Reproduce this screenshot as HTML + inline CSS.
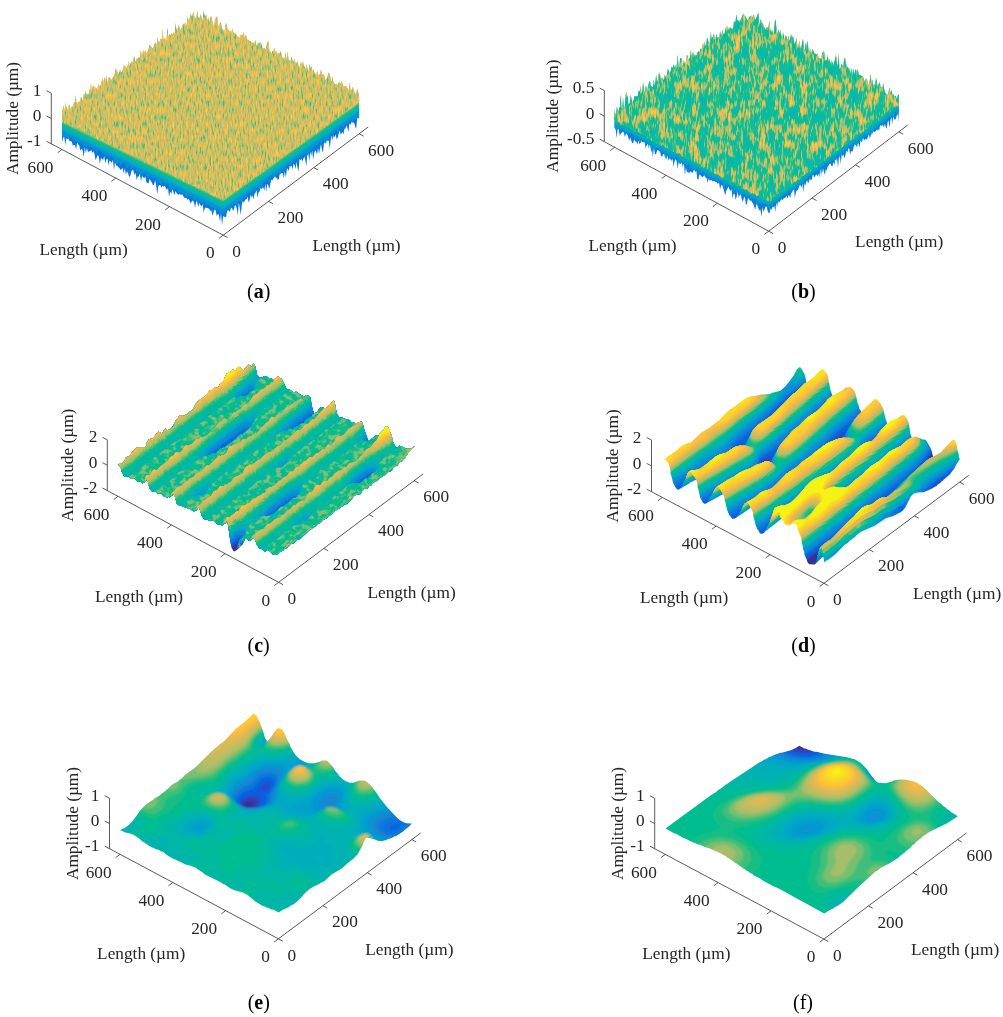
<!DOCTYPE html>
<html><head><meta charset="utf-8"><title>Surface topographies</title>
<style>html,body{margin:0;padding:0;background:#fff;overflow:hidden}svg{display:block}text{font-family:"Liberation Serif",serif}</style>
</head><body>
<svg width="1003" height="1017" viewBox="0 0 1003 1017">
<rect width="1003" height="1017" fill="#fff"/>
<g id="pa">
<path d="M368.2 127.0L223.2 235.2L51.3 143.8L51.3 93.2M223.2 235.2L218.9 238.4M223.2 235.2L227.6 237.5M169.5 206.6L165.2 209.9M268.5 201.4L272.9 203.7M115.8 178.1L111.4 181.3M313.8 167.6L318.2 169.9M62.0 149.5L57.7 152.7M359.1 133.8L363.6 136.1M51.3 93.2L46.5 90.7M51.3 118.5L46.5 116.0M51.3 143.8L46.5 141.3" fill="none" stroke="#262626" stroke-width=".75"/>
<g font-size="17.3" fill="#262626"><text x="214.7" y="258.4" text-anchor="end">0</text><text x="232.2" y="256.9">0</text><text x="161.0" y="229.8" text-anchor="end">200</text><text x="277.5" y="223.1">200</text><text x="107.3" y="201.3" text-anchor="end">400</text><text x="322.8" y="189.3">400</text><text x="53.5" y="172.7" text-anchor="end">600</text><text x="368.1" y="155.5">600</text><text x="41.3" y="95.8" text-anchor="end">1</text><text x="41.3" y="121.1" text-anchor="end">0</text><text x="41.3" y="146.4" text-anchor="end">-1</text><text x="83.6" y="254.9" text-anchor="middle">Length (µm)</text><text x="356.5" y="251.2" text-anchor="middle">Length (µm)</text><text transform="translate(18.4 118.5) rotate(-90)" text-anchor="middle">Amplitude (µm)</text></g>
<text x="258.7" y="297.7" text-anchor="middle" font-size="20" fill="#000">(<tspan font-weight="bold">a</tspan>)</text>
<filter id="fa" x="0" y="0" width="1" height="1" color-interpolation-filters="sRGB"><feTurbulence type="fractalNoise" baseFrequency=".6 .14" numOctaves="2" seed="7"/><feColorMatrix values="1.8 0 0 0 -0.4 1.8 0 0 0 -0.4 1.8 0 0 0 -0.4 0 0 0 0 1"/><feComponentTransfer><feFuncR type="table" tableValues=".23 .38 .54 .66 .74 .81 .88 .95 .98 1 .99"/><feFuncG type="table" tableValues=".76 .76 .76 .76 .75 .75 .74 .74 .75 .78 .81"/><feFuncB type="table" tableValues=".51 .49 .47 .44 .42 .39 .36 .32 .29 .26 .23"/></feComponentTransfer></filter><polygon fill="#0f77db" points="62,129.8 63.1,130.3 64.2,130.8 65.3,131.4 66.4,131.9 67.5,132.4 68.5,132.9 69.6,133.5 70.7,134 71.8,134.5 72.9,135.1 73.9,135.6 75,136.1 76.1,136.6 77.2,137.2 78.3,137.7 79.3,138.2 80.4,138.7 81.5,139.3 82.6,139.8 83.7,140.3 84.8,140.9 85.8,141.4 86.9,141.9 88,142.4 89.1,143 90.2,143.5 91.2,144 92.3,144.5 93.4,145.1 94.5,145.6 95.6,146.1 96.7,146.7 97.7,147.2 98.8,147.7 99.9,148.2 101,148.8 102.1,149.3 103.1,149.8 104.2,150.4 105.3,150.9 106.4,151.4 107.5,151.9 108.6,152.5 109.6,153 110.7,153.5 111.8,154 112.9,154.6 114,155.1 115,155.6 116.1,156.2 117.2,156.7 118.3,157.2 119.4,157.7 120.4,158.3 121.5,158.8 122.6,159.3 123.7,159.8 124.8,160.4 125.9,160.9 126.9,161.4 128,162 129.1,162.5 130.2,163 131.3,163.5 132.3,164.1 133.4,164.6 134.5,165.1 135.6,165.7 136.7,166.2 137.8,166.7 138.8,167.2 139.9,167.8 141,168.3 142.1,168.8 143.2,169.3 144.2,169.9 145.3,170.4 146.4,170.9 147.5,171.5 148.6,172 149.7,172.5 150.7,173 151.8,173.6 152.9,174.1 154,174.6 155.1,175.1 156.1,175.7 157.2,176.2 158.3,176.7 159.4,177.3 160.5,177.8 161.5,178.3 162.6,178.8 163.7,179.4 164.8,179.9 165.9,180.4 167,180.9 168,181.5 169.1,182 170.2,182.5 171.3,183.1 172.4,183.6 173.4,184.1 174.5,184.6 175.6,185.2 176.7,185.7 177.8,186.2 178.9,186.8 179.9,187.3 181,187.8 182.1,188.3 183.2,188.9 184.3,189.4 185.3,189.9 186.4,190.4 187.5,191 188.6,191.5 189.7,192 190.8,192.6 191.8,193.1 192.9,193.6 194,194.1 195.1,194.7 196.2,195.2 197.2,195.7 198.3,196.2 199.4,196.8 200.5,197.3 201.6,197.8 202.6,198.4 203.7,198.9 204.8,199.4 205.9,199.9 207,200.5 208.1,201 209.1,201.5 210.2,202.1 211.3,202.6 212.4,203.1 213.5,203.6 214.5,204.2 215.6,204.7 216.7,205.2 217.8,205.7 218.9,206.3 220,206.8 221,207.3 222.1,207.9 223.2,208.4 224.2,207.7 225.2,207 226.1,206.3 227.1,205.6 228.1,204.9 229.1,204.2 230,203.5 231,202.8 232,202.1 233,201.4 234,200.7 234.9,200 235.9,199.2 236.9,198.5 237.9,197.8 238.8,197.1 239.8,196.4 240.8,195.7 241.8,195 242.8,194.3 243.7,193.6 244.7,192.9 245.7,192.2 246.7,191.5 247.6,190.8 248.6,190.1 249.6,189.4 250.6,188.7 251.6,188 252.5,187.3 253.5,186.6 254.5,185.9 255.5,185.2 256.5,184.5 257.4,183.8 258.4,183.1 259.4,182.4 260.4,181.7 261.3,181 262.3,180.3 263.3,179.6 264.3,178.9 265.3,178.2 266.2,177.5 267.2,176.8 268.2,176.1 269.2,175.4 270.1,174.7 271.1,174 272.1,173.3 273.1,172.6 274.1,171.9 275,171.2 276,170.4 277,169.7 278,169 278.9,168.3 279.9,167.6 280.9,166.9 281.9,166.2 282.9,165.5 283.8,164.8 284.8,164.1 285.8,163.4 286.8,162.7 287.7,162 288.7,161.3 289.7,160.6 290.7,159.9 291.7,159.2 292.6,158.5 293.6,157.8 294.6,157.1 295.6,156.4 296.5,155.7 297.5,155 298.5,154.3 299.5,153.6 300.5,152.9 301.4,152.2 302.4,151.5 303.4,150.8 304.4,150.1 305.3,149.4 306.3,148.7 307.3,148 308.3,147.3 309.3,146.6 310.2,145.9 311.2,145.2 312.2,144.5 313.2,143.8 314.2,143.1 315.1,142.4 316.1,141.6 317.1,140.9 318.1,140.2 319,139.5 320,138.8 321,138.1 322,137.4 323,136.7 323.9,136 324.9,135.3 325.9,134.6 326.9,133.9 327.8,133.2 328.8,132.5 329.8,131.8 330.8,131.1 331.8,130.4 332.7,129.7 333.7,129 334.7,128.3 335.7,127.6 336.6,126.9 337.6,126.2 338.6,125.5 339.6,124.8 340.6,124.1 341.5,123.4 342.5,122.7 343.5,122 344.5,121.3 345.4,120.6 346.4,119.9 347.4,119.2 348.4,118.5 349.4,117.8 350.3,117.1 351.3,116.4 352.3,115.7 353.3,115 354.2,114.3 355.2,113.5 356.2,112.8 357.2,112.1 358.2,111.4 359.1,110.7 359.1,117.1 358.2,116.6 357.2,118.2 356.2,128.5 355.2,127 354.2,123.1 353.3,122.8 352.3,120.9 351.3,122.7 350.3,125 349.4,123.2 348.4,132 347.4,128.3 346.4,125.3 345.4,128.8 344.5,128.7 343.5,134.4 342.5,131.7 341.5,133.3 340.6,134.4 339.6,130.4 338.6,134 337.6,137.7 336.6,139.4 335.7,134.3 334.7,137.4 333.7,135.1 332.7,140.8 331.8,135.7 330.8,139 329.8,149.2 328.8,140.6 327.8,141.2 326.9,139.7 325.9,143.8 324.9,141.6 323.9,143.7 323,152.5 322,150.3 321,144 320,148.8 319,154 318.1,148 317.1,154.6 316.1,151.7 315.1,150.3 314.2,153 313.2,160 312.2,150.4 311.2,156.1 310.2,151.5 309.3,161.4 308.3,153.7 307.3,154.2 306.3,166.5 305.3,160.3 304.4,156.4 303.4,158.8 302.4,161.5 301.4,158.6 300.5,160.5 299.5,158.7 298.5,171.6 297.5,167.9 296.5,161.5 295.6,168.9 294.6,165.1 293.6,163.6 292.6,169.8 291.7,165.4 290.7,166.8 289.7,165.8 288.7,171.3 287.7,168.2 286.8,169.4 285.8,177.6 284.8,171.3 283.8,178.6 282.9,173.3 281.9,173.1 280.9,173.8 279.9,173.2 278.9,178.6 278,180.3 277,178.3 276,177.7 275,176.3 274.1,177.6 273.1,179.1 272.1,180.7 271.1,179.5 270.1,185.2 269.2,189.5 268.2,184.7 267.2,183.9 266.2,191.8 265.3,183.8 264.3,191 263.3,187.3 262.3,187.9 261.3,189 260.4,188 259.4,192.1 258.4,192.5 257.4,198.1 256.5,190.1 255.5,192.6 254.5,194.1 253.5,199.5 252.5,195.2 251.6,197.8 250.6,194.4 249.6,200.1 248.6,202.6 247.6,196.5 246.7,199 245.7,199.2 244.7,200.9 243.7,202.6 242.8,201.1 241.8,205 240.8,215 239.8,208.3 238.8,202.5 237.9,215.1 236.9,209.5 235.9,205.5 234.9,205.3 234,209.3 233,211 232,207.8 231,208 230,211.8 229.1,211.2 228.1,209.9 227.1,210.9 226.1,216.9 225.2,216.9 224.2,216.7 223.2,215.7 222.1,225.3 221,213.1 220,222.1 218.9,214.7 217.8,214.1 216.7,215.9 215.6,210.3 214.5,209.6 213.5,212.8 212.4,215.8 211.3,210 210.2,211 209.1,208.7 208.1,208.2 207,208.1 205.9,207.4 204.8,208.2 203.7,212.6 202.6,204.2 201.6,206.2 200.5,205.3 199.4,203.1 198.3,207.1 197.2,202.1 196.2,201.3 195.1,207.7 194,202.6 192.9,200.6 191.8,201.2 190.8,203.7 189.7,200.9 188.6,198.8 187.5,199.9 186.4,197.7 185.3,198.1 184.3,197.8 183.2,195.8 182.1,194.3 181,195.2 179.9,193.8 178.9,194.8 177.8,194.6 176.7,193.2 175.6,190.9 174.5,195.3 173.4,191.7 172.4,189 171.3,194 170.2,191.6 169.1,196.9 168,187.9 167,189.9 165.9,188.6 164.8,185.5 163.7,187 162.6,185.6 161.5,187.7 160.5,185.2 159.4,185 158.3,186.2 157.2,194.5 156.1,184.8 155.1,180.3 154,185 152.9,185 151.8,182.4 150.7,180.9 149.7,178.7 148.6,183.3 147.5,182.9 146.4,182.3 145.3,176.6 144.2,177.9 143.2,177.5 142.1,176.1 141,181.4 139.9,173.5 138.8,176.4 137.8,176.4 136.7,180.1 135.6,172.7 134.5,175 133.4,170.4 132.3,169.8 131.3,171.7 130.2,176.2 129.1,177.1 128,173.1 126.9,171.3 125.9,174.7 124.8,168.2 123.7,173.4 122.6,168.2 121.5,168.9 120.4,170.1 119.4,167.9 118.3,167.3 117.2,165.6 116.1,165.8 115,161.9 114,170.4 112.9,159.8 111.8,163.1 110.7,161.3 109.6,160.8 108.6,165.5 107.5,158.6 106.4,159.4 105.3,163.3 104.2,156 103.1,160 102.1,159 101,158 99.9,164.3 98.8,156.4 97.7,155.1 96.7,157.4 95.6,160.2 94.5,154.1 93.4,151.2 92.3,153.1 91.2,149.8 90.2,151.4 89.1,151.3 88,152.2 86.9,148 85.8,153.2 84.8,146.9 83.7,157.8 82.6,149.9 81.5,148.8 80.4,150.8 79.3,145.8 78.3,144.6 77.2,142.5 76.1,149.5 75,145.2 73.9,144.7 72.9,146.1 71.8,141.8 70.7,140.9 69.6,141.4 68.5,138.4 67.5,139.1 66.4,138.2 65.3,144.9 64.2,136.3 63.1,137.4 62,143"/>
<polygon fill="#0693d2" points="62,129.8 63.1,130.3 64.2,130.8 65.3,131.4 66.4,131.9 67.5,132.4 68.5,132.9 69.6,133.5 70.7,134 71.8,134.5 72.9,135.1 73.9,135.6 75,136.1 76.1,136.6 77.2,137.2 78.3,137.7 79.3,138.2 80.4,138.7 81.5,139.3 82.6,139.8 83.7,140.3 84.8,140.9 85.8,141.4 86.9,141.9 88,142.4 89.1,143 90.2,143.5 91.2,144 92.3,144.5 93.4,145.1 94.5,145.6 95.6,146.1 96.7,146.7 97.7,147.2 98.8,147.7 99.9,148.2 101,148.8 102.1,149.3 103.1,149.8 104.2,150.4 105.3,150.9 106.4,151.4 107.5,151.9 108.6,152.5 109.6,153 110.7,153.5 111.8,154 112.9,154.6 114,155.1 115,155.6 116.1,156.2 117.2,156.7 118.3,157.2 119.4,157.7 120.4,158.3 121.5,158.8 122.6,159.3 123.7,159.8 124.8,160.4 125.9,160.9 126.9,161.4 128,162 129.1,162.5 130.2,163 131.3,163.5 132.3,164.1 133.4,164.6 134.5,165.1 135.6,165.7 136.7,166.2 137.8,166.7 138.8,167.2 139.9,167.8 141,168.3 142.1,168.8 143.2,169.3 144.2,169.9 145.3,170.4 146.4,170.9 147.5,171.5 148.6,172 149.7,172.5 150.7,173 151.8,173.6 152.9,174.1 154,174.6 155.1,175.1 156.1,175.7 157.2,176.2 158.3,176.7 159.4,177.3 160.5,177.8 161.5,178.3 162.6,178.8 163.7,179.4 164.8,179.9 165.9,180.4 167,180.9 168,181.5 169.1,182 170.2,182.5 171.3,183.1 172.4,183.6 173.4,184.1 174.5,184.6 175.6,185.2 176.7,185.7 177.8,186.2 178.9,186.8 179.9,187.3 181,187.8 182.1,188.3 183.2,188.9 184.3,189.4 185.3,189.9 186.4,190.4 187.5,191 188.6,191.5 189.7,192 190.8,192.6 191.8,193.1 192.9,193.6 194,194.1 195.1,194.7 196.2,195.2 197.2,195.7 198.3,196.2 199.4,196.8 200.5,197.3 201.6,197.8 202.6,198.4 203.7,198.9 204.8,199.4 205.9,199.9 207,200.5 208.1,201 209.1,201.5 210.2,202.1 211.3,202.6 212.4,203.1 213.5,203.6 214.5,204.2 215.6,204.7 216.7,205.2 217.8,205.7 218.9,206.3 220,206.8 221,207.3 222.1,207.9 223.2,208.4 224.2,207.7 225.2,207 226.1,206.3 227.1,205.6 228.1,204.9 229.1,204.2 230,203.5 231,202.8 232,202.1 233,201.4 234,200.7 234.9,200 235.9,199.2 236.9,198.5 237.9,197.8 238.8,197.1 239.8,196.4 240.8,195.7 241.8,195 242.8,194.3 243.7,193.6 244.7,192.9 245.7,192.2 246.7,191.5 247.6,190.8 248.6,190.1 249.6,189.4 250.6,188.7 251.6,188 252.5,187.3 253.5,186.6 254.5,185.9 255.5,185.2 256.5,184.5 257.4,183.8 258.4,183.1 259.4,182.4 260.4,181.7 261.3,181 262.3,180.3 263.3,179.6 264.3,178.9 265.3,178.2 266.2,177.5 267.2,176.8 268.2,176.1 269.2,175.4 270.1,174.7 271.1,174 272.1,173.3 273.1,172.6 274.1,171.9 275,171.2 276,170.4 277,169.7 278,169 278.9,168.3 279.9,167.6 280.9,166.9 281.9,166.2 282.9,165.5 283.8,164.8 284.8,164.1 285.8,163.4 286.8,162.7 287.7,162 288.7,161.3 289.7,160.6 290.7,159.9 291.7,159.2 292.6,158.5 293.6,157.8 294.6,157.1 295.6,156.4 296.5,155.7 297.5,155 298.5,154.3 299.5,153.6 300.5,152.9 301.4,152.2 302.4,151.5 303.4,150.8 304.4,150.1 305.3,149.4 306.3,148.7 307.3,148 308.3,147.3 309.3,146.6 310.2,145.9 311.2,145.2 312.2,144.5 313.2,143.8 314.2,143.1 315.1,142.4 316.1,141.6 317.1,140.9 318.1,140.2 319,139.5 320,138.8 321,138.1 322,137.4 323,136.7 323.9,136 324.9,135.3 325.9,134.6 326.9,133.9 327.8,133.2 328.8,132.5 329.8,131.8 330.8,131.1 331.8,130.4 332.7,129.7 333.7,129 334.7,128.3 335.7,127.6 336.6,126.9 337.6,126.2 338.6,125.5 339.6,124.8 340.6,124.1 341.5,123.4 342.5,122.7 343.5,122 344.5,121.3 345.4,120.6 346.4,119.9 347.4,119.2 348.4,118.5 349.4,117.8 350.3,117.1 351.3,116.4 352.3,115.7 353.3,115 354.2,114.3 355.2,113.5 356.2,112.8 357.2,112.1 358.2,111.4 359.1,110.7 359.1,118.5 358.2,118.2 357.2,117.9 356.2,116.9 355.2,120 354.2,119.9 353.3,120 352.3,123.7 351.3,119.7 350.3,120 349.4,120.3 348.4,122.3 347.4,124.9 346.4,122.9 345.4,123.8 344.5,125.1 343.5,127.2 342.5,128.4 341.5,126.3 340.6,127.2 339.6,128.2 338.6,131.5 337.6,132.4 336.6,129.7 335.7,130.3 334.7,132.2 333.7,132.6 332.7,133.5 331.8,133.5 330.8,137.2 329.8,134.9 328.8,139.8 327.8,140.2 326.9,141.1 325.9,137.8 324.9,144.1 323.9,141.3 323,139.3 322,141.2 321,144.5 320,142.2 319,142.1 318.1,144.4 317.1,145.8 316.1,145.1 315.1,146.3 314.2,147.5 313.2,147.6 312.2,151.1 311.2,148.4 310.2,151.4 309.3,152.3 308.3,153.3 307.3,155.8 306.3,153.4 305.3,157.6 304.4,152.7 303.4,154.3 302.4,155.4 301.4,157.6 300.5,156.1 299.5,157.9 298.5,158.1 297.5,160.7 296.5,158.3 295.6,159.3 294.6,159.7 293.6,161.9 292.6,161.1 291.7,165.2 290.7,165.8 289.7,164.3 288.7,165.6 287.7,165.1 286.8,165.6 285.8,167.5 284.8,169.7 283.8,171.4 282.9,170.4 281.9,169.4 280.9,173.1 279.9,175.1 278.9,172.4 278,174.1 277,172.5 276,174.9 275,176.7 274.1,176.9 273.1,177.3 272.1,176.3 271.1,176.9 270.1,178.3 269.2,180.3 268.2,180.8 267.2,181.3 266.2,180.1 265.3,181.5 264.3,183.1 263.3,182.2 262.3,188.4 261.3,185.7 260.4,187.7 259.4,189.7 258.4,189.5 257.4,188.1 256.5,187.9 255.5,192.7 254.5,190.8 253.5,190.3 252.5,195.4 251.6,190.7 250.6,194.9 249.6,192.1 248.6,193.2 247.6,194.5 246.7,194.6 245.7,197.8 244.7,195.7 243.7,198.6 242.8,197.8 241.8,202.6 240.8,202.3 239.8,200.5 238.8,201.6 237.9,201.5 236.9,206.7 235.9,203.5 234.9,203.9 234,203.7 233,204.8 232,205.4 231,206 230,209.3 229.1,209.8 228.1,209.3 227.1,208.1 226.1,210.6 225.2,210 224.2,213.7 223.2,214.3 222.1,211.7 221,212.5 220,213.2 218.9,209.4 217.8,208.5 216.7,209.7 215.6,210.5 214.5,208.5 213.5,208 212.4,206.6 211.3,208.4 210.2,206 209.1,206 208.1,204.1 207,204.9 205.9,204.8 204.8,204.3 203.7,201.7 202.6,204.3 201.6,202.4 200.5,201.7 199.4,201.4 198.3,199.4 197.2,202.4 196.2,199.5 195.1,199.3 194,200.8 192.9,197.6 191.8,198.1 190.8,196.9 189.7,194.9 188.6,194.7 187.5,198.5 186.4,195.4 185.3,198.5 184.3,193.5 183.2,193.8 182.1,192.3 181,192.8 179.9,193 178.9,191.1 177.8,190.9 176.7,189 175.6,188.3 174.5,190.3 173.4,188.3 172.4,188.1 171.3,189.5 170.2,189.5 169.1,186.1 168,184.4 167,183.6 165.9,185.3 164.8,183.4 163.7,182.7 162.6,181.6 161.5,184.3 160.5,183.3 159.4,183.1 158.3,182.3 157.2,179.2 156.1,180.1 155.1,179 154,177.8 152.9,178.7 151.8,176.7 150.7,176.9 149.7,175.4 148.6,177.4 147.5,178.3 146.4,176 145.3,173.8 144.2,172.7 143.2,172.7 142.1,176.1 141,178 139.9,172.1 138.8,172.9 137.8,170.6 136.7,171.2 135.6,168.5 134.5,168.2 133.4,167.7 132.3,168.1 131.3,169.9 130.2,166.8 129.1,166.2 128,168 126.9,168.5 125.9,166.4 124.8,163.3 123.7,163.8 122.6,162.9 121.5,163.7 120.4,165.2 119.4,161.9 118.3,162.8 117.2,164.6 116.1,161.5 115,162.7 114,158.8 112.9,157.9 111.8,157.2 110.7,156.5 109.6,158.3 108.6,157.1 107.5,155.3 106.4,155.6 105.3,155.4 104.2,153 103.1,153.7 102.1,152.5 101,151.6 99.9,151.3 98.8,150.3 97.7,150.3 96.7,154.8 95.6,149.6 94.5,148.7 93.4,149.7 92.3,147.3 91.2,146.9 90.2,146.8 89.1,146.8 88,145.6 86.9,146.2 85.8,148.4 84.8,145.4 83.7,146.8 82.6,143.4 81.5,142.1 80.4,144.4 79.3,142.4 78.3,142.2 77.2,141.5 76.1,141.8 75,140.7 73.9,141.7 72.9,139.6 71.8,138.5 70.7,138.2 69.6,136.6 68.5,137.9 67.5,137.1 66.4,137.2 65.3,135.9 64.2,137.4 63.1,137.3 62,135.4"/>
<polygon fill="#98be6c" points="62,118.1 223.2,196.7 359.1,99.1 359.1,103.7 223.2,201.3 62,122.7"/>
<polygon fill="#30bf7c" points="62,122.2 223.2,200.8 359.1,103.1 359.1,104.9 223.2,202.6 62,124"/>
<polygon fill="#03bd8c" points="62,123.5 223.2,202.1 359.1,104.4 359.1,106.2 223.2,203.8 62,125.2"/>
<polygon fill="#00b99d" points="62,124.7 223.2,203.3 359.1,105.7 359.1,107.5 223.2,205.1 62,126.5"/>
<polygon fill="#00b4ad" points="62,126 223.2,204.6 359.1,106.9 359.1,108.7 223.2,206.4 62,127.8"/>
<polygon fill="#00adbb" points="62,127.2 223.2,205.9 359.1,108.2 359.1,110 223.2,207.6 62,129"/>
<polygon fill="#00a5c9" points="62,128.5 223.2,207.1 359.1,109.5 359.1,111.5 223.2,209.1 62,130.5"/>
<clipPath id="ca"><polygon points="62,112.1 62.8,108.9 63.7,105.3 64.5,112.6 65.3,102.2 66.1,107.5 66.9,105.9 67.7,111.8 68.5,106.7 69.3,104.5 70.1,107.6 70.9,109.4 71.7,106.6 72.5,106.8 73.3,105.5 74.1,102 74.9,102.8 75.7,95 76.5,103.8 77.3,103.5 78.1,101.7 78.9,101.9 79.7,102 80.5,98.6 81.3,96.8 82.2,101.1 83,98.9 83.8,94 84.6,94.9 85.4,91.2 86.2,93.3 87,94.2 87.8,93.7 88.6,94.7 89.4,89.2 90.2,89.9 91,82.9 91.8,93 92.6,87 93.4,85.1 94.2,89.7 95,86 95.8,90.3 96.6,87.8 97.4,90.4 98.2,84 99,85.4 99.8,85.8 100.7,85.8 101.5,82.1 102.3,78.5 103.1,80 103.9,83.3 104.7,76.2 105.5,81.3 106.3,75.2 107.1,80.4 107.9,82 108.7,77.4 109.5,77.2 110.3,78.1 111.1,79.8 111.9,79.4 112.7,78.2 113.5,76 114.3,76.6 115.1,71.1 115.9,68.6 116.7,70.6 117.5,71.9 118.3,74.8 119.2,72.7 120,69.3 120.8,72.1 121.6,71.9 122.4,71.1 123.2,68.5 124,64.9 124.8,66.5 125.6,66.4 126.4,68.6 127.2,65 128,67.2 128.8,60.6 129.6,67 130.4,63.6 131.2,62.6 132,61.2 132.8,63.6 133.6,57.5 134.4,56.6 135.2,60.4 136,62.7 136.8,57.8 137.7,59.3 138.5,57.2 139.3,58.1 140.1,56.5 140.9,49.6 141.7,56 142.5,54.2 143.3,49.7 144.1,52.5 144.9,50.9 145.7,50.6 146.5,55 147.3,50.9 148.1,51.9 148.9,47.7 149.7,44.8 150.5,45.9 151.3,46.9 152.1,48 152.9,47.9 153.7,46.9 154.5,44.5 155.3,42.1 156.2,46.6 157,42.8 157.8,37.2 158.6,43.7 159.4,41.9 160.2,40.1 161,38.3 161.8,40.1 162.6,28.6 163.4,39.5 164.2,40.3 165,37 165.8,41.1 166.6,39.4 167.4,27.3 168.2,36.7 169,35.3 169.8,33.7 170.6,35.8 171.4,32.9 172.2,34.4 173,34 173.9,32 174.7,34.6 175.5,22.6 176.3,29.7 177.1,27.7 177.9,31 178.7,25 179.5,27.3 180.3,30.4 181.1,28.3 181.9,28.1 182.7,24.6 183.5,23.9 184.3,22.7 185.1,27.3 185.9,22.9 186.7,26 187.5,16.2 188.3,22.6 189.1,17.4 189.9,19 190.7,13.3 191.5,16.2 192.4,16 193.2,11.6 194,14.5 194.8,19.9 195.6,17.2 196.4,18.7 197.2,10.2 198,17.6 198.9,17.3 199.9,18.2 200.8,13.8 201.8,19.1 202.7,20.3 203.7,10.6 204.7,15.9 205.6,15.8 206.6,14.7 207.5,21 208.5,17.6 209.4,22.1 210.4,16.9 211.3,15.9 212.3,21.2 213.2,24.2 214.2,25.7 215.1,20.1 216.1,16.9 217.1,16.4 218,24.9 219,27.5 219.9,23.1 220.9,21.8 221.8,28 222.8,29.4 223.7,30.6 224.7,31.1 225.6,24.7 226.6,23 227.5,29.6 228.5,29.9 229.4,31.4 230.4,30.8 231.4,32.5 232.3,28.4 233.3,32.6 234.2,33.2 235.2,33.3 236.1,34.3 237.1,35.6 238,37.5 239,36.4 239.9,38.6 240.9,34.5 241.8,35.5 242.8,34.4 243.8,32.3 244.7,39.1 245.7,34.7 246.6,36.9 247.6,41.1 248.5,39.6 249.5,40.7 250.4,41.3 251.4,41.9 252.3,43.1 253.3,42.4 254.2,44.7 255.2,39.6 256.2,45.2 257.1,44.9 258.1,42.5 259,43.9 260,41.9 260.9,43.1 261.9,46.1 262.8,48.5 263.8,48.2 264.7,48.3 265.7,50 266.6,44.9 267.6,42.2 268.5,40.6 269.5,52.2 270.5,51.4 271.4,53.9 272.4,51 273.3,51.5 274.3,47.5 275.2,52.2 276.2,50.6 277.1,55.4 278.1,52.3 279,53.5 280,53.7 280.9,51 281.9,58 282.9,57.2 283.8,58.9 284.8,57.5 285.7,52 286.7,61 287.6,50.4 288.6,60.6 289.5,60 290.5,62.7 291.4,56.1 292.4,60.2 293.3,62.2 294.3,58.7 295.2,61.8 296.2,64.6 297.2,60.7 298.1,64.6 299.1,67.2 300,66 301,62.3 301.9,64.7 302.9,60.9 303.8,66.3 304.8,66.6 305.7,69.9 306.7,64.3 307.6,69 308.6,72.1 309.6,63.8 310.5,68.6 311.5,66.2 312.4,71.5 313.4,69.2 314.3,72.4 315.3,74.1 316.2,75.1 317.2,70.4 318.1,76.1 319.1,74.3 320,74.1 321,69.3 321.9,75.1 322.9,74.4 323.9,73.9 324.8,78.2 325.8,80.5 326.7,78.5 327.7,75.6 328.6,72.6 329.6,74.2 330.5,77.6 331.5,82.6 332.4,76.4 333.4,82 334.3,83.6 335.3,84.2 336.3,83.6 337.2,85.1 338.2,84.7 339.1,81.6 340.1,85.3 341,81.9 342,81.6 342.9,85.5 343.9,86.2 344.8,86 345.8,85.8 346.7,87 347.7,88.8 348.6,91.1 349.6,82.1 350.6,90.6 351.5,90.3 352.5,86.7 353.4,89 354.4,92.1 355.3,94 356.3,93.5 357.2,88.6 358.2,91.9 359.1,95.4 359.1,102 358.2,103.1 357.2,103.7 356.2,104.7 355.2,105.7 354.2,106.5 353.3,106.4 352.3,108.1 351.3,108.4 350.3,109.4 349.4,109.4 348.4,110.3 347.4,111.2 346.4,111.9 345.4,111 344.5,112.9 343.5,114.1 342.5,113.8 341.5,113.7 340.6,114.4 339.6,116.6 338.6,117.6 337.6,117.7 336.6,117.4 335.7,119.5 334.7,119.6 333.7,119.8 332.7,121.2 331.8,121.4 330.8,122.7 329.8,123.6 328.8,124.3 327.8,125.9 326.9,124.5 325.9,126.1 324.9,127.8 323.9,126.9 323,128.2 322,128.6 321,130.1 320,129.4 319,130.9 318.1,131.2 317.1,133.5 316.1,134.3 315.1,133.2 314.2,134 313.2,134.7 312.2,134.8 311.2,135.5 310.2,137.1 309.3,138.9 308.3,138.5 307.3,138.8 306.3,138.9 305.3,141 304.4,142.5 303.4,142.1 302.4,143.5 301.4,144.6 300.5,143.4 299.5,143.9 298.5,146.9 297.5,147.4 296.5,146 295.6,149 294.6,148.9 293.6,148.9 292.6,150.5 291.7,150.1 290.7,151.8 289.7,151.3 288.7,152.9 287.7,152.5 286.8,154.7 285.8,153.6 284.8,156.4 283.8,155.7 282.9,157.4 281.9,158.1 280.9,157.1 279.9,159 278.9,158.8 278,161 277,161.4 276,161.8 275,162.7 274.1,164.1 273.1,164.5 272.1,165.8 271.1,166.3 270.1,166.3 269.2,166.5 268.2,166.2 267.2,169 266.2,168.1 265.3,168.4 264.3,171.3 263.3,172.2 262.3,171.4 261.3,171.6 260.4,174.4 259.4,174.8 258.4,175.3 257.4,175.9 256.5,176.2 255.5,176.8 254.5,176 253.5,178.5 252.5,179.8 251.6,179.3 250.6,180.9 249.6,179.8 248.6,180.8 247.6,183.4 246.7,183 245.7,182.6 244.7,184.8 243.7,185 242.8,185.3 241.8,186.8 240.8,187.9 239.8,187.4 238.8,189.3 237.9,190.3 236.9,191.2 235.9,189.4 234.9,191.5 234,192.4 233,192.1 232,193.5 231,194.7 230,195.8 229.1,194.5 228.1,196.1 227.1,197 226.1,198.4 225.2,199.2 224.2,199.3 223.2,199.4 222.1,199.2 221,199 220,199.1 218.9,197.5 217.8,196.2 216.7,197.9 215.6,195.1 214.5,196.7 213.5,195.7 212.4,195.6 211.3,194.7 210.2,194.1 209.1,192 208.1,193 207,190.7 205.9,191.2 204.8,190.9 203.7,191.1 202.6,188.6 201.6,189.7 200.5,187.6 199.4,187.4 198.3,188.8 197.2,187.8 196.2,186.9 195.1,185.8 194,186.1 192.9,186.1 191.8,185.5 190.8,183.6 189.7,183.3 188.6,184 187.5,182.9 186.4,183 185.3,180.3 184.3,181.6 183.2,181.5 182.1,179.5 181,178.6 179.9,177.7 178.9,177.2 177.8,178.8 176.7,176.8 175.6,177.8 174.5,175.6 173.4,176.1 172.4,175 171.3,173.4 170.2,173.4 169.1,172.9 168,173.3 167,172 165.9,172.2 164.8,170.1 163.7,171.6 162.6,169.2 161.5,170.6 160.5,169.5 159.4,169.2 158.3,167.3 157.2,166.4 156.1,167.5 155.1,166.1 154,165.5 152.9,165.7 151.8,164 150.7,164.9 149.7,164 148.6,164.2 147.5,162.1 146.4,161.8 145.3,162.5 144.2,162.4 143.2,159.8 142.1,159.5 141,158.7 139.9,158.1 138.8,158.3 137.8,157.1 136.7,156.4 135.6,157.9 134.5,155.9 133.4,154.9 132.3,156.2 131.3,154.9 130.2,154.6 129.1,153 128,153.2 126.9,153.7 125.9,152 124.8,152 123.7,150.7 122.6,151.4 121.5,149.3 120.4,150.6 119.4,149.6 118.3,148.5 117.2,147.3 116.1,146.6 115,147.5 114,147.5 112.9,145 111.8,145.5 110.7,144.2 109.6,144.3 108.6,144.9 107.5,142.6 106.4,143.9 105.3,142.2 104.2,140.6 103.1,141.4 102.1,140.8 101,139.3 99.9,140.4 98.8,138 97.7,139.8 96.7,139 95.6,137.8 94.5,136.1 93.4,135.6 92.3,135.2 91.2,135.3 90.2,133.7 89.1,134.4 88,132.6 86.9,133.2 85.8,131.9 84.8,132.4 83.7,130.8 82.6,130.6 81.5,130.7 80.4,129.6 79.3,130.1 78.3,129.7 77.2,128.3 76.1,127.4 75,127.4 73.9,125.9 72.9,127.3 71.8,127 70.7,124.6 69.6,125.4 68.5,123.8 67.5,123.3 66.4,122.6 65.3,123.2 64.2,123.2 63.1,122.3 62,120.7"/></clipPath>
<polygon fill="#cdb653" points="62,112.1 62.8,108.9 63.7,105.3 64.5,112.6 65.3,102.2 66.1,107.5 66.9,105.9 67.7,111.8 68.5,106.7 69.3,104.5 70.1,107.6 70.9,109.4 71.7,106.6 72.5,106.8 73.3,105.5 74.1,102 74.9,102.8 75.7,95 76.5,103.8 77.3,103.5 78.1,101.7 78.9,101.9 79.7,102 80.5,98.6 81.3,96.8 82.2,101.1 83,98.9 83.8,94 84.6,94.9 85.4,91.2 86.2,93.3 87,94.2 87.8,93.7 88.6,94.7 89.4,89.2 90.2,89.9 91,82.9 91.8,93 92.6,87 93.4,85.1 94.2,89.7 95,86 95.8,90.3 96.6,87.8 97.4,90.4 98.2,84 99,85.4 99.8,85.8 100.7,85.8 101.5,82.1 102.3,78.5 103.1,80 103.9,83.3 104.7,76.2 105.5,81.3 106.3,75.2 107.1,80.4 107.9,82 108.7,77.4 109.5,77.2 110.3,78.1 111.1,79.8 111.9,79.4 112.7,78.2 113.5,76 114.3,76.6 115.1,71.1 115.9,68.6 116.7,70.6 117.5,71.9 118.3,74.8 119.2,72.7 120,69.3 120.8,72.1 121.6,71.9 122.4,71.1 123.2,68.5 124,64.9 124.8,66.5 125.6,66.4 126.4,68.6 127.2,65 128,67.2 128.8,60.6 129.6,67 130.4,63.6 131.2,62.6 132,61.2 132.8,63.6 133.6,57.5 134.4,56.6 135.2,60.4 136,62.7 136.8,57.8 137.7,59.3 138.5,57.2 139.3,58.1 140.1,56.5 140.9,49.6 141.7,56 142.5,54.2 143.3,49.7 144.1,52.5 144.9,50.9 145.7,50.6 146.5,55 147.3,50.9 148.1,51.9 148.9,47.7 149.7,44.8 150.5,45.9 151.3,46.9 152.1,48 152.9,47.9 153.7,46.9 154.5,44.5 155.3,42.1 156.2,46.6 157,42.8 157.8,37.2 158.6,43.7 159.4,41.9 160.2,40.1 161,38.3 161.8,40.1 162.6,28.6 163.4,39.5 164.2,40.3 165,37 165.8,41.1 166.6,39.4 167.4,27.3 168.2,36.7 169,35.3 169.8,33.7 170.6,35.8 171.4,32.9 172.2,34.4 173,34 173.9,32 174.7,34.6 175.5,22.6 176.3,29.7 177.1,27.7 177.9,31 178.7,25 179.5,27.3 180.3,30.4 181.1,28.3 181.9,28.1 182.7,24.6 183.5,23.9 184.3,22.7 185.1,27.3 185.9,22.9 186.7,26 187.5,16.2 188.3,22.6 189.1,17.4 189.9,19 190.7,13.3 191.5,16.2 192.4,16 193.2,11.6 194,14.5 194.8,19.9 195.6,17.2 196.4,18.7 197.2,10.2 198,17.6 198.9,17.3 199.9,18.2 200.8,13.8 201.8,19.1 202.7,20.3 203.7,10.6 204.7,15.9 205.6,15.8 206.6,14.7 207.5,21 208.5,17.6 209.4,22.1 210.4,16.9 211.3,15.9 212.3,21.2 213.2,24.2 214.2,25.7 215.1,20.1 216.1,16.9 217.1,16.4 218,24.9 219,27.5 219.9,23.1 220.9,21.8 221.8,28 222.8,29.4 223.7,30.6 224.7,31.1 225.6,24.7 226.6,23 227.5,29.6 228.5,29.9 229.4,31.4 230.4,30.8 231.4,32.5 232.3,28.4 233.3,32.6 234.2,33.2 235.2,33.3 236.1,34.3 237.1,35.6 238,37.5 239,36.4 239.9,38.6 240.9,34.5 241.8,35.5 242.8,34.4 243.8,32.3 244.7,39.1 245.7,34.7 246.6,36.9 247.6,41.1 248.5,39.6 249.5,40.7 250.4,41.3 251.4,41.9 252.3,43.1 253.3,42.4 254.2,44.7 255.2,39.6 256.2,45.2 257.1,44.9 258.1,42.5 259,43.9 260,41.9 260.9,43.1 261.9,46.1 262.8,48.5 263.8,48.2 264.7,48.3 265.7,50 266.6,44.9 267.6,42.2 268.5,40.6 269.5,52.2 270.5,51.4 271.4,53.9 272.4,51 273.3,51.5 274.3,47.5 275.2,52.2 276.2,50.6 277.1,55.4 278.1,52.3 279,53.5 280,53.7 280.9,51 281.9,58 282.9,57.2 283.8,58.9 284.8,57.5 285.7,52 286.7,61 287.6,50.4 288.6,60.6 289.5,60 290.5,62.7 291.4,56.1 292.4,60.2 293.3,62.2 294.3,58.7 295.2,61.8 296.2,64.6 297.2,60.7 298.1,64.6 299.1,67.2 300,66 301,62.3 301.9,64.7 302.9,60.9 303.8,66.3 304.8,66.6 305.7,69.9 306.7,64.3 307.6,69 308.6,72.1 309.6,63.8 310.5,68.6 311.5,66.2 312.4,71.5 313.4,69.2 314.3,72.4 315.3,74.1 316.2,75.1 317.2,70.4 318.1,76.1 319.1,74.3 320,74.1 321,69.3 321.9,75.1 322.9,74.4 323.9,73.9 324.8,78.2 325.8,80.5 326.7,78.5 327.7,75.6 328.6,72.6 329.6,74.2 330.5,77.6 331.5,82.6 332.4,76.4 333.4,82 334.3,83.6 335.3,84.2 336.3,83.6 337.2,85.1 338.2,84.7 339.1,81.6 340.1,85.3 341,81.9 342,81.6 342.9,85.5 343.9,86.2 344.8,86 345.8,85.8 346.7,87 347.7,88.8 348.6,91.1 349.6,82.1 350.6,90.6 351.5,90.3 352.5,86.7 353.4,89 354.4,92.1 355.3,94 356.3,93.5 357.2,88.6 358.2,91.9 359.1,95.4 359.1,102 358.2,103.1 357.2,103.7 356.2,104.7 355.2,105.7 354.2,106.5 353.3,106.4 352.3,108.1 351.3,108.4 350.3,109.4 349.4,109.4 348.4,110.3 347.4,111.2 346.4,111.9 345.4,111 344.5,112.9 343.5,114.1 342.5,113.8 341.5,113.7 340.6,114.4 339.6,116.6 338.6,117.6 337.6,117.7 336.6,117.4 335.7,119.5 334.7,119.6 333.7,119.8 332.7,121.2 331.8,121.4 330.8,122.7 329.8,123.6 328.8,124.3 327.8,125.9 326.9,124.5 325.9,126.1 324.9,127.8 323.9,126.9 323,128.2 322,128.6 321,130.1 320,129.4 319,130.9 318.1,131.2 317.1,133.5 316.1,134.3 315.1,133.2 314.2,134 313.2,134.7 312.2,134.8 311.2,135.5 310.2,137.1 309.3,138.9 308.3,138.5 307.3,138.8 306.3,138.9 305.3,141 304.4,142.5 303.4,142.1 302.4,143.5 301.4,144.6 300.5,143.4 299.5,143.9 298.5,146.9 297.5,147.4 296.5,146 295.6,149 294.6,148.9 293.6,148.9 292.6,150.5 291.7,150.1 290.7,151.8 289.7,151.3 288.7,152.9 287.7,152.5 286.8,154.7 285.8,153.6 284.8,156.4 283.8,155.7 282.9,157.4 281.9,158.1 280.9,157.1 279.9,159 278.9,158.8 278,161 277,161.4 276,161.8 275,162.7 274.1,164.1 273.1,164.5 272.1,165.8 271.1,166.3 270.1,166.3 269.2,166.5 268.2,166.2 267.2,169 266.2,168.1 265.3,168.4 264.3,171.3 263.3,172.2 262.3,171.4 261.3,171.6 260.4,174.4 259.4,174.8 258.4,175.3 257.4,175.9 256.5,176.2 255.5,176.8 254.5,176 253.5,178.5 252.5,179.8 251.6,179.3 250.6,180.9 249.6,179.8 248.6,180.8 247.6,183.4 246.7,183 245.7,182.6 244.7,184.8 243.7,185 242.8,185.3 241.8,186.8 240.8,187.9 239.8,187.4 238.8,189.3 237.9,190.3 236.9,191.2 235.9,189.4 234.9,191.5 234,192.4 233,192.1 232,193.5 231,194.7 230,195.8 229.1,194.5 228.1,196.1 227.1,197 226.1,198.4 225.2,199.2 224.2,199.3 223.2,199.4 222.1,199.2 221,199 220,199.1 218.9,197.5 217.8,196.2 216.7,197.9 215.6,195.1 214.5,196.7 213.5,195.7 212.4,195.6 211.3,194.7 210.2,194.1 209.1,192 208.1,193 207,190.7 205.9,191.2 204.8,190.9 203.7,191.1 202.6,188.6 201.6,189.7 200.5,187.6 199.4,187.4 198.3,188.8 197.2,187.8 196.2,186.9 195.1,185.8 194,186.1 192.9,186.1 191.8,185.5 190.8,183.6 189.7,183.3 188.6,184 187.5,182.9 186.4,183 185.3,180.3 184.3,181.6 183.2,181.5 182.1,179.5 181,178.6 179.9,177.7 178.9,177.2 177.8,178.8 176.7,176.8 175.6,177.8 174.5,175.6 173.4,176.1 172.4,175 171.3,173.4 170.2,173.4 169.1,172.9 168,173.3 167,172 165.9,172.2 164.8,170.1 163.7,171.6 162.6,169.2 161.5,170.6 160.5,169.5 159.4,169.2 158.3,167.3 157.2,166.4 156.1,167.5 155.1,166.1 154,165.5 152.9,165.7 151.8,164 150.7,164.9 149.7,164 148.6,164.2 147.5,162.1 146.4,161.8 145.3,162.5 144.2,162.4 143.2,159.8 142.1,159.5 141,158.7 139.9,158.1 138.8,158.3 137.8,157.1 136.7,156.4 135.6,157.9 134.5,155.9 133.4,154.9 132.3,156.2 131.3,154.9 130.2,154.6 129.1,153 128,153.2 126.9,153.7 125.9,152 124.8,152 123.7,150.7 122.6,151.4 121.5,149.3 120.4,150.6 119.4,149.6 118.3,148.5 117.2,147.3 116.1,146.6 115,147.5 114,147.5 112.9,145 111.8,145.5 110.7,144.2 109.6,144.3 108.6,144.9 107.5,142.6 106.4,143.9 105.3,142.2 104.2,140.6 103.1,141.4 102.1,140.8 101,139.3 99.9,140.4 98.8,138 97.7,139.8 96.7,139 95.6,137.8 94.5,136.1 93.4,135.6 92.3,135.2 91.2,135.3 90.2,133.7 89.1,134.4 88,132.6 86.9,133.2 85.8,131.9 84.8,132.4 83.7,130.8 82.6,130.6 81.5,130.7 80.4,129.6 79.3,130.1 78.3,129.7 77.2,128.3 76.1,127.4 75,127.4 73.9,125.9 72.9,127.3 71.8,127 70.7,124.6 69.6,125.4 68.5,123.8 67.5,123.3 66.4,122.6 65.3,123.2 64.2,123.2 63.1,122.3 62,120.7"/>
<g clip-path="url(#ca)"><rect x="60" y="8" width="302" height="194" filter="url(#fa)"/></g>
</g>
<g id="pb">
<path d="M907.5 125.2L768.7 231.2L604.3 141.7L604.3 90.6M768.7 231.2L764.4 234.5M768.7 231.2L773.1 233.6M717.3 203.2L713.0 206.5M812.1 198.1L816.5 200.5M666.0 175.3L661.7 178.5M855.5 164.9L859.8 167.3M614.6 147.3L610.3 150.6M898.8 131.8L903.2 134.2M604.3 90.6L599.6 88.0M604.3 116.1L599.6 113.6M604.3 141.7L599.6 139.1" fill="none" stroke="#262626" stroke-width=".75"/>
<g font-size="17.3" fill="#262626"><text x="760.2" y="254.4" text-anchor="end">0</text><text x="777.7" y="252.9">0</text><text x="708.8" y="226.4" text-anchor="end">200</text><text x="821.1" y="219.8">200</text><text x="657.5" y="198.5" text-anchor="end">400</text><text x="864.5" y="186.6">400</text><text x="606.1" y="170.5" text-anchor="end">600</text><text x="907.8" y="153.5">600</text><text x="594.3" y="93.2" text-anchor="end">0.5</text><text x="594.3" y="118.7" text-anchor="end">0</text><text x="594.3" y="144.3" text-anchor="end">-0.5</text><text x="632.5" y="250.9" text-anchor="middle">Length (µm)</text><text x="899.2" y="247.2" text-anchor="middle">Length (µm)</text><text transform="translate(558.1 116.1) rotate(-90)" text-anchor="middle">Amplitude (µm)</text></g>
<text x="803.5" y="297.7" text-anchor="middle" font-size="20" fill="#000">(<tspan font-weight="bold">b</tspan>)</text>
<filter id="fb" x="0" y="0" width="1" height="1" color-interpolation-filters="sRGB"><feTurbulence type="fractalNoise" baseFrequency=".55 .12" numOctaves="2" seed="11"/><feColorMatrix values="1 0 0 0 0 1 0 0 0 0 1 0 0 0 0 0 0 0 0 1" result="a"/><feTurbulence type="fractalNoise" baseFrequency=".12 .065" numOctaves="2" seed="4"/><feColorMatrix values="1 0 0 0 0 1 0 0 0 0 1 0 0 0 0 0 0 0 0 1" result="b"/><feComposite in="a" in2="b" operator="arithmetic" k2=".5" k3=".5"/><feColorMatrix values="2.7 0 0 0 -0.85 2.7 0 0 0 -0.85 2.7 0 0 0 -0.85 0 0 0 0 1"/><feComponentTransfer><feFuncR type="table" tableValues=".04 .04 .04 .04 .04 .17 .49 .71 .81 .92 1"/><feFuncG type="table" tableValues=".7 .72 .73 .74 .75 .76 .76 .75 .74 .74 .78"/><feFuncB type="table" tableValues=".72 .69 .66 .62 .57 .52 .47 .42 .38 .33 .24"/></feComponentTransfer></filter><polygon fill="#127cd8" points="614.6,122.3 615.6,122.8 616.6,123.3 617.7,123.9 618.7,124.4 619.7,125 620.8,125.5 621.8,126.1 622.9,126.6 623.9,127.2 624.9,127.7 626,128.3 627,128.8 628,129.4 629.1,129.9 630.1,130.4 631.1,131 632.2,131.5 633.2,132.1 634.2,132.6 635.3,133.2 636.3,133.7 637.3,134.3 638.4,134.8 639.4,135.4 640.4,135.9 641.5,136.5 642.5,137 643.5,137.5 644.6,138.1 645.6,138.6 646.6,139.2 647.7,139.7 648.7,140.3 649.7,140.8 650.8,141.4 651.8,141.9 652.8,142.5 653.9,143 654.9,143.5 656,144.1 657,144.6 658,145.2 659.1,145.7 660.1,146.3 661.1,146.8 662.2,147.4 663.2,147.9 664.2,148.5 665.3,149 666.3,149.6 667.3,150.1 668.4,150.6 669.4,151.2 670.4,151.7 671.5,152.3 672.5,152.8 673.5,153.4 674.6,153.9 675.6,154.5 676.6,155 677.7,155.6 678.7,156.1 679.7,156.7 680.8,157.2 681.8,157.7 682.8,158.3 683.9,158.8 684.9,159.4 685.9,159.9 687,160.5 688,161 689.1,161.6 690.1,162.1 691.1,162.7 692.2,163.2 693.2,163.7 694.2,164.3 695.3,164.8 696.3,165.4 697.3,165.9 698.4,166.5 699.4,167 700.4,167.6 701.5,168.1 702.5,168.7 703.5,169.2 704.6,169.8 705.6,170.3 706.6,170.8 707.7,171.4 708.7,171.9 709.7,172.5 710.8,173 711.8,173.6 712.8,174.1 713.9,174.7 714.9,175.2 715.9,175.8 717,176.3 718,176.9 719,177.4 720.1,177.9 721.1,178.5 722.2,179 723.2,179.6 724.2,180.1 725.3,180.7 726.3,181.2 727.3,181.8 728.4,182.3 729.4,182.9 730.4,183.4 731.5,184 732.5,184.5 733.5,185 734.6,185.6 735.6,186.1 736.6,186.7 737.7,187.2 738.7,187.8 739.7,188.3 740.8,188.9 741.8,189.4 742.8,190 743.9,190.5 744.9,191 745.9,191.6 747,192.1 748,192.7 749,193.2 750.1,193.8 751.1,194.3 752.1,194.9 753.2,195.4 754.2,196 755.3,196.5 756.3,197.1 757.3,197.6 758.4,198.1 759.4,198.7 760.4,199.2 761.5,199.8 762.5,200.3 763.5,200.9 764.6,201.4 765.6,202 766.6,202.5 767.7,203.1 768.7,203.6 769.6,202.9 770.6,202.2 771.5,201.5 772.4,200.8 773.4,200.1 774.3,199.4 775.3,198.7 776.2,198 777.1,197.3 778.1,196.6 779,195.9 779.9,195.2 780.9,194.6 781.8,193.9 782.7,193.2 783.7,192.5 784.6,191.8 785.6,191.1 786.5,190.4 787.4,189.7 788.4,189 789.3,188.3 790.2,187.6 791.2,186.9 792.1,186.2 793,185.5 794,184.8 794.9,184.1 795.8,183.4 796.8,182.7 797.7,182 798.7,181.3 799.6,180.6 800.5,179.9 801.5,179.2 802.4,178.5 803.3,177.8 804.3,177.1 805.2,176.4 806.1,175.7 807.1,175 808,174.4 809,173.7 809.9,173 810.8,172.3 811.8,171.6 812.7,170.9 813.6,170.2 814.6,169.5 815.5,168.8 816.4,168.1 817.4,167.4 818.3,166.7 819.3,166 820.2,165.3 821.1,164.6 822.1,163.9 823,163.2 823.9,162.5 824.9,161.8 825.8,161.1 826.7,160.4 827.7,159.7 828.6,159 829.5,158.3 830.5,157.6 831.4,156.9 832.4,156.2 833.3,155.5 834.2,154.8 835.2,154.2 836.1,153.5 837,152.8 838,152.1 838.9,151.4 839.8,150.7 840.8,150 841.7,149.3 842.7,148.6 843.6,147.9 844.5,147.2 845.5,146.5 846.4,145.8 847.3,145.1 848.3,144.4 849.2,143.7 850.1,143 851.1,142.3 852,141.6 853,140.9 853.9,140.2 854.8,139.5 855.8,138.8 856.7,138.1 857.6,137.4 858.6,136.7 859.5,136 860.4,135.3 861.4,134.6 862.3,134 863.3,133.3 864.2,132.6 865.1,131.9 866.1,131.2 867,130.5 867.9,129.8 868.9,129.1 869.8,128.4 870.7,127.7 871.7,127 872.6,126.3 873.5,125.6 874.5,124.9 875.4,124.2 876.4,123.5 877.3,122.8 878.2,122.1 879.2,121.4 880.1,120.7 881,120 882,119.3 882.9,118.6 883.8,117.9 884.8,117.2 885.7,116.5 886.7,115.8 887.6,115.1 888.5,114.4 889.5,113.8 890.4,113.1 891.3,112.4 892.3,111.7 893.2,111 894.1,110.3 895.1,109.6 896,108.9 897,108.2 897.9,107.5 898.8,106.8 898.8,122.8 897.9,111.8 897,115.3 896,118.1 895.1,120.1 894.1,119 893.2,115.2 892.3,124.4 891.3,116.7 890.4,120.5 889.5,128.1 888.5,120.4 887.6,121.9 886.7,128.9 885.7,126.8 884.8,123.8 883.8,127.6 882.9,124.7 882,126.1 881,125.4 880.1,125.1 879.2,130.6 878.2,129.3 877.3,129.2 876.4,129.9 875.4,131.7 874.5,132.1 873.5,130.9 872.6,134.1 871.7,131.2 870.7,135.8 869.8,138.7 868.9,133.9 867.9,136.8 867,139.7 866.1,139.1 865.1,138.9 864.2,140.8 863.3,138 862.3,139.8 861.4,141.7 860.4,140.5 859.5,147.9 858.6,143.4 857.6,142.9 856.7,145.5 855.8,143.1 854.8,143.8 853.9,145.9 853,150.5 852,152.1 851.1,150.7 850.1,154.9 849.2,148.3 848.3,148.6 847.3,152.8 846.4,150.5 845.5,154.6 844.5,158.7 843.6,154.3 842.7,156.2 841.7,154.2 840.8,164.4 839.8,155 838.9,157.4 838,168 837,157.8 836.1,161 835.2,158.8 834.2,163.6 833.3,162.3 832.4,166.7 831.4,165.8 830.5,163.6 829.5,163.9 828.6,165.4 827.7,166.4 826.7,170.2 825.8,169.6 824.9,175 823.9,171.8 823,168.2 822.1,173.4 821.1,168.8 820.2,170.2 819.3,177.4 818.3,173.4 817.4,176.4 816.4,174.3 815.5,175.5 814.6,177.5 813.6,175.3 812.7,175.1 811.8,179.5 810.8,180.6 809.9,178.3 809,181.3 808,183.4 807.1,180.2 806.1,182.3 805.2,186 804.3,183 803.3,192.7 802.4,183.4 801.5,187.8 800.5,185 799.6,185.3 798.7,188.1 797.7,190.2 796.8,190.3 795.8,192.7 794.9,198.4 794,189.1 793,190 792.1,192.3 791.2,192.9 790.2,197.9 789.3,195.4 788.4,195.2 787.4,198.6 786.5,195.8 785.6,197.4 784.6,198 783.7,198.3 782.7,199.7 781.8,199.4 780.9,199.5 779.9,201.7 779,202.8 778.1,200.9 777.1,206.9 776.2,202.3 775.3,212.4 774.3,205.8 773.4,207.5 772.4,206.6 771.5,210.2 770.6,208.3 769.6,213 768.7,213.3 767.7,211 766.6,206.8 765.6,206.5 764.6,209.3 763.5,211.8 762.5,207.1 761.5,217 760.4,209.6 759.4,210.2 758.4,208.5 757.3,204.9 756.3,204.2 755.3,209.5 754.2,207.1 753.2,203.5 752.1,202.4 751.1,200.2 750.1,201.1 749,199.1 748,198.1 747,203.5 745.9,205.3 744.9,196.7 743.9,197.8 742.8,201.7 741.8,199.6 740.8,194.6 739.7,195 738.7,198.1 737.7,191.4 736.6,197.1 735.6,199.8 734.6,193.7 733.5,194.1 732.5,198.6 731.5,189.2 730.4,191 729.4,189 728.4,186.6 727.3,189 726.3,190.6 725.3,195.6 724.2,191.4 723.2,188 722.2,185.3 721.1,185.3 720.1,189.6 719,182.2 718,184.3 717,182.5 715.9,182 714.9,181.4 713.9,180.7 712.8,181.6 711.8,180.2 710.8,180.1 709.7,180.8 708.7,178.2 707.7,183 706.6,178 705.6,177.7 704.6,174.8 703.5,176.3 702.5,177.3 701.5,176.6 700.4,175 699.4,174.3 698.4,179.5 697.3,179 696.3,170.5 695.3,171.5 694.2,169.3 693.2,171.6 692.2,173.3 691.1,171.7 690.1,171.4 689.1,173.5 688,171.7 687,172.6 685.9,167.4 684.9,175.7 683.9,163.2 682.8,167.5 681.8,161.9 680.8,163.7 679.7,164.3 678.7,161.2 677.7,168.9 676.6,161 675.6,159.1 674.6,160.8 673.5,167.2 672.5,157.4 671.5,161.3 670.4,158.3 669.4,158.2 668.4,160.4 667.3,155.1 666.3,159.7 665.3,153.5 664.2,154 663.2,154.1 662.2,156.3 661.1,156.5 660.1,151.5 659.1,151.3 658,149.7 657,150.8 656,154.3 654.9,154.3 653.9,147.5 652.8,158 651.8,146.8 650.8,146.5 649.7,145.1 648.7,144.8 647.7,143.8 646.6,146 645.6,146.1 644.6,142.6 643.5,141.6 642.5,142.6 641.5,140.8 640.4,143.1 639.4,143.7 638.4,140.7 637.3,144.7 636.3,141.5 635.3,141.5 634.2,139.5 633.2,142.7 632.2,143.6 631.1,140 630.1,137.5 629.1,141.1 628,136 627,134.4 626,133.2 624.9,136.9 623.9,132.7 622.9,131.5 621.8,132.7 620.8,133.5 619.7,135.9 618.7,129 617.7,129.1 616.6,137.9 615.6,128.3 614.6,128.2"/>
<polygon fill="#019cd0" points="614.6,122.3 615.6,122.8 616.6,123.3 617.7,123.9 618.7,124.4 619.7,125 620.8,125.5 621.8,126.1 622.9,126.6 623.9,127.2 624.9,127.7 626,128.3 627,128.8 628,129.4 629.1,129.9 630.1,130.4 631.1,131 632.2,131.5 633.2,132.1 634.2,132.6 635.3,133.2 636.3,133.7 637.3,134.3 638.4,134.8 639.4,135.4 640.4,135.9 641.5,136.5 642.5,137 643.5,137.5 644.6,138.1 645.6,138.6 646.6,139.2 647.7,139.7 648.7,140.3 649.7,140.8 650.8,141.4 651.8,141.9 652.8,142.5 653.9,143 654.9,143.5 656,144.1 657,144.6 658,145.2 659.1,145.7 660.1,146.3 661.1,146.8 662.2,147.4 663.2,147.9 664.2,148.5 665.3,149 666.3,149.6 667.3,150.1 668.4,150.6 669.4,151.2 670.4,151.7 671.5,152.3 672.5,152.8 673.5,153.4 674.6,153.9 675.6,154.5 676.6,155 677.7,155.6 678.7,156.1 679.7,156.7 680.8,157.2 681.8,157.7 682.8,158.3 683.9,158.8 684.9,159.4 685.9,159.9 687,160.5 688,161 689.1,161.6 690.1,162.1 691.1,162.7 692.2,163.2 693.2,163.7 694.2,164.3 695.3,164.8 696.3,165.4 697.3,165.9 698.4,166.5 699.4,167 700.4,167.6 701.5,168.1 702.5,168.7 703.5,169.2 704.6,169.8 705.6,170.3 706.6,170.8 707.7,171.4 708.7,171.9 709.7,172.5 710.8,173 711.8,173.6 712.8,174.1 713.9,174.7 714.9,175.2 715.9,175.8 717,176.3 718,176.9 719,177.4 720.1,177.9 721.1,178.5 722.2,179 723.2,179.6 724.2,180.1 725.3,180.7 726.3,181.2 727.3,181.8 728.4,182.3 729.4,182.9 730.4,183.4 731.5,184 732.5,184.5 733.5,185 734.6,185.6 735.6,186.1 736.6,186.7 737.7,187.2 738.7,187.8 739.7,188.3 740.8,188.9 741.8,189.4 742.8,190 743.9,190.5 744.9,191 745.9,191.6 747,192.1 748,192.7 749,193.2 750.1,193.8 751.1,194.3 752.1,194.9 753.2,195.4 754.2,196 755.3,196.5 756.3,197.1 757.3,197.6 758.4,198.1 759.4,198.7 760.4,199.2 761.5,199.8 762.5,200.3 763.5,200.9 764.6,201.4 765.6,202 766.6,202.5 767.7,203.1 768.7,203.6 769.6,202.9 770.6,202.2 771.5,201.5 772.4,200.8 773.4,200.1 774.3,199.4 775.3,198.7 776.2,198 777.1,197.3 778.1,196.6 779,195.9 779.9,195.2 780.9,194.6 781.8,193.9 782.7,193.2 783.7,192.5 784.6,191.8 785.6,191.1 786.5,190.4 787.4,189.7 788.4,189 789.3,188.3 790.2,187.6 791.2,186.9 792.1,186.2 793,185.5 794,184.8 794.9,184.1 795.8,183.4 796.8,182.7 797.7,182 798.7,181.3 799.6,180.6 800.5,179.9 801.5,179.2 802.4,178.5 803.3,177.8 804.3,177.1 805.2,176.4 806.1,175.7 807.1,175 808,174.4 809,173.7 809.9,173 810.8,172.3 811.8,171.6 812.7,170.9 813.6,170.2 814.6,169.5 815.5,168.8 816.4,168.1 817.4,167.4 818.3,166.7 819.3,166 820.2,165.3 821.1,164.6 822.1,163.9 823,163.2 823.9,162.5 824.9,161.8 825.8,161.1 826.7,160.4 827.7,159.7 828.6,159 829.5,158.3 830.5,157.6 831.4,156.9 832.4,156.2 833.3,155.5 834.2,154.8 835.2,154.2 836.1,153.5 837,152.8 838,152.1 838.9,151.4 839.8,150.7 840.8,150 841.7,149.3 842.7,148.6 843.6,147.9 844.5,147.2 845.5,146.5 846.4,145.8 847.3,145.1 848.3,144.4 849.2,143.7 850.1,143 851.1,142.3 852,141.6 853,140.9 853.9,140.2 854.8,139.5 855.8,138.8 856.7,138.1 857.6,137.4 858.6,136.7 859.5,136 860.4,135.3 861.4,134.6 862.3,134 863.3,133.3 864.2,132.6 865.1,131.9 866.1,131.2 867,130.5 867.9,129.8 868.9,129.1 869.8,128.4 870.7,127.7 871.7,127 872.6,126.3 873.5,125.6 874.5,124.9 875.4,124.2 876.4,123.5 877.3,122.8 878.2,122.1 879.2,121.4 880.1,120.7 881,120 882,119.3 882.9,118.6 883.8,117.9 884.8,117.2 885.7,116.5 886.7,115.8 887.6,115.1 888.5,114.4 889.5,113.8 890.4,113.1 891.3,112.4 892.3,111.7 893.2,111 894.1,110.3 895.1,109.6 896,108.9 897,108.2 897.9,107.5 898.8,106.8 898.8,109.7 897.9,113.9 897,115.9 896,111.1 895.1,112.1 894.1,115.8 893.2,118.1 892.3,114.2 891.3,118.5 890.4,116.4 889.5,116.5 888.5,118.2 887.6,117.3 886.7,120.5 885.7,119.3 884.8,123.1 883.8,122 882.9,123.9 882,122.9 881,124.2 880.1,124.6 879.2,124 878.2,127.6 877.3,131.3 876.4,125.6 875.4,129 874.5,128 873.5,130.7 872.6,130.9 871.7,135.4 870.7,130.2 869.8,137.1 868.9,133.3 867.9,133.6 867,135.3 866.1,136.3 865.1,137 864.2,134.9 863.3,136.4 862.3,140.5 861.4,142.4 860.4,139.8 859.5,139.2 858.6,139.9 857.6,145 856.7,147.3 855.8,144.9 854.8,145.5 853.9,142.3 853,144.9 852,144.8 851.1,145.9 850.1,145.4 849.2,146.6 848.3,146.6 847.3,149.3 846.4,150 845.5,150.7 844.5,150.1 843.6,152.9 842.7,152.2 841.7,155.7 840.8,152.8 839.8,158.4 838.9,153.8 838,157.9 837,155.1 836.1,159.6 835.2,159.8 834.2,165.6 833.3,158.1 832.4,161.6 831.4,159.8 830.5,163.1 829.5,161.3 828.6,164.7 827.7,164.2 826.7,163.2 825.8,163.7 824.9,164 823.9,165.9 823,165.4 822.1,166.8 821.1,176.6 820.2,167.8 819.3,172.7 818.3,170.9 817.4,170 816.4,172.6 815.5,172.3 814.6,171.8 813.6,173.3 812.7,173.8 811.8,176.3 810.8,175.7 809.9,176.6 809,176.2 808,178.1 807.1,180.3 806.1,178.9 805.2,180.6 804.3,180.2 803.3,185 802.4,183.1 801.5,183.4 800.5,184.3 799.6,183.4 798.7,186.5 797.7,186 796.8,187.9 795.8,188 794.9,189.3 794,188.4 793,190.8 792.1,188.7 791.2,192.7 790.2,192.5 789.3,190.3 788.4,191.7 787.4,193.3 786.5,192.8 785.6,194.8 784.6,194.7 783.7,196.5 782.7,195.3 781.8,198.2 780.9,197.1 779.9,201.4 779,199.1 778.1,200.7 777.1,202.1 776.2,202 775.3,202.8 774.3,201.8 773.4,202.6 772.4,207.9 771.5,205.6 770.6,204.5 769.6,208 768.7,208.1 767.7,207.8 766.6,206.2 765.6,204 764.6,204 763.5,204.6 762.5,202.8 761.5,204.8 760.4,203 759.4,203.5 758.4,202.9 757.3,205.2 756.3,203.6 755.3,199.6 754.2,198.8 753.2,198.8 752.1,197.7 751.1,197.8 750.1,199.4 749,196.4 748,197.5 747,195.6 745.9,197.3 744.9,194.9 743.9,194.3 742.8,194 741.8,195.8 740.8,193.5 739.7,193.9 738.7,190.3 737.7,191.6 736.6,193.7 735.6,189.4 734.6,190 733.5,194 732.5,191.6 731.5,188.8 730.4,186.1 729.4,185 728.4,185.2 727.3,184.6 726.3,188 725.3,182.8 724.2,188.6 723.2,184.3 722.2,183.3 721.1,180.6 720.1,181 719,180.5 718,179.4 717,181.5 715.9,182.2 714.9,178.3 713.9,178.4 712.8,179.8 711.8,176.9 710.8,176.2 709.7,177.6 708.7,177 707.7,176 706.6,173.4 705.6,175.9 704.6,176.6 703.5,171.3 702.5,173.6 701.5,172.9 700.4,169.8 699.4,175.8 698.4,170.2 697.3,169.7 696.3,167.9 695.3,172.8 694.2,168.7 693.2,169 692.2,170.1 691.1,166.9 690.1,168.7 689.1,164.5 688,164 687,166.2 685.9,164.8 684.9,164.8 683.9,163.7 682.8,161.5 681.8,161.8 680.8,163.6 679.7,162.3 678.7,163.2 677.7,158.4 676.6,157.4 675.6,157.2 674.6,162.6 673.5,155.5 672.5,160.7 671.5,155.8 670.4,159.9 669.4,156.7 668.4,154.8 667.3,154.3 666.3,153.8 665.3,159.8 664.2,154.2 663.2,152.4 662.2,151.2 661.1,151.7 660.1,149.4 659.1,150.1 658,147.5 657,148.3 656,147.6 654.9,150.1 653.9,149.1 652.8,146.2 651.8,152.4 650.8,149.6 649.7,144.3 648.7,148.7 647.7,142.5 646.6,142.1 645.6,148.9 644.6,140.6 643.5,142.8 642.5,140.4 641.5,139.3 640.4,140.4 639.4,144.4 638.4,137.9 637.3,136.6 636.3,138.3 635.3,138.9 634.2,135.7 633.2,134.8 632.2,135.1 631.1,133.2 630.1,132.9 629.1,133.8 628,132.3 627,133.8 626,131.8 624.9,135.9 623.9,130.9 622.9,130.3 621.8,128.7 620.8,128.4 619.7,130.3 618.7,129.7 617.7,128 616.6,129.2 615.6,129.8 614.6,127.3"/>
<polygon fill="#00b8a1" points="614.6,114.1 768.7,195.4 898.8,98.6 898.8,106.8 768.7,203.6 614.6,122.3"/>
<polygon fill="#00adbb" points="614.6,121.2 768.7,202.6 898.8,105.8 898.8,108.3 768.7,205.1 614.6,123.8"/>
<clipPath id="cb"><polygon points="614.6,109.4 615.3,113.6 616.1,115.2 616.9,106.2 617.7,110.8 618.4,111.3 619.2,108.6 620,106.6 620.7,94.1 621.5,108.6 622.3,108.5 623,97 623.8,109.6 624.6,107.7 625.4,98.4 626.1,90.7 626.9,98.2 627.7,94.5 628.4,104.7 629.2,103.7 630,102.5 630.7,94.3 631.5,98.9 632.3,102.5 633.1,101 633.8,99.7 634.6,96.2 635.4,95.9 636.1,96.7 636.9,96 637.7,96.6 638.4,91.6 639.2,91 640,90.8 640.8,86 641.5,94.2 642.3,90.9 643.1,81.6 643.8,90.3 644.6,93.3 645.4,85.3 646.1,91.3 646.9,85.5 647.7,91.9 648.5,84.5 649.2,82.2 650,80.7 650.8,87.1 651.5,86 652.3,87.5 653.1,86.5 653.8,79.1 654.6,86.7 655.4,81.7 656.2,74.8 656.9,82.8 657.7,80.6 658.5,74.3 659.2,72.6 660,73.7 660.8,81 661.5,78.2 662.3,77.7 663.1,79.9 663.9,78.9 664.6,74.1 665.4,77.4 666.2,74.6 666.9,77 667.7,68.5 668.5,70.1 669.2,75.9 670,70.1 670.8,72.7 671.6,65.8 672.3,68.4 673.1,65.8 673.9,64.4 674.6,67.9 675.4,65 676.2,70.6 676.9,63.8 677.7,54.6 678.5,65 679.3,67.2 680,58.9 680.8,58 681.6,58.6 682.3,65.1 683.1,65.5 683.9,59.7 684.6,64 685.4,63.4 686.2,60.2 687,54.4 687.7,56.8 688.5,60.6 689.3,57.2 690,59.5 690.8,49.5 691.6,56.5 692.3,55 693.1,51 693.9,56.6 694.7,54.4 695.4,54.7 696.2,55.5 697,54.5 697.7,51.9 698.5,51.3 699.3,52.6 700,50.9 700.8,48.3 701.6,49.4 702.4,45.3 703.1,43 703.9,49.1 704.7,41.6 705.4,45.8 706.2,45.7 707,37.2 707.7,39.2 708.5,41.9 709.3,41.9 710.1,44.6 710.8,31.4 711.6,39.6 712.4,37 713.1,36.7 713.9,33.5 714.7,38.1 715.4,40.2 716.2,33.6 717,38.5 717.8,36.7 718.5,37.2 719.3,38.1 720.1,30.4 720.8,35.6 721.6,34 722.4,29.5 723.1,34.1 723.9,33.6 724.7,33.5 725.5,28.2 726.2,26.3 727,31.9 727.8,24.9 728.5,30 729.3,27.3 730.1,28.4 730.8,26.7 731.6,29.2 732.4,28.6 733.2,28.4 733.9,20.4 734.7,22.3 735.5,22.1 736.2,14.6 737,19.2 737.8,21.1 738.5,20.2 739.3,23.2 740.1,18.2 740.9,22.4 741.6,18.1 742.4,14.8 743.2,15.6 743.9,12.9 744.7,18.2 745.6,16.1 746.5,18.7 747.4,20.1 748.3,20 749.3,16.4 750.2,17 751.1,15.2 752,18.7 752.9,16.2 753.8,14.4 754.7,18.8 755.6,19.5 756.6,17 757.5,15.1 758.4,12.7 759.3,26.5 760.2,19.6 761.1,19.9 762,25.5 762.9,22.4 763.9,29.8 764.8,26.8 765.7,30.6 766.6,27.2 767.5,27 768.4,27.4 769.3,20.6 770.2,29 771.1,33.1 772.1,29.4 773,34.5 773.9,31.9 774.8,21.4 775.7,19.3 776.6,31.3 777.5,33.7 778.4,29.3 779.4,33.2 780.3,29.4 781.2,34.8 782.1,39.4 783,31.9 783.9,36.3 784.8,40.7 785.7,35.1 786.7,37.1 787.6,39.5 788.5,35.3 789.4,40.9 790.3,37.8 791.2,34.2 792.1,38.7 793,35.4 793.9,42.8 794.9,43.7 795.8,41 796.7,38.2 797.6,47.2 798.5,45.5 799.4,40.5 800.3,46.9 801.2,48.5 802.2,42.1 803.1,38.8 804,50.6 804.9,49.1 805.8,42.8 806.7,46.7 807.6,40.4 808.5,50 809.5,51.2 810.4,49.3 811.3,54.5 812.2,49 813.1,49.9 814,52.3 814.9,54.1 815.8,53.8 816.7,54.8 817.7,53.3 818.6,58.2 819.5,58 820.4,58.4 821.3,59.2 822.2,51.9 823.1,52.9 824,50.3 825,61.4 825.9,59.5 826.8,60.4 827.7,54.5 828.6,62.4 829.5,58.1 830.4,64.1 831.3,60.4 832.3,61.5 833.2,65.9 834.1,61.8 835,60.6 835.9,54.6 836.8,62.5 837.7,66.8 838.6,51.9 839.5,69.5 840.5,68 841.4,64.6 842.3,64.5 843.2,67.9 844.1,59.3 845,57.8 845.9,61.4 846.8,69.5 847.8,66.2 848.7,69.7 849.6,67.5 850.5,73.3 851.4,68.1 852.3,75.8 853.2,68.4 854.1,74.4 855,71.2 856,69 856.9,74.1 857.8,68.9 858.7,74.8 859.6,74.8 860.5,75.5 861.4,76.1 862.3,75.6 863.3,77.4 864.2,81.3 865.1,79.9 866,79.2 866.9,78.6 867.8,83.4 868.7,84.3 869.6,81.9 870.6,73.3 871.5,82.7 872.4,79.5 873.3,85.8 874.2,83.9 875.1,85.4 876,77.4 876.9,81.6 877.8,88.3 878.8,83.7 879.7,82.1 880.6,87.1 881.5,87.1 882.4,88.1 883.3,82.7 884.2,89.8 885.1,92.2 886.1,93.9 887,94.5 887.9,94.8 888.8,90.3 889.7,87.3 890.6,94 891.5,89.4 892.4,95 893.4,93.8 894.3,97.1 895.2,95.4 896.1,96.7 897,99.9 897.9,94.2 898.8,95.3 898.8,104.5 897.9,106.5 897,106.4 896,105.8 895.1,107.6 894.1,107.2 893.2,107.8 892.3,109.8 891.3,110.6 890.4,111.8 889.5,112.9 888.5,112.8 887.6,111.6 886.7,113.2 885.7,113.5 884.8,115.3 883.8,115.4 882.9,115.8 882,116.2 881,119.1 880.1,119.9 879.2,120.6 878.2,120.8 877.3,119.4 876.4,122.2 875.4,122.9 874.5,121.8 873.5,124.2 872.6,124.5 871.7,124.2 870.7,124.2 869.8,126.1 868.9,125.7 867.9,127.7 867,129.5 866.1,129.2 865.1,128.8 864.2,130.6 863.3,132.5 862.3,131.9 861.4,134.1 860.4,133.1 859.5,134.5 858.6,135.3 857.6,134.4 856.7,136.4 855.8,135.5 854.8,138.1 853.9,139.5 853,138.6 852,140 851.1,140.7 850.1,141.2 849.2,140.8 848.3,141.3 847.3,143.8 846.4,143.3 845.5,144.6 844.5,144.4 843.6,146.1 842.7,147 841.7,147 840.8,149 839.8,147.7 838.9,149.6 838,150.4 837,150.4 836.1,151.5 835.2,152.5 834.2,154.1 833.3,152.8 832.4,155.2 831.4,154.6 830.5,156.4 829.5,155.7 828.6,157.6 827.7,156.1 826.7,159.3 825.8,160.5 824.9,160.8 823.9,160.5 823,161 822.1,161.3 821.1,161.9 820.2,163.4 819.3,164.3 818.3,163.5 817.4,166.8 816.4,167.3 815.5,167.7 814.6,166.7 813.6,167.1 812.7,168.7 811.8,169.5 810.8,170.7 809.9,172.3 809,170.7 808,172.8 807.1,172.9 806.1,173.6 805.2,174 804.3,175.1 803.3,175.8 802.4,175.7 801.5,176.3 800.5,178.5 799.6,180 798.7,179.6 797.7,179.2 796.8,180.1 795.8,182.2 794.9,181.5 794,181.5 793,183 792.1,185.6 791.2,185.9 790.2,186.3 789.3,184.8 788.4,186 787.4,187.1 786.5,188.9 785.6,188.5 784.6,190.6 783.7,191.4 782.7,190.5 781.8,192.7 780.9,191.1 779.9,194.6 779,192.7 778.1,194.3 777.1,195.4 776.2,194.6 775.3,196.5 774.3,196.4 773.4,197 772.4,197.6 771.5,200.8 770.6,201.2 769.6,199.5 768.7,201.6 767.7,200.9 766.6,200.3 765.6,198.9 764.6,198.1 763.5,200 762.5,198.1 761.5,198 760.4,196.8 759.4,198.1 758.4,194.6 757.3,196 756.3,195.8 755.3,193.6 754.2,193.4 753.2,193.7 752.1,192.8 751.1,193.7 750.1,193 749,191.5 748,191.1 747,188.8 745.9,189.9 744.9,189.7 743.9,188.8 742.8,188.8 741.8,188.5 740.8,185.4 739.7,186 738.7,186.2 737.7,185.6 736.6,185.5 735.6,182.6 734.6,184.1 733.5,181.8 732.5,183.1 731.5,181 730.4,182.9 729.4,180.9 728.4,179 727.3,179.2 726.3,179.5 725.3,179.6 724.2,178.3 723.2,179 722.2,176.7 721.1,178 720.1,175.7 719,175.5 718,173.5 717,175.1 715.9,173.8 714.9,174.1 713.9,173.3 712.8,172.3 711.8,170.7 710.8,172.3 709.7,171.5 708.7,169.8 707.7,168.6 706.6,169.5 705.6,168.5 704.6,167.1 703.5,168.2 702.5,166 701.5,167.2 700.4,164 699.4,164.2 698.4,164 697.3,162.5 696.3,164.2 695.3,162.5 694.2,161.6 693.2,161 692.2,161.9 691.1,160.4 690.1,158.8 689.1,160.5 688,158.9 687,158 685.9,159 684.9,157.1 683.9,155.8 682.8,157.2 681.8,155.9 680.8,154.4 679.7,153.6 678.7,152.6 677.7,153.8 676.6,154 675.6,152 674.6,150.5 673.5,151.8 672.5,151.9 671.5,151.5 670.4,150.3 669.4,148.8 668.4,149.8 667.3,147.8 666.3,148 665.3,147.9 664.2,145.5 663.2,145.5 662.2,144.3 661.1,146.1 660.1,143.6 659.1,145.1 658,141.8 657,143.3 656,143.4 654.9,141.6 653.9,140 652.8,141.8 651.8,140.7 650.8,140.3 649.7,138.8 648.7,137.8 647.7,138.8 646.6,137.2 645.6,135.3 644.6,134.8 643.5,135.1 642.5,134.9 641.5,133.1 640.4,133.3 639.4,132.7 638.4,131.8 637.3,131.3 636.3,131.7 635.3,130.7 634.2,132.1 633.2,129.7 632.2,129.3 631.1,129.5 630.1,128.5 629.1,126.6 628,125.9 627,127.8 626,124.9 624.9,124.4 623.9,125.8 622.9,124.2 621.8,125 620.8,124.9 619.7,122.3 618.7,122.6 617.7,120.5 616.6,122.7 615.6,120.9 614.6,121.5"/></clipPath>
<polygon fill="#6bb57a" points="614.6,109.4 615.3,113.6 616.1,115.2 616.9,106.2 617.7,110.8 618.4,111.3 619.2,108.6 620,106.6 620.7,94.1 621.5,108.6 622.3,108.5 623,97 623.8,109.6 624.6,107.7 625.4,98.4 626.1,90.7 626.9,98.2 627.7,94.5 628.4,104.7 629.2,103.7 630,102.5 630.7,94.3 631.5,98.9 632.3,102.5 633.1,101 633.8,99.7 634.6,96.2 635.4,95.9 636.1,96.7 636.9,96 637.7,96.6 638.4,91.6 639.2,91 640,90.8 640.8,86 641.5,94.2 642.3,90.9 643.1,81.6 643.8,90.3 644.6,93.3 645.4,85.3 646.1,91.3 646.9,85.5 647.7,91.9 648.5,84.5 649.2,82.2 650,80.7 650.8,87.1 651.5,86 652.3,87.5 653.1,86.5 653.8,79.1 654.6,86.7 655.4,81.7 656.2,74.8 656.9,82.8 657.7,80.6 658.5,74.3 659.2,72.6 660,73.7 660.8,81 661.5,78.2 662.3,77.7 663.1,79.9 663.9,78.9 664.6,74.1 665.4,77.4 666.2,74.6 666.9,77 667.7,68.5 668.5,70.1 669.2,75.9 670,70.1 670.8,72.7 671.6,65.8 672.3,68.4 673.1,65.8 673.9,64.4 674.6,67.9 675.4,65 676.2,70.6 676.9,63.8 677.7,54.6 678.5,65 679.3,67.2 680,58.9 680.8,58 681.6,58.6 682.3,65.1 683.1,65.5 683.9,59.7 684.6,64 685.4,63.4 686.2,60.2 687,54.4 687.7,56.8 688.5,60.6 689.3,57.2 690,59.5 690.8,49.5 691.6,56.5 692.3,55 693.1,51 693.9,56.6 694.7,54.4 695.4,54.7 696.2,55.5 697,54.5 697.7,51.9 698.5,51.3 699.3,52.6 700,50.9 700.8,48.3 701.6,49.4 702.4,45.3 703.1,43 703.9,49.1 704.7,41.6 705.4,45.8 706.2,45.7 707,37.2 707.7,39.2 708.5,41.9 709.3,41.9 710.1,44.6 710.8,31.4 711.6,39.6 712.4,37 713.1,36.7 713.9,33.5 714.7,38.1 715.4,40.2 716.2,33.6 717,38.5 717.8,36.7 718.5,37.2 719.3,38.1 720.1,30.4 720.8,35.6 721.6,34 722.4,29.5 723.1,34.1 723.9,33.6 724.7,33.5 725.5,28.2 726.2,26.3 727,31.9 727.8,24.9 728.5,30 729.3,27.3 730.1,28.4 730.8,26.7 731.6,29.2 732.4,28.6 733.2,28.4 733.9,20.4 734.7,22.3 735.5,22.1 736.2,14.6 737,19.2 737.8,21.1 738.5,20.2 739.3,23.2 740.1,18.2 740.9,22.4 741.6,18.1 742.4,14.8 743.2,15.6 743.9,12.9 744.7,18.2 745.6,16.1 746.5,18.7 747.4,20.1 748.3,20 749.3,16.4 750.2,17 751.1,15.2 752,18.7 752.9,16.2 753.8,14.4 754.7,18.8 755.6,19.5 756.6,17 757.5,15.1 758.4,12.7 759.3,26.5 760.2,19.6 761.1,19.9 762,25.5 762.9,22.4 763.9,29.8 764.8,26.8 765.7,30.6 766.6,27.2 767.5,27 768.4,27.4 769.3,20.6 770.2,29 771.1,33.1 772.1,29.4 773,34.5 773.9,31.9 774.8,21.4 775.7,19.3 776.6,31.3 777.5,33.7 778.4,29.3 779.4,33.2 780.3,29.4 781.2,34.8 782.1,39.4 783,31.9 783.9,36.3 784.8,40.7 785.7,35.1 786.7,37.1 787.6,39.5 788.5,35.3 789.4,40.9 790.3,37.8 791.2,34.2 792.1,38.7 793,35.4 793.9,42.8 794.9,43.7 795.8,41 796.7,38.2 797.6,47.2 798.5,45.5 799.4,40.5 800.3,46.9 801.2,48.5 802.2,42.1 803.1,38.8 804,50.6 804.9,49.1 805.8,42.8 806.7,46.7 807.6,40.4 808.5,50 809.5,51.2 810.4,49.3 811.3,54.5 812.2,49 813.1,49.9 814,52.3 814.9,54.1 815.8,53.8 816.7,54.8 817.7,53.3 818.6,58.2 819.5,58 820.4,58.4 821.3,59.2 822.2,51.9 823.1,52.9 824,50.3 825,61.4 825.9,59.5 826.8,60.4 827.7,54.5 828.6,62.4 829.5,58.1 830.4,64.1 831.3,60.4 832.3,61.5 833.2,65.9 834.1,61.8 835,60.6 835.9,54.6 836.8,62.5 837.7,66.8 838.6,51.9 839.5,69.5 840.5,68 841.4,64.6 842.3,64.5 843.2,67.9 844.1,59.3 845,57.8 845.9,61.4 846.8,69.5 847.8,66.2 848.7,69.7 849.6,67.5 850.5,73.3 851.4,68.1 852.3,75.8 853.2,68.4 854.1,74.4 855,71.2 856,69 856.9,74.1 857.8,68.9 858.7,74.8 859.6,74.8 860.5,75.5 861.4,76.1 862.3,75.6 863.3,77.4 864.2,81.3 865.1,79.9 866,79.2 866.9,78.6 867.8,83.4 868.7,84.3 869.6,81.9 870.6,73.3 871.5,82.7 872.4,79.5 873.3,85.8 874.2,83.9 875.1,85.4 876,77.4 876.9,81.6 877.8,88.3 878.8,83.7 879.7,82.1 880.6,87.1 881.5,87.1 882.4,88.1 883.3,82.7 884.2,89.8 885.1,92.2 886.1,93.9 887,94.5 887.9,94.8 888.8,90.3 889.7,87.3 890.6,94 891.5,89.4 892.4,95 893.4,93.8 894.3,97.1 895.2,95.4 896.1,96.7 897,99.9 897.9,94.2 898.8,95.3 898.8,104.5 897.9,106.5 897,106.4 896,105.8 895.1,107.6 894.1,107.2 893.2,107.8 892.3,109.8 891.3,110.6 890.4,111.8 889.5,112.9 888.5,112.8 887.6,111.6 886.7,113.2 885.7,113.5 884.8,115.3 883.8,115.4 882.9,115.8 882,116.2 881,119.1 880.1,119.9 879.2,120.6 878.2,120.8 877.3,119.4 876.4,122.2 875.4,122.9 874.5,121.8 873.5,124.2 872.6,124.5 871.7,124.2 870.7,124.2 869.8,126.1 868.9,125.7 867.9,127.7 867,129.5 866.1,129.2 865.1,128.8 864.2,130.6 863.3,132.5 862.3,131.9 861.4,134.1 860.4,133.1 859.5,134.5 858.6,135.3 857.6,134.4 856.7,136.4 855.8,135.5 854.8,138.1 853.9,139.5 853,138.6 852,140 851.1,140.7 850.1,141.2 849.2,140.8 848.3,141.3 847.3,143.8 846.4,143.3 845.5,144.6 844.5,144.4 843.6,146.1 842.7,147 841.7,147 840.8,149 839.8,147.7 838.9,149.6 838,150.4 837,150.4 836.1,151.5 835.2,152.5 834.2,154.1 833.3,152.8 832.4,155.2 831.4,154.6 830.5,156.4 829.5,155.7 828.6,157.6 827.7,156.1 826.7,159.3 825.8,160.5 824.9,160.8 823.9,160.5 823,161 822.1,161.3 821.1,161.9 820.2,163.4 819.3,164.3 818.3,163.5 817.4,166.8 816.4,167.3 815.5,167.7 814.6,166.7 813.6,167.1 812.7,168.7 811.8,169.5 810.8,170.7 809.9,172.3 809,170.7 808,172.8 807.1,172.9 806.1,173.6 805.2,174 804.3,175.1 803.3,175.8 802.4,175.7 801.5,176.3 800.5,178.5 799.6,180 798.7,179.6 797.7,179.2 796.8,180.1 795.8,182.2 794.9,181.5 794,181.5 793,183 792.1,185.6 791.2,185.9 790.2,186.3 789.3,184.8 788.4,186 787.4,187.1 786.5,188.9 785.6,188.5 784.6,190.6 783.7,191.4 782.7,190.5 781.8,192.7 780.9,191.1 779.9,194.6 779,192.7 778.1,194.3 777.1,195.4 776.2,194.6 775.3,196.5 774.3,196.4 773.4,197 772.4,197.6 771.5,200.8 770.6,201.2 769.6,199.5 768.7,201.6 767.7,200.9 766.6,200.3 765.6,198.9 764.6,198.1 763.5,200 762.5,198.1 761.5,198 760.4,196.8 759.4,198.1 758.4,194.6 757.3,196 756.3,195.8 755.3,193.6 754.2,193.4 753.2,193.7 752.1,192.8 751.1,193.7 750.1,193 749,191.5 748,191.1 747,188.8 745.9,189.9 744.9,189.7 743.9,188.8 742.8,188.8 741.8,188.5 740.8,185.4 739.7,186 738.7,186.2 737.7,185.6 736.6,185.5 735.6,182.6 734.6,184.1 733.5,181.8 732.5,183.1 731.5,181 730.4,182.9 729.4,180.9 728.4,179 727.3,179.2 726.3,179.5 725.3,179.6 724.2,178.3 723.2,179 722.2,176.7 721.1,178 720.1,175.7 719,175.5 718,173.5 717,175.1 715.9,173.8 714.9,174.1 713.9,173.3 712.8,172.3 711.8,170.7 710.8,172.3 709.7,171.5 708.7,169.8 707.7,168.6 706.6,169.5 705.6,168.5 704.6,167.1 703.5,168.2 702.5,166 701.5,167.2 700.4,164 699.4,164.2 698.4,164 697.3,162.5 696.3,164.2 695.3,162.5 694.2,161.6 693.2,161 692.2,161.9 691.1,160.4 690.1,158.8 689.1,160.5 688,158.9 687,158 685.9,159 684.9,157.1 683.9,155.8 682.8,157.2 681.8,155.9 680.8,154.4 679.7,153.6 678.7,152.6 677.7,153.8 676.6,154 675.6,152 674.6,150.5 673.5,151.8 672.5,151.9 671.5,151.5 670.4,150.3 669.4,148.8 668.4,149.8 667.3,147.8 666.3,148 665.3,147.9 664.2,145.5 663.2,145.5 662.2,144.3 661.1,146.1 660.1,143.6 659.1,145.1 658,141.8 657,143.3 656,143.4 654.9,141.6 653.9,140 652.8,141.8 651.8,140.7 650.8,140.3 649.7,138.8 648.7,137.8 647.7,138.8 646.6,137.2 645.6,135.3 644.6,134.8 643.5,135.1 642.5,134.9 641.5,133.1 640.4,133.3 639.4,132.7 638.4,131.8 637.3,131.3 636.3,131.7 635.3,130.7 634.2,132.1 633.2,129.7 632.2,129.3 631.1,129.5 630.1,128.5 629.1,126.6 628,125.9 627,127.8 626,124.9 624.9,124.4 623.9,125.8 622.9,124.2 621.8,125 620.8,124.9 619.7,122.3 618.7,122.6 617.7,120.5 616.6,122.7 615.6,120.9 614.6,121.5"/>
<g clip-path="url(#cb)"><rect x="612" y="10" width="289" height="194" filter="url(#fb)"/></g>
</g>
<g id="pc">
<path d="M423.2 473.9L278.6 582.3L107.3 490.6L107.3 439.8M278.6 582.3L274.3 585.5M278.6 582.3L283.0 584.7M225.1 553.6L220.7 556.9M323.8 548.4L328.2 550.8M171.5 525.0L167.2 528.2M369.0 514.5L373.4 516.9M118.0 496.3L113.7 499.6M414.2 480.7L418.6 483.0M107.3 439.8L102.5 437.3M107.3 465.2L102.5 462.7M107.3 490.6L102.5 488.1" fill="none" stroke="#262626" stroke-width=".75"/>
<g font-size="17.3" fill="#262626"><text x="270.1" y="605.5" text-anchor="end">0</text><text x="287.6" y="604.0">0</text><text x="216.6" y="576.8" text-anchor="end">200</text><text x="332.8" y="570.1">200</text><text x="163.0" y="548.2" text-anchor="end">400</text><text x="378.0" y="536.2">400</text><text x="109.5" y="519.5" text-anchor="end">600</text><text x="423.2" y="502.4">600</text><text x="97.3" y="442.4" text-anchor="end">2</text><text x="97.3" y="467.8" text-anchor="end">0</text><text x="97.3" y="493.2" text-anchor="end">-2</text><text x="139.0" y="602.0" text-anchor="middle">Length (µm)</text><text x="411.6" y="598.3" text-anchor="middle">Length (µm)</text><text transform="translate(73.1 465.2) rotate(-90)" text-anchor="middle">Amplitude (µm)</text></g>
<text x="258.6" y="651.5" text-anchor="middle" font-size="20" fill="#000">(<tspan font-weight="bold">c</tspan>)</text>
<g fill-rule="evenodd"><path fill="#363399" d="M253.8 363.2l-.6 .3-1 2.7-1 .6-1-1.3-1.7-.7-3.7 3.4-.3 1.3-1 1-5-4-1.3 1-2 3.7-2-1.4-1 0-2 2.7-2 .3-1.4 1-2 3.4 0 1-2 4-1.3 .3-1.3 1.3-1.4 3-1 1-3.6 0-2.7 2.4-1.7 .6-6 6.7-2 .7-3.6 3-2.7 3-2.3 5-1.7 1.6-3.3 2-1 1.4-2 .6-.7 1-2 0-1-.6-1.7 .3-3 4.3-1.6 1.4-2 5-2 1.3-1.4 2-2.3 .7-2-1.4-1.3 1-1.7 3-1 .7-3.3-1.7-4 5-2 1.7-3 .7-1 1-1.7 3.3-.7 3-.6 .7-8.4 .6-3.3 3-5 6-1 0-1.7 1-1.3 3-2.7 2.4-1.6 .3-2 1.7 2.6 2.6 1.4 5 1.6 3 1.4 1 3.6 0 2 2 3.7-.6 2.7 3 3.3 .3 2 1.7 1.7-.4 1.3-1 1.3-2 .7 .7 2 7.7 2.3 3 3.7 .3 2.3 2.3 2-.6 1.4 .3 2.6 2.7 2.4 1 1.6 0 1-.7 .7 1 4-3.3 1.7 3.3 1.6 6 2.7 2.3 2.3 0 .7 1 1.7 0 1.3 1 3.3 .7 5 2.7 2-.4 2.7-3 .7 0 2.6 8 2.4 3.4 3 .3 1.6 1.3 2.4-.6 2.3 .3 4.3 4 2.7-.3 1.3 1.3 5.7-3.7 3.3 22 1 4.4 2 3.3 1.4-.3 3-2.4 4.3-4.6 3.3-7 2.7 3.3 1.7 0 2.6-2.7 1 .4 1.4 1.3 1.3 4.3 3 5 3.3 .4 1.4 2 1.3 0 2.3-1.4 1.7 1 3.7 4 3.6 0 3.7-3 2.3-1 2-2.3 1.4-.3 5-4.4 2.3-.3 3.7-3.7 2.6-.6 10-9.4 2.7-1.3 5.7-4.7 2-1 2.6-3 3.4-1 2-2.6 3.3-1.7 2.3-3 5-2.7 1.4-1.6 1.6-.4 3.4-2.6 1 0 2.6-1.7 5.4-6.7 2.6-1.6 3.4 0 1.6-3 2.4-2.4 3.3 0 1.3-2.6 2.4-1 2-2.7 2.6-1 7.4-6 2.3-.7 3-3.6 2.3 0 3.4-4.7 3-1 2-3 2.3-1 3-3 5.3-8.3 2-.7 2.7-3.7-3 3-6.3 0-1.7-1.6-2.7-.7-1.3-1-2 2-2.3-1-2.4-4.7-1-5.6-1.6-3.4-.4-3-2.6-3.3-1.7 .3-1.7 3-3.6 3.4-1.4 2.6-2-.6-1.3 .3-6 5.3-1 .4-4.7-12.4-1.3-6.3-.7-.7-3.6 .4-2.7 2-1.3-1.7-2.4 .3-1-.6-.6-1.4-2-1.6-4.7-.4-.7-1-2 0-1.6-.6-2.4-3.4-2-10.6-1-2.4-2 2-1.6 .7-3 4-3 1-1.4-1.3-1.6 0-1.4 1-3 4-2.6 1.3-1.7-4-2-11-1-2-.3 .3-1-1.3-1.4 .7-1.3-.7-2 1.7-1.7-2-1.3-.4-4.3-3-2.7 .4-2-2-4.7-1-5.3-10.7-1 0-2-1.7-1.3 0-1 .7-2.4 3-2.3-2.3-2.7 0-2-1.7-2.6-.3-2.7 1.6-2.3 0-2-2.3-2-9.3z"/>
<path fill="#3046bd" d="M253.8 363.2l-.6 .3-1 2.7-1 .6-1-1.3-1.7-.7-3.7 3.4-.3 1.3-1 1-5-4-1.3 1-2 3.7-2-1.4-1 0-2 2.7-2 .3-1.4 1-2 3.4 0 1-2 4-1.3 .3-1.3 1.3-1.4 3-1 1-3.6 0-2.7 2.4-1.7 .6-6 6.7-2 .7-3.6 3-2.7 3-2.3 5-1.7 1.6-3.3 2-1 1.4-2 .6-.7 1-2 0-1-.6-1.7 .3-3 4.3-1.6 1.4-2 5-2 1.3-1.4 2-2.3 .7-2-1.4-1.3 1-1.7 3-1 .7-3.3-1.7-4 5-2 1.7-3 .7-1 1-1.7 3.3-.7 3-.6 .7-8.4 .6-3.3 3-5 6-1 0-1.7 1-1.3 3-2.7 2.4-1.6 .3-2 1.7 2.6 2.6 1.4 5 1.6 3 1.4 1 3.6 0 2 2 3.7-.6 2.7 3 3.3 .3 2 1.7 1.7-.4 1.3-1 1.3-2 .7 .7 2 7.7 2.3 3 3.7 .3 2.3 2.3 2-.6 1.4 .3 2.6 2.7 2.4 1 1.6 0 1-.7 .7 1 4-3.3 1.7 3.3 1.6 6 2.7 2.3 2.3 0 .7 1 1.7 0 1.3 1 3.3 .7 5 2.7 2-.4 2.7-3 .7 0 2.6 8 2.4 3.4 3 .3 1.6 1.3 2.4-.6 2.3 .3 4.3 4 2.7-.3 1.3 1.3 5.7-3.7 1 4.4 1.3 12.3 2 9 5.4-4.3 .6 1.6-1.3 4-.7 .4 3.7-2 3-3 3.3-7 2.7 3.3 1.7 0 3-2.7 2 1.7 1.3 4.3 3 5 3.3 .4 1.4 2 1.3 0 2.3-1.4 1.7 1 3.7 4 3.6 0 3.7-3 2.3-1 2-2.3 1.4-.3 5-4.4 2.3-.3 3.7-3.7 2.6-.6 10-9.4 2.7-1.3 5.7-4.7 2-1 2.6-3 3.4-1 2-2.6 3.3-1.7 2.3-3 5-2.7 1.4-1.6 1.6-.4 3.4-2.6 1 0 2.6-1.7 5.4-6.7 2.6-1.6 3.4 0 1.6-3 2.4-2.4 3.3 0 1.3-2.6 2.4-1 2-2.7 2.6-1 7.4-6 2.3-.7 3-3.6 2.3 0 3.4-4.7 3-1 2-3 2.3-1 3-3 5.3-8.3 2-.7 2.7-3.7-3 3-6.3 0-1.7-1.6-2.7-.7-1.3-1-2 2-2.3-1-2.4-4.7-1-5.6-1.6-3.4-.4-3-2.6-3.3-1.7 .3-1.7 3-3.6 3.4-1.4 2.6-2-.6-1.3 .3-6 5.3-1 .4-4.7-12.4-1.3-6.3-.7-.7-3.6 .4-2.7 2-1.3-1.7-2.4 .3-1-.6-.6-1.4-2-1.6-4.7-.4-.7-1-2 0-1.6-.6-2.4-3.4-2-10.6-1-2.4-2 2-1.6 .7-3 4-3 1-1.4-1.3-1.6 0-1.4 1-3 4-2.6 1.3-1.7-4-2-11-1-2-.3 .3-1-1.3-1.4 .7-1.3-.7-2 1.7-1.7-2-1.3-.4-4.3-3-2.7 .4-2-2-4.7-1-5.3-10.7-1 0-2-1.7-1.3 0-1 .7-2.4 3-2.3-2.3-2.7 0-2-1.7-2.6-.3-2.7 1.6-2.3 0-2-2.3-2-9.3z"/>
<path fill="#0d5dde" d="M253.8 363.2l-.6 .3-1 2.7-1 .6-1-1.3-1.7-.7-3.7 3.4-.3 1.3-1 1-5-4-1.3 1-2 3.7-2-1.4-1 0-2 2.7-2 .3-1.4 1-2 3.4 0 1-2 4-1.3 .3-1.3 1.3-1.4 3-1 1-3.6 0-2.7 2.4-1.7 .6-6 6.7-2 .7-3.6 3-2.7 3-2.3 5-1.7 1.6-3.3 2-1 1.4-2 .6-.7 1-2 0-1-.6-1.7 .3-3 4.3-1.6 1.4-2 5-2 1.3-1.4 2-2.3 .7-2-1.4-1.3 1-1.7 3-1 .7-3.3-1.7-4 5-2 1.7-3 .7-1 1-1.7 3.3-.7 3-.6 .7-8.4 .6-3.3 3-5 6-1 0-1.7 1-1.3 3-2.7 2.4-1.6 .3-2 1.7 2.6 2.6 1.4 5 1.6 3 1.4 1 3.6 0 2 2 3.7-.6 2.7 3 3.3 .3 2 1.7 1.7-.4 1.3-1 1.3-2 .7 .7 2 7.7 2.3 3 3.7 .3 2.3 2.3 2-.6 1.4 .3 2.6 2.7 2.4 1 1.6 0 1-.7 .7 1 4-3.3 1.7 3.3 1.6 6 2.7 2.3 2.3 0 .7 1 1.7 0 1.3 1 3.3 .7 5 2.7 2-.4 2.7-3 .7 0 2.6 8 2.4 3.4 3 .3 1.6 1.3 2.4-.6 2.3 .3 4.3 4 2.7-.3 1.3 1.3 5.7-3.7 3.7 23.4 .3 .3 2.3-1.7 3-3 .7 1.4 1.3-1.7 .4 .3-2.7 8 1.3-1.6 .4 .6 3.3-3.3 1-.3 3.3-7 2.7 3.3 1.7 0 3-2.7 2 1.7 1.3 4.3 3 5 3.3 .4 1.4 2 1.3 0 2.3-1.4 1.7 1 3.7 4 3.6 0 3.7-3 2.3-1 2-2.3 1.4-.3 5-4.4 2.3-.3 3.7-3.7 2.6-.6 10-9.4 2.7-1.3 5.7-4.7 2-1 2.6-3 3.4-1 2-2.6 3.3-1.7 2.3-3 5-2.7 1.4-1.6 1.6-.4 3.4-2.6 1 0 2.6-1.7 5.4-6.7 2.6-1.6 3.4 0 1.6-3 2.4-2.4 3.3 0 1.3-2.6 2.4-1 2-2.7 2.6-1 7.4-6 2.3-.7 3-3.6 2.3 0 3.4-4.7 3-1 2-3 2.3-1 3-3 5.3-8.3 2-.7 2.7-3.7-3 3-6.3 0-1.7-1.6-2.7-.7-1.3-1-2 2-2.3-1-2.4-4.7-1-5.6-1.6-3.4-.4-3-2.6-3.3-1.7 .3-1.7 3-3.6 3.4-1.4 2.6-2-.6-1.3 .3-6 5.3-1 .4-4.7-12.4-1.3-6.3-.7-.7-3.6 .4-2.7 2-1.3-1.7-2.4 .3-1-.6-.6-1.4-2-1.6-4.7-.4-.7-1-2 0-1.6-.6-2.4-3.4-2-10.6-1-2.4-2 2-1.6 .7-3 4-3 1-1.4-1.3-1.6 0-1.4 1-3 4-2.6 1.3-1.7-4-2-11-1-2-.3 .3-1-1.3-1.4 .7-1.3-.7-2 1.7-1.7-2-1.3-.4-4.3-3-2.7 .4-2-2-4.7-1-5.3-10.7-1 0-2-1.7-1.3 0-1 .7-2.4 3-2.3-2.3-2.7 0-2-1.7-2.6-.3-2.7 1.6-2.3 0-2-2.3-2-9.3z"/>
<path fill="#046de0" d="M285.2 504.8l-1.7 1.7-1-.3 2-1.7zM365.2 478.2l-4.4 4.6-2.3 0 6.3-5zM367.8 476.5l.7 1.3-1.7 .7-.3-.3zM232.8 438.8l.4 2-4.7 3-1.7 2-3.3 2-3 .7-2.3 2-.4-.3 1.4-1.7 11.3-8 1.3-1.7zM304.5 421.2l.3 .6-1.6 2-.7 0-.7-.6zM253.8 363.2l-.6 .3-1 2.7-1 .6-1-1.3-1.7-.7-3.7 3.4-.3 1.3-1 1-5-4-1.3 1-2 3.7-2-1.4-1 0-2 2.7-2 .3-1.4 1-2 3.4 0 1-2 4-1.3 .3-1.3 1.3-1.4 3-1 1-3.6 0-2.7 2.4-1.7 .6-6 6.7-2 .7-3.6 3-2.7 3-2.3 5-1.7 1.6-3.3 2-1 1.4-2 .6-.7 1-2 0-1-.6-1.7 .3-3 4.3-1.6 1.4-2 5-2 1.3-1.4 2-2.3 .7-2-1.4-1.3 1-1.7 3-1 .7-3.3-1.7-4 5-2 1.7-3 .7-1 1-1.7 3.3-.7 3-.6 .7-8.4 .6-3.3 3-5 6-1 0-1.7 1-1.3 3-2.7 2.4-1.6 .3-2 1.7 2.6 2.6 1.4 5 1.6 3 1.4 1 3.6 0 2 2 3.7-.6 2.7 3 3.3 .3 2 1.7 1.7-.4 1.3-1 1.3-2 .7 .7 2 7.7 2.3 3 3.7 .3 2.3 2.3 2-.6 1.4 .3 2.6 2.7 2.4 1 1.6 0 1-.7 .7 1 4-3.3 1.7 3.3 1.6 6 2.7 2.3 2.3 0 .7 1 1.7 0 1.3 1 3.3 .7 5 2.7 2-.4 2.7-3 .7 0 2.6 8 2.4 3.4 3 .3 1.6 1.3 2.4-.6 2.3 .3 4.3 4 2.7-.3 1.3 1.3 5.7-3.7 3.3 21.4 3.4-2 2-2 .6 1.6 2-3 .4 1 .3-.3 1 1-2 2.7-1.7 5.3 3.4-3 1 0 .6-1.3 1.7-.7 1.3-4 1-1.3 2.7 3.3 1.7 0 3-2.7 2 1.7 1.3 4.3 3 5 3.3 .4 1.4 2 1.3 0 2.3-1.4 1.7 1 3.7 4 3.6 0 3.7-3 2.3-1 2-2.3 1.4-.3 5-4.4 2.3-.3 3.7-3.7 2.6-.6 10-9.4 2.7-1.3 5.7-4.7 2-1 2.6-3 3.4-1 2-2.6 3.3-1.7 2.3-3 5-2.7 1.4-1.6 1.6-.4 3.4-2.6 1 0 2.6-1.7 5.4-6.7 2.6-1.6 3.4 0 1.6-3 2.4-2.4 3.3 0 1.3-2.6 2.4-1 2-2.7 2.6-1 7.4-6 2.3-.7 3-3.6 2.3 0 3.4-4.7 3-1 2-3 2.3-1 3-3 5.3-8.3 2-.7 2.7-3.7-3 3-6.3 0-1.7-1.6-2.7-.7-1.3-1-2 2-2.3-1-2.4-4.7-1-5.6-1.6-3.4-.4-3-2.6-3.3-1.7 .3-1.7 3-3.6 3.4-1.4 2.6-2-.6-1.3 .3-6 5.3-1 .4-4.7-12.4-1.3-6.3-.7-.7-3.6 .4-2.7 2-1.3-1.7-2.4 .3-1-.6-.6-1.4-2-1.6-4.7-.4-.7-1-2 0-1.6-.6-2.4-3.4-2-10.6-1-2.4-2 2-1.6 .7-3 4-3 1-1.4-1.3-1.6 0-1.4 1-3 4-2.6 1.3-1.7-4-2-11-1-2-.3 .3-1-1.3-1.4 .7-1.3-.7-2 1.7-1.7-2-1.3-.4-4.3-3-2.7 .4-2-2-4.7-1-5.3-10.7-1 0-2-1.7-1.3 0-1 .7-2.4 3-2.3-2.3-2.7 0-2-1.7-2.6-.3-2.7 1.6-2.3 0-2-2.3-2-9.3z"/>
<path fill="#1078da" d="M290.8 500.2l-3.3 3.6-2 .7-2 2-3 1-7.3 6.7-2.4 .6-1.3 1-.3-.3 0-1.3 8-5.4 8-6.3 1.6-1.7 .4 1 .6 0 .7-1.3 1.7-1.7zM371.2 475.2l-3 3-1.7 .6-1.3-.3-4.4 4.3-2.3 0 2-1.6-.3-2 2.6-1.7 .7-1 .7 2 3.6-4.3 .7 1 .7-1.4 .3 1 1-1.3zM247.2 430.5l-3.4 2.3-1 1.4-3 .6-2.3 2.7-6.3 5-2.7 1.3-1.7 2-3.3 2-3 .7-5 5-4.3 0 10.6-6.7-.6-1.6 9.3-7.4 .7 1.7 5.3-4 3.7-4 .6 1 2-2.3 .4 1 1.3-1.4 .3 .7 1-1 .4 .7 .6-.7zM294.2 427.5l-1.7 2-1-.7 2-1.6zM313.8 413.2l-2.3 3.6-1.3 1-1.4 0-2 1-3.6 5-1.7-.3-4.3 3-2.4 .7-.6-.4 12-9 4-3.6 .6 1.3 2.4-3zM248.5 392.5l.3 1-1 1.3-2.3 1-.3-.3zM253.8 363.2l-.6 .3-1 2.7-1 .6-1-1.3-1.7-.7-3.7 3.4-.3 1.3-1 1-5-4-1.3 1-2 3.7-2-1.4-1 0-2 2.7-2 .3-1.4 1-2 3.4 0 1-2 4-1.3 .3-1.3 1.3-1.4 3-1 1-3.6 0-2.7 2.4-1.7 .6-6 6.7-2 .7-3.6 3-2.7 3-2.3 5-1.7 1.6-3.3 2-1 1.4-2 .6-.7 1-2 0-1-.6-1.7 .3-3 4.3-1.6 1.4-2 5-2 1.3-1.4 2-2.3 .7-2-1.4-1.3 1-1.7 3-1 .7-3.3-1.7-4 5-2 1.7-3 .7-1 1-1.7 3.3-.7 3-.6 .7-8.4 .6-3.3 3-5 6-1 0-1.7 1-1.3 3-2.7 2.4-1.6 .3-2 1.7 2.6 2.6 1.4 5 1.6 3 1.4 1 3.6 0 2 2 3.7-.6 2.7 3 3.3 .3 2 1.7 1.7-.4 1.3-1 1.3-2 .7 .7 2 7.7 2.3 3 3.7 .3 2.3 2.3 2-.6 1.4 .3 2.6 2.7 2.4 1 1.6 0 1-.7 .7 1 4-3.3 1.7 3.3 1.6 6 2.7 2.3 2.3 0 .7 1 1.7 0 1.3 1 3.3 .7 5 2.7 2-.4 2.7-3 .7 0 2.6 8 2.4 3.4 3 .3 1.6 1.3 2.4-.6 2.3 .3 4.3 4 2.7-.3 1.3 1.3 5.7-3.7 3.3 21.4 3.4-2 4-5 .6 1.3 .7-1.7 .3 .7 .7-.7 .7 1.7 .6-1 .7 .7-3.3 3.6-1.7 5 3.7-2.6 1 0 0-.7 1.3-1.3 .3 .3-.3-.3 .7-.4 .6-2.3 1-1.3 2.7 3.3 1.7 0 3-2.7 2 1.7 1.3 4.3 3 5 3.3 .4 1.4 2 1.3 0 2.3-1.4 1.7 1 3.7 4 3.6 0 3.7-3 2.3-1 2-2.3 1.4-.3 5-4.4 2.3-.3 3.7-3.7 2.6-.6 10-9.4 2.7-1.3 5.7-4.7 2-1 2.6-3 3.4-1 2-2.6 3.3-1.7 2.3-3 5-2.7 1.4-1.6 1.6-.4 3.4-2.6 1 0 2.6-1.7 5.4-6.7 2.6-1.6 3.4 0 1.6-3 2.4-2.4 3.3 0 1.3-2.6 2.4-1 2-2.7 2.6-1 7.4-6 2.3-.7 3-3.6 2.3 0 3.4-4.7 3-1 2-3 2.3-1 3-3 5.3-8.3 2-.7 2.7-3.7-3 3-6.3 0-1.7-1.6-2.7-.7-1.3-1-2 2-2.3-1-2.4-4.7-1-5.6-1.6-3.4-.4-3-2.6-3.3-1.7 .3-1.7 3-3.6 3.4-1.4 2.6-2-.6-1.3 .3-6 5.3-1 .4-4.7-12.4-1.3-6.3-.7-.7-3.6 .4-2.7 2-1.3-1.7-2.4 .3-1-.6-.6-1.4-2-1.6-4.7-.4-.7-1-2 0-1.6-.6-2.4-3.4-2-10.6-1-2.4-2 2-1.6 .7-3 4-3 1-1.4-1.3-1.6 0-1.4 1-3 4-2.6 1.3-1.7-4-2-11-1-2-.3 .3-1-1.3-1.4 .7-1.3-.7-2 1.7-1.7-2-1.3-.4-4.3-3-2.7 .4-2-2-4.7-1-5.3-10.7-1 0-2-1.7-1.3 0-1 .7-2.4 3-2.3-2.3-2.7 0-2-1.7-2.6-.3-2.7 1.6-2.3 0-2-2.3-2-9.3z"/>
<path fill="#1484d4" d="M296.5 496.5l-1 1.7-2 0-2 2-.7 0-3.3 3.6-2 .7-2 2-3 1-7.3 6.7-2.4 .6-1.3 1-3 .7-1-.3 .3-1 2-.4 0-2 2-.6 4.4-3.7 .6 0 6.7-5 5-5 .7 1.7 3-3.4 .6 1.4 1.4-2.4 .6 1 .7-1 2.3 0zM373.8 472.8l-1.6 1-4 4.4-1.7 .6-1.3-.3-4.4 4.3-4 .7-1.6-.3 3.6-3.4 4-2.3 4.4-5 .6 1.3 .7-1.3 .7 1 .6-1.3 .7 1 .3-.7 .7 .3 1.3-1zM249.5 427.5l-1.7 2.3-4 3-1 1.4-3 .6-6.3 6-5 3-1.7 2-2 1.4-4.3 1.3-5 5-2-.3-4 2-1-.7 .7-1 2-.3 0-2 2.6-1 9-6.7 1.7-.7 12.3-10 2.7-3 .7 1.4 2.3-3 .7 1.3 1.6-2.3 .4 1 1-1 .6 .6 .7-1zM252.2 390.8l-.4 .7-1.3 .3-3 3.4-3.3 1.6-1.4-.3-.3-1.7 2.7-1 3.6-3.6 .4 1 1-1.4 .3 .7 .7-.7zM253.8 363.2l-.6 .3-1 2.7-1 .6-1-1.3-1.7-.7-3.7 3.4-.3 1.3-1 1-5-4-1.3 1-2 3.7-2-1.4-1 0-2 2.7-2 .3-1.4 1-2 3.4 0 1-2 4-1.3 .3-1.3 1.3-1.4 3-1 1-3.6 0-2.7 2.4-1.7 .6-6 6.7-2 .7-3.6 3-2.7 3-2.3 5-1.7 1.6-3.3 2-1 1.4-2 .6-.7 1-2 0-1-.6-1.7 .3-3 4.3-1.6 1.4-2 5-2 1.3-1.4 2-2.3 .7-2-1.4-1.3 1-1.7 3-1 .7-3.3-1.7-4 5-2 1.7-3 .7-1 1-1.7 3.3-.7 3-.6 .7-8.4 .6-3.3 3-5 6-1 0-1.7 1-1.3 3-2.7 2.4-1.6 .3-2 1.7 2.6 2.6 1.4 5 1.6 3 1.4 1 3.6 0 2 2 3.7-.6 2.7 3 3.3 .3 2 1.7 1.7-.4 1.3-1 1.3-2 .7 .7 2 7.7 2.3 3 3.7 .3 2.3 2.3 2-.6 1.4 .3 2.6 2.7 2.4 1 1.6 0 1-.7 .7 1 4-3.3 1.7 3.3 1.6 6 2.7 2.3 2.3 0 .7 1 1.7 0 1.3 1 3.3 .7 5 2.7 2-.4 2.7-3 .7 0 2.6 8 2.4 3.4 3 .3 1.6 1.3 2.4-.6 2.3 .3 4.3 4 2.7-.3 1.3 1.3 5.7-3.7 3 18.7 4-2.7 2.7-3 .6 1.7 1.4-2.3 .3 1 .3-.7 .7 .7 1.3-1 1.7 2.3-4.3 4.3-1.7 5 3.7-3.6 1.6-.4 .4-1 .6 0 2-3.6 2.7 3.3 1.7 0 3-2.7 2 1.7 1.3 4.3 3 5 3.3 .4 1.4 2 1.3 0 2.3-1.4 1.7 1 3.7 4 3.6 0 3.7-3 2.3-1 2-2.3 1.4-.3 5-4.4 2.3-.3 3.7-3.7 2.6-.6 10-9.4 2.7-1.3 5.7-4.7 2-1 2.6-3 3.4-1 2-2.6 3.3-1.7 2.3-3 5-2.7 1.4-1.6 1.6-.4 3.4-2.6 1 0 2.6-1.7 5.4-6.7 2.6-1.6 3.4 0 1.6-3 2.4-2.4 3.3 0 1.3-2.6 2.4-1 2-2.7 2.6-1 7.4-6 2.3-.7 3-3.6 2.3 0 3.4-4.7 3-1 2-3 2.3-1 3-3 5.3-8.3 2-.7 2.7-3.7-3 3-6.3 0-1.7-1.6-2.7-.7-1.3-1-2 2-2.3-1-2.4-4.7-1-5.6-1.6-3.4-.4-3-2.6-3.3-1.7 .3-1.7 3-3.6 3.4-1.4 2.6-2-.6-1.3 .3-7 6-1.3-.7 .6-.3-4-11.7-1.3-6.3-.7-.7-3.6 .4-2.7 2-1.3-1.7-2.4 .3-1-.6-.6-1.4-2-1.6-4.7-.4-.7-1-2 0-1.6-.6-2.4-3.4-2-10.6-1-2.4-2 2-1.6 .7-3 4-3 1-1.4-1.3-1.6 0-1 .6-3.4 4.4-4 2.3-2 3-4 1.3-3.6 5-1.7-.3-3.7 2.7-3.3 1-2 2.3-1-.7-2.7 .4 0-1.4 4-2 7.4-6 1.6-.6 8.4-7.4 .6 1.7 2.4-3-1.7-5-1.3-8.3-.7-.7-.3 .3-1-1.3-1.4 .7-1.3-.7-2 1.7-1.7-2-1.3-.4-4.3-3-2.7 .4-2-2-4.7-1-5.3-10.7-1 0-2-1.7-1.3 0-1 .7-2.4 3-2.3-2.3-2.7 0-2-1.7-2.6-.3-2.7 1.6-2.3 0-2-2.3-2-9.3z"/>
<path fill="#0891d2" d="M297.8 494.2l-1.6 3.6-2.7 .4-2 2-.7 0-3.3 3.6-2 .7-2 2-3 1-7.3 6.7-2.4 .6-1.3 1-3 .7-2-.7 .7-.3-.7-1 .3-.7 2.7-.6-.7-1.4 .4-.6 1.6-.7 4-3.3 8-5.4 5-4.6 .4 1.3 .6 0 2.7-3.3 .7-.4 .6 1 1.4-2 .6 1 1.4-1.6 .3 1 1-1.4 .3 .7 .4-.3zM374.5 470.5l-.3 1 1 .3-3 2-4 4.4-1.7 .6-1.3-.3-4.4 4.3-4 .7-4.3-.7 0-1.3 1.7-.3 5.3-4.4 2-1 3.3-2.6 2-2.7 .4 1.3 1.3-2 .7 1.4 .6-1.7 .7 1 .3-.7 .4 1 .6-.6 .4 .6 1.3-1.3zM251.2 425.5l-.7 1.7-7.7 7-3 .6-6.3 6-5 3-1.7 2-2 1.4-4.3 1.3-5 5-2-.3-2 .6-3.3 2-1.4-.6 0-1.4 1.7 0 0-2 2.3-.3-.6-1.3 .3-.7 3.7-2 10-7.3 .6 0 2.7-2.7 2-1 1.3-1.7 6.4-4.6 2-2 .3 1 .7 0 2-2.7 .6 1.3 1.4-2.3 .6-.3 .7 1 1-1.7 .7 1 .6-1 1 0 .4 .7 .6-.7zM253.5 389.2l0 1-1.7 1.3-1.3 .3-3 3.4-3.3 1.6-2-.6-2.4 0 2.7-1.4-.7-1.6 4.4-2 2.3-3.4 .7 1.4 1-1.4 .3 .7 1 0 .3-.7zM253.8 363.2l-.6 .3-1 2.7-1 .6-1-1.3-1.7-.7-3.7 3.4-.3 1.3-1 1-5-4-1.3 1-2 3.7-2-1.4-1 0-2 2.7-2 .3-1.4 1-2 3.4 0 1-2 4-1.3 .3-1.3 1.3-1.4 3-1 1-3.6 0-2.7 2.4-1.7 .6-6 6.7-2 .7-3.6 3-2.7 3-2.3 5-1.7 1.6-3.3 2-1 1.4-2 .6-.7 1-2 0-1-.6-1.7 .3-3 4.3-1.6 1.4-2 5-2 1.3-1.4 2-2.3 .7-2-1.4-1.3 1-1.7 3-1 .7-3.3-1.7-4 5-2 1.7-3 .7-1 1-1.7 3.3-.7 3-.6 .7-8.4 .6-3.3 3-5 6-1 0-1.7 1-1.3 3-2.7 2.4-1.6 .3-2 1.7 2.6 2.6 1.4 5 1.6 3 1.4 1 3.6 0 2 2 3.7-.6 2.7 3 3.3 .3 2 1.7 1.7-.4 1.3-1 1.3-2 .7 .7 2 7.7 2.3 3 3.7 .3 2.3 2.3 2-.6 1.4 .3 2.6 2.7 2.4 1 1.6 0 1-.7 .7 1 4-3.3 1.7 3.3 1.6 6 2.7 2.3 2.3 0 .7 1 1.7 0 1.3 1 3.3 .7 5 2.7 2-.4 2.7-3 .7 0 2.6 8 2.4 3.4 3 .3 1.6 1.3 2.4-.6 2.3 .3 4.3 4 2.7-.3 1.3 1.3 5.7-3.7 3 18.7 3.3-2.3-.3-3 2.3-1.7 .7 2 2-3.3 .7 1.3 .3-.7 .3 1 .7-.6 .3 .6 .4-.6 .6 .3 .4-.7 1 1 .6-1 0 1.7 1.4 0-.4 1-2.3 1.7-3.3 3.6-1.4 3.4 1.7-.7 2.7-2.7 2-1 1.6-2.6 2.7 3.3 1.7 0 3-2.7 2 1.7 1.3 4.3 3 5 3.3 .4 1.4 2 1.3 0 2.3-1.4 1.7 1 3.7 4 3.6 0 3.7-3 2.3-1 2-2.3 1.4-.3 5-4.4 2.3-.3 3.7-3.7 2.6-.6 10-9.4 2.7-1.3 5.7-4.7 2-1 2.6-3 3.4-1 2-2.6 3.3-1.7 2.3-3 5-2.7 1.4-1.6 1.6-.4 3.4-2.6 1 0 2.6-1.7 5.4-6.7 2.6-1.6 3.4 0 1.6-3 2.4-2.4 3.3 0 1.3-2.6 2.4-1 2-2.7 2.6-1 7.4-6 2.3-.7 3-3.6 2.3 0 3.4-4.7 3-1 2-3 2.3-1 3-3 5.3-8.3 2-.7 2.7-3.7-3 3-6.3 0-1.7-1.6-2.7-.7-1.3-1-2 2-2.3-1-2.4-4.7-1-5.6-1.6-3.4-.4-3-2.6-3.3-1.7 .3-1.7 3-3.6 3.4-1.4 2.6-2-.6-1.3 .3-7 6-3 0-.3-.7 2.3-2-3.7-10-1.3-6.3-.7-.7-3.6 .4-2.7 2-1.3-1.7-2.4 .3-1-.6-.6-1.4-2-1.6-4.7-.4-.7-1-2 0-1.6-.6-2.4-3.4-2-10.6-1-2.4-2 2-1.6 .7-3 4-3 1-1.4-1.3-1.6 0-1 .6-3.4 4.4-4 2.3-2 3-4 1.3-3.6 5-1.7-.3-3.7 2.7-3.3 1-2 2.3-1-.7-2.3 0-2.4 2.4-1.3 .6-1-.6 1.3-.7-.3-1.3 .7-.7 2.6-.7 0-2.3 5.7-3.3 7-5.7 .7 0 4.6-3.7 2.4-2.6 .6 1.6 1.4-1 1.3-2.3-1-3-1.3-8.3-.7-.7-.3 .3-1-1.3-1.4 .7-1.3-.7-2 1.7-1.7-2-1.3-.4-4.3-3-2.7 .4-2-2-4.7-1-5.3-10.7-1 0-2-1.7-1.3 0-1 .7-2.4 3-2.3-2.3-2.7 0-2-1.7-2.6-.3-2.7 1.6-2.3 0-2-2.3-2-9.3z"/>
<path fill="#009ece" d="M299.5 491.5l-.3 1.7-3 4.6-2.7 .4-2 2-.7 0-3.3 3.6-2 .7-2 2-3 1-7.3 6.7-2.4 .6-1.3 1-3 .7-4-1.3 .3-1 1.4-.4-.7-1 .3-.6 2-.4 2.4-1.3 0-2.7 .6 0 8.4-6.3 2.6-1 4-4.3 .7 2 5-5.4 .7 1.7 2-2.7 .6 1 1-1.6 .7 1 1.3-1.7 .4 .7 2.3-.4zM376.2 469.5l-1 3-1 0-2 1.3-4 4.4-1.7 .6-1.3-.3-4.4 4.3-4 .7-4-.3-1 .6-1.3-.3-.3-1 .3-.3 1 .6-.3-1 1-.3 0-2 .6 0 5.7-4.7 2-.6 5.3-5 .7 1.6 1-2 .7 1.7 .6-2 .7-.7 .3 1 1-1.3 .4 1 .6-.7 .4 .7 .3-.7 .7 .7 .3-.7 1 1.4zM252.5 422.5l0 1-2 3.7-3.7 3.6-3 2-1 1.4-3 .6-2.3 2.7-6.3 5-2.7 1.3-1.7 2-3.3 2-3 .7-5 5-2-.3-6.3 3-3-.4 .3-.6 .7 0 0-1.4 1.3 0-.7-1 .4-.6 2.3-.4 0-2 2.7-.6-.7-1.4 .3-1 3.4-2 1.3-1.6 5-2.7 6-5 2-.7 4-4 3.3-2 2.7-2.6 .7 1.6 2.3-3.3 .7 1.7 2-3 .6 1.6 1.7-2.3 .7 1 1-1.7 .6 .7 .7-1 .7 .7 1.3-.4zM254.2 387.2l-.4 1.3 .7 0 .3 .7-3 2.3-1.3 .3-3 3.4-3.3 1.6-3.4-.6-3 1.6-1.3-1 0-1 .7-.6 5-2.4-.4-2 4-1.6 2.7-3.4 .7 1 .6-1 .7 1 .7-1.6zM253.8 363.2l-.6 .3-1 2.7-1 .6-1-1.3-1.7-.7-3.7 3.4-.3 1.3-1 1-5-4-1.3 1-2 3.7-2-1.4-1 0-2 2.7-2 .3-1.4 1-2 3.4 0 1-2 4-1.3 .3-1.3 1.3-1.4 3-1 1-3.6 0-2.7 2.4-1.7 .6-6 6.7-2 .7-3.6 3-2.7 3-2.3 5-1.7 1.6-3.3 2-1 1.4-2 .6-.7 1-2 0-1-.6-1.7 .3-3 4.3-1.6 1.4-2 5-2 1.3-1.4 2-2.3 .7-2-1.4-1.3 1-1.7 3-1 .7-3.3-1.7-4 5-2 1.7-3 .7-1 1-1.7 3.3-.7 3-.6 .7-8.4 .6-3.3 3-5 6-1 0-1.7 1-1.3 3-2.7 2.4-1.6 .3-2 1.7 2.6 2.6 1.4 5 1.6 3 1.4 1 3.6 0 2 2 3.7-.6 2.7 3 3.3 .3 2 1.7 1.7-.4 1.3-1 1.3-2 .7 .7 2 7.7 2.3 3 3.7 .3 2.3 2.3 2-.6 1.4 .3 2.6 2.7 2.4 1 1.6 0 1-.7 .7 1 4-3.3 1.7 3.3 1.6 6 2.7 2.3 2.3 0 .7 1 1.7 0 1.3 1 3.3 .7 5 2.7 2-.4 2.7-3 .7 0 2.6 8 2.4 3.4 3 .3 1.6 1.3 2.4-.6 2.3 .3 4.3 4 2.7-.3 1.3 1.3 5.7-3.7 1 4.4 1.3 11.3 5-3 2.7-3.7 .7 2 .6-2 .7 1.4 .7-2 .6 1 .4-.7 .6 .7 .4-1 .6 1.6 1-1 1.4 1-.4 1.4 .7 0 0 2-3.7 2.6-2.6 3-.7 1.7 1.3-.3 3.7-3 .7 0 1.6-2 2.7 3.3 1.7 0 3-2.7 2 1.7 1.3 4.3 3 5 3.3 .4 1.4 2 1.3 0 2.3-1.4 1.7 1 3.7 4 3.6 0 3.7-3 2.3-1 2-2.3 1.4-.3 5-4.4 2.3-.3 3.7-3.7 2.6-.6 10-9.4 2.7-1.3 5.7-4.7 2-1 2.6-3 3.4-1 2-2.6 3.3-1.7 2.3-3 5-2.7 1.4-1.6 1.6-.4 3.4-2.6 1 0 2.6-1.7 5.4-6.7 2.6-1.6 3.4 0 1.6-3 2.4-2.4 3.3 0 1.3-2.6 2.4-1 2-2.7 2.6-1 7.4-6 2.3-.7 3-3.6 2.3 0 3.4-4.7 3-1 2-3 2.3-1 3-3 5.3-8.3 2-.7 2.7-3.7-3 3-6.3 0-1.7-1.6-2.7-.7-1.3-1-2 2-2.3-1-2.4-4.7-1-5.6-1.6-3.4-.4-3-2.6-3.3-1.7 .3-1.7 3-3.6 3.4-1.4 2.6-2-.6-1.3 .3-7 6-3 0-.7-.7-1.6 0-.4-.3 1.4-.7-.7-1.6 3-2.7-2.7-6.7-1.3-6.3-.7-.7-3.6 .4-2.7 2-1.3-1.7-2.4 .3-1-.6-.6-1.4-2-1.6-4.7-.4-.7-1-2 0-1.6-.6-2.4-3.4-2-10.6-1-2.4-2 2-1.6 .7-3 4-3 1-1.4-1.3-1.6 0-1 .6-3.4 4.4-4 2.3-2 3-4 1.3-3.6 5-1.7-.3-3.7 2.7-3.3 1-2 2.3-1-.7-2.3 0-1 1.4-2.7 1.6-1.3-.6-1-1.7 2.6-.7 0-2.3 2.7-.7 3-1.6 1-1-.3-2.4 .6-.6 2.4-1 6.6-5.4 .7 0 5.7-5 .6 1.7 3.4-3.7-.7-1.3-1.3-8.3-.7-.7-.3 .3-1-1.3-1.4 .7-1.3-.7-2 1.7-1.7-2-1.3-.4-4.3-3-2.7 .4-2-2-4.7-1-5.3-10.7-1 0-2-1.7-1.3 0-1 .7-2.4 3-2.3-2.3-2.7 0-2-1.7-2.6-.3-2.7 1.6-2.3 0-2-2.3-2-9.3z"/>
<path fill="#00a8c5" d="M301.8 521.2l-2.3 2.3-1.3-.3 3-2.4zM308.8 516.8l-.3 .4 .7 .6-.7 1-3 2.4-1 .3-.7-.7-2.3 0 5.3-4.3 .4 .7 1-.7zM206.8 490.5l-2 3-3.6 2.3-4.7-.3 1.3-.7-.3-1 4-3.3 .7 1 2.3-2.3 1 0zM300.8 489.2l-1.6 4-1.4 1.6 0 1-1.6 2-2.7 .4-2 2-.7 0-3.3 3.6-2 .7-2 2-3 1-6.3 6-4.7 2.3-3.7 .7-1.6-1-1.7 0-2 2-1-.7 1-1.3-.3-1 1.6-.3-.3-1.4 2.7-.6-.7-1.4 .3-.6 5-2.4 9.7-7-.7-2 2.4-1 2-2.3 .6 2 4.4-5 1-.7 .6 1.7 2.7-3.7 .7 1.7 1.6-2.3 .7 1 1-1.7 .7 1 .6-1.3 .7 .6 .7-1 .6 .7 .4-.7zM376.8 467.5l0 1.7-1.6 3.3-1 0-2 1.3-4 4.4-1.7 .6-1.3-.3-4.4 4.3-4 .7-4-.3-2 1-1.6-.4 .6-.3 0-2.3 1.4 0-.7-1.7 2.3 0 5.7-4.7 .7 0-.7-2.3 3-2.3 1 2 2.7-2 2-3 .6 1 1-2 .7 1.3 .7-1.7 .6 1.4 .7-1.7 .3 .7 .7-.7 .7 1 .3-.7 .3 .7 .7-.7zM287.5 462.5l-3 3-3.3 2.3-3.4-.6 1-1.7 4.7-3.3 .7 .6 1.6-1.6zM253.5 419.5l-.3 .7 1 1-3.7 6-3.7 3.6-3 2-1 1.4-3 .6-2.3 2.7-6.3 5-2.7 1.3-1.7 2-3.3 2-3 .7-5 5-2-.3-6.3 3-2.4-.4-2.3 1.4-.7-.7 .7-.3-.3-1 1.3 0-.3-1 1.3-.4-.7-1.3 2-.3-.3-1.7 1.3-.7 1.7 0-.7-1.3 .4-.7 2-.3 4-2.7 1.3-1.6 4-2-.7-2.4 1.7-1.3 1 2 1.7-1.7 2.6-1.6-.6-2 3.3-2 2-2.4 .7 2.4 2.6-2.4-.3-1.6 2.7-1.7 1.3-1.7 .7 1.7 3-3.7 .6 1.7 .7-1.7 1.3-1.3 .7 1.3 2-2.6 .7 1 1-1.4 .6 1 1-1.6 .7 .6 .7-1 .6 .7zM255.2 384.5l-.7 1.3 1.3 1-1.3 3-4 2-3 3.4-3.3 1.6-3.4-.6-3 1.6-2.6 0-.7-2 2.7-.6-.4-2 2.7-1.7 3-1-.3-2 4-2 2-2.7 .6 1.4 1-1.7 .7 1 .7-1 .6 .7 0-1 .7-.7 .3 .7 1.7 .6-.3 .7zM253.8 363.2l-.6 .3-1 2.7-1 .6-1-1.3-1.7-.7-3.7 3.4-.3 1.3-1 1-5-4-1.3 1-2 3.7-2-1.4-1 0-2 2.7-2 .3-1.4 1-2 3.4 0 1-2 4-1.3 .3-1.3 1.3-1.4 3-1 1-3.6 0-2.7 2.4-1.7 .6-6 6.7-2 .7-3.6 3-2.7 3-2.3 5-1.7 1.6-3.3 2-1 1.4-2 .6-.7 1-2 0-1-.6-1.7 .3-3 4.3-1.6 1.4-2 5-2 1.3-1.4 2-2.3 .7-2-1.4-1.3 1-1.7 3-1 .7-3.3-1.7-4 5-2 1.7-3 .7-1 1-1.7 3.3-.7 3-.6 .7-8.4 .6-3.3 3-5 6-1 0-1.7 1-1.3 3-2.7 2.4-1.6 .3-2 1.7 2.6 2.6 1.4 5 1.6 3 1.4 1 3.6 0 2 2 3.7-.6 2.7 3 3.3 .3 2 1.7 1.7-.4 1.3-1 1.3-2 .7 .7 2 7.7 2.3 3 3.7 .3 2.3 2.3 2-.6 1.4 .3 2.6 2.7 2.4 1 1.6 0 1-.7 .7 1 4-3.3 1.7 3.3 1.6 6 2.7 2.3 2.3 0 .7 1 1.7 0 1.3 1 3.3 .7 5 2.7 2-.4 2.7-3 .7 0 2.6 8 2.4 3.4 3 .3 1.6 1.3 2.4-.6 2.3 .3 4.3 4 2.7-.3 1.3 1.3 5.7-3.7 1 4.4 1.3 11.3 3.7-2.3-.7-2.4 .4-1.3 2-.3 1-1.4 .6 2 1.7-3 .3 1.4 1-1.7 .4 1 .6-.7 .4 1 .3-.6 .7 .6 1.3-1 2.3 2-.3 .7 1 1-.7 1 0 1.3-3.3 2.4-3.3 4 4-1.7 2.6-2.3 2.7 3.3 1.7 0 3-2.7 2 1.7 1.3 4.3 3 5 3.3 .4 1.4 2 1.3 0 2.3-1.4 1.7 1 3.7 4 3.6 0 3.7-3 2.3-1 2-2.3 1.4-.3 5-4.4 2.3-.3 3.7-3.7 2.6-.6 10-9.4 2.7-1.3 5.7-4.7 2-1 2.6-3 3.4-1 2-2.6 3.3-1.7 2.3-3 5-2.7 1.4-1.6 1.6-.4 3.4-2.6 1 0 2.6-1.7 5.4-6.7 2.6-1.6 3.4 0 1.6-3 2.4-2.4 3.3 0 1.3-2.6 2.4-1 2-2.7 2.6-1 7.4-6 2.3-.7 3-3.6 2.3 0 3.4-4.7 3-1 2-3 2.3-1 3-3 5.3-8.3 2-.7 2.7-3.7-3 3-6.3 0-1.7-1.6-2.7-.7-1.3-1-2 2-2.3-1-2.4-4.7-1-5.6-1.6-3.4-.4-3-2.6-3.3-1.7 .3-1.7 3-3.6 3.4-1.4 2.6-2-.6-1.3 .3-7 6-3 0-.7-.7-2.6-.3-1.7 .3-.3-1 .6-.6 2-.4-.6-1.6 3.6-2.7-.6-3-1.4-2.7-1.3-6.3-.7-.7-3.6 .4-2.7 2-1.3-1.7-2.4 .3-1-.6-.6-1.4-2-1.6-4.7-.4-.7-1-2 0-1.6-.6-2.4-3.4-2-10.6-1-2.4-2 2-1.6 .7-3 4-3 1-1.4-1.3-1.6 0-1 .6-3.4 4.4-4 2.3-2 3-4 1.3-3.6 5-1.7-.3-3.7 2.7-3.3 1-2 2.3-1-.7-2.3 0-1 1.4-2.7 1.6-1.7-.6-3 1.6-.6-1 .6 0-.3-1 1-.3-.3-1 1.6-.3 0-1.7 3.4-1 0-2.7 2.3-.3 2.7-2.3 4-2 0-2.7 2-1.7 .6 2.4 5-3.7-.6-1.7 .3-1 .7-.3 1 2 3-2.3 3.3-4 1-2-1.3-7-.7-.7-.3 .3-1-1.3-1.4 .7-1.3-.7-2 1.7-1.7-2-1.3-.4-4.3-3-2.7 .4-2-2-4.7-1-5.3-10.7-1 0-2-1.7-1.3 0-1 .7-2.4 3-2.3-2.3-2.7 0-2-1.7-2.6-.3-2.7 1.6-2.3 0-2-2.3-2-9.3z"/>
<path fill="#00afb8" d="M310.8 513.8l-1 3.7-4.3 3.7-3.7 0-2.3 2.3-3.3 1-1.4-1 .7-.7 0-1.3 1 .3 .7-1 5-3 4-3.6 .3-1 .7-.4 .3 .7 1.7-1zM208.2 487.2l-.7 1.3 1 0-.3 1-1.7 1.3-2.7 4-2 .4-.6 .6-2.4-.3-3.6 1-1.7 0-.7-.7 0-.6 1.4-1.4 .6 1 0-1.3 4.7-2.7 4-4 .7 1 1-2 1 0zM301.5 485.8l0 2.4-2.3 5.3-3 4.3-2.7 .4-2 2-.7 0-3.3 3.6-2 .7-2 2-3 1-7.3 6.7-2.4 .6-1.3 1-3 .7-1.7-.3-.6-.7-1.7 0-2.7 2.3-1.6 .7-1.4-.3-.3-1.4 1.3-1.6 .7 1 0-1.7 1.3-.3-.3-1.4 2-.3-.7-1.7 3.4-.6 0-2.7 2-1 4-3.3 2.3-.7 2.3-2.7 1.7-1 2.3-.3 .7-.7-.3-2 1.6-1.3 .7 1.7 .7-1.4 4.6-4 .7 1.7 3.7-4.3 .6 1.6 2-3 .7 1.4 1-1.7 .7 1 1-1.7 .6 .7 0-.7 1.4-1.3 .3 .7 .7-.4zM376.2 463.8l-.4 .7 1 .3 0 2 .7 .4-1.3 4.3-1 1-1 0-2 1.3-4 4.4-1.7 .6-1.3-.3-4.4 4.3-4 .7-4-.3-3.3 1.3-2-.7 1-1.3-.3-.3 .6-.4-.3-.3 1 0-.7-1.3 .4-.4 1 1-.4-1.6 1 0 0-2.4 1 0 4-3.3 3.4-1.3 4.6-3.7 2.7-3.3 .7 1.6 .3-1.3 1-1 .3 1 1-1.3 .7 1 .7-1.4 .6 1 .7-1.3 .3 .7 1.4-1 .6 .6zM288.8 458.2l-.3 1 .7 .3-1.4 1.3 .7-.6 0 1.3-6.7 6.3-5.3-.6-1.7 2-1 0-.6-.7 0-1 .6-.3 .7-1.7 .7 1.3 1-.6 0-1.4 7-5.3 .6 1 1-1-.6-1 .6-1 .4 1 1-1 .3 .7 1.3-.7zM255.2 416.2l.3 1.3-1 .7 .7 .6-.4 1.4-4.3 7-7.7 7-3 .6-6.3 6-5 3-1.7 2-2 1.4-4.3 1.3-5 5-2-.3-6.3 3-2.4-.4-4 2-1.6-.3 0-2 2-.7 0-1 1.6 0-.6-1.3 1.6-.3-.3-1.4 .7-.6 1.6 0-.3-2 1.3-.7 2 .3-.6-1.6 .6-1.4 1 0 7.4-5.6 2.3-.7 4-4 5-2.3 2.7-3.4 2.6-1-.6-1.6 1.3-1.4 1 2 1-.6-.7-2 1-.7 .4 1.3 .6 0 .7-1.6 2-2 .7 1.3 2-2.7 .6 1.4 2-2.7 .7 1.3 1.7-2 .3 1 1.7-2 .6 .7 1-1.7 .7 .4 .7-.7 1.3 0zM253.8 363.2l-.6 .3-1 2.7-1 .6-1-1.3-1.7-.7-3.7 3.4-.3 1.3-1 1-5-4-1.3 1-2 3.7-2-1.4-1 0-2 2.7-2 .3-1.4 1-2 3.4 0 1-2 4-1.3 .3-1.3 1.3-1.4 3-1 1-3.6 0-2.7 2.4-1.7 .6-6 6.7-2 .7-3.6 3-2.7 3-2.3 5-1.7 1.6-3.3 2-1 1.4-2 .6-.7 1-2 0-1-.6-1.7 .3-3 4.3-1.6 1.4-2 5-2 1.3-1.4 2-2.3 .7-2-1.4-1.3 1-1.7 3-1 .7-3.3-1.7-4 5-2 1.7-3 .7-1 1-1.7 3.3-.7 3-.6 .7-8.4 .6-3.3 3-5 6-1 0-1.7 1-1.3 3-2.7 2.4-1.6 .3-2 1.7 2.6 2.6 1.4 5 1.6 3 1.4 1 3.6 0 2 2 3.7-.6 2.7 3 3.3 .3 2 1.7 1.7-.4 1.3-1 1.3-2 .7 .7 2 7.7 2.3 3 3.7 .3 2.3 2.3 2-.6 1.4 .3 2.6 2.7 2.4 1 1.6 0 1-.7 .7 1 4-3.3 1.7 3.3 1.6 6 2.7 2.3 2.3 0 .7 1 1.7 0 1.3 1 3.3 .7 5 2.7 2-.4 2.7-3 .7 0 2.6 8 2.4 3.4 3 .3 1.6 1.3 2.4-.6 2.3 .3 4.3 4 2.7-.3 1.3 1.3 5.7-3.7 2 12 3.7-2.3 2-.3 2.3-3.7 .7 2 1-3 .6 1.7 .4-.7 .6 1 .7-2 .7 1 .3-.7 1 .4 .3-.7 2 1.3-.3 .7 1 0-.3 1.7 1-.7 .3 .3-1 3.7 .3 .7-4.3 3-3 3.3 1.3-1 2.4 0 2.6-2.3 2.7 3.3 1.7 0 3-2.7 2 1.7 1.3 4.3 3 5 3.3 .4 1.4 2 1.3 0 2.3-1.4 1.7 1 3.7 4 3.6 0 3.7-3 2.3-1 2-2.3 1.4-.3 5-4.4 2.3-.3 3.7-3.7 2.6-.6 10-9.4 2.7-1.3 5.7-4.7 2-1 2.6-3 3.4-1 2-2.6 3.3-1.7 2.3-3 5-2.7 1.4-1.6 1.6-.4 3.4-2.6 1 0 2.6-1.7 5.4-6.7 2.6-1.6 3.4 0 1.6-3 2.4-2.4 3.3 0 1.3-2.6 2.4-1 2-2.7 2.6-1 7.4-6 2.3-.7 3-3.6 2.3 0 3.4-4.7 3-1 2-3 2.3-1 3-3 5.3-8.3 2-.7 2.7-3.7-3 3-6.3 0-1.7-1.6-2.7-.7-1.3-1-2 2-2.3-1-2.4-4.7-1-5.6-1.6-3.4-.4-3-2.6-3.3-1.7 .3-1.7 3-3.6 3.4-1.4 2.6-2-.6-1.3 .3-7 6-3 0-.7-.7-3.6-.3-1.7 1.3-1.3 .4 0-2 1 0-.4-.7 1-.3-.6-1 2.6-1-.6-1.4 4.3-3-1.7-4-1.3-6.3-.7-.7-3.6 .4-2.7 2-1.3-1.7-2.4 .3-1-.6-.6-1.4-2-1.6-4.7-.4-.7-1-2 0-1.6-.6-2.4-3.4-2-10.6-1-2.4-2 2-1.6 .7-3 4-3 1-1.4-1.3-1.6 0-1 .6-3.4 4.4-4 2.3-1.6 3-2.4 .3-2 1-3.6 5-1.7-.3-3.7 2.7-3.3 1-2 2.3-1-.7-2.3 0-1 1.4-2.7 1.6-1.7-.6-4 2.3-2.3 0 0-1.7 .3-.3 .7 .7 .7-.7-.4-.7 1-.3-.3-1 1.7-.3-.4-1.4 2-.3-.6-1.7 3-1.6 1.6-.4 0-2.3 2-1 2.7-2.7 5-2 3-3.3 2.3-1 4-3 4-4.7 .7 2 1-1-1.3-7.6-.7-.7-.3 .3-1-1.3-1.4 .7-1.3-.7-2 1.7-1.7-2-1.3-.4-4.3-3-2.7 .4-2-2-4.7-1-5.3-10.7-1 0-2-1.7-1.3 0-1 .7-2.4 3-2.3-2.3-2.7 0-2-1.7-2.6-.3-8.4 5 .4 .3-.7 .7 0 1 .7 .3-.7 1.7 .7-.7 .6 .3-2.3 5-4 2-3 3.4-3.3 1.6-3.4-.6-3 1.6-4 0-.6-1 .6 0-.3-1.3 1 0-.3-1.7 4-1.3 .6-.7-.6-1.6 1-1 4-1 0-2.7 2-.7 2-2.3 .6 1.7 1.7-2.4 .7 1 1.6-2.6 .7 .6 2-1.6 .7 0-.4-1 1-.4-.3-.6 .7-.7 .6 0-.3-1 .7-.7-2-8.6z"/>
<path fill="#00b5a9" d="M312.5 511.2l-.7 2.6-1 1.4 0 1.6-5.3 4.7-1 0-.7-.7-2 .4-2.3 2.3-3.3 1-2 0-1-.7-.4-1.6 1.4-.4-.4-1 1.4-.6 .6-1.7 .7 1.3 2-1-.3-1.3 2.3-2 .7 1.3 4.3-3.6 1.3-2.4 .7-.3 .7 .7 1-1.4 .3 .7 1.7-.3zM209.5 484.2l-.7 3.3 1.4 1-3.4 2-1.3 2.7-1.7 1.6-2 .4-.6 .6-2.4-.3-3.6 1-3.4-.3 0-3 1.4 0 .3-.7 1.3-.3-.3-1.4 5.3-4 .7 1.4 3-3-.3-.7 .6-.7 .4 1 1.3-1.6 1.3 1 .7-.7 .3 .7 .7-.7zM303.8 481.8l0 2.7-1.3 1.3 0 1-1 .7-1.3 5-3 4.7-1.7 1-2 0-1 1.6-1.7 .4-3.3 3.6-2 .7-1.7 2-1.3 0-2 1-7 6.7-2.7 1 .7 .6-.3 .4 1 .3-.7 1-1 .3-5.7-1.6-.6-.7-1.7 0-2 2-2.3 1-4 0-.4-1.3 1-.4 .4-1.3 .6 0-.3-1 1.3-1.7 1 1.4-.3-1 1.3-.4 0-1.6 3-.7-.6-1.7 .6-1 3.4-.6 5-4 1-.4-.7-2 1-.3 2-2.3 .7 2.3 2.3-1.7-.3-2.3 4-1.3 2.6-4 .7 2.3 .7-.7-.4-2 2.4-1.6 .6 1.3 3.7-4 .7 1.3 2-2.6 .6 1.3 1.7-2 .7 1 1.3-2.7 .7 1 1.6-2 .4 .7 1-.7 .3 .7 1-1zM377.8 461.8l.4 1.4-.7 1.6 1 0-.7 1.4 .7 .3-1.3 3 1 .7-.4 .6-5.6 3-4 4.4-1.7 .6-1.3-.3-4.4 4.3-4 .7-4-.3-3.3 1.3-2.3 0-.7-.7-.3-1.3 .6-.3 0-1.7 .4-.3 1 1.3 0-1.7 .6 0-.3-1.3 1-.3 .7 .6-.7-2.3 .7-.3 .6 .6 1 0 4-3.3 .7 0 0-3 1.7-.7 5.6-5.3 2-1 .7 1.7 1.3-2.7 .7 1.7 .7-1.7 .6 1.3 .7-1.3 .7 1 .6-1.3 .7 1 0-1.4 .7-.6 .6 .6 .7-1 2 0zM291.2 455.8l-1 3-1 .7 .6 .3-.3 1.4-7.7 6.6-5.3-.6-1.7 2-2.3 .3-1-.7 0-2.3 1.3-.3 2-2.4 .7 0 6-4.3 3-3.7 .7-.3 .3 .7 1.3-1.4 .7 .7 .7-1 1 0zM258.2 412.5l-.7 2.7-1.3 1.3-.4 3-2.3 2.3-2.7 5.4-2 1.3-.6 1.7-3 1.6-1.7 2.4-2 0-1.7 .6-2.3 2.7-2.7 2-.6 1.3-1.7 .4-1.3 1.3-1.7 .7-4.7 4-4.3 1.3-4.3 4.3 0 .7-.7 .3-2-.6-5.3 2.6-3.4 0-1.3 1-6 2-1.3-.6 .6-2.4 1-.3-.3-.7 1-.6-.3-1 .6-.4 .4 .7 1-1 1.3 0-.3-1.3 1-.7 1.3 0-.7-1 .4-1 3.6-1-.6-1.3 .3-1 3.3-.4 5.7-4.3 0-3 .7 2.7 1-1-.4-2.7 2.7-1 .7-1.3 3-2.4 4-1.6 3-4 3.6-.4 .7-1 2-1 3.7-4.3 .6 1.7 .7-1.7 1.3-1.3 .7 1 2-2.4 .3 1 .7 0 1.3-2.3 .7 1.3 .7-.3 1-1.7 .6 .7 2-2.7 .7 1 1-1.3 .7 .7 .6-1 .7 .3 .7-.7zM253.8 363.2l-.6 .3-1 2.7-1 .6-1-1.3-1.7-.7-3.7 3.4-.3 1.3-1 1-5-4-1.3 1-2 3.7-2-1.4-1 0-2 2.7-2 .3-1.4 1-2 3.4 0 1-2 4-1.3 .3-1.3 1.3-1.4 3-1 1-3.6 0-2.7 2.4-1.7 .6-6 6.7-2 .7-3.6 3-2.7 3-2.3 5-1.7 1.6-3.3 2-1 1.4-2 .6-.7 1-2 0-1-.6-1.7 .3-3 4.3-1.6 1.4-2 5-2 1.3-1.4 2-2.3 .7-2-1.4-1.3 1-1.7 3-1 .7-3.3-1.7-4 5-2 1.7-3 .7-1 1-1.7 3.3-.7 3-.6 .7-8.4 .6-3.3 3-5 6-1 0-1.7 1-1.3 3-2.7 2.4-1.6 .3-2 1.7 2.6 2.6 1.4 5 1.6 3 1.4 1 3.6 0 2 2 3.7-.6 2.7 3 3.3 .3 2 1.7 1.7-.4 1.3-1 1.3-2 .7 .7 2 7.7 2.3 3 3.7 .3 2.3 2.3 2-.6 1.4 .3 2.6 2.7 2.4 1 1.6 0 1-.7 .7 1 4-3.3 1.7 3.3 1.6 6 2.7 2.3 2.3 0 .7 1 1.7 0 1.3 1 3.3 .7 5 2.7 2-.4 2.7-3 .7 0 2.6 8 2.4 3.4 3 .3 1.6 1.3 2.4-.6 2.3 .3 4.3 4 2.7-.3 1.3 1.3 5.7-3.7 2 12 3.7-2.3-.4-2.7 1.7-.3 2-2.7 .7 2.4 0-1 1.3-2 .3 1.6 1.4-2.3 .3 1.3 .7-.3 .3 .7 1-2 .3 .6 .4-.6 1 0 1 1 .6-.7 .7 .7-.3 .6 .6 .4-.3 1.6 1-.6 .3 .3-.3 3.7 1 0-1 1 .3 .3-.6 1.3-4.7 3.4-2 2.3 2.7 0 2.6-2.3 2.7 3.3 1.7 0 3-2.7 2 1.7 1.3 4.3 3 5 3.3 .4 1.4 2 1.3 0 2.3-1.4 1.7 1 3.7 4 3.6 0 3.7-3 2.3-1 2-2.3 1.4-.3 5-4.4 2.3-.3 3.7-3.7 2.6-.6 10-9.4 2.7-1.3 5.7-4.7 2-1 2.6-3 3.4-1 2-2.6 3.3-1.7 2.3-3 5-2.7 1.4-1.6 1.6-.4 3.4-2.6 1 0 2.6-1.7 5.4-6.7 2.6-1.6 3.4 0 1.6-3 2.4-2.4 3.3 0 1.3-2.6 2.4-1 2-2.7 2.6-1 7.4-6 2.3-.7 3-3.6 2.3 0 3.4-4.7 3-1 2-3 2.3-1 3-3 5.3-8.3 2-.7 2.7-3.7-3 3-6.3 0-1.7-1.6-2.7-.7-1.3-1-2 2-2.3-1-2.4-4.7-1-5.6-1.6-3.4-.4-3-2.6-3.3-1.7 .3-1.7 3-3.6 3.4-1.4 2.6-2-.6-1.3 .3-6.3 6-3.7 0-.7-.7-3.6-.3-2.4 1.7-2-.4-.3-3.3 .3-.3 .7 1.3 .7-1 .3 .3-.7-1.3 .4-.3 1.3 .6-.3-1.6 2.6-.7-.6-1.7 3.6-2.3-2.3-9-.7-.7-3.6 .4-2.7 2-1.3-1.7-2.4 .3-1-.6-.6-1.4-2-1.6-4.7-.4-.7-1-2 0-1.6-.6-2.4-3.4-2-10.6-1-2.4-2 2-1.6 .7-3 4-3 1-1.4-1.3-1.6 0-1.7 1.6 .3 1-4 3-2.3 1-2 3.7-2.7 .3-2 1-3 4.7-2.3 0-3.7 2.7-3.3 1-2 2.3-1-.7-2.3 0-1 1.4-2.7 1.6-1.7-.6-5.6 3-3 .3-.7-1.3 .7-.4 0-1 1 0-.4-1 1-.3-.3-1 .3-.3 .7 .6 .3-.6 1.7 0-.7-1.4 2-.3-.6-1.7 3-.6-.7-1.7 .3-.7 5-1.6-.6-1.7 .6-1 1 2 2.7-2.7 2-.6 .3-.7-.6-2.3 2.3-.4 2.7-3.3 3.3-1.7 1.3-1.6 1.7-.7 2.7-3 .6 2.3 1-.6 2.4-3-1-5-.7-.7-.3 .3-1-1.3-1.4 .7-1.3-.7-2 1.7-1.7-2-1.3-.4-4.3-3-2.7 .4-2-2-4.7-1-5.3-10.7-1 0-2-1.7-1.3 0-1 .7-2.4 3-2.3-2.3-2.7 0-2-1.7-2.6-.3-3.7 2.6-1.3 .4-2.7 2.6-.3 1 1 0 0 1.7-2 5-4.7 2.3-3 3.4-3.3 1.6-3.4-.6-3 1.6-5.3 0-.7-.6 .7-.7-.3-1.7 .3-.3 1 .7-.7-1.7 1.7 0-.3-2 6.3-2.7-.7-1.6 .4-1 5.3-1.7-.7-2.3 .7-.7 .3 1.7 .7 .3 .7-1.7 2-2.3 .6 1.3 1-1.6 3.7-2.4-.3-1 1.3-.3-.3-1 1.6-1-1.6-7.3z"/>
<path fill="#00ba98" d="M285.5 544.5l1 .7-1 1.6-1-1.3zM276.5 540.2l0-1 .7-.7 .6 1.3 .7-1 1 .7-1 1.3-1 .4zM302.2 533.8l-3 4.4-1.4 1-2.3-.4-.3-1.6 1.6-1.4 .7 .7 1-2 1-.7 .7 .7 .6-1 .4 .7 .6-.7zM293.5 531.2l.7-.7 1.3 0 .3 2-1.6 0zM265.5 525.2l0 1.6-1.7 1.7-.6 0-1-1.3 1.3-.7 1-1.3zM303.5 525.8l1.3-1 .4 .7 1.6-1 .7 .7-.3 1 .6 0 0 .6 .7 0 1.3 1.4-1.6 1.6-2.4-2-2.3-.3zM263.2 521.8l-.7 1-1.7 .4-2-1-4 1-2.3 2-1.3-.4 2.3-2 .7 0-.4-1.6 2-1.7 .7 1.3 1.3-1.3 1.7 .7 .3-1 1 0 .7-.7 0 2 .7 0 0 1zM204.2 499.5l.6-1.3 1 0 .7 .6-1.7 1zM252.5 493.2l-.3 .6-2.7 .7-1.3-.7 .6-1.3 1-.7 .7 .4 .3-.7zM265.5 490.8l.7 .7-1 1.3-1 .4-.7-1.4 1 0zM258.2 490.8l.6-1.3 1.7 1-1 .7zM343.5 488.8l1 1.7-.7 .7-.6 0-.7-1zM181.8 485.5l-1 1-1.3 0-1 .7-1-.7 2.3-2 1 0zM218.2 484.5l1-.7 1.6 1.4-1.6 .3zM169.5 484.5l1-1.3 1 .6-1 1zM315.5 483.2l1.3-1 1.4 1.3-1.7 .7zM278.5 480.5l.3 .3-1.6 1.7-.7-1zM309.5 479.5l1-.7 .7 1 1.6-1 .7 .7-.3 .3 1 .7-.4 .3 1 .4-.3 1.3-1.3 .3-3-1.3zM260.2 481.2l.6-1 2-.7-.3-1.7 1.7-1.3 .6 1 1-.3 2.4 1.6 1.6 0 1.4 1-.7 1-4.3 2.4-2 0zM320.2 475.2l0 1 .6 .3-1.6 2.3-1.4 0-1.6-1.3 1.6-2 .7 .7 .7-1zM277.5 473.2l1-1 1.7 0 1.3 1 .7 1.6-.7 1-3 0-1-1zM235.5 467.8l0 .7-2.7 2.7-1.6 .3-1-1 0-1 3-2 .6 1.3 1-1.3zM238.2 467.5l1.3-1 2 0 2.3 1.3 0 .7 .7 .3-4 2.4-.3-1.4zM200.5 465.8l1 .4-.3 1.3 .6 .3-1 .7-1.3-.7zM385.2 465.2l1.6 1.6-1 1-.6 0-1-1.6zM342.5 464.5l.7-1.3 1.6 1-1.3 1zM241.5 461.5l1.3-1.3 .7 1.3 .7-1.3 1.3 0 .7 .6-1.4 2.7-2-.3zM300.8 459.8l1.4 1.4-1 1-1.4-1.4zM158.2 455.8l2-1.3 2.6 1.7 0 1.3-.6 .7-1.4 0zM304.8 453.8l2.7 0 .7-1 2.6 2-1 1.4-1.6 .3zM394.2 452.5l1.3-1 1 .3-.7 1.4-1 0zM261.5 452.2l1.7-1.7 1.3 1.3 2.7 1-1.7 1.4-1.7 0-1.3-.7zM225.2 449.5l1 .7-.7 .6 .3 .4-1.3 1-1-.4-.7-1.3 1.4-1 .3 .7zM173.8 447.5l.4-.3 .6 .6 .7-1 1.3 0 2.7 1.4-.7 1.3-3.6 .3-1-.6zM355.5 446.2l1-.7 1 .7 0 .6-1 .4zM414.5 445.8l-3 3-6.3 0-1.7-1.6-4.3-1.7-1.7 2-4.3 2.3-13.4 11.4 .4 1-1 .6-.4 1 .7-.3 0 1.7 1 0-1.7 2.3 .7 .3 0 1.4 1 .3-.3 1 .6 .3-1 .7 .7 .3-6.3 .7-2 1.3-1.4 2 .4 .7 1-.3 1.3 1.3 .7-1 1 1-1 1-3.7 0-.7-.7-1.3 0-2 1-1.3-.3-4.4 4.3-4 .7-4-.3-6.3 2.3-23 17.7-3.3 2-5.4 4.6 0 .7-2.6 3-.4 1.7 1.4 .3 .6-.7 2.7 0 .3 .7-1.3 1.7-2-1-2.3 .3-2.7 2-1 2.3-1.7 .7-1.3 0-.7-.7-2 .4-2.6 2.6-.7-.3-6.3 2.7-16.7 13-1.7 .6-7.6 6.4-4.7 3 1.3 0 .7 1 1.3-1 1.4 1-1 1 2.6-1.4 1.7 1 3.7 4 4.3-.3 3-2.7 2.3-1 2-2.3 1.4-.3 5-4.4 2.3-.3 3.7-3.7 2.6-.6 10-9.4 2.7-1.3 5.7-4.7 2-1 2.6-3 3.4-1 2-2.6 3.3-1.7 2.3-3 5-2.7 1.4-1.6 1.6-.4 3.4-2.6 1 0 2.6-1.7 5.4-6.7 2.6-1.6 3.4 0 1.6-3 2.4-2.4 3.3 0 1.3-2.6 2.4-1 2-2.7 2.6-1 7.4-6 2.3-.7 3-3.6 2.3 0 3.4-4.7 3-1 2-3 2.3-1 3-3 5.3-8.3 2-.7zM268.8 444.2l1-1.4 1.4 0 .6 .7-.3 1.3-1.7 0zM309.8 442.2l.7 .3 0 .7 .7-.7 .3 .3 0 2.4-.7 1-2 .3-1.6-.7-.4-1.3zM175.5 441.5l1.3-1 .4 1 .6-.3 .7 .6-.3 .4 1.6 .6-.3 1.4-3 0-1.3-1 .6-.4zM271.2 440.5l2-2 .3 .7 .7-.7 1 .7 .6-.4 .4 1.4 1 .6 1.3-.6 .7 .6 .6-1 1 0 1 1.7-1 .7-5.3 .3-1.3-1.3-1.7 0zM316.2 437.5l1.6 2.7-1.6 1.6-1.7 0-1-1 1.7-.6-.4-1.7zM278.5 435.5l1.3 1 0 .7-1 1.6-1.3 .4-1-1 1-1-.3-.7zM389.8 429.8l-2.6-3.3-1.4 0-2 3.3-3.6 3.4-1.4 2.6-2-.6-1.3 .3-2.7 2.7-.3 1.3 2.3 1 0 1.3-.6 .7-3.7 0-2.3-1.3-2.7 .3-.7-.7-4.3 0-3 2.4-2 .6-7.3 6-1.7 .7-24.7 19-1.3 .3-1.3 1.7-.7 0-7.7 6-1.6 2-2 1.3-1.7 2.7-2.3 1.3-1 2.7 1 .7-1 1.3 .3 1.7-2.7 2.3 .4 1.3-2 2.4 .6 .3-.6 2.3 1 .4-1 1.3-2 .3-1.7-1.3-2-.7-1.7 .4-1.6 2 0 1 .6 0 1 1.6-.3 .4-1-.7 0-.7-1.7-.3-2.6 1.3 .6 .4-.6 1.6-2.7-.3-2 1-3.3 3.7-1.4 .6 .7 .7-.3 .7 1.3 .6-.7 .7-2.3 .3-.7 .7 .4 1.3-1.7 1.7-7.7-2.3-.6-.7-1.7 0-2 2-5.7 2.3-2.6 2.4-1.7 .3-1.3 2.3-1 .7 .6 .3 0 3.4 3.4 .3 .3-.7 2 1.7-.7 1-1.3 .3-3-.6-1 2-5.3 3.6 .6 .4 0 1.3-.6 1 2.6-2.3 2.7 3.3 1.7 0 2.6-2.7 1 .4 1.4 1.3 1.3 4.3 1.7 3.4 .6 .3 7-5.7 .7 0 1-1 .3-1.3 1-.7 .7 .7 6-5 1.7-.7 12.6-9.6 .4-1.4 1.3-.6-.3-.7 1.6-.7-.3-1 2-1 1-2 .7 1.4 0-1.7 2-.7 5.6-5 .7 1.4 3.3-4.4 .7 1 1.3-1.6 .7 .6 1.3-1.3 .4 .7 3-2.4 .6 0 14-10.6 1-2 2.7-1.7 .3 .7 .7-.4 0-1 1.7-1.6 .6 .6 6.4-4.6-.4-.7 1-1 1.4-.3-.4-1 1-.4-.3-.6 1.3-1.4 .7 .4-.3-1.4 .3-.3 1.3 .7-.3-2.4 .3-.3 1.7 1-.7-1.7 .4-1 1.6-.6 2.7-2.4 3.7-1 5.6-5.3 1.4-.3 1.6-3 .7 2 1.3-2.4 .4 1 1.3-1.6 .7 1 .6-1-.3-.7 .7-.7 .6 1 1-1.6 .7 1 1-1 .3 .6 1.7-1.6 .7 .6 2.3-2.3 1.7 0 2.6-2.3 .7 .3 2.3-2 1.4 0 3.3-2.3 .7-1.4 1.6-1.3 0-.7-2-4-1-5.6-1.6-3.4zM259.8 425.5l.7-.7 .7 .4 1-.7 1.6 1.3-1.3 .7-1.7 0zM216.5 423.5l0 1-1.3 1-.7-1zM207.2 424.2l1.3-1 1.7 1.6-.7 1-1.7-.3zM350.2 422.8l1.3 1-1 1.4-1.7-.7zM362.5 422.5l-.7-.7-3.6 .4-2.7 2-1.3-1.7-2.4 .3-1-.6-.6-1.4-2-1.6-4.7 0-.7-1.4-2 .4-44.6 33.3-3 3 0 1-2 2.3 .6 .7-.6 .7 .6 .3 0 1-2.6 1-1 1.3-1.7 .7-2.7 2.7 0 1.3-.6 1-2.4-1-4.3-.3-1.7 2-1.6 .3-1.7 1.3-2 .7-63.7 48 1.4 0 1.6 1.3 2.4-.6 2.3 .3 4.3 4 2.7-.3 1.3 1.3 5.7-3.7 1.3 8.4 3-2 2.7 .3 3-5 .7 2 1-2.3 .6 2 1-2.4 .7 .4 .7-1 .6 1 .7-1 .7 .3 5.3-4.3 3.3-1.7-.3-1 1.7-.7-.4-1 1.4-.6 1-1.7 2.3-.3-.7-1.4 .4-.6 4.6-1.4 0-3 2.4-.3 3.6-3.7 2.4-.3-.7-1.3 1.3-1.4 .7 1.7 .7-1.3 2-1.7 2.6-.7-.6-2 .3-1 1.7 0 2-2.3 .6 2 1.4-1.7 2-.6-.7-1.4 .3-1 .7-.3 .7 1.7 4.3-4.7 .7 1.3 1.6-2.3 .7 1.7 .7-1.7 1.3-1.3 .3 1 .7-.4 0-1 1.3-1.6 .7 1.3 2-2.3 .7 1 2.3-2.7 .7 1 3.3-3 .7 0 6-5 1.6-.7 15.4-12 1.6-.6 20-15.7 1.7-.7 0-1 1.3-.6 0-1 .7 0 0-2 .7-.7 .6 1.7-.3-1 1.7-.4-.7-1.6 2.3-.4 0-2 3.7-2-.7-1zM215.5 416.8l0-1 1.3-1 .4 .7 1.3-.7 1 .7-2.3 2zM279.2 410.5l1-1 1.3 1-1.3 .7zM272.2 410.5l.6-2.7 1.4-1 1 0 1.3 1.7-.3 .3 .6 0 1 1.4-4.3 1.6zM227.2 406.5l-.7 1.3-2.3 1-1 1.4-1 0-1.4-1 4.4-3.7zM334.2 401.2l-.4-.4-2 2-1.6 .7-1.7 1.7-.7 1.6-2 1.4-1.6 .3-1.4-1.3-1 0-.6 1.6 1 .4 0 1-1 .6-2.7 0-1.7 1.7 1.7 .7 0 1-.7 .6-1.6-.3-1-1-1 .7-1.7 3.3-3.7 .3-2 1-1 2.4 1 0 1.4 1 .6-.7 1 .7-1.6 1.6-.7-.3-2.7 1.3-3.3-1.3-3.7 2.7-3.3 1-2 2.3-1-.7-2.3 0-1 1.4-2.7 1.6-1-.6-1.7 .3-4 2.7-3 1-5.6 4.3-1.7 .7-18 14-.7 0-9 7.3-1.6 .7-7.7 6.3-.7 0-4 3.3-1.6 .7-2.7 2.7-2 1-8.7 7-.3 1 1.7 1.3 1-.7 .6 .7 0 1-1.3 1.7-4.3 .6-2 1.7-1 2 .6 .3-.3 .4 1.7 .6 0 1.7-1 1-2.7 0-.7-.7-3 0-1.6 .7-.7-.3 0 1 .7 .3-.7 2-1.3 1-.7-.7-1 .7-3-.3-.3-.4 1.6-1.6 1.4 1 .6-.4-.6-2.3-1.7 .3-5 3.7-1.7 .3-1.6 2.4-4 2.6 .6 0 .7 1 1.7 0 1.3 1 5 1.4 3.3 2 2-.4 2.7-3 .7 0 3.3 9.4 3-1.7 26-20 1.7-.7 16.6-13 9.7-6.6 8.7-7 1.6-.7-.3-1 1-.3-.3-1 2-.7-.4-1.3 .7-.7 .7 1.3 .3-1 6.7-4 3-2.6 2.6-3.4 .7 .7 1-1.3 .7 .6 1.3-1.3 .3 .7 29.4-22.4 .6 0 15-11.6 2-1 1-1.7-1.6-4zM293.5 399.5l1-.7 1.3 1 0 .7-1 .3zM295.8 396.5l.7-.7 .3 .7 .7-.7 1 0 3.7 2.4-1.4 .6-2.6-.3-1.7-.7zM286.2 394.2l.6 1.3-2 1.3-.6-1.3zM310.2 397.2l-.7-.7-.3 .3-1-1.3-1.4 .7-1.3-.7-2 1.7-1.7-2-1.3-.4-3.7-2.6-3.3 0-2-2-2-.4-25 18.7-6 6.3-.7 0-1.6 1.7 .6-.3 0 1.6 1 0-3.3 2.7-2 3.7 2 1.3-.3 .3 .6 1-3.3 .4-.7 .6 1.7 1 1.3 0 .7 .7-1 1-2.7 0-1.6 2.7-1 .6-.7-.3-1 1-2.3 .3-2.7-.6-1.7 .6-2 2-2 3.7-2.3 .3-1 1-2 .7-3 3-1.7 .7-1.3 1.3-3.3 .7-2.4 1.6-1 1.7 .7-.3 .3 1.3-2 1.7-3.3-1-2 .6-4 2.7-2.7-.7-4 2.7-1-.3-5.6 3-14.4 11-2 .3-2 2.7-22 16.3 2.4 .3 1.6 2 2-.6 1.4 .3 2.6 2.7 2.4 1 1.6 0 1-.7 .7 1 4-3.3 1.7 3.3 1 4.7 .6 1.3 .7-.3 .7 .6 11.3-8.6 0-1 1-.4-.3-.6 1-.4-.4-1 1-.3 .7-1.3 6.3-4 1.4-2 1 1.3 1.6-2-.3-.7 1.3-1 .4 1 1.3-1.6 .7 1 1-1.4 1.6 0 21.4-16.6 2-1 26-20 1.6-.7 7.4-6 4.3-2.7-.3-1 3-1.6 0-1.4 2-.3-.7-1 .3-1 .7 0 .3 1 .4-1 1.6 0 0-2 2.4 0-.7-2 3-.7 0-2.3 .7-.7 3.3-1 4.3-4.6 3.7-.4 2.7-3.3 3.3-1.7 1.3-1.6 1.7-.7 5.3-6 .7 2.3 .7-1zM281.5 378.5l-1 0-2-1.7-1.3 0-2.4 2-1 1.7-2.3-2.3-2.7 0-2-1.7-2.6-.3-1 1.6-2.4 .7-3.3 2.7 .7 .6-.7 3.4 .7 .3-.7 .7 .3 .3-1.3 1 .7 .7-1.4 1.3-2 .7-1 1.3-2.3 .3-2.7 3.4-1.6 .3-2 1.3-3.4-.6-3 1.6-6.3 0-1.3-1 .3-.6 .3 .3-.3-.7 1-.6-.3-1 1 0-.7-1.4 .3-.3 1.4 .7-.4-1.7 2.4-.3-.4-2.4 3.4-2 3.3-1-.3-2.3 4-1.7 3.3-3.6 .3 1.3 .7 0 .7-.7-.4-.6 1.4-1.4 2.3-1-.7-1.3 1.7-.3-.3-1 2-2-1-5-1.4-3-.6 .3-1 2.7-1 .6-1-1.3-1.7-.7-3.7 3.4-.3 1.3-1 1-4.7-4-1.6 1-2 3.7-2-1.4-1 0-2 2.7-2 .3-1.7 1.4-3.7 8-1.3 .3-1.3 1.3-1.4 3-1 1-3.6 0-2.7 2.4-1.7 .6-6 6.7-2 .7-3.6 3-2.7 3-1.3 3.3-2.7 3.3-3.3 2-1 1.4-2 .6-.7 1-2 0-1-.6-1.7 .3-3 4.3-1.6 1.4-2 5-2 1.3-1.4 2-2.3 .7-2-1.4-1.3 1-1.7 3-1 .7-3.3-1.7-4 5-2 1.7-3 .7-1 1-1.7 3.3-.7 3-.6 .7-8.4 .6-3.3 3-5 6-2.3 .7-1.7 3.3-2.7 2.4-1.6 .3-2 1.7 2.6 2.6 2.4 6.7 1-.7 .3 .7 3.3-2.7 1.7-.6 6-5 6-4.4 0-1 2-1.6 1.7 0 19.6-15 3.4-2 4-3.4 0-1 1.6-1.3 .7 .7 0-1.4 2.3-1.3 .7 .7 6-5 1.7-.7 2.3-2 0-1 3-2.3 .3 .6 3.4-2.6 .6 0 .7-.7-.3-.7 1-1 1.6 0 6-4.6-.3-.7 3.3-2.7 1.7 0 9-7.3 .7 .7 2-2 3-.7 .3 .7-.7 1.3-8.3 7-2 1-7.3 6-1.7 .7-7.7 6.3-2 1-8.6 7-.7 0-8.7 7-2 1-7.3 6-1.7 .7-7.6 6.3-1.7 .7-9 7.3-.7 0-8.6 7-1.7 .7-8.7 6.6 2 0 2 2 3.7-.6 2.7 3 3.3 .3 2 1.7 1.7-.4 1.3-1 1.3-2 .7 .7 2 7.7 1 1 34.7-26.4 7.6-5.3 .7 0-.3-1 1.6-1.3 1.4-.4-.4-1 .7-.6 1.7-.4 0-1.6 .6 1 .7-1 1.3-.4-.6-1 .3-.6 2.7-.7-.4-1.7 .7-.6 4-1-.7-2.4 1.4-1.3 6.6-3.3 2.4-2 2.3-.7 1.3-2 2.4-1.7 2-.6-.4-2.4 3-3 .7 2.7 1.7-2.3 2-.4-.7-1.6 .3-.7 1.4 .3 6.3-6 .7 1.4 2-2.7 .6 1.3 2-2.6 .7 1.3 2-2.7 .7 1.4 1.6-2 .4 .6 3.3-3.6 .7 1.3 2.6-3 .7 .7 16-12.4 .7 .7 1-.7 .3-1.3 1-1 3.3-2 6-5z"/>
<path fill="#0abe87" d="M284.8 538.2l-2 0-1.6 1.3 .6 .7-.3 .6-2 0-.7 2.4 1 .3-.3 .7 1.3 .3-.3 .7 1.7 0 1.6-1.7-.6-2 1-.3 0-1 1-.7zM306.2 528.8l-.7-1-3-.6-5 2 .7 .3-.4 1.3 .7 .7 .7-.7 1.6 .4 1-.7 1 0 .7 .7 1.3-1.4 .4 .7 .6-.3zM212.8 515.8l.7 .4 .3 1.3-.6 1.3 .3 .4-2.7 1.3 2.7 0 3 3 1-.3 0-1.7-2.7-1.3 4-3.4 0-1.3-3.6-.3zM330.5 513.8l-.7 1-4.3 2-2.7-.6-.6-2 2-2 2 0 1.3-.7 2 1 0 1zM232.5 506.5l1-.7 1.3 1.4-1 .6zM199.8 504.5l-2.6 1.3-2.4 0-.6 1-1.7 0-1-1.3 .3-1.7 .4 .7 .6-.7 .4 .7 .6-.7 .4 .4 2.3-1 2 .3zM247.2 503.8l-2.7 2-1-.3 1.7-1.3 .6-1.4zM236.5 502.5l1-2 1 0 1.7 1.3-2 1.7zM347.5 499.5l0 1.3-2 2.4-3.7 1.3-2.6 2.7-2.7 0-1.3-1 1-2 .6-.4 .7 .7 1-1.3 .7 .3 .6-1 1.4 1 1.3-1.7 .7 1 .6-.6 0-2-.6-.7 0-1.3 .6-.7 1.7 0zM348.2 492.2l1.3-1.7 .3 .7 1-1.4 .4 .7 2 0 .6-.7 2.7 2 .3 1.4-2 1.6-1.6 .4-4.4-1.7zM248.8 488.2l2.7 1.6 .7-.6 2 .6 1-2-.7 0-1.3-1.6-1.7 0zM163.2 485.2l-2.7 1-2.3 2.6 2 .4 .6-.7 .4 .7 2-1.7zM368.5 485.5l-2.3 2.3-2.7-.3 .3-.7 .7 0-.3-.6 .6-.7 .4 .7 1.6-1.7zM312.5 482.5l-3-1-2.3 1-2.4 2 1.7-.7 .3 .7 .7-.7 .7 .7 1.6-.7 .4 .7 .6-.7 .4 .7 1.3-1zM257.8 480.5l-1 1.7 .7 0 0 .6 3 1.7 0 1.3 1.7 .4 .6 .6-.3 .7 1 .3-.3 .4 2 .3 .3-.7-1.7-1 0-.6 1.4-.7 0-1-2-1.7 .3-.3zM137.5 479.5l2-1 2 1.7-2.7 1.3-1-.7zM366.2 478.8l-1-.3-2 1.7 .3 .6 1 .4 1-.7 .7 .7zM278.2 476.2l.6 .6 0 2 1.4 .4 .3-.7 1 0 .3 .7-1.3 1.3-2 .7-2 2.6-2-.6-1-1 1-.7-.3-1 .6-.3 0-1.4 1.7-2.3 .7 .7zM222.5 476.5l-1.7-.3-1.3 1.6 .3 .4-1.3 1 0 1 1.3 .3 .7-.7 .3 .7 1-1 .4 .7 1-1 0-.7-.7-.3zM139.2 474.2l2-.7 1 .7 0 .6-1.4 .7zM378.2 473.2l-1-1-3 .3-1.7 1.7 1 .3 .7-.7 .6 1 1.4-.3 .6 .7 1-.7-.3-1zM234.8 469.5l.4 1-1 .7 1 1 1.3-.7 1.7 .3 .6-.6-.6-1.7-1-.7-1.4 0zM324.8 467.8l1.7 .7 1.7-.3 .6 .6 1-1-.6-1-2.7-.3zM294.8 466.8l1.7-2 .3 .7 .7-.7 1.3 1 0 .7-1 .7-1.6 .3zM186.2 467.8l.3 .7 1.3 .3 .4 1 1 .7 1-.3 2.3 1.6 1.7 0 1-.6 0-1.4 1.6-1.3 2 1 .7-.3 2 .6-5.3-3.3 0-.7 1.6-1.3 0-.7-.6-.3-4.7 .3-.3 .7 1 .3 0 .7 .6 .3-1.6 1.4-1 2.6-1.7 0-1.3-1 0-1-.7-.3zM330.5 464.2l0 .6 1-.3 5 2.7 1-.4-2.3-4-2.7 0zM238.8 463.2l.4 .6 1.3-.6 1 0 .7 .6 .3-.3-1.3-1.3-1.7 .3zM158.2 456.8l-1-.6-2 0-2.7 2.3 3 .3 .7-1 .6 .7 1.4-1zM390.5 457.5l1-1.3 1.7 .3 .6-1 .7 .7 1.3-.4 2 1.4-1 1-2 .6zM349.2 455.8l-1.7-1-4.3 0-.4 .7 .7 .3 0 .7-1 1-3.3 .3-2 1-1 2 .6 0 .4 .7 2 0 .6-.7 .7 .7 1-1.3 1 0 .7-.7 1 1 1-.3 .6 1 .7-1.4-1.3-1 0-.6zM256.8 451.2l-.3 .6 1 .4 0 1.6 1.3 0 .7 .7 .7-.3 .6 .6 1-.6-.3-1-2.7-2zM167.8 449.8l1 .4-.3 .6 3 .7 2-1.7 0-.6-1-.7-3-.3zM414.5 445.8l-3 3-6.3 0-1.7-1.6-4.3-1.7-2 3 1 .3-.4 .7 3 1.3 0 1-.6 .7-2 .7-1.7 1.3-5.7 0-1.3 .7-1.3 1.6-3.4 .4-1.3 1-.7 1.3 1.4 .7 .3-.7 1.3 0 .7 .7 .3-.7 3 2.3 1-1 1 0 .4 .7 1.3-1 .7 .3 0 1.7-.7 .7 1 1.3-1.3 1.3-5.4 .4 0 1.3 1 .7 .7-.7 .3 1-2.3 3-1.7-1-2.6 0-1.7 1.3 1.3 1.7-.3 1.3-1 1-4.7 2.4-6.6 .6 0 1.7-3 3-1 0-2.7-2-.7 .7-3.3 1-2.3 1.6-2-.6-1.7 0-1 .6-3.3 0-.7 1 2 1 1.3 0 .7-.6 1.3 0 .7 .6 3.3-1.6 2.7 1.6-.3 .4 1 .6-.4 1-1 0-2 1.7-2-1.7-3.3 0-2-.6-3.3 .6-1 1.7-2 .3-.7 .7 0 1 4.7 1.7 0 1 1 .3-.7 1.7-6 .3-2.3-1.3-2.7 .3-1.7 1.3-.3 1 1 1 .7-.3-.4-.7 1.4-1.6 1 0 .6 1-1 .6-.3 1.4-2.3 2.6-1.7 0-2.3-1.3 0 1-2 1.7 .6 .6-.6 .7 .3 .3-1.7 .7-1.6-.7 .3-2.6-1-.7-2.7 2 0 .7-1.6 1.6 .3 .4-1.7 1.3 .7 1.3 1.7 .7-.4 1.7-3-.4-.3-1-1.7-1.3-2.6 1.3 2 1.7 .6-1 2.4 1.7-1 1.6 0 1.4-.7 .6 .3 .4-.6 .6-3-.6-1.7-1-1.3 0-2.4 1.3 .4 .3-1 .7 .6 .3 0 1-1 1-1.6 0-2 1-1.4-1-1.6 .7-.4 1 2 .3 .7-.6 2.7 0 1.3 1 0 1 2 0 .7 .6 .6-.6 0-1-1.6-.7-1-1 0-1 3-1 1.6 1.3 4.4-.6 1.3 1-1 2-3 1-2.7 2-.3 1.6-2.3 0-5.7 5.7-2 .3-3.3 4.4-4.4 2-1.6-4.4 1.3-.3-.3-1 1.6-1.3-3.6-1.7-.4-2.3 .7-.7 .3 .7 1-1 .4 .6 1-.6 .3 .6 2-2-5-.3-5.3 5-2.4 0-1 1.7 .7 1 .7-.7 .3 .7 1.3-.4 .7 .7-.3 1 .6 .3-.3 2 2.7 1 0 1 1 .4-.4 1.3-2.3 0-1.3 1 1 1.3-2.7 3-1 0-2 1.7-1 0-1.7-2.7-3-1.6-1-1.7 0-1-2.3 0-6.3 4.3 0 .7 1.6 .7 0 1 .7 0 .3 .6-3 1.4 1.7 0 2.3 2.3 2.4-1.3 .3-1-1.7-.4-1-1 1.4-3 1.6 .4 1 1.3 3 0 .7 1 .7-.7 1 .7 .3-.3 .7 1-1.7 1.6-3.3 .7-1 1.7 1 .3-1 1.3 1.6 0 3.7-3 2.3-1 2-2.3 1.4-.3 5-4.4 2.3-.3 4-4 2.7-.7 9.6-9 2.7-1.3 5.7-4.7 2-1 2.6-3 3.4-1 2-2.6 3.3-1.7 2.3-3 4-2 2.4-2.3 1.6-.4 3.7-3 3.3-1.3 5.4-6.7 2.6-1.6 3.4 0 1.6-3 2.4-2.4 3.3 0 1.3-2.6 2.4-1 2-2.7 2.6-1 7.4-6 2.3-.7 3-3.6 2.3 0 3.4-4.7 3-1 2-3 2.3-1 3-3 5.3-8.3 2-.7zM183.8 443.8l1-.6 .4 .6 1-1 1 0 2.6 2-2.3 1-1.7-.3-1 .7-1-1.4zM174.5 443.5l-1-.7-2 1.7 1.7-.3 .3 .6zM363.2 441.8l-2-1.3-2 1.3-.7 1.4 1-.4 .7 .7 .6-1 .4 .7 .6-.7 .7 .3zM331.2 439.2l.6 1.3-1 2 1 .3 0 1-2 1.4-1.3-.7-1.7 1.7-1 0-.6-.7 0-.7 1-.6-.4-.7-1.6 .7-2-.7 .3-1.7 1-1.3 .7 .7 1.6-1.7 .7 .7 1-1.4 1 0 .7 .7 1.3-.7zM344.5 433.5l0 .7-1.3 1-3.7 1.3-2.3 0-1.4 1.3-.3 1.7-1 1.3-1.7-1 .4-1.6 1-.4-.4-1 2.4-1.6 .3 .6 .3-1.6 2-1.4 3 0 .4 .7 .6-.7 1 0zM336.8 433.8l-3.3 1-2.7 3-2-.3-2.6-2 2.6-1.3 1.4 0 .3-1.7 1.3-1.3 .7 1 .7-.7 1 0zM389.8 429.8l-2.6-3.3-1.4 0-2 3.3-3.6 3.4-1.4 2.6-2.3-.3-1 1 1.3 .7 .7-.4 .7 1.4-3 3.6-1 .7-.7-.3-2 .6-.7 1-4.6-.3 0 1.7 1.6 .6 .7-.3 .7 .7 .6-.4 .7 .7-1 1.7-2.7 1-3.3 3.6-1-.6 .3-2-1.3-1-1.3 0-.7-.7-1.7-.3-2.3-1.7-1.7 0-1 .7 .4 .3-1.7 1.7 0 1.3 1.3 .3 1.4 2 1.6 .7 0 1 .7 .7-1 .6 .7 .4-1 .6 .6 .4-.3 .3-4.3 0-.7 1 1 1-.3 1 1.3-.7 .3 .7 3.4-3 2 0 .6 .7-.3 .6-4.3 3.4-2.4 .6-2-.6-.6 .6-1.7 .4-2 1.6 2 1.4-1.3 1.3-2-.3-2 2-1-.7-5 .7-1.4 1 .4 .3-1 .7-.4 1 1 .3 1.4-.7 .3 .7-2 1.3-2.7 3.4-2.3 1-1-1.4 .3-1 2-1.6-.3-1-2.3-.7-2.4-1.7-5.3-1-1.7 2.7 .7-.3 .3 .6 .7-.6 1.7 1 .3 1-1 2.6-2.7 2.4 2 1.3 .7-.7 .3 .7 1-1 2 0 .7 .7 .7-.7 1.3 1.3-.3 .4-3.7-.4-.7 1-1.3-.3-1 1.3 0 1 .7 .4-.7 1-3.7-.4-4.6 3 .6 1.4-1 1.6 .4 .4-1.4 1-2.6-1.4 .3 1-1.7 1.4 .7 2-1 1.3-8.7 5.3 .7 .7-1.7 1.3-.3-1.3-2-2-2-.7-1.3 .4 0 1 1 0 3.3 2-.7 1 .4 .3-2 1-1.7-.3-1 1 .3 1-2.3 1.6 0 1-1.3 1-1.4-.6 .4-2-1-1 .3-.4-3-.3-2 1-1 2.3-1 .7 1.3 .7 1.4-.7 .3 .7 .7-.7 .3 .7 1-.4 2.3 1.4-.3 1-1.7 1.3-1.6 .3-5.4 0 .7 .7 .7-.3 1 .6 0 1-4 2.4-2 2-2-2.4-3.4 0-1.6-1 0-1.3-2-1-1.4 0 1.7 1.3-1 1.7 0 1.3 1 .4-.3 .6 1 .7 0 .7 2.6 0 1-.7 2 1.3-.3 .7-1.3 .7-1.7 0-3.7 4.3-6 0-.3 .3 1 1 .3-.3 1 .7-2 1.6-3.3 1 1 .4-.3 1-3.4 2.3-2 3.7-1.3-.7 .3-2 1.4-.7-1-2 .6-.3-.3-1.3-2 .3-1.7 1.7 .4 1.3-2 2 1.6-1.3 2.7 3.3 1.7 0 3-2.7 2 1.7 2 5.7 1.3 0 3.7-3.4 3.6-2-.3-1.3 1.3-1.3 .7 0 5.3-4.4 .7 1 2.3-1.6-.3-1.4 5.3-4 .7-.3 .3 .7 .7 0 2.7-2.4 .6 0 .7-.6-.3-1.4 1-1 3.3-1.3-.3-1.3 4-2.4 .6-1.6 4-1.7 2.7-2 2.7-3 .3 .7 3-3.4 1-.3 .7 1 2.6-3 3.4-2 3-3 1.6-.7 3-2.6 8-5 12-9.7 1.7-.7 0-1.3 1 0 .7-1 1 0-.7-1 .7-1 2 .3 0-2.3 1.6 .3 3.7-3 1-.3-.7-2.3 1.7-.7 4.3-4.3 3.7-1.7 1.7-2.3 .6 2 1.4-2.4 .6 1.7 2-2.7 .7 .4 .7-1 .6 1 1.7-2.4 .3 1 2.7-2.3 .3 .7 .7 0 3.7-3.7 .6 1 3.4-3.3 .3 .6 .7 0 2.6-2.6 3.4-1.7 .3-2.3-1.3-4-.4-3-1.6-3.4zM194.8 426.8l.4 1 1-.3 .3 .7 .7-.7 1 0-.4-.3 .7-.7-1-1.3-1.3 0zM362.5 422.5l-.7-.7-4.3 .7-2.7 3-2 .7-1.3 1.3-1.7 .7-2.3 2.3-1.3-1 0-1.7 1.6-1.6 1 0 .4 .6 1-1.6-3.4-1.7-6.3 0 0 1.7-1.3 1 0 .6 1.3 .7-.3 1.3 1.3 0 0 1 .7 .4-2 2-3-.7-1.4-2.3-2-.7-3.3 1.7-1.7 0-1-.7-2.3 0-1 .7-1 2-3.3 2.3 .3 1.7-.7 1.6 2.4 .4 .6 1.3-1.3 1.3-2-.3-2.3 1-1.4 2.3-1.3-.3-1.3 .7-.7 1.3 .3 .3-1.6 2 0 .7 2.3 1.3 1.7 0 1-.6-.4-1.4 1-1.3 3.4-.7 1 .7-.4 1.7 1.4 1.3-1.7 2-3 .3-2 1.4-2.3 .3-1 1.7-2.7 1.3-2 0-2.7-2.3-3.6 0-1.4-.7-3.6-.3 .6 1.3-.3 .3 .7 .4-.4 .3 1.4 1.3-1 1.7-1.7 .3-1.7 1.7 1 0 .7 .7 .3-.7 1 1 .7-.7 .3 .7 .7-.7-1.3-2 1-1 1 0 .6-.6 .7 1 .7-.7 .3 .7 .7 0 .3-.7 2.7 2.7-2 1.3 .3 .7-1.3 1.3-2 1-3.7 .3-5.7-2.3-2 0-2.3 1-1.7 1.7 .7 .6 0 1.7 1 .7 .7-.7 1.6 1 0 .7 2.4 2.3-1.7 1-2.7 3.3-1.6 0-2 2-3-2-3 0-2.4-.6-1-1.4-1 .4-1.6 2 1.3 .3 1 2-.7 1-3.6 2.3 1.6 1-.3 .7 1 .3-.7 .7 .4 .3-4 1.4-.4 1.3 1.4 .7-3 4.6-1.4 0-1.6 1-2.4-.6-1.3 .3-.7 .7 .7 1.6-2.7 2.7-1.6 0-1.4 1 0-1.7 1-1 .7 .4 0-1-1 0-2 1.6-3 .4-1 2-2.7 .6-1.6 0-2.4-2.3-5 .3-2.3 2.7 .7 .3-2.4 1.4-2 2-2.6 .6-2 2.4-2 .3-1.7 1.3 .7 .4-.4 .6 1.7 .7 .7 1.3 2.6 0 .7-.6 .7 .3 3.3-3 .7 .7 2.6-2.4 1.7 .4 1.7-1.7 .3 .7 1-1 1.3 1-1 2.6-.6 .7-1.4 0 .4 .3-2.7 1.7-2 0-1 1.3 1 .4-2.3 1.3-1 1.3-1.4-2-3 .4 .4 .3-3 2.7 1 .3-.4 .7 .7-.7 1 0 .7 1-3.4 2.3 .4 .4-.7 1.3-4 1 2-.3 1.3 1.3 5.7-3.7 1.3 8.4 3-2 1.4 .3-.4-3 1.4-.3 2-2.7 .6 2.7 1.4-3.7 .6 2.3 .4-1.3 1.3-1.7 .7 .4 1-1.4 1 1.4 .6-1 1.7-.7 5.7-5.3 1.6-.4 0-1.6 2.4-1 1-1.7 2.6-.3 0-2.7 2.7-1.7 2.7 0 0-3 .6-.6 1.7-.4 2.3-2.3 1.7 .3-.3-1.3 1-1.3 .6 1.3 1-1.7 2.7-2.3 1.3-.7 2.4 0 3.3-4.3 2.7-.7 1.3-2 2-1 1.7-1.6 .3 1 1.7-2.7 .6 1.7 2.4-3 .6 1.3 0-1.3 1.4-1.4 .6 1.4 3-3.7 .7 1.3 10.3-7.6 1-1-.3-.7 1.3-.7 2.4-2.6 .6 1.3 4.4-3.3 0-1.7 .6-.3 .4 1 8.3-6 0-1.4 .7-.6 1.6-.7 7.7-6.3 .7 1 2-1.7 0-1.3 2-1.4 .6 1 1.4-1.6 4.3-3.4 3.3-1.6-.3-1.4 1.3 0-.6-1.3 1.3-1.7 1 1.7-.7-1.3 2.4-.4-.7-1.6 2.7-.7-.7-1.3 3.3-2zM338.2 421.5l-1.4 .3-1 1 1 1 1.7-1.3zM200.8 422.5l2.7 1.7-.3 .3 .6 .3-.3 .4 .7 .3 0 .7 1.3-.4 .7 1 1-1 0-.6-2-2.4 1-.6 0-1-1.4-.4-2.6 .7zM346.5 418.8l-.3 1.4 1.3 1 1.3-1 .7 .3-1.3-1.3zM212.8 415.2l-1-1-1.3 0-3.7 3.6 1.4 1 1.3-1 0-1zM239.2 409.5l-2.7 1.7-.7-.4 .7-2 .7 .4 1-.7zM215.5 411.5l1.3 .7 .7-.7 2.7 1.3 .6-.3-.6-1-.4-3-1-.3-1 .3zM270.2 407.5l-1-.3-1.4 .6-2.3 0-1.7 1.4 0 1 1.7 .6 .7-1 .6 .7 .7-1 .7 .7 2-1.7zM230.2 407.2l-5 1 0 1.3 2.3 .7 2.7-2zM227.8 403.5l0 1.7 1 0 0 1 2.4 .3 .3-1-3-2.3zM283.5 402.2l2 2-.7 2-2-1.7-.6-1.3zM334.2 401.2l-.4-.4-2 2-1.6 .7-3 4-3.4 1.3-1.3 1.7-2 .3-.3 .7 .6 .7-2 1.6-.6 1.4-1-.4-.7 .7 .3 .7-2.3 2.6-3.7-.3 0 1 .7-.7 1 .7-4.3 4.3-2.7 .4-1 .6-1.7 3-1.6 1.7-2-1-.7 .3 1.3 0 .7 .7-2.7 .7-1.6 1-2.4-.7-2.3-1.7-2.3 0-1.4 1.7 1 .3 0 .7 1 .3 .7-.6 1.3 0 1.4 1-.4 2-1.6 1.6-3.4 .4-2.3-2-2.7-.7-1 1-.3 2.3 1.3 .4 2.4 2-4.7 3.3-4.7-.3-3.3 2.6-7.7 0-2.3 1.4-1 1.3 1.7 .3 .6-.6 .4 .6 3.3 1.7 0 .7 1 .3-.3 .7 .6-.7 1.4 0-2.4-.7-1-1 .4-1.3 1.6-1.3 .4 .6 .6-.6 1.4 1 1-.4 .3 .7 .7-.7 2.3 .4 .3-.7 .7 1-1.7 1.3-2 .7-.6 2-5.4 1.7-3 3-4 1.6-.6 1 .6 .4-3.6 2.6-1.4-2.3 2-2.7-.3-1-1.7-.6-2.6 0-1 .6-.7 1.4 .7 .6-.4 .4 .7 0 .7 1.3 1.3 .3 1 2-1.3 1-3-.3-1.7-1.3-1 0-1 1.3 .7 .3-1.7 1.4-1 0-.3 1 1 0 0 1 .6 0 .4 1-1.4 1.3-2 4-3-.3-1.3 2-3 .6-1-1.3 0-1-2.7-.3-1.3 .6 .3 1.4-.6 1-2 0-1-1 0-2.4-2 .7-2 2.7 3 0 .6 .6 1.7 0 .7 .7-.4 .7 1.4 0 1.6 1 .7-.4 0-1.3 1-.3 1.3 .6-2.6 3.7-2.4 0-1.6 1.7-3.4 .6 .4 1-2 2.7-1.4-.7-1.3 0-.7 .7-1.3-1-1.7 0-1.6 1.3 1 1-.4 .4 .7 0 .3 1 .7-.4 .3 .7-.6 1-1.4-1.3-3.6 .3-1.4 1.3 0 2 1.4 1.4-1.7 2.3-1.3 .3-3.4 2.7-3 1.3-1.6-.3-1.7 1.3-1.3 0-1.4-1-2.3-.6-5 0-2.7 .6-2 3 .4 1.7 1 0 0 1.3 2 .7-.7 .7 3 1 3.3 2 2-.4 2.7-3 .7 0 2.6 7.4 2.7-1.7 2.7-2.7 .6 0 4-3.3 .7 0 4-3.3 .7 0 27-20.7 5-3 3-3 6.3-4 1.3-1.7 6.4-4.3 1.3-1.7 1.7-.6 0-1.4 3-1 0-2 .3 1 4.3-3.3 3.7-2 1.3-1.3-.3-1.4 1-.6 .7 .6 3.3-4 .7 1 1.3-1.6 .7 1 12.3-9.7 .7 0 5.6-4.7 1.7-.6 10.7-8.7 1.6-.7 2-1.6-.3-1 3-2.7 .7 1.3 8-6.3 .6 0 1.4-1.3-1-2.7zM238.5 398.2l-1-.7-2 1.7-2.7 0-.3 .6 1.7 0 .6 .7 1.4 0 1-.7 1.3 .4zM310.2 397.2l-.7-.7-.3 .3-1-1.3-1.4 .7-1.3-.7-3.7 3-2 .3-2 1.4-2.3 .6-3.3 0 0 1 1.6 .7-.3 .7-1.7 1-2 .3-2-1.3-.3-.7 .7-.3 0-1-.7-.4 2.7-1.6 1.3 .3 .3-2-1-1-2.6-1-1.4 0-2.6 1.7-1 0-.7-1.7-2 2 1 .7 2-1 0 1 1 1-.7 .6-6.3 0-4.3 3.4 3 0 3 1.6 0 1 .6 0 0 .7 1.4 1 .6 0 .4-.7 1.6 1-.3 .7 1 1-1 1-2.3 .3-.7 .7 1 .7-.7 1-2.3 .6-.7-.3 0-2.3-1.6 0-2.4 1-1.6 2.3 .3 .7 2.3 1 .4 1-1 .3-2.4-.7-2.3 2.7-1-.3 .3-1.4-1.6-1.6-2.7 0-1.7 .6-.3-1.3 1.3-1.7 1.4-.6 1.6 .3 0-1-2.6-.7-1 .4-2.4 2.3-2 0-1 1.3 2 1 .4-.3 1 1-1.4 1-3.6 .7-1.7 1.3-.3 1.3 2 0 .6 .7 1.7-1.7 1.3 .7 .7-1 .7 .7 1.3-1.4 .3 .7 1.4-.3 .6 .6-.3 .7 1 .3-.3 1 .6 .4-2.3 3-3.3 .6 1 .7-1.4 2-2.6-.7-2.7 2-2 0-.7 .7 .7 .7 0 2-1 1-3.3 .3-.4 .3 1.4 .7-2.7 2.3-3.7-1.3-1.3 .7 0 1-1 1-2.7-.7-1 2 1.4 .7 .6-.7 .7 .7-3.7 2.3-2.3 .3-1-2-1.7 .4-2 1.3-.3 1.7 1 .3-2.7 5.7-1.3 1-1.7 0-.6 1.6-1 0-1.7 1.4-1.3-.7-2 2.7-1-.4 .3-1.6-5-1-.7 .6 0 1 1 .4-.3 .6 1-.3 1.3 1 .7-.3 .7 .6 0 1-2.4 2.4-1 .3-2.6 3-1-.3 1.3-1-.7-3.4 .7-.3 0-.7-3.3-3.6-1.4-.4-4 3-2 .7-.6 1 .6 .3-.3 .4 1-.4 1.7 1.4 1-.4 2 1.4-.7 2.3 .7 .3-.4 1 .7 0 .3 1-2 2-.6-.3 0 1.3-4.4 2-2.6 2.4-4 0-.7-2-1.7-1-4.6 1.6-1-.6-.4-2.7-2 .7-.6 1-2.4 .3-2 3-3 2.3-.3 .7 1 .7 .7 0 .3-.7 .7 1 1-1 .6 .7 .4-1.7-1.4-1 1-.7 1.4 .4 .6-.7 4.7 4 4 0 .7-.7 .6 .7-1.6 1.7-1.7 .3-1.3 1-3.4 4-1.3 0-3.3 1.3-1-.3-.7-1 .7-.3-.4-1.4-2.3 0-1.3 .7 1.6 1 0 1.7-.6 .6-2.4 .4-4-1-.3 1.6 1 .4-1 1-1 .3-2-.7-1 2-1.7 .4 1.4 .3 .3 .7 2.3-1 3 1.6-.3 .7 1 .3-.3 1.4 1.6-.7 .7 1 4-3.3 1.7 3.3 1 3.7 1.6-1.4 .7 1.4 6-5.4 3.3-2 .4-1.6 2.3-.7 0-2 1 .3 .7-1.3 1-.3 2-2 2.3-1 2.3-2.7 .7 1.7 2-2-.3-.7 1-1.3 .6 1.3 1-1.7 3.4-2 5.6-5 .7 .7 7.3-5 0-1.7 1.7-.6 2-2 .3 .6 .7 0 16.7-13 7.6-5.3-.3-1 1.7-1.3 .6 1 9-7.4 4.7-2.6-.3-1.4 1.3-1.3 .7 1.3 4-3 0-1.6 .6-.7 2.7-.7-.3-1.6 .6-.7 .7 1.3 .3-1 1.7-.3-.7-1 .4-.7 3.3-.6-.7-1.7 .4-.7 1.6 0 3-1.6-.3-2.4 2.3-1.3 1.4-1.7 .6 2 2-1.6 1.7-.4-.3-3 2.3-.6 1.3-2 3.4-1.7 .6-1.3 1.7-1.4 2.3-.3 2.7-3.7 .7 2.4 2.3-3zM245.8 396.5l1 .3 0 1 1-.6 1 1 1.7-1.7 0-.7-2.7-.6zM297.2 392.5l-1-.7-3 .4-.7 .6 1.3 1 1.4 0 1-1 .6 .4zM263.8 380.2l-1-1.4-1.3 0-1.3 .7-1.4 1.7 .4-.4 0 1 2 .4 .6-.7 2 0zM269.8 378.5l.7 1.3 .7-.6 1.3 .3-1-1.3zM281.5 378.5l-1 0-2-1.7-1.3 0-2.4 2-2 3.4-3-1-5 .6-.3 .7 .7 0 .6 1.3 1.4-.3 .6 1-7.6 1.3-1 .7 0 1.3 2 .4 1-.7 1.6 1-2.6 1.3-3.7 3.7-.7-.3-.3-1.7-5.3 .3 0 1 .6-.6 2 1.3-.3 .7 1.3 .6-2.6 2.4-.7 1.6-1.3 1.4-2-.7-2 .7-.4 .6 .7 .4 0 .6-1 1.4 .7 .6-.7 .7-.7 0-2.3 2-3.7 .3-3.6 1.7-1.4-.3-.6 .3 .3 1.3-.7 .7-.6-.3-1.7 .6-3 0-1.3 1 .3 .4-1 1-.3 1.3 .6 .3-1.6 1-3.7-.6-1.7 1-2 2.3-1.6 1 1 .3-.4 .7 1.7 .3 0 1 1 1-2.7 3.4-3.6-1.7-1.7 1.3-.3 1-2.4 1.7-3.6-.7-1.4 1.4 3 1 1-.4 0 1 2.4 .7-.7 1-1.3-1-3 .3-1-.6-.4-1-1.6 .3-.7 1.3 5.3 2.7-1.6 2-1.4 .7-2.3 0-.3-1.7-1.7 0 0 .7 2 1-2 2-1 0-1.3-1.4-3.4 0-2.3-1.6-2 .3-1.3-1 1.3-1.7 1 0 .3 .7 2-1 1.4 .3 1-1 .3 .7 1-.7 0-1-.7 .4-1.3-.7-3.3 0-3.4 .7-3.6 3.3-.7 2.7-2.7 .3-.6 1 0 .7 1.6 .3 .7 .7-.3 .6 1 .4-.7 2 1 .3-.7 1.3 .4 .4-.7 .6 0 1.4 .7 .6-1.4 1-4.3 0-.7 1 2 .4 .7-.7 1.3 0 .7 .7-.7 1.3-4 0-1.6 1.7-1 2-.4-1.4-2.6-.6-1.7-1.4-4.7 0-.6 1.4 1.6 1-.3 .6 1 1-1.3 1-1 0-1 1.4 2.6 1.3 .7 1.3-2.7 3-1 0-2 1.4-4 .6-1.3-1 0-1 2.3-1.6 .4-1.4-1.7-.6-2 .3-2 1.3-3 0-2 1.7 0 .7 1 .3-.3 .7 2 0 .6 1 .7-.7 1.3 1-.3 .3 1 .4-.3 1 1.3 .6-1.7 1.7-2.3 4-3.7 0-.6 4.3-1 1.7-2-1.7 0-.6 1.6-1-.3-.7 1-.7 0-2 .7-.6 .6 .3 1-.7 0-1-2.3-1 0-1 1.7-1.3 .6 .7 1-1.4 .7 0-.3-1-1.4-.6-5.6 1.3-2 1.7-.7 1.6 .7 1-2.7 2.4 .7 .3 0 1 1-.3 1 .6 0 1-.7 .7-2-1.3-1 0-3.3 1.6 1.6-1 3.4 3.4 3.3 .3 2 1.7 1.7-.4 1.3-1 1.3-2 .7 .7 2 6.7 11.7-9 6.3-4 7.3-6.4 3.7-2 7.3-6.3 3.7-2 2.7-2.3 2.3-1 .3-2 2.7-.7 1-1.7 2.3-.6-.6-1.7 .3-.7 2 0 1.7-.6-.7-1.7 .3-1 2.4-.3 2-1.7 4.3-2 .7-.7 0-3.3 2-.7 1-1 2-.3 2.3-2.7 5.7-3 4-4.6 .6-.4 1 .7-.3-1.7 1-.3 1-1.7 1 2.4 5.3-4.7 .7-1.7 1.3-1.3 .7 1.3 2-2.3 .7 1 1.3-2 .7 1.7 2-2.7 .6 .7 5.4-5.4 .6 1.4 4.4-4.4 1.6-.6 3-2.7 5-3 2.7-2.7 8-5.6 1.3-1.7 3-2zM253.8 363.2l-.6 .3-1 2.7-1 .6-1-1.3-1.7-.7-3.7 3.4-.3 1.3-1 1-4.7-4-1.6 1-2 3.7-2-1.4-1 0-2 2.7-2 .3-1.7 1.4-3.7 8-1.3 .3-1.3 1.3-1.4 3-1 1-3.6 0-2.7 2.4-1.7 .6-6 6.7-2 .7-3.6 3-2.7 3-1.3 3.3-2.7 3.3-3.3 2-1 1.4-2 .6-.7 1-2 0-1-.6-1.7 .3-3 4.3-1.6 1.4-2 5-2 1.3-1.4 2-2.3 .7-2-1.4-1.3 1-1.7 3-1 .7-3.3-1.7-4 5-2 1.7-3 .7-1 1-1.7 3.3-.7 3-.6 .7-4 0-1 .6-2.4-.3-2.6 1.7-6.7 7.6-1 0-1.7 1-1.3 3-2.7 2.4-1.6 .3-2 1.7 2.6 2.6 1.7 5.7 4.3-3.3-.3-1 6.3-4.7 .7 1 3-2.3 0-1.7 9.3-6.3 3.7-3.4 .7 1.4 1.6-1.4 0-1.6 2-1 2.4-2.4 .6 1.4 2.7-2 0-1.7 2.3-1.7 .4 .7 .6 0 5.7-4.7 .7 0 0-1.6 7.3-5.7 3.3-1.7 4.4-4 5-3 4.3-4 .7 1 2-1.3-.4-1.3 3-2.4 .4 1 .6 0 2.7-2.3-.3-1 .6-.7 2-.6 3.7-3.4 .7 1 0-1.3 3.3-2.3 1-1.4 .7 1 5-4.3 .6 .7 2.7-2.7 .7 .7 2-2 .6 .6 3.4-2.3-.4-.7 1-.3-.3-1.7 .7-1 1 2-.4-1.3 .4-.3 1 .6-.7-1.6 1.7 0-.4-2 3-.7 2.4-1.7 0-2.6 5.6-1.7-.6-2 .3-1.3 2-.7 1.3-1.7 1 2 1.7-1.6-.3-1 .6-.7 3-1.3-.3-1 1.3-.4-.6-1.3 2.3-2 .7 1.7-1-5z"/>
<path fill="#47bf78" d="M293.5 532.2l-1.3-.4-1 1.4 1 .3zM241.8 501.2l-2.6 2.3 2 .3 1-.6zM188.2 500.5l-1.7 1 1.3 1.7-.3 1 .7 0 0 1 .6 .3 .7-.7 1 0-1.3-1.6-.4-1.7 .7-.3zM342.2 499.2l-1.7 0-1 1 1.3 .6 1.4-1zM182.8 474.2l.7 .3-.3 .7 1 .3-.4 1 .7 .7 1.7 0 .6-1 .7 .6 1.3-1-5-2zM286.2 463.8l.6 0 .4 1 2-.3 .3 .7 1-1 .7 .3 1.3-1.3-1.7-.7-2 0zM203.5 457.2l3 1.3 .7-.3-.4-1.4-1.3-1-1.3 .4zM401.8 454.5l1.4-1 1.3 1 .7-.7 .3 .4-.7 1.3-2.3-.3zM353.8 447.5l1.7 .3 2.3 1.7 .7-.7-.3-.6-1.4-.4-1.6-1.3zM414.5 445.8l-3 3-6.3 0-1.7-1.6-4.3-1.7-.4 .3 1.7 .7 .7 .7-.4 .3 1 .7-.3 .3 1 .3-.3 1.7 .6 .7-.6 1-3 .6-1 1 1.3 1-.3 1.4 .6 .6-1.3 1-2.3 .4-.7 1 0 .6 .7 .4-.4 1 2 0 1 1-2 2.6-1.3-.6-1.7 .6-1.3 2-3.3 2-1.7 2.7-1.7 .3-1.6 1.4 1-.7 .3 1-2.7 2.3-1.6 0-4 4-2 .4-2.4 2-2 .3-2 3.3-2.6 2-2 0-1.4 1-1.3 2-2.7 1.4 0 1.3-3 .3-3.3 2.7-2.3-.3-1 .6-1.7 4-2 2.4-3.7 1.3-2.6 2.7-5.7 3.6-4 4.4-2.7 .6-2 2-3.3 1.4-3 4-1.7 .3-2.3 2 1 0-1 1.3-1.7 1-2.6 0-1.7 1.7-1 2-3 2-2 .3-1.7 1.7-.3 1.3-2.7 2.4-2.6 .6-4 3.7-3 .3-1 .7-2.4 3.7-5.3 3.3-2.3 3 4.3-3.3 1.3-.4 2-2.3 2-1 7.4-6 4.3-2.3 3.3-3.7 3.4-1.7 4.6-4 2.7-1.3 5.7-4.7 2-1 2.6-3 3.4-1 2-2.6 3.3-1.7 2.3-3 5-2.7 2-2.3 1 0 1.4-2 3-1.3 3.3-4 2.7-1 2-2.4 2.6-1.6 3.4 0 1.6-3 2.4-2.4 2.3 0 2.3-3 2.4-.6 2-2.7 4.3-2.3 5.7-4.7 2.3-.7 4.3-5 2-1 2.4-2.3 3-1 2-3 2.3-1 4-4.3 .3-1.4 2.4-2.6 1.6-3 2-.7zM278.5 442.8l-1.3-.6-1.4 .3-1.3 1.3 1.3 1 .7-1 .7 .7 1-.7zM387.5 426.8l-2 0-1.7 3-3.6 3.4-3 6.6-3 2.7-3.4 4.7-4.3 2.3-3.3 3.7-1 2-1.7 1-2.7 3.3-3.6 2.7-4.7 1-3.3 4.3-2-.3-3 3.3-2.4 .3-4.3 3-2.7 3.4-2 .6-2.6 3.4-3.7-.4-3 4.4-3.7-.4-1 .7-.3 1-1 .7 0 1-1.3 2.3-1.4 1.3-2.3 .4-4.3 6.3-2.7 .3-1 1.4 .3 .3-1.3 1.3-2 .7-3.3 3-1.7-.3-1.7 2-1.3 .6 .3 .4-1 1.3-2 .7-2.6 3.3-1.4 1-1.3 0-3 3-3.3 1.7-1 0-5 4.6-2.7 .4-4.7 5.6-1.6-.3-4 2.3-2.7 3-2.7 1.7-1.6 3.3 1-.3 2-2 2 2 1.6 3.7 7.4-6 3.3-1.7 9-7.7 2-1 5.7-4.6 3.6-2-.3-1 2-.7 5-5.3 .7 2-.4-1.7 4.7-2.3-.7-1.4 1.4-1.3 .6 1.3 2.4-3 1 0 3.3-2.6 2-.4 2-2.6 .3 1 5-4.4 3.4-2 1.3-1.6 5-3 .3-1.7 7.4-5-.4-.7 1-.3 1-1.3 .7 1 1.7-2.4 .6 1.4 3-2.4 0-1.6 1.7-1 1 0-.3-1 .6-.7 .7 1.3 .7-1 1.3-.3-.7-2 2.4 0-.7-1.3 .3-.7 1.7-.7 2.7-2.3 3.3-1 3-3.3 2.3-1.7 2.7-1 2.3-4 .7 2.3 .3-1 4.4-4 .6 1 1.4-2 .6 1.4 2.4-2.7 2.3-1.7 .7 1 2.6-3.3 .7 1.3 4.3-4 .4 1 .6 0 1.7-1.3 0-1.7 2.7-1.6-1.4-6-1.6-3.4-.4-3zM342.2 425.2l.6 1.6 .7 .4 1-.7-.3-1.3zM362.5 422.5l-.7-.7-4.3 .7-2.7 3-2 .7-4.3 3-4.7 5.6-4.3 1.7-2.3 0-1.4 1.3-1 3-3 3.4-2 1-.6-.7-1.4 .3-3.3 4.4-2.3 .3-4.4 4-1.3-.3-4 4-3.3 .3-3 3.3-2 .4-2 2.3-1.7 1-1.3 2.3-3.4 .7-3 4.3-1.6-.3-1.7 1-2.7 3.7-3.3 1.3-3 3-2 .7-2.7 3.3-4.6 2.7-2 0-4 5.6-2.4 .4-2.6 2.6-2 .4-2.4 2.3-1.6 0-2 1.3-3 3.4-2 .6-2 1.7-3 .3-1.4 1.4-1 2.6-1.3 1.7-2.3 .3-2 2-3 1.7-1.7 2-2.7 0-.6 2-2.4 1.7-1.3 3.6 5-3 1 4.7 .7 0 .3 2.7 .3 .3 1.7-1-.7-2.7 .4-1.3 3 .7 1.3-1.7 1-2.7 .7 0 .3 2 1.7-3.3 .6 2.3 .7-1 .7 .4 1.3-1.7 2.3-1.3-.6-1.4 .3-1 2.3-1 2-1.6 .7 .6 2-1.6 1.3-.4-.6-1.6 1.6-.4 1.4-2.3 .6 2 .7 0-.3-2.7 2.3-.3 3-1.7 1 0-.3-3 3.6-.6 0-2.4 .7-.6 .7 1.6 1.6-1.3-.6-1.3 .6-.4 .7 .7 0-2 1.3-1 .7 1.3 .3-1.3 1-1 1 1.3 1.7-1.3 2.3-.7-.6-2.3 .3-1.3 2 0 2-2.4 .7 2 .6-.3 .4-3 1 0 2.3-2.7 2-.3 1-1.3 .7 1.6 1-2.3 .6 1.3 3-3.6 .7 1.6 .3-.3-.6-1.3 1-1 .6 2 .7-1.7 2.3-2.7 .7 2 2-2 4.7-3.3-.4-1 .7-.7 1.7-.6 2.3-2.4 2.3-1 3-3.3 4.7-3.3 .7 0 2.3-2.4 .7 1.4 1-.7-.4-1.7 3.4-2.6 2.3-.4 11.7-9.6 2.6-2 1.4-.4 0-1 1.6-1.3 .4 .7 1.3-1.7 .7 1.3 2.3-2 .7 0-.7-1.3 1-.7 .7 .4-.4-1.4 1.4-1.6 .6 1.6 .7 0-.7-1.6 2-.4-.3-2 2.3 0 .4-.3-.7-1.7 3-1.6zM221.8 419.5l.7 .7-2 1.3-.3-.3zM334.2 401.2l-.4-.4-2 2-1.6 .7-3 4-3.4 1.3-9.6 10.7-2.4 .3-3.6 4-2.7 .4-1 .6-1.7 3-2 2-3.6 .7-2.7 2.7-4.3 3-3.4 3.6-3 1-4.6 5.7-2 0-1 1.3-2 1-2 2.7-2 .3-4.4 2-4.6 4.4-1 1.6-1.7 0-6.3 5-1.4 0-.6-.6 .3-.4-1-.6-1.3 0-1.7 1.3 .7 0 0 .7 .6 0 .4 .6-3.4 2.7-1.6 4-1 1-5.4 3-2.3 .7-2 3-2.3 2.3-1.4 .3-1.6 2-2 0-2 1.7-2.7-.7-3.7 5-1.6 0-1.4 .7-3.3 5-1.3 .3-3.4 2.7-2 .7-4 4.6-2.3 .7-1 1.7-.3 2.6-1 1.4 3.3-3.4 .7 0 1 2 .6 3.4 .7 .3 2-1 3.7-3-.4-1 3.4-2.7 .6 1.4 3-3 2.7-1.4 0-1.6 2.3-1.4 1.4-1.6 .6 1.3 4.7-4 2-1-.3-1.3 4-2.7 1-1.3 .6 1.3 1.4-1-.4-1.3 4-3 .4 1 .6 0 2.4-2.4 4.3-2.6-.7-1.4 8-5.6 1.4-1.7 .6 1.3 1-.3 0-2.3 1.7-.4 1.3-1.6 2-1 2.7-2.7 .7 0 2.3-2 5.3-2.7-.3-.6 .7 0 5-4.7 4.3-2-.7-1.3 1-.7 .7 .7 1.7-1.4 2.3-3.3 .7 1.3 1-1.6 .6 1.3 2.4-1.7-.4-1.3 2.4-1.3 3.3-3 .3 1 .7 0 4.3-3.4 0-2 1.4-.6 .6 1.3 2.7-2.3 .7 0-.7-1.7 3.7-2.3 3.6-3.4 .7 1.7 1.3-1.7 3-2-.3-1 4-2.6 .7-1.4 2-1.6 5-3 2-2 1 1.3 3.6-2.7-.6-1.3zM309.8 396.8l-.6 0-1-1.3-1.4 .7-1.3-.7-3 2.7-2.7 .6-3 1.7-4 3.3-3.6 2-1 1.4-1.4 0-1 .6-3.6 4.7-3.4 1-4 4-3-.7-2 2-1.3 2.7-2.7 1.7-3 3.6-2.3 1.4-2.3 3.6-2.4 .4-1.6 1.6-2 1-1.7 2-1.3-.3-3 2.7-3.7 .3-2.3 3.3-1.4-.3-3 2-2.3 .3-2 1.7-1.7-.3-3 6-3.3 3-1.3-.4-1.7 1.4-1.3-.7-1.7 2.3-1.7 1-3 3.4-1 .3-2.6 3-2.4 0-1.3 1-3.3 4.3-4.4 2-3 2.4-1 1.6-1.6 1-2 .4-3 3-1.7 .3-4.7 5-3.3 .7-2.7 2.6-1.6 0-.4 1 1 .7-2.3 1.7-1.3 3.6 3.3-2.6 .7 .6 1.3 4.4 2-1 4-3.4 .7 1.4 2.6-2 0-1.7 5.7-3-.7-1.7 .4-.6 .6 .3 2.4-1.3 1-1.4 2.3-1 2.7-3.3 .6 1.7 2-1.7-.3-1 1.3-1.3 .7 1.3 1.7-2 5.6-3.3-.3-1.4 1.3-.6 1-1.4 .7 .7 1.3-1.7 .4 1 .6 0 4.4-3.3 .6 0-.6-1 .3-1 3.3-1 4.4-4.7 2-.6 2.3-2.7 .7 1.3 1.3-.6 0-2 1.7-.7 3.6-3.3 .7 1.3 3.3-2.7 0-1.6 4.7-2.4 4.3-4.3 3.7-2.3 1-1.4 .7 1.4 2.6-2-.3-1.4 3.3-2.6 2-1 7.4-5.7 2-.3-.7-1 .3-1 .7 0 .3 .6 .4-.6 1.6-.4 0-2 1.7-1 1.3 0-.3-1 2.7-1.6 1-1.4 2.3-.3 .7-.7 0-2.6 .6 2.3 1.7-2.3 2.7-2.4 3.3-.6 .7-1.4 2-1.3-.4-1.7 2-2.3 .7 2.3 2-2 1.3 0-.6-2.3 .6 0 0-.7 2.4-1.3 .6 1.3zM285.8 396.8l1-.3 .7 1 2-1.3 .3 .6 0-.6-3-.7zM281.5 378.5l-1 0-2-1.7-1.3 0-2.4 2-1.6 3-1.7 .7-2.3 3-3.4-.7-.3 .4 1 1-1.7 2.3-3.6 1.3-4 4-3.7 2-3 4.4-1 0-.7 1 .4 .3-2.4 2.3-3.3 1.7-3.3 3.7-2 .6-2.7 2.4-1.3 0-3 3.3-2 .3-.7 .7 1-.7 .3 1.4-1.3 1.3-2 1-1.3-1-1.7 .3-.3-1 1-2-2.4-.6-2 .3-2.3 3.3 .7 0 0 1 .6 0 0 .7 1.7 1-2.7 2-3.6 4.7-3 1.6-4 4.7-.7 0-3.7 2.7-2.3 0-2 2-3.7 0-.6-.7-1.7 .3-2-.6-1.3 0-1.7 1.3 2 1.3 1-.3 .7 .7 .6-1 .7 .6 .7-1 1.6 1-1.6 2-3.7 2.4-2 .6-2.3 0-1.7 2-.7 2-2.3 2.4-2.7 .6-2-.3-1.6 1.7-1 2-2.4 .6-3.6 4.7-7 5-2.7 3.3-1.7 .4-1.3-.7-1.3 .7-3.7 5.3-3.3-.3-1.4 5.6-2 2 1.4 0 2.6-3 .7 .7 1.3 5 6.7-4.3 2.7-2.4 .6 0 1-1.3 3.4-1.7 0-2.3 .6 0 3.4-3 .6 1.7 3-3.4 6.4-3.6-.4-1.7 2-1.7 .7 1.4 2-2 3.3-2 1.4-1.7 2.3-1 .7-.7-.4-1.3 1.7-1.3 .7 1.3 1.3-1.3-.3-1 5.3-3 1-2 2.7-.4-.7-1.6 4.3-2-.6-1.4 .3-.6 1.3-.4 2.7-2.6 8-4.4-.3-1.3 2-1.7 1-1.6 .6 2.6 1-1-.3-2.3 2.3-2 2-.3 4-4 .7 1.3 1.3-.7 .4 .4-.7-2 .3-.4 1.7 .7 1-2.3 1.7-2 3.6-1.7 2.4-2.3 .6 1 1.7-2.7 .7 2.3 .6-2 1.4-1.3 .3 1.3 2.3-2 .4 .7 6.6-6 .7 .7 2.3-2.4 3.4-1.6-.4-1 2-2 .7 1.3 2-1.7 0-1.6 2.3-1 2.4-2.4 .6 1 9-6.6 1.4-1.7 2-1-.4-1.7-1.3-1.6zM253.8 363.2l-.6 .3-1 2.7-1 .6-1-1.3-1.7-.7-3.7 3.4-.3 1.3-1 1-5-4-1.3 1-2 3.7-2-1.4-1 0-2 2.7-2 .3-1.4 1-2 3.4 0 1-2 4-1.3 .3-1.3 1.3-1.4 3-1 1-3.6 0-2.7 2.4-1.7 .6-6 6.7-2 .7-3.6 3-2.7 3-2.3 5-1.7 1.6-3.3 2-1 1.4-2 .6-.7 1-2 0-1-.6-1.7 .3-3 4.3-1.6 1.4-2 5-2 1.3-1.4 2-2.3 .7-2-1.4-1.3 1-1.7 3-1 .7-3.3-1.7-4 5-2 1.7-3 .7-1 1-1.7 3.3-.7 3-.6 .7-4 0-1 .6-2.4-.3-2.6 1.7-6.7 7.6-1 0-1.7 1-1.3 3-2.7 2.4-1.6 .3-2 1.7 2.6 2.6 1 3 1-1.3 6-4.3 2-.7 2.7-2.7 2.3-1-.3-1 1-1 .7 1 1.3-.6 0-2 1.3-.7 .7 1 2-2 1.7-.7-.4-1.3 1-.3 1.4-1.7 .6 1 1-.7 1.4-2 1.3-1 2-.3 4.3-4.3 3.4-1.7 2.3-2.7 .7 1.4 2.3-2 .7 0 .6-.7-.6-1 .3-.7 3-1.3 7-5.3 0-1 .7-.4-.4-.3 1.4-.7 1.3-1.6 .3 .6 .7-.3 1.3-2 .7 1.3 2-1.6-.3-.7 7-5.7 .6-.3 .7 1 1.3-2 4.7-3.7 .7 0 2.3-2 1.7-.3-.4-1 1-.3 2-2.4 .7 1 1.3-1.6 3.4-2 3.3-3.4 1 1.4 1-1-.3-1.4 .6-.6 .7 1.3 3.7-4 .6 1.3 2.4-2.6 .6 1 2.4-2.4 2-.6-.7-1.4 1.3-1.6 1 2-.6-1.4 1.6 0 0-2.3 2 .3 0-2.6 2-.7 1-1 2.7-.7-.7-1.6 .7-1 6-2.7 1.3-1.7 2.4-1.3-.4-1 1.4-1.3 2-.4-.7-1 .3-.6 2 0 2-2z"/>
<path fill="#97be6d" d="M298.8 538.8l-3.6 1-4.4 4-2.6 0-1 .7-3.4 5 2.4-2.3 4.6-3 3-3 2.7-1.4 .3-.6zM325.5 518.5l-1.3-.7-4 4.7-7.7 5.7-2.3-.4-1.7 1.7-1 2-3 2-2 .3-3 4 2.3-2.6 3-1.4 4.7-4 3.3-1.6 5.4-4.4 2-1 4-4 1 .4zM358.8 494.2l-2-.7-1 .3-2.3 2.4-3.3 0-1 .6-2 4.7-1.4 1.7-4 1.3-2 2 0 1-1.3 1.3-2.3 0-9.4 8.7 6.4-5 1.6-2 1.4-.3 .6-1 2-.4 3.4-4 4-1.6 1.6-2.7 3.4-2 1-1.3 1.6-.7 0-.7 .7 0 2-1.6zM377.5 479.8l-1.3 0-2 1-2 2 0 .7 3-3zM397.5 465.2l-1.7 0-5.6 2.6-2.7 3.7 8-6zM414.5 445.8l-3 3-4.3-.3-.7 .7 0 1.3 .7 1-.4 .7 1 .3-1.6 2-2.7 1.3 0 1 .7 .4-1 1.6-1.7 0-1.7 1.7-2 4 2.4-3.3 2.3-.7 2-2 5.3-8.3 2-.7zM214.5 431.8l-2.3 0-.7 .7-1-.7-3.3 3.4-4.4 2-2.3 0-2 2-2 0-5 5-4 1.6-2.3 0-1.7 2-.7 2-2.3 2.4-2.7 .6-2-.3-1.6 1.7-1 2-2.4 .6-3.6 4.7-7 5-2.7 3.3-1.7 .4-1.3-.7-1.3 .7-3.7 5.3-3.3-.3-1.7 7.3 2.3-2.7 .7 .7 .3 2.3 .7 1 8.3-5.6 .4-2.4 1-.6 .6 1.6 3-2.6 2-.7-.6-2 3-2.7 .6 2 1.7-2.3 2.3-2 6.7-3.3 2.7-3 1.6-1-.3-1 .7-.7 1.6-.7 1-1.3 .7 1 2.3-1.7-.3-1.3 3.3-2.7 4-1.6 2-2.4 .7-1.6 1 2-.3-2 2.3-.4-.3-1.6 3.6-2.4 1 .4-.6-1.4 3.6-2.3-.3-.7 1-.3 .3-1.3 .4 .6 1.6-.6 1.4-2 2-.7zM387.5 426.8l-2 0-1.7 3-3.6 3.4-3 6.6-3 2.7-3.4 4.7-4.3 2.3-3.3 3.7-1 2-1.7 1-2.7 3.3-3.6 2.7-4.7 1-3.3 4.3-2-.3-3 3.3-2.4 .3-4.3 3-2.7 3.4-2 .6-2.6 3.4-3.7-.4-3 4.4-3.7-.4-1 .7-2.6 5-1.4 1.3-2.3 .4-1 1-4.3 7-2 .3-1.7 1.3-2 .7-3.3 3-1.7-.3-1.3 1.3-.7 1.7-1 1-2.7 1-4 4.6-2.3 1-2 2-4.3 1.4-5 4.6-2.7 .4-4.7 5.6-1.6-.3-4 2.3-2.7 3-2.7 1.7-1.3 2.3 2.7-1.3 2 2 .6 2 4.4-2.7 2.6-2.6 3.7-1.7 2.7-3 5-3.3 2.6-3 2.4-.7 4-3.7 3.3-1.6 0-2 1.3-.4 1.4-1.6 .6 1 .4-1 2.6-2 1-1.7 1 1.7 1.4-.4-.7-2.3 1.7-1 2.3 0-.7-1.3 .4-1 .6-.4 .7 1 1.3-2.3 .7 2 1.3-1 0-1.7 2.7-2 2-.3 .7-.7-.7-1.3 1-1 .7 1.3 1-1.6 .6 1 2-2.4 5-2.6 3-3 3.4-2-.4-1 1-.4-.3-.6 2-1.7 .3 .7 3.4-3.4 2 0 .3-.3-.7-1 2-.7 1.4-2.3 .6 1 1.4-1.7 1 1.4 1-1-.4-1.7 2.4-.7-.4-1 1-.3 2-2.7 .7 1.7 1.3-1.3 .7 0-.7-1.4 1.7-.3-.3-1.3 5.3-4.7 2-.3 5.7-5.4 2.3-.3 2.3-3.3 .7 2 1-2 2.3-1.7 .4 .3 1.3-2.3 .7 2 1.6-2.7 .7 1.7 .3-1 4.7-4 .7 1.3 2.3-3.3 .7 2 4.3-5 .7 1.3 2-1-.4-1.6 3-1.4-1-4.6-1.6-3.4-.4-3zM362.5 422.5l-.7-.7-4.3 .7-2.7 3-2 .7-4.3 3-4.7 5.6-4.3 1.7-2.3 0-1.4 1.3-1 3-3 3.4-2 1-.6-.7-1.4 .3-3.3 4.4-2.3 .3-4.4 4-1.3-.3-4 4-3.3 .3-3 3.3-2 .4-2 2.3-1.7 1-1.3 2.3-3.4 .7-3 4.3-1.6-.3-1.7 1-2.7 3.7-3.3 1.3-3 3-2 .7-2.7 3.3-4.6 2.7-2 0-4 5.6-2.4 .4-2.6 2.6-2 .4-2.4 2.3-1.6 0-2 1.3-3 3.4-2 .6-2 1.7-3 .3-1.4 1.4-1 2.6-1.3 1.7-2.3 .3-2 2-3 1.7-1.7 2-2.7 0-.6 2-2.4 1.7-1 2.6 3.7-1.6 .7-1 .6 .6 .7 4.7 2-2 2.7 .7-.7-3.4 3-3 .7 1.4 0 1.6 1.6-3.6 .7 2.6 1.3-2.6 .7 .3 6.3-3.7-.6-1.6 .6-1 2-1.4 .7 1.4 2.3-2.4 1.4 0-.7-1.6 2-1.7 .3 1.3 1.7-1.3 1.7 0 0-3 3.3-1.7 2.7-.3-.7-2.3 .7-1.4 2 .7 1.6-1.7 1 0-.6-1.3 1.6 0 2.7-3.7 .7 1.4 3.6-3.7 2.7-.3-.7-2.4 1-.3 .7-1 .7 1.7 1-1.4 2-.3 2.3-2.7 1.7-.3 0-3.3 .6 2.6 2-3.3 .7 1.3 2-2.6 .7 1.6 1-1.3 .6 0 2.7-3.7 .7 1.7 5.3-4.7 2-.6-.7-1 .4-.7 2-.3 2.6-3 2.7-1.4 6.3-5.6 2.4-.7 5.3-5.3 .7 1.6 1.3-.6 0-2.4 1.7 0 4.3-3.3-.3-1 1-.3 1.3-2 .7 1.3 6.6-5.7 1.4-.3-.4-1 1 0 0-1.7 1.4-.6 .6 .3 .7-.7 .7 .4 1.6-2 .7 1.6 .7-.6-.7-1.4 2.3-.3-.6-1.3 1.3-1.7 .7 1.3 .6 0 0-2 2.4 0 0-2.3 2.6-.3-.6-2 1.6-1.4zM334.2 401.2l-.4-.4-2 2-1.6 .7-3 4-3.4 1.3-9.6 10.7-2.4 .3-3.6 4-2.7 .4-1 .6-1.7 3-2 2-3.6 .7-10.4 9.3-3 1-4.6 5.7-2 0-1 1.3-2 1-2 2.7-2 .3-4.4 2-4.6 4.4-1 1.6-1.7 0-6.3 5-2.4 0-1 1-2 .7-2 2-1.6 4-1 1-5.4 3-2.3 .7-2 3-2.3 2.3-1.4 .3-1.6 2-2 0-2 1.7-2.7-.7-3.7 5-1.6 0-1.4 .7-3.3 5-1.3 .3-3.4 2.7-2 .7-4 4.6-2.3 .7-.7 .7-.6 3.3 1.6-1.7 1.4 0 1.6 4.4 2-1.4-.3-1.3 .7-.7 2-.6 5.6-5 .7 1.3 2.3-2.7 2.7-.6-.7-1.7 1.4 0-.4-.7 1.7-1.6 .3 .6 2.4-2.6 1 1.3 2.6-3 2-.3-.6-1 .3-.7 2.3-.7 2.4-2.6 7.3-5.7 .3 1 1.7-1-.3-1.3 1.6-1.4 .7 1.4 1.7-1 .3-2.4 5.3-4 2-.6 2-2.4 .7 1.7 1.3-1.3 0-2 2-.7 1.4-1.3 1.6-.4 3-3.3 6-4 1 0-.6-1.3 1.3-1.4 .7 1.4 1-.7 3-4 .6 2 1.4-.3-.7-2.4 1-.6 2.3-.4-.3-1.6 .7-.7 .6 .3 1.4-.6 3-3 .3 1 1.7-2 .6 1.3 .7-.7-.3-1 2.6-1.3 3.7-4 .7 2 2.6-3 3-1.7 0-2 2-1.3 .7 1.3 2-1.6 .7 0 .6-.7-.6-1.3 .3-.7 3-1.3 2.3-2.7 .7 1.7 2.3-2.7 2.7-1-.7-1.3 3.4-1.7 .6-1.7 1.4-1.3 .3 1.3 .7 .4 2.3-1.7-.3-2 1-1 2-.7 2.3-2.3 .7 1.3 1-.3 3-2.7zM302.8 399.8l-1.3-1.3-3 1-5.7 4.3-2.3 1-2.3 2.4-1.4 0-1 .6-3.6 4.7-3.4 1-4 4-3-.7-2 2-1.3 2.7-2.7 1.7-3 3.6-2.3 1.4-.7 1.6-3 3.7-.6-.3 .3-1-.7 0-1.6 1.6-2 1-1.7 2-1.3-.3-3 2.7-3.7 .3-2.3 3.3-1.4-.3-3 2-2.3 .3-2 1.7-1.7-.3-3 6-3.3 3-1.3-.4-1.7 1.4-1.3-.7-1.7 2.3-1.7 1-3 3.4-1 .3-2.6 3-2.4 0-1.3 1-3.3 4.3-4.4 2-3 2.4-1 1.6-1.6 1-2 .4-3 3-1.7 .3-4.7 5-1.3 0-3 1.3-2.7 3.7-2.3 1.7-1 2.6 3-2 2 5.4 1-.7-.7-1.3 3-2.7 .7 0 1-1.3 .7 1.6 2.3-2-.3-1 2.3-1.3 1.3-1.7 3-1.6 1 .3-.6-1.7 .3-.6 5-2.7 2.3-3 .7 1.7 2.3-2 1 0-.3-2.4 .7-.6 .6 1.6 1-1.6 3.4-1.7 1.3-1.3 2.3-.7-.6-1.7 .3-.6 2-1.4 .3 1.4 1.7-2.4 .7 1.4 3.6-3 .7 0-.3-1.4 .6-.6 4.4-2 2.6-3 5-3.4 1-1.3 .7 0 7-6 .7 1.3 2-1.3-.7-1.3 1.3-1 1.7-.4-.3-1.3 1.3 0-.3-1 1-1 .6 1 2-2.3 .7 1 1.3-1.7 3.4-2 8.6-7.3 3.7-1.7-.3-1.3 1.6-1.4 .7 1 2.3-2.3 1.7-.7-.3-1.3 1-.3 1-1.4 .6 1 .7-.3-.3-1 1.3-.7 .3-1.6 1.4-.7 1.3-1.7 .7 .7 1-1.7 2.3-2 2 0 4.3-5 1.4-1 2.3-.3 1.7-1.3 0-1 1 0 1.6-2.4 .7 1 2.3-3.6 1.4 1zM281.5 378.5l-1 0-2-1.7-1.3 0-1 .7-3 4.3-1.7 .7-2.3 3-2.4 .3-2 2.7-3.6 1.3-4 4-3.7 2-3.7 5.4-3 2.6-3.3 1.7-3.3 3.7-2 .6-2.7 2.4-1.3 0-5.4 6.3-2.3 1-1.3-1-1 .3-1.7 1.7-4 2.3-4.3 5.4-3.4 2 .7 .6 1.3-1.3 .4 .7 2-2 .6 .6 1-1 .4 .7 1 0 .3-.7 .7 1.4 2.3-1.4 1.3-1.3 .7 0-.7-1.7 4-2.3 .7-1-.7-1 1-.3 0-1.4 1 .7 .7-1 .3 .7 1.4 .3 2-3.7 .6 3 1.4-1.6 3.6-1.7-.6-1.7 .3-1 1 0 1.3-1.3 .4 1 1.3-2.3 .7 1.6 .6-1.6 1-.7 .7 1.7 2.3-2.4 0-1 1.7-1.6 .7 1.3 2.6-2.3 .7 0 2.7-3 .6 1 2.4-2.4 1.6-.6-.3-1 1.3-.4 3.4-3.6 2.6-1 4-4 .7 1 2-1.7 .7 0 7.3-5.7 0-1.3 .7-.7zM253.8 363.2l-.6 .3-1 2.7-1 .6-1-1.3-1.7-.7-3.7 3.4-.3 1.3-1 1-5-4-1.3 1-2 3.7-2-1.4-1 0-2 2.7-2 .3-1.4 1-2 3.4 0 1-2 4-1.3 .3-1.3 1.3-1.4 3-1 1-3.6 0-2.7 2.4-1.7 .6-6 6.7-2 .7-3.6 3-2.7 3-2.3 5-1.7 1.6-3.3 2-1 1.4-2 .6-.7 1-2 0-1-.6-1.7 .3-3 4.3-1.6 1.4-2 5-2.7 2-.3 1.3-2.7 .7-2-1.4-1.3 1-1.7 3-1 .7-3.3-1.7-4 5-2 1.7-3 .7-1 1-1.7 3.3-.7 3-.6 .7-4 0-1 .6-2.4-.3-2.6 1.7-6.7 7.6-1 0-1.7 1-1.3 3-2.7 2.4-1.6 .3-2 1.7 1.6 1.3 1.4 2.7 6.3-5.4 3-1 0-1.3 .7 1 2.6-2.3-.3-.7 1-.3 2.7-3.4 2-.6 2.6-2.7 1 1.3-.3-1.6 .7-.7 2-.7 2-2 .3 1 .7-.3 .3-1 2-1.7 2.3-.3 0-2.3 1-.7 .7 1.3 2.7-2.6 1.3-.4-.3-1 1.6-1.6 .7 1 1.7-2 .3 1 .7 0 2.3-1.7 0-1.7 4.3-2.3 1-1.3 1.4-.7-.4-.7 1.4-.6 1.6-2 .7 .6-.3-.6 1-.4-.4-1 1.4-.3 1.6-2.7 .7 2 .7-2 1-1 .3 1.4 .7 .3 1-1-.4-1.3 2-.7 0-1.7 .7 1.4 4.7-3.7 2.3-3 .7 1 2.6-3.3 3.4-1 1-1.4 2.3-.6-.7-1.4 1.7-.6 1.7-2.4 .6 1.7 2.4-3 4.6-3.7 2-.6 3-2.7 .4 1 .6 0 .7-1.3 3-2.7 .7 1.3 2-2.6 .3 1 .7 0 2-1.4-.7-1.3 1.7-2 1 1.7 0-1.7 2 .3 0-3 2.3 .4 2.3-1.7 0-2.7 1.7 0 4.3-2.3-.6-2 .3-1.3 3.3-1 2.4-1.7 1 .7-.7-2 2-1 1.3 0-.3-2 1.3 0 2.4-2.7z"/>
<path fill="#bbbd62" d="M289.8 543.8l-1.6 0-1 .7-1.4 2.3 1.7-1.6 1.7-.4zM356.5 494.2l-1 0-2 2-3.3 0-1 .6-1.4 3.4 1-1.4 .4 .4 3-2.7 2.3-.7zM402.8 458.8l-1.3 0-2.3 3 1.3-1.6 2-.4zM414.5 445.8l-3 3-2 0 0 1-2.3 3.7-1.7 1.3 0 1-1 1.7 1-.3 .3-1.4 2.4-2.6 1.6-3 2-.7zM286.5 441.2l0 1.3-2 1.3-.7-.6zM204.5 436.2l-1.7 1-2.3 0-2 2-2 0-5 5-4 1.6-2.3 0-1.7 2-.7 2-2.3 2.4-2.7 .6-2-.3-1.6 1.7-1 2-2.4 .6-3.6 4.7-7 5-2.7 3.3-1.7 .4-1.3-.7-1.3 .7-3.7 5.3-3.3-.3-1.4 5.6 2-2 1 3.4 2-.7 0-2.3 .7-.4 1 1.4 .7-1.4 2-1.6 3.3-1.4 0-2.3 1 1.3 3.3-3.3 2-.3 0-2.4 1-.6 .7 1.6 2-3 1.7-1.3 .6 2 1.7-1.3-.7-2 2.7-.7 2.3-2.3 5-3-.3-1.4 1.7-.6 0-1.4 .6 1 1.7-2.3 .3 1.3 .7 0 2.7-2 0-2.3 5.3-2.3 2.7-3.7 .6-.3 .4 1.3 1.6-.7-.3-1.6 2-.4 0-2 2-1.3 1 0 0-2 1.3-.3zM254.2 433.8l-.7 0-2 2.7-2.3 0-3 2.7-3.7 .3-2.3 3.3-1.4-.3-3 2-2.3 .3-2 1.7-1.7-.3-3 6-3.3 3-1.3-.4-1.7 1.4-1.3-.7-1.7 2.3-1.7 1-3 3.4-1 .3-2.6 3-2.4 0-1.3 1-3.3 4.3-4.4 2-3 2.4-1 1.6-1.6 1-2 .4-3 3-1.7 .3-4.7 5-1.3 0-3 1.3-2.7 3.7-2.3 1.7-.3 1 2-1 1.6 4 .7 0-.7-1.4 1.4-1.3 3.3-1.7 1-1.3 .7 1.3 2-1.3-.7-1 .7-1 1-.3 4-3.7 2.6-.3 .4-.4-.7-1.6 5-3 1.7-2.4 .6 1.7 1.7-2 1.3-.7 .7 .4 .3-1 2.4-2.4 1.6-.3 2.7-3 2.3-.3 3.7-4 .7 1 2.3-2.4 1.3-.3-.3-1 1-1 2-1 4-3.3 .7 0 2.6-2.7 2-.7 .7-.6-.3-1 1.3-.7 1-1.3 .7 1 2.3-3 2-1 1.7-1.7 .3 1.3 3-1.3-.7-2 2.4-.3-.7-1.4 .7-.3 .6 .7-.3-1.4 1.7-1.6 .6 1.6 .7-1.3 3.3-3.3 .7 1.3 1.7-1-.4-1.3 1-.7-1-.7zM170.8 429.2l-3.3 1-2-1.4-1.3 1-1.7 3-1 .7-3.3-1.7-4 5-2 1.7-3 .7-1 1-2.4 5.3 .4 .3-1 1.4-8.4 .6-3.3 3-5 6-1 0-1.7 1-1.3 3-2.7 2.4-1.6 .3-2 1.7 2.6 2.3 5.7-5 2.7-.7-.4-1 3.7-3 .7 0 2.3-3 .7 2.4 1-1.4 1.6-.6 0-2.7 2-.7 1.4-2 1 1.7 0-2.3 2.3-.7 2-2 .3 1 1.7-2 3-1-.3-1.7 1.3-1.3 .7 1.7 3-2.4-.4-1.3 .7-.7 .7 0 1.6-1.6 .4 1 1.6-1.7 3-1.7 0-1 2.7-2.3 .3 1 .7 0 2.3-2zM387.5 426.8l-2 0-1.7 3-3.6 3.4-3 6.6-3 2.7-3.4 4.7-4.3 2.3-3.3 3.7-1 2-1.7 1-2.7 3.3-3.6 2.7-4.7 1-3.3 4.3-2-.3-3 3.3-2.4 .3-4.3 3-2.7 3.4-2 .6-2.6 3.4-3.7-.4-3 4.4-3.7-.4-1 .7-2.6 5-1.4 1.3-2.3 .4-1 1-3.3 5.3 .6 .7-1 1.6-1 .7-2-.7-3.3 1.7-3.3 3-1.7-.3-1.3 1.3-.7 1.7-1 1-2.7 1-4 4.6-2.3 1-2 2-4.3 1.4-5 4.6-2.7 .4-4.7 5.6-1.6-.3-4 2.3-2.7 3-2.3 1.4-.7 1.3 1.3-.7 .7 1.4 2.3 2 2.7-2.4 .7 0 0-1.6 2.6-2 .7 .6 1.3-.6 5.7-5 3.3-2 2.7-3 .7 1.3 1.3-.3-.7-1.7 2.7-.7-.7-1.3 1.4-1.3 .6 1.3 2.4-2.3 2.3-1-.7-1.4 1.7 0-.3-1.3 3-2.7 .6 1 1.7-1.3-.3-.7 1.3-1.3 .3 .7 .7-.7 .3 .7 .7 0 1-1 1.3-.4 .4-2.6 2.3 0 .3-1.4 1.4-1.6 .3 1.3 1.7-1.3 .3 .6-.3-1.6 1.6-.4 .4-1.6 .6 1 1-1.4 2-.6 0-2 1-.7 .7 .7 .7-1 .6 .6 1-1.6 3.7-1.7 2-1.7 .7 0 2.6-2.6 1.4-.4-.4-1.3 .7-.7 2 0 0-2.3 1.3 0 1.4-1.7 .3 .7 1-1.7 .7 2 1.6-1-.6-1.6 .3-1 1.7 1-.4-1.7 1.4-.3 1.6-2 .7 1 1-2 .7 1.3 2.3-1.3-.3-2 1-.4 .6 .7-.6-1.7 .3-.6 1.3 0 1-1.7 .7 2 1-1.7 1.3-.3-.3-1 1-.3-.7-1.4 1.4-1 .6 1.7 4.7-4 1 0-.7-2 1.7-.3 4-3.7 .7 1.3 2-1.3-.7-1.7 2-.6 1-1.7 .7 1.7 1.3-2.4 3.7-3.3 .6 2.3 2-3.3 .7 1.7 2.3-3.7 1 2 2.4-1.7 2-3.3 .6 1.7 4-4.7 .7 2.3 1-1.3 3-2-.3-2 2-1-.4-2.3-1.6-3.4-.4-3zM362.5 422.5l-.7-.7-4.3 .7-2.7 3-2 .7-4.3 3-5 6-4 1.3-2.3 0-1.4 1.3-1 3-3 3.4-2 1-.6-.7-1.4 .3-3.3 4.4-2.3 .3-4.4 4-1.3-.3-4 4-3.3 .3-3 3.3-2 .4-2 2.3-1.7 1-1.3 2.3-3.4 .7-3 4.3-1.6-.3-1.7 1-2.7 3.7-3.3 1.3-3 3-2 .7-2.7 3.3-4.6 2.7-2 0-4 5.6-2.4 .4-2.6 2.6-2 .4-2.4 2.3-1.6 0-2 1.3-3 3.4-2 .6-2 1.7-3 .3-1.4 1.4-1 2.6-1.3 1.7-2.3 .3-2 2-3 1.7-1.7 2-2.7 0-.6 2-2.4 1.7-.3 1.3 3.7-1.7 .6 1 .7 4.7 2-2 1.3 0-.6-3 2 0 3.3-4.3 .7 2.6 .6-2.3 1.4-1.3 .6 2-.3-2 .7-.7 8-4 2.6-3.7 2.4-.3-.7-1.3 1.3-1.4 .7 1 1-1.6 1.3-.7 1.7 0-.3-1.7 2.3-2.3 3.7-1.7 .6 .4 0-2.4 .7 .4 2-1.7 1 .7-.3-2.4 1-.3 2.3-2.3 .7 2 3.3-4.7 .7 2.7 1-.7 0-3.3 2.6 .3 2.4-3.3 2-1 2.3-2.4 1.3-.3 2-2.7 .7 2.4 2-3.4 .7 1.4 3.6-4 .7 1.6 5.7-5.3 3-1-.4-1.7 .7-.6 2-.7 3.7-3.7 2.3-.6 4.3-4.4 2-.3 0-1.7 .7-.3 .7 1.3 5.3-5.3 .7 1.3 1-.6-.4-1.7 4.4-2.7-2 0-1.4-1.3 1.4-1.3 1 0 0 1 1.3 .3 1.3-.7-.3-1.3 1-.3 .7-1 .6 1 .7-1 .7 .6 1.6-1.6 2.7-1 1-1.4 1.7-.6-.4-1 1-.4 0-1.3 3.7-2.3 1.3 .3 1.7-1.7 1.7 0-.4-1.3 3.4-3.3 2 .3-.4-1.7 3.4-1.3 .6-.7zM226.2 419.2l-1-.7-1 .3-1.7 1.7-4 2.3-2.3 3 .3 .4 .7-.7 .3 .7 .3-.7 1.4 .7 0-.7 2.3-2 .7 .7 2.6-3 1-.4 .7 .7zM280.2 413.5l-1.4 0-1.3 1-2.3 3-3.4-.7-2 2-1.3 2.7-2.7 1.7-3 3.6-2.3 1.4-.7 1.6-3 3.7 1-.3 .7 .6 4.3-4.3 3.7-1-.7-1.7 5-3.6 .7 1 1.3-.7-.6-1.7 2-.6 .6-1 1 0 0-1.7 3.7-2-.3-1.3 .6-.4-.3-.3 .7-.3zM248.5 405.2l-2.3-1-1.4 .3-4.6 4.7-2 .6-2.7 2.4-1.3 0-3.4 4 .7 0 .7 1.3 1-2.7 1.3-1.3 1 3.7 .7-.7-.7-2.7 .3-1 2 0-.3-.6 1.7-1 1.3-2 .7 1.3 .6-1.3 .7 .6 1-1.3 .3 1.3 .7 0 1.7-1.6-.4-.7 1.7-.7-.3-1.3 .3-.3 .7 .6zM296.8 401.5l-1.6 .3-3.4 2.7-1.3 .3-2.3 2.4-1.4 0-1 .6-2.3 3.4 .7 .6 .6-.6 1 .6 3.4-3.3 .6 1.7 1-1.4 2-1-.6-1.6zM333.8 400.8l-2 2-1.6 .7-3 4-3.4 1.3-9.6 10.7-2.4 .3-3.6 4-2.7 .4-1 .6-1.7 3-2 2-3.6 .7-10.4 9.3-3 1-4 5.7-2.6 0-3 2.7 0 .6-1.7 1.7-2.3 .3-4.4 2-4.6 4.4-1 1.6-1.7 0-6.3 5-2.4 0-1 1-2 .7-2 2-1.6 4-1 1-5.4 3-2.3 .7-2 3-2.3 2.3-1.4 .3-1.6 2-2 0-2 1.7-2.7-.7-3.7 5-1.6 0-1.4 .7-3.3 5-1.3 .3-3.4 2.7-2 .7-4 4.6-2.3 .7-.7 .7-.6 3.3 2.3-2 1 .7 .7 2 2.3-1-.7-1.4 2-.6-.3-.7 1-1 .7 .7 4-4.4 .6 2.4 4.4-5 1.6 0 0-1.7 1-.3 2-2.7 .7 1 1.3-2.3 1 1.3 1.7-2.3 2-.7-1-1.7 2-1.6 .3 .6 2-2 1.4-.6 .6 .6 5-4.6 2.7-.7-.3-1.3 1.3-1.4 .7 1.4 2.3-3 1.7-.7 5.6-4.7 2-.6 1.4-2 .6 1.3 2.7-1.3-.7-1.7 2.4-1 0-1.3 1.3-1.4 4-2.6 .3 .6 2.7-2.6 3.3-1.4-.3-1 1.7-1.6 1 1.3 3.3-3.7 .3 1 1.7-1.3 1.3-.3-.3-1.4 1.7-.3-.7-1.7 4.3-3 1.4-.3 .3-1.7 1-1.3 .7 .7 .6-1 .7 .6 1.3-1.6 .7 1.6 3.7-4.6 .6 2 5.4-5.4 1.6 0-.6-1.3 1.6-.7 1-1.6 .7 1.3 1-1.3 2.3-.7 0-2.3 1.7-.7 2.3-2.3 .7 1.3 3.3-3.7 2.7 0-.7-1.6 .4-.4 1.6 0 2.4-3 .6 1 1.4-1.6 2.3-1-.7-1.4 3.4-2 1.3-2 .7 1.7 4.6-4zM302.8 400.8l-1.3-2.3-3.3 3 .6-.3 .7 .6 .7-1.6 .6 1.3 1-1.3zM281.5 378.5l-1 0-2-1.7-1.3 0-1 .7-3 4.3-1.7 .7-2.3 3-2.4 .3-2 2.7-3.6 1.3-4 4-3.7 2-4.3 6.4 .6 1-.3 .3 1 .3 1-1 .7 1.4 4-4.4 .6 1.4 2-2.4 1.4 0-.7-1.3 1.3 0-.3-1 1.7-1.7 .3 1 2.3-2.3 4-3 2-.7 1.4-2 .6 1 1.7-1-.3-1.3 .6-.7 .7 1.4 1-1.4 5-3.3zM251.8 367.2l-1.6-1.7-1.7-.7-3.7 3.4-.3 1.3-1 1-4.7-4-1.6 1-2 3.7-2-1.4-1 0-2 2.7-2 .3-1.7 1.4-3.7 8-1.3 .3-1.3 1.3-1.4 3-1 1-3.6 0-2.7 2.4-1.7 .6-6 6.7-2 .7-3.6 3-2.7 3-2.3 5-1.7 1.6-3.3 2-1 1.4-2 .6-.7 1-2 0-1-.6-1.7 .3-3 4.3-1.6 1.4-1.7 4.3 .7 0 .3 .7 3.3-4 .7 2.3 1.7-3 .6 1.7 1-1.4 .7 0 0-1.3 1.7 0 2-1.7-.7-1.3 2-1 2-2.7 .7 1.7 2-2.7 .6 1 1.4-2 .6 1.7 1-1.3 1.4-.7 0-1.7 1 .4 3.3-3 .7 .3 0-2.3 .6 0 1.7-1.7 .7 1.3 1-2 1.3-1 .3 1.4 .7 .3 5-4-.7-1.7 2-.6 2.4-3 .6 2 1.7-2.4 3-2.3 .7 1.3 2.6-3.3 .7 1.3 .7-.6-.4-1.4 1.4-.6 .6-1.7 .7 2 .7 0-.7-1.7 .3-.6 3.4 0-.7-2.4 3.3-2 1.7 0-.3-2 5.3-3.6 2.3-.7 0-2.3 2.4-1.7 1 0 .3 .7-.3-1.7 2.3-1.7 1.3 0zM253.8 363.2l-.6 .3-1 2.3 .6-.3 .7 .7 1-1z"/>
<path fill="#d3bb58" d="M279.8 518.8l-1.6-.6-3 1-5 4.6-2.7 .4-3.3 4 1 .6-.4 .7-3.6 0-3.4 2.3-.6 0-2.7 3-2.3 1.4 .6 .6 .7-.3 1 .7 .3-.7 .7 .3 .7-1 .6 1.4 1-.4-.3-1.3 1.3-.3 0-1.4 1 0 1.4-1 1-1.6 1 0 .6 1 2.7-3 2-1 3.7-3.7 1 0 2-2 .6 1.3 1-.6-.3-1.4 3-1-.7-1.6zM302.8 501.2l-1-.4-3.3 1.7-3.3 3-1.7-.3-3 4-2.7 1-4 4.6-2.3 1-1 1.7 1.3-.3 .7 1 1-1.4 1.3-.3 0-2 3.7-3.7 .7 1.7 1-1-.4-1 1-.3 1.7-2 .3 1 .4-.7 .6 1 1.7-2 1.7-.3-.4-1 1.7-.7 2-2.7 .7 1 0-.6 1.6-1zM351.5 496.2l-1.3 0-1 .6-.4 2zM181.8 486.2l1-1 .4 .6 2 0-1 1-1.4 0zM228.5 484.2l-1 .6-2.3 0-2 1.7-2.7-.7-3.7 5-1.6 0-1.4 .7-3.3 5-1.3 .3-3.4 2.7-2 .7-4 4.6-3 1.4 .4-.4 2.6 2.7 1.4-.7 0-.6-1.7 0-.7-.7 1.4-.3-.4-1.4 2.4-2.3 .6 1.3 1.4-1.6 .6 1 1 .3 2.4-2.7 .6 1.4 1.4-1 2.6-3.4 .7-.3 .7 1.7-.4-2 1.4 0-.4-1.7 2-.7 4.4-3.6 2.6-1.4-.6-1.3 .6-.7 1.4 0 1-1.3 2-1-.4-1zM327.5 481.2l-4-.4-3 4.4-3.7-.4-1 .7-2.6 5-1.4 1.3-2.3 .4-3 4 .3 1.3 3.7-2.7 2.7 0 7.3-6.3 1.7 0-.4-1.3 1.7-1.4 2.7 0-.7-2 1 0-.7-1 1.4-.3zM211.5 466.2l-4.7-.7-4.3 4.7 .3 .3-2 2-1.3-.3-1.7 .6-3 2.4-1 1.6-4.6 2-2 2.4-1.7 .3-1.3 1-3 4-1.7 0-3 1.3-2.7 3.7-2.3 1.7 1.3-.4 1.4 1.7 2.3-2 .7 0-.4-.7 1.7-2 .7 1.4 1.6-2 .7 1.3 1.3-.7 0-2.6 2-.4 3.7-3.6 1.7 0 .3-2 2-.7 2-1.7-.3-.3 .6-.7 1 0 .7-1 .7 .7 2-2.3 1 0 0-.7 1.3-1.3 .7 .6 4-3 1.3-2.3 4-1.3zM353.2 462.8l-1-.3-2.7 .7-1.3 1.3-1.4 2.7-3.3 .3-2.3 3-2.4 .3-4.3 3-2.7 3.4-2 .6-1.6 1.7 0 2.3 .6 .4 .7-1 .7 1 1-1 1 .3-.7-2 .7-.3 .6 .6-.6-1 .3-.6 1.3 .3 2-2.7 .4 1 1-1.3 .6 1 1.4-1.7 1.6 0-.3-1.6 1.7 0-.7-2 1.3-1.4 .7 2 .7-1.3 2-1 0-1.7 1.3-1.3 .7 1 1-1.3 1.6-.7zM273.2 452.2l-2-.7-4.4 1.7-3 3-1.3 .6-2.3 3-1.7 0-3 2.7-2 1-1.3 1.7-2.4-.4-1 1-2 .7-2 2-1.6 4-2.4 2-6.3 2.7-2 3-1 .6 0 1.4-2 1.6 .7-.3 .3 .7 .7-.7 .3 .7 2-2.7 .7 1.7 .6 0 1-1-.3-1.7 1.7 0-.7-1 .3-.7 3.7-2.3 .3 .7 1.7-1.7 2.3-1 5.4-4.3 .6 0 2-2.7 .7 1.3 1.7-1.6-.4-1 1-.7-.3-.7 1.7-1.6 .6 .3 1.7-2 1 1.7 0-2 1.7-.4 1.6-2 .4 .7 1-1.3 .6 1.6 1-.6-.3-1.7 .7-.3-1.4-.7 1.7-1.7 .7 .7 .6-1 .7 1 1-2 .7 1.3 1-1.3 1.3-.7zM144.2 447.2l-7.4 .6-3.3 3-5 6-1 0-1.7 1-1.3 3-3.7 3-.6-.3-2 1.7 1.6 0 5.4-4.4 .3 .7 1-1.3 .7 1 1-.7-.4-1.3 4-3 2.4-2.7 .6 2.3 .4-1 2.3-2 2.3-.3-.6-2.3 1.6-1.4 .7 1.7 2-1.3-.3-1.7zM414.5 445.8l-6.3 5.7-2.4 3.7 1-.4 .4-1.3 3-3.7 1.6-.3 1.4-1.3 .3-1.4zM329.2 444.5l-1.4 .3-2.6 4-3 .7-4.4 4-1.3-.3-4 4-3.3 .3-3 3.3-2 .4-2 2.3-1.7 1-1.3 2.3-3.4 .7-2.6 4.3-2.7 0-1.7 1.4-2 3-3.3 1.3-3 3-2 .7-2.7 3.3-4.6 2.7-2 0-4 5.6-2.4 .4-2 2.3-2.6 .7-2.4 2.3-1.6 0-2 1.3-3 3.4-2 .6-2 1.7-3 .3-1.4 1.4-1 2.6-1.3 1.7-2.3 .3-2 2-3 1.7-1.7 2-2.7 0-.6 2-2.4 1.7 1.7 0 .7-1 1-.4 .6 3 2.4-2 2.3 .7-.3-2.7 2-2 1 2.4 2-3.7 .6 2.3 1.7-2.3 .3 .3 1.7-1.3 2.3-.7 .4-.6-.7-2.4 .7-.6 3-1 3.6-3.4 2 0 0-2.3 .7 1.3 1.7-2.3 .6 1.7 .7-.4-.7-1.6 2-.4-.3-1.3 1-1.3 .7 2 1.3-1.7 3-1.3-.3-2.7 1-.3 .6 .6-.6-1 .3-.6 1.3-.4 1.4-1.3 2 0 5-5.7 .6 1.7 1.4-2 1.3-.3-.3-1.4 2.6-.6 2-3 2.4-2 .6 1.6 2-1-.3-2.3 1-.3 1-1.4 .7 2 2.3-3.3 .7-.3 .3 1 .7 0 .3-1 2.3-2.4 1 1.4-.3-1 1-1-.3-1 .6-.7 .7 .7 .7-1 .6 .6 1.4-1.3 .3 .7 .7 0 2.6-2.7 1.4 0 0-2.3 .6-.7 1.7-.3 3-3 2-.7 3.7-3.7 2-.3-.4-1 2-1.7 3-1.3 .4-1.7 .6 .7 1.4-1.7 .6 .7 1.7-1.7 1.7-.6 .3-.7zM284.2 443.5l-2 0-1.7 3-3.3 0-3 3 .3 .7 .7-1 1 1 0 1 1.6-1 0-1 1.4 0-.7-1.4 2.3-1.3 2.4-2.7 1.3 .4zM244.2 439.2l-1.7 .3-2.3 3.3-1.4-.3-3 2-2.3 .3-2 1.7-1.7-.3-2.6 5 0 1.3-3 2.7-2-.4-1.7 1.4-1.3-.7-1.7 2.3-1.7 1-5.6 5.7 1-.3 .6 .6 1.7-2 1 1.4 1.3-1 .4 .6 .6 0 .4-1.6 3-1.7 4.3-4 5-3 0-1.3 4-3 .7 1 1.6-2.4-.3-1.3 1.3 0 2-3 .7 1 .7 0-.4 .7 .7-.4 .3 .7 2.7-1.3-.7-1.4 1-.6 .7 .3zM201.5 437.2l-1 0-2 2-2 0-1 .6-.3 1-3.7 3.4-4 1.6-2.3 0-1.7 2-.7 2-2.3 2.4-2.7 .6-2-.3-1.6 1.7-1 2-2.4 .6-3.6 4.7-7 5-2.7 3.3-1.7 .4-1.3-.7-1.3 .7-3.7 5.3-3.3-.3-1.4 5.6 2-2 .7 1.7 1.3-.3 3-2.7 2.7-3.7 3.3-.3 3-4 1.4-.7 1.6 0-.3-1.6 1.3-1 .4 1 3-3 .6 1.3 2-1.3 0-2 2.7-1.4 2-2.6 2-1 2.3-.4-.3-1.3 .7-.3-.4-1 1-.4 0-1.3 .7-.3 .3 .6 1.4 .4 .6-2 .7 2 1-1.7 2.7-1-.4-1 .7-.3 0-1 .7-.7 .6 .3 4-2.3 2-2.7 .7 1.7 1-1.7 1.3 0-.6-1.6 1.6-.4-.3-1 1.7-1 0-.6 .6-.4zM250.2 436.8l-1-.3-2.7 2.3 1.7 0zM343.2 435.8l-1 .7-1-.7-1.7 .7-2.3 0-1.4 1.3-1 3.4-1.3 1 .7 0 2-2.4 .3 1 .3-.6 1 1 1-1.4 1.7-.3 0-1.7zM161.8 433.8l-1.6-1.3-2-.7-4 5-2 1.7-3 .7-1 1-1.7 3.3 .7 .3-.4 .4 .7 0 .7 1 1-1.4 2.3-.6-.7-1.7 .7-.7 1 1.7 2-2.7 1-.6 1.7 0-.7-1.7 .3-.7 1.4 0 1.3-2 .7 1.4 2-1.4zM166.5 429.2l-1-.4-1.7 1.7 .7 1 1.3-1.3 .7 0zM387.2 426.5l-1.4 0-2 3.3-3.6 3.4-3 6.6-3 2.7-3 4.3-1.7 1.4-2.7 1-3.6 4-1 2-2.7 2.3 .7-.7 .6 1.4 .7-.7 0-1.7 1 0 1.7-2.3 .6 1.7 .7-1.4 3.3-3 .7 1.4 2.3-3.4 .7 2 2.3-3.3 .7 1.3 2.3-1.6 2.4-3 .6 1.6 2.7-3.6 .7-.4 .3 1.4 .7 .3 2.6-3 3-1.7 1 0-.6-2.3 .6-.3-1.6-3.4-.4-3zM360.8 422.2l-3.3 .3-2.7 3-2 .7-4.3 3-3.7 4.3-.3 1.3 2.7-2.3 1.3-.3 1.7-2 1.3 1 1.3-1-.3-.7 1.3-.3 2.7-3 2-.7-.3-1.3 2-.7zM225.5 418.8l-1.3 0-4.4 3.7 .4 .3 2-2 .6 .7zM274.5 417.5l-2.7-.7-2 2-1.3 2.7-3.3 2.3-.7 2-3.7 2-1.3 2.4 1.7-1.4 1 1.4-.7-1.4 2.7-1.3 0-1 2.3-2.7 .7 1.7 1.6-1-.6-1.7 1 0 .3-1 .7 .4 1.6-2 .7 1.3 1.3-.3-.3-2.4 1.3-.3zM184.8 415.8l-2.3 0-1-.6-1.7 .3-3 4.3-1.6 1.4-.7 2.3 1.7-1.7 .6 2 2-3.6 .7 2.3 .3-1 1.4-1 0-1.7 1.3-1.3 .7 1 1-1.3 .6 0zM236.2 412.5l-2-.3-2 2-.4 1 .7-1 .7 1.3 0-.7 2-2zM289.2 407.2l-2.4 0-1.6 1.3 .3 .7 1-1 .7 1zM246.2 404.2l-2.7 1.3-1.3 2 .3 .3 .3-.6 .7 1 1-1.4 .7 0-.4-1 1.7-.6zM333.8 400.8l-2 2-1.6 .7-3 4-3.4 1.3-5 5-.3 1-3.7 3.7 .7 0 .7-1.3 .6 1 .4-.7 .3 1-.7 1-4.3 0-4.7 4.7-2.3 0-1 .6-1.7 3-3 2.7-2.6 0-3 3 1 1 0 1.3-.7 1-1 .4-.7-1.7-1.3 .3-3 2.4 1 .3-.7 1.3 .4 .4 1-1.4 .6 1 2.7-2.6 .7 1 5.3-5.4 1.3 0-.3-.6 1.3-.7 1.7-1.7 .3 1 1.7-2.3 4-1 3-3 2.3-3.3 1 1.6-.6-1.6 .6-.7 2 0-.3-1 .7-1.7 1.3-1.3 .7 1.7 2-3 .6 1 1-1.4 1.7 0 0-1.6 2.3-2.7 .7 2.3 .7 0 2.3-3.3 3.7-3.3zM280.8 378.5l-2.3-1.7-1.3 0-1 .7-3 4.3-1.7 .7-2.3 3-2.4 .3-2 2.7-3.6 1.3-4 4-3.7 2-1.3 1.4-1.7 4.3 .3 .3 .7-1 .3 1 1.4-2 2.6-2 .7 1.4 1.7-2 1.3-.4-.7-1.3 2.4-2.7 .3 .7 1-1 .3 .7 4.7-4.7 2 0 2.7-3 2-.7 1-1.3 .6 1.3 3.7-3.6 1 0-.3-1.4 .6 0zM250.5 365.8l-2-1-3.7 3.4-.3 1.3-1 1-5-4-1.3 1-2 3.7-2-1.4-1 0-2 2.7-2 .3-1.4 1-2 3.4 0 1-2 4-1.3 .3-1.3 1.3-1.4 3-1 1-3.6 0-2.7 2.4-1.7 .6-6 6.7-2 .7-3.3 2.6-3 3.4-2.3 5-2.7 2-1 1.6 .3 .4 1.7-2.4 .7 1.7 .3-1.3 1.3-1.4 .4 1.4 1.6-1.4 1 0-.6-1 .3-.6 1.7 0 .6-1.4 2-1.6 2 0 3.7-4.7 .7 1.7 4.3-4 2.3-.7-.6-2 2-1 1-1.3 .6 1.3 4-4.3 .7 1.6 .7 0 4-5 1.6-1 .7 1.4 .3-.7 1.7-.3-.7-1.7 .7-1 2.7 0 1.6-.7 .4-.6-.7-2.4 .7-.6 2.6 .3-.3-2.7 2.7-2 .6 2.4 1.7-1-.3-3 3-.4 0-1.6 1-1 2 0-.7-1.7 2-2 1.3 .3z"/>
<path fill="#eab94e" d="M259.8 530.2l-2 1.6-.6 0-2 2.7 2-.7 .3-1.6 1.3-.7zM272.2 523.2l-4.7 1-2 2.3 1 .3 .3-.6 .7 1 3.3-3.7 .7 1.7 0-1.7zM278.2 518.8l-1-.3-2 .7-3 2.6 .6 .4 1.4-1.4 .6 .7 1.4-1.7zM295.5 505.5l-2-.3-1.3 1.3 .6 .3 .4-.6 .6 1zM212.8 496.2l-3 .3-4 3-2 .7 .7 0 .3 .6 1-1.3 .4 .7 1-1 .6 .6 .7-1 .7 .7zM263.8 492.8l-1 .4-2.3 2.6-1.7 0-3 2.7-1.6 0-2 1.3-2.4 3-2.6 1-2.7 2-2.3 0-1.4 1.4-1 2.6-1.3 1.7-2.3 .3-2 2-3 1.7-1.7 2-2.7 0-1.3 3.7 1.7-2 1 3.6 1.3-1.6 1.3-.4-.3-2 1.3 0-.3-.6 1-1 .7 1 3.3-4.4 .7 1.7 1.6-2.3 .7 0 2.3-2 5.4-2-.7-2 .3-1.4 2.7-1.3 2-.3-.3-1 1.6-1.4 .7 1 1-2 .7 1.4 .6-.4 0-1.6 2 0 1.4-2 2-1 2-2 .6 0zM175.5 491.5l-.7-.3-2.3 1.6 1 .7zM182.2 486.5l-2.7 0-2 .7-2.3 2.3 .6 .7 .7-.7 .3 .7 1.4-1.7 .6 1 2-2.7 .7 1.7 1-1zM272.8 486.2l-1.6 1-2 0-1.4 1.3-.6 1.3 .3 .7zM223.2 486.5l-2.7-.7-3.7 5-1.6 0-1.4 .7-2 3.3 1.4-.6 .3 .6 2-2 2-.3-.3-1.3 1.3-1.4 .7 1.4 2.3-2.4 1.7-.6zM325.5 481.2l-2-.4-3 4.7-3.7-.7-1 .7-2.6 5-1.4 1.3-2.3 .4-2 3 1.3-1.7 .7 1.7 .7 0 0-2.4 1.3-.3 .7-1 .6 .7 .4-.7 .6 1 3-2.7 1-1.6 .7 1.6 1-.3 1-1-.3-1.7 1.6 0-.6-1.3 3-3 1.3 .7zM280.2 480.5l-2 1 .3 1.3 2-1.6zM236.8 476.5l-2.3 .7-2 2.6 .7-.3 0 .7 .3-.4 .7 1 1-.3-.4-1.3 1-.4-.3-1 1.3-.3zM199.8 473.8l-1.3-1.3-2.3 1.7 1.3 .6 1.7-1.3zM293.5 472.2l-1-.7-2 .3-3.3 3.7 1-.7 .3 .7 2.3-2.7 .4 1.4 .6 .3 1.7-1.7zM341.2 470.5l-3 .7-3.7 2.6-1 1.4 .7-.7 .6 .7 .7-1.4 .7 1 .6-1.6 .7 1 1.7-2 1 0 .6 .6-.3-1.6zM345.2 467.2l-1.7 .3-1 1.3 .3-.3 .7 .7 .7-1 1 0zM209.8 465.8l-3-.3-1.6 1.3-.7 1.4 .3 .3-1.6 1.7 0 .6 1.6-1 1.4-2 .6-.3 .4 1 1.6-.7-.3-1.3zM162.8 465.5l-2.6 1-3 3.7-2.7-.7-1.3 .7-3.7 5.3-3.3-.3-.7 2.6 1-.6 .3 1 3.7-1.7 2.3-3 .7 1.7 1-1.4 1.7 0-.4-2.3 1 0-.3-1 1.3-1 .7 .7 2.3-2.7 2.4-.3zM253.5 465.2l-3.7-.4-1 1-2 .7-2 2-1.6 3.7 .6 0 2.4-2.7 .6 1.7 1-.7 0-2.3 .7 0 .7-1 1 1.3 3-3 .6 .7zM259.8 459.8l-1.3 0-1.7 1.4 .7-.7 1 0 .7 1.3 1-.6zM265.2 456.5l-1.7-.3-1.7 1.3 .4-.3 .6 .6 1.4-1.3 .3 .7zM221.2 456.5l-2-1-1.7 2.3-2.3 1.7-1 1.7 .6 .3 .4-.7 .6 .7 5.7-4.3zM317.5 453.5l-1-.3-4 4-3.3 .3-3 3.3-2 .4-2 2.3-1.7 1-1 2.3-3.7 .7-1.3 2.3 .7-.6 .6 1.3 .7-.3-.3-1.7 .6-.7 1.7-.6 .7 .3 .3-.7 .7 .7 1.3-1.7 .7 1 2.6-2.6 2.7-.7-.7-1.7 2-.6 1.7-1.4 0-1 1.7-.3 3.6-3.7 .7 1.7 .7-.7-.4-1.3 1-.3zM178.8 452.5l-3 0-1.6 1.7-.4 1.3-3 1.3-2 3-1.6 1.7-2 1-.4 1 1.7-1.7 .7 .4-.4 .6 1 .4 2-2.4 .7 1.7 .7-.7-.4-1.6 2.4-2.4 .6 2.4 1.7-2 2-1 0-2 1.7 0-.4-1 .7 0zM371.8 447.8l-1.3-.3-.7 .7-2 .3-3.3 3.3 0 .7 2.3-1 2-2.3 .7 .6 .7-1.3 .6 1.7 1.4-1.7zM140.8 447.5l-4 .3-7 7.4 1-.4 2-2 .7 1.7 .7-1.7 2-2 2.3-1 1.3 0 1.4-1zM414.5 445.8l-6.7 6.4 2.7-2.7 1.3 0zM188.5 445.5l-2.7 0-1 .7-2 3.3 1 .7-.3 .6 1.3-1.6 .7 2.3 1-.7-.7-2.3 .7-.3 .7 .6 0-1.3 1 .7-.7-2zM329.2 444.5l-1.4 .3-1.3 2 .3-.3 .7 .7 1.7-1.4zM235.5 444.5l-1.3 0-2.7 2-1.7-.3-1.3 2-.7 2.6 1 .4 2.4-3 2-.4 1.6-1-.3-1 .7 0-.4-1zM198.2 439.2l-1.7 0-1 .6-.3 1-1.4 1 0 1 1.4-1.6 .6 1.3 .7-1.3 1-.7 .7 .3zM337.8 436.2l-2 2 .7 .3 .3-.7 .7 1 .3-.6 .7 1 .7-.7 0-1.7zM160.5 432.8l-2.3-1-4 5-2.7 2-2.3 .4-1.7 2 1 1 2.7-3 .6 1.3 3-3.3 2.4-.4-.7-1.3 2-1 .7-1 .6 1.3 1-1zM298.2 430.5l-1 0-1.4 1.3 .4 .4 .6-.7 .7 .7 0-1zM387.2 426.5l-1.4 0-2 3.3-3.6 3.4-3 6.6-3 2.7-2.4 3.3 1 .7 .7-.7 .3 .7 .7-.7 1 .7 2.7-2 1-1.7 .6 1.7 .4-1.3 1.6-1.7 .7 1.7 2.7-3 4.6-3.7 2-.3-1.6-3.4-.4-3zM353.2 426.2l-3.7 2.6 1-1 .7 1 2-1.3zM315.5 419.5l-3.7 .3-3.6 4.4-3.4 1.3-1.6 1.3-1 1.7 1-.7 .6 .7 2.4-2.7 1.6-.3 3.7-2.3 0-1 1-1.4 .7 .7 1.3-1.7 .7 1-.4-1zM273.5 417.2l-1.7-.4-2.3 2.7 .7-.7 .6 .4 .4-.7 .6 1.3 2-1.3zM182.5 415.8l-1-.6-1.7 .3-1.3 1.3-2 4 1.3-1.6 .7 1.6 1-2 1.3 .4-.6-2zM333.8 400.8l-2 2-1.6 .7-3 4-3.4 1.3-6.3 6.7 1 .3 .3-.6 .7 1 1.7-2.4 .6 1.7 1.4-2.3 3.3-.7 1.3-2 3.4-2.3 2.3-3.4 .7 2.4 1-1zM257.2 393.8l-3.7 2-1.7 3 1.7-1.3 .7 1.7 3.3-3zM268.2 387.2l-7 2.6-2 2 .6 .4 1-1.7 .7 1 1.3-1.3 .4 .6 2.3-2.3 1 1.3 1.3-1.3-.3-1zM279.5 377.8l-1-1-1.3 0-2.4 2-1.3 2 .7 1-2.7 .7-2.7 3.3-1-.3-1.3 .7 3.3 0 1.4-2.4 .6 1.7 1.4-.3-.7-2 3-2 .7 1 2.3-2.4 1.3-.3-.6-1.3zM243.8 370.8l-5.3-4.3-1.3 1-2 3.7-2-1.4-1 0-2 2.7-2 .3-1.4 1-2 3.4 0 1-2 4-1.3 .3-1.3 1.3-1.4 3-1 1-3.6 0-2.7 2.4-1.7 .6-6 6.7-2 .7-3.6 3-2.7 3-1 3-1 1 .7 1 1.6-1 0-1.4 1-.3 2.7-3 3.7-1.7 2.3-2.6 .7 1.3 1.3-1 0-1.7 .7-.3 .6 1 3-3 2.4-.7-.7-1.6 1.7-.7 1-1.3 .6 1 3.4-3.4 .6 1.4 3-4 .7 2.3 1.7-1.7 .6 0 1-1.6 1.7-1.4 2.7-.6-.7-2.4 2.7-1.3 2-.3-.4-2.4 2.7-.3 3.7-3.7 1.3 0-.7-2zM249.5 365.2l-1-.4-3.7 3.4-.3 1 .7-.7 .6 .7 2.4-1 1.3-1.7 .7 0z"/>
<path fill="#fdbe3d" d="M230.2 517.8l-1-.6-2.4 .3-1 2.7 1-1 .7 .3 .7-1zM249.5 503.2l-2.3 .6-2.7 2-2.3 0-1.4 1.4-2 4-2.6 .6-2.7 2.7 .7 0 .6-1 .7 1.3 6-6 1 2.4-.7-2.7 1-.7 1.4 0 5-3zM222.2 486.2l-1.7-.4-1.7 2 .7 .7 1.7-2zM319.5 485.2l-2.7-.4-1.3 1-.3 1.4-1.4 1.6 1.4-1 .6 1 1.7-2.3 .7 1.3 1-1.3 .6 0zM146.2 475.2l-.7 2.6 1-.6 .3 1 1-.4-.6-2.6zM155.2 469.8l-.7-.3-1.3 .7-1.4 1.3-.6 1.7 1-1.4 .6 1.4 2-2.4 1 .4zM251.2 465.2l-1.4-.4-1 1-2 .7-2 2 1 1.3 2-1.6 0-2 1-.4 .7 1zM306.2 461.2l-2 0-2 2.6 .6 .4 1-1.7zM177.8 452.8l-2-.3-1.6 1.7-.7 2-2.7 .6-1.6 2 .6 .4 .7-1 .7 1.3 1-.3 2.6-3 2.7-1-.7-1.4zM138.8 447.5l-2 .3-3.3 3 0 .7 1-1.3 .7 1.6 1.6-1-.6-1.6zM231.8 446.5l-2-.3-1.3 2 .3 .3 .7-1 .7 1.7 1.6-1-.6-1.4zM186.5 445.5l-1.3 .3-1 1.4 .3 1.6 1.7-.6-.4-.7 .7-.3zM387.2 426.5l-1.4 0-2 3.3-3.6 3.4-3 6.6-3 2.7-.4 1 .4-.3 .6 .6 1-1.3 1.7 .3 1.3-1.6 .7 1 1.3-2 .7 1.3 4-4.3 1.7-.7 1.3-1.7 2-.3-.3-.3 .6-.4-.6-1-.4-3zM333.8 400.8l-2 2-1.6 .7-1.7 1.7-.3 1.6-.7 .7-3.7 1.3-3.3 3.7 .3 1.7 .7-1.7 1.3-1.3 .7 2 .7-.4-.4-2 1.7-.3 2.3-2.7 2-.3 2.4-3.3 .6 1.6 2-2.6zM278.8 377.5l-.3-.7-1.3 0-2.4 2 1 .4 .7-.7 .3 .7 .7 0 1-.7-.3-.7zM242.2 369.2l-3.7-2.7-1.3 1-2 3.7-2-1.4-1 0-2 2.7-2 .3-1.7 1.4-3.7 8-1.3 .3-1.3 1.3-1.4 3-1 1-3.6 0-2.7 2.4-1.7 .6-6 6.7-3.3 1.7-5 5 1 .3 1.7-2.3 .6 1.6 2.4-1 0-3 1 0 1.3-.6 1-1.4 2.3-.6 2-2.4 .7 1 1-1.3 2.7-1.7-.4-.6 2.7-2.7 .7 1.3 2-2.3 .6 0 1-1.7 .7 1 1.3-2 .7 2 2.7-3 2-1 1.3-2.3 2-1 3-.3 .3-.7-.6-2.3 1.6-1 2.4 .6-.7-2.3 2-.7 .7-1.6 1.3-1.4 .7 2.7 1-.7-.7-2 .3-1 1 .7z"/>
<path fill="#fccd2e" d="M228.5 517.2l-2 .6 .7 .4 .3 1.3 .7-1 .6 0zM244.2 505.8l-2 0-1.7 2.4 .3-.4 .7 1 1.7-1-.7-1.3 .7-.7zM387.2 426.5l-1.4 0-2 3.3-3.6 3.4-3 6.6 1 0 .3-.6 .7 1 .3-1 1-.7 .7 1.3 3.6-4 1 1.4 3.7-2.7-.7-1.3 .4-.7 1 1.3-.4-4zM333.8 400.8l-2 2-1.6 .7 .3 1 1-1.7 .7 1 1.6-2.6 .7 2.3 .3-.3zM216.5 387.5l-2.3 .3-2.7 2.4-1.7 .6-2.3 2.4 0 1.3 2-2.3 3.3-1.7 2.4-2.7 .6 1.4zM241.5 368.8l-3-2.3-1.3 1-2 3.7-2-1.4-1 0-2 2.7-2 .3-1.7 1.4-3.7 8-1.3 .3-1.7 2 2 1 1.7-2 2.3-1 1.4-2 .6 1.7 1.7-1.4 1.7-.3-.4-2.7 4.7-1.6-.7-2 2 0-.3-1.7 2-2 .7 2 2.6-2.7z"/>
<path fill="#f6dc23" d="M387.2 426.5l-1.4 0-2 3.3-3.6 3.4-2 5 1.3-1 .7 1.6 4-4.6 1 1.3 3-3 1.3 .3-.3-1 .6 0-.6-2.6zM240.8 368.2l-2.3-1.7-1.3 1-2 3.7-2-1.4-1 0-2 2.7-2 .3-1.7 1.4-3 6.3 .3 .3 .7-.6 .7 1 1.6-2.4 .7 1.4 .3-1 2-1.7 2 0-.3-2.3 2-1.4 2.3 0-.6-1.3 1-.3-.4-1 1.4-1.7 .6 1.7 1.4-2z"/>
<path fill="#f6ef15" d="M387.2 426.5l-1.7 .3-1.7 3-3.6 3.4-1.4 3 1 0 2-1.7 1.4-2 .6 2 1.4-2.7 1.3-1.3 .7 2.7 1.3-.7-.3-2.3 .3-.4 .7 1.4-.4-2.4zM234.2 370.8l-1-1-1 0-2 2.7-2 .3-1.4 1-2.3 4.7 1 0 .7-1.3 .6 1.3 0-.7 2-2.3 1 2-.3-2 3-.7 1-1-.3-1.6 1.3-.4zM238.8 366.5l-1.6 1 0 1.7 2-2z"/></g>
<clipPath id="cc"><path clip-rule="evenodd" d="M409.5 448.5l-4.3 .3-2.4-2-4-.6-3.6 4.3-11.7 7.7-4.3 4.6-3.7 9.4-3.3 1.6-4 4.4-4 1-3.4 3.6-8 .4-4.3 2-24.3 18.6-5.7 3.4-12 13.3-1.7 1-3-.3-2.3 2.3-7 3-5.3 5-2.4 0-2.3 3.3-19 14 .3 2 1.7 .4 2.3-1.4 5.4 5 3.3 0 4-4.3 3.7-2 3-4.3 3.3-.7 4.7-4 2.6-.7 4.7-5.3 5-2.3 2.7-3.7 3.6-.7 8.4-8.3 7.3-3.7 5.7-5.6 6.6-5 3.7-1.4 3.7-6.3 4.3-.7 2.3-2.3 2.4-.3 6-5.7 2 0 2.6-2 2.7-3.7 5.7-2.3 4-4 1.6-.3 3-3.7 1.7-.3 1.3-2.4 4-2.3 2-2.7 2.4 .4 4.3-5.7 2-.3 1-2.7 5-5.7zM378.2 435.5l-2.7 0-7 6-8-.7-38 29.4-2-.4-2.7 3.7-14.6 11.3-7 13-2.7 .4-6 5.6-7 3.7-7.3 6.7-6.7 2.3-4-1-11.3 7.7-3.7 4-2 8-6.3 5.6-1.7 6.4 1.7 0 3.3-3 3.3-7 2.7 3.3 1.3 0 1.7-4 5.7-5 4-2.3 2 0 4.3-5.4 2.7-.3 5-4.7 4.3-1.3 5.7-4.3 2.6-3.4 2.7-1 3-4 2.7-.3 7.3-6 1.7-.3 3-5 4.6-2.7 3-5.3 4.7-.4 3-4.3 3.7 .3 2.6-3.3 2-.7 5.4-5.3 4-1.3 2.3-3 3-.4 3-4 4.7-1 3.6-2.6 9-10.4 4-2 6-7zM354.5 422.8l-2.7 0-2.6-3-2.7-1-5 0-4.7 3-7.3 6.4-5 2-1.3 2.3-29.4 22-4.6 5.3-.4 1.7-7.6 6.3-5-.3-17.4 13.3-1.3 0-3.7 4-45 33.4-.6 2.3 5.3 0 4.3 4 4.7-.7 1-2.6 2.3-1.7 1-2.3 3-.4 6.4-5.3 2.3-.3 3.7-5.7 3-.3 4-2.4 5-4.6 1.6 0 7-5.4 2.4-.3 4-5.7 2 0 5-3 2.3-3 8.3-5 2.7-3.6 3.7-1 2.6-4 3.4-.7 .6-1.7 4.4-4 2-.3 3.6-3.7 2.7 0 3-3.3 9.7-5.7 2.6-3.3 3-.3 2.4-3 1.3-.4 1-3 1.7-1.6 6.6-1.7 2.4-4 8.6-5.3zM323.2 407.5l-3 .3-3.4 4.4-4 2.3-2 3-4 1.3-3.6 5-2.4 0-3 2.4-3.3 1-2 2.3-3.3-.7-3.7 3-2.7-.3-7.3 4.3-47.7 36-2.6 .7-3 3.7-1.4 0-9.3 8-3 5-5.3 5.6-8.4 1.7-5 3.7-3 .6-2 3.4-2.3 1.3 0 1.3 6.3 1.7 5 2.7 2-.4 .7-4.6 3.3-1.7 4-4.7 6.7-3.6 3-4.7 3.3-1 3.7-5 3 .3 1.7-1.3 2 0 5-4.3 2.3-3.4 7.7-3.6 2.3-4.7 2.3-2.3 3-1.7 2.4 0 6.3-5 1.7 0 5.6-6 6.7-2.3 4.7-5 2 0 5-5.7 2.3-.7 5.7-4.3 5-5.3 3.6-.7 3.4-5 4-1 3.6-4 2.4-.3 9-9.7zM302.2 395.5l-5.4-3.3-3.3 0-2-2-2 .3-22.7 17.3-2.3 .7-8.3 8-1 3.3-4.7 7.4-7.7 7-3 .6-6.3 6-8.7 6.4-4.3 1.3-5 5-3 0-4.3 2.3-4 .4-4.4 2-16.3 12-5.7 2.3-2 3-5 4.3-4 2-2.3 2.7-4 1.7-4.3 4.3 .3 2 1 1 3.7 0 2.6 2.7 4 1 2.7-2 .7-2 5.3-5.7 4.3-1.3 4.7-5 1.7-.4 3-3 3.6-1.3 4-4 4.4-2 4.6-5.3 2.4 0 10-10 2.3 0 3.7-1.7 4.6-7.7 2 0 7-3.6 1.7 0 2-3 3.7-.4 3-2.6 1.3 0 5.7-5.7 3-.7 1.6-2.3 2-1 3-3.7 2.4-1.3 3.6-5 3 .3 4-3.6 3.4-1 3.6-4.7 2.4-.7 10.3-7.6 3.3-1zM273.2 379.5l-1.7-1.3-2.7 0-2-1.7-3 0-4 2.7-3.3 3.6-2.3 6.7-6.7 5.7-3.3 1.6-3.4-.6-3 1.6-4.3 0-13.7 10.7-2 0-2.6 3.7-3 2-2.4 .3-4 4.7-7.6 5.6-2 .4-7.4 6.6-2 .4-10.3 9-3.7 2-7 6-1.3 0-8 7-2.3 .6-4 4-20.7 15.4 .3 2 1 .6 3.7-.6 3.3 3.3 6.4-.3 2-6.4 3.3 .4 3.7-5.4 4.3-.3 2.7-3.3 7-5 3.6-4.7 2.4-.7 2.6-3.6 4.7-.4 4.7-6.3 6.3-1.7 5-5 2 0 2-2 2.3 0 2.7-1.6 5.7-5.7 3-1.7 4.3-5.3 6.3-4.3 2.7 .3 6.7-6.7 6-3 3.3-3.6 3.3-1.7 6.7-8 3.7-2 4-4 3.6-1.3 2-2.7 2.4-.3 2.3-3 1.3-.4z"/></clipPath>
<filter id="fc" x="0" y="0" width="1" height="1" color-interpolation-filters="sRGB"><feTurbulence type="fractalNoise" baseFrequency=".17 .2" numOctaves="2" seed="5"/><feColorMatrix values="0 0 0 0 .5 0 0 0 0 .75 0 0 0 0 .45 5 0 0 0 -2.4"/></filter>
<g clip-path="url(#cc)"><rect x="116" y="360" width="301" height="197" filter="url(#fc)"/></g>
</g>
<g id="pd">
<path d="M968.7 475.4L823.9 583.3L651.5 491.7L651.5 440.1M823.9 583.3L819.6 586.5M823.9 583.3L828.3 585.6M770.0 554.7L765.7 557.9M869.1 549.6L873.6 551.9M716.1 526.0L711.8 529.3M914.4 515.9L918.8 518.2M662.3 497.4L657.9 500.7M959.7 482.1L964.1 484.5M651.5 440.1L646.7 437.6M651.5 465.9L646.7 463.4M651.5 491.7L646.7 489.2" fill="none" stroke="#262626" stroke-width=".75"/>
<g font-size="17.3" fill="#262626"><text x="815.4" y="606.5" text-anchor="end">0</text><text x="832.9" y="605.0">0</text><text x="761.5" y="577.9" text-anchor="end">200</text><text x="878.1" y="571.3">200</text><text x="707.6" y="549.2" text-anchor="end">400</text><text x="923.4" y="537.6">400</text><text x="653.8" y="520.6" text-anchor="end">600</text><text x="968.7" y="503.8">600</text><text x="641.5" y="442.7" text-anchor="end">2</text><text x="641.5" y="468.5" text-anchor="end">0</text><text x="641.5" y="494.3" text-anchor="end">-2</text><text x="684.1" y="603.0" text-anchor="middle">Length (µm)</text><text x="957.2" y="599.3" text-anchor="middle">Length (µm)</text><text transform="translate(618.4 465.9) rotate(-90)" text-anchor="middle">Amplitude (µm)</text></g>
<text x="803.5" y="651.5" text-anchor="middle" font-size="20" fill="#000">(<tspan font-weight="bold">d</tspan>)</text>
<g fill-rule="evenodd"><clipPath id="kd"><path clip-rule="evenodd" d="M799.2 367.2l-2.4 2.3-2.6 5-5 7.3-4 4.7-4.7 4.3-8 2-3.3 1.4-8.4 .3-4.3 1.3-6.7 .7-4.6 2-13 9.7-2.7 1.3-10.7 11-11.6 8.7-.7 0-6 4-8.3 8.3-1.7 1-2 .3-5.7 2.4-3.6 2.6-1 1.4-8.7 6.3-1.7 .7-.6 1-4.7 3.3 1.7-1 1.6 .3 2.4 3 2 6 .3 4 2.7 10.4 2.6 4.6 1.7 2 1 0 1.7-1.3 .6 0 1.7-1.3 6.3-3.4 1-1 6-3 .7 .7 .7 2.7 .3 4 1 2.6 1.7 7.7 2.6 5 1.4 1.3 1.3 0 17.3-9.6 1.4 2.3 .3 3.3 1 2.7 .7 4 .6 1 .4 2.7 1.6 4 3.4 4.6 2 0 2-1 14.6-10 2 4.4 .4 3.3 2.6 10.3 1.7 3.7 1 1 1.3 2.7 1 .6 1.4 0 2-1 .6-1 16.7-13 3 4.7 2.7 2 2.6-.3 2.4-1.4 3.3-.3 1.7 3.3 .3 2.4 3.7 8.6 .6 5.4 .7 1.6 .7 4.7 1 2.3 .3 3 2.3 5 .4 1.7 1 1.7 1.3 1 5.3 .3 8-8 .7 .7 .7 5 2.6-2 .7 0 7.7-5.7 9.6-9.7 2.7-1.6 2.3-2.4 5.4-4 1-1.3 5-3.7 14-6.3 10.6-7.3 7-2 7.4-3.7 2.6-2 2.7-3.3 5.3-10.7 3-3 3.4-1 6.3-.3 6-2.4 .7-.6 1.6-.4 3.4-2.3 1.3-.3 1-1.4 3-2 1-1.3 1.3-.7 1-1.3 5.7-4.7 5-6.6 2-4 3.3-5-1-2.7 0-1.7-1.3-4.6-1-6.4-2.3-4.3-2 .7-11.4 12-7.3 4.3-.7-.7-1-4.6-1.3-3.4-4.7-8-3.3-.3-2-1.3-4-1.4-2 0-2.7 1-1.3-3.6-1.7-11.4-1.6-3.6-2.7-4-3 0-4 3-4 1.3-2.7 1.3-3 2.4-.6 0-2-5.7-2-9.3-3-5-3-3.4-1.4-.6-1.3 0-13.3 12.6-2-3.6-.4-2.4-1.3-3-2-9.3-1-2.3-3-3.7-1 0-.7-.7-1.6 .7-2.4 0-3 2.7-10.3 5.3-2-5.3-3-15.4-3-4.6-1.3-.7-1.4 0-2 1.3-6.3 6.4-7 5.3-1.7-7.7-3.3-6-1.3-1.6z"/></clipPath><filter id="kdb"><feGaussianBlur stdDeviation=".6"/></filter><g clip-path="url(#kd)"><g filter="url(#kdb)"><path fill="#363194" d="M796.5 364.5l-10 14.7-8.7 9-35.3 7.6-15.7 11-10.6 11-18.4 12.7-8.3 8.3-9.3 3.7-20 15 0 5.7 3.6 0 1.7 2.3 5 20.3 4.3 6.7 6.4 0 12.6-7.3 3.7 15 4 6.3 6.7 0 13-7.3 3.3 13.6 5 8.7 7.3 0 12.4-8 4 15 5 8 7.6-.3 14.4-11.7 4.3 3.7 8.7-1 5.3 13.3 3.3 17 3 7.3 2 2 11 0 3.4-3.3 .3 1.3 5.3 0 37-30.3 14-6.3 10.7-7.4 14.3-5.6 5.4-5.4 8.3-13.6 9.7-1.4 13-6 11.3-9.6 11.3-16 0-9-2.6-13-2.4-4.4-7.3 .7-14.3 14-6.7-14.3-14.7-3.4-2.3-13.6-4.3-7.7-8.4 0-9.6 5.3-3.4-12.3-6-8.3-8-.7-9.6 9-4-14.7-4-6-11 0-9 5.4-4-18-3-4.7-8-.7-10.7 9.4-5.7-11.7z"/>
<path fill="#353eaf" d="M933.8 454.2l.4 .3-.4 1.7-4 2.3-.3-.3 .3-1.4 .7-.3 .3-1 1.4-1.3zM796.5 364.5l-2.3 2.3-2.7 5-5 7.4-4 4.6-4.7 4.4-8 2-3.3 1.3-8.3 .3-4.4 1.4-6.6 .6-4.7 2-13 9.7-2.7 1.3-10.6 11-11.7 8.7-.7 0-6 4-8.3 8.3-1.7 1-2 .4-5.6 2.3-3.7 2.7-1 1.3-8.7 6.3-1.6 .7-.7 1-4.3 3 0 5.7 3.6 0 1.7 2.3 2 6 .3 4 2.7 10.3 2.7 4.7 1.6 2 6.4 0 1.6-1.3 .7 0 1.7-1.4 6.3-3.3 1-1 1.3-.3 .7 .6 .3 4 1 2.7 1.7 7.7 2.7 5 1.3 1.3 6.7 0 13-7.3 2.3 10 .7 1 .3 2.6 1.7 4 3.3 4.7 7.3 0 12.4-8 1 1.3 .3 3.4 2.7 10.3 1.6 3.7 1 1 1.4 2.6 1 .7 7.6-.3 14.4-11.7 .6 0 1 1.7 2.7 2 6.7 0 2-1 1.3 2.3 .3 2.3 3.7 8.7 1.7 10.3 1.3 3.7 .3 3 1.4 3.3 4-.6 7.3-5.4 3.3-1.3 .4 .7-.7 1.6-.3 3.4-2.7 5.3 0 2.3 3.3 0 3.4-3.3 .3 1.3 5.3 0 2.7-2 .7 0 7.6-5.6 9.7-9.7 2.7-1.7 2.3-2.3 5.3-4 1-1.3 5-3.7 14-6.3 10.7-7.4 7-2 7.3-3.6 2.7-2 2.7-3.4 5.3-10.6 3-3 3.3-1 6.4-.4 6-2.3 .6-.7 1.7-.3 3.3-2.3 1.4-.4 1-1.3 3-2 6-5.7 1.3-.6 3.3-3.7 3.4-4.7 2-4 2.6-3.6 0-9-2.6-13-2.4-4.4-6 0-1.3 .7-11.3 12-3 2-2-6.3-4.7-8-3.3-.4-4.4-2.3-6.6-.3-.4-.4-2.3-13.6-1.7-3.7-2.6-4-8.4 0-4 3-5.6 2.3-.7-.6-2.7-11.7-3-5-3-3.3-1.3-.7-6.7 0-9.6 9-2-5.3-2-9.4-1-2.3-3-3.7-1 0-.7-.6-6 0-1 .6-2.3 0-3 2.7-5.7 3-1.3-3-3-15.3-3-4.7-1.4-.7-6.6 0-2 1.4-3.4 3.6-5.3 4.4-.7-1.4-.3-2.6-2-4-2.7-3.7z"/>
<path fill="#294cca" d="M769.8 459.2l0 2-.6 .6-1.4-.6-3 .3-1.6 1-1-.3 1.3-1.7 4.3-1.7zM934.5 452.8l.3 .7-1 1.7 0 1-5.6 3.3-.4-1.3 .7-.4 1-2.3 1-.7 .7-1.3zM841.5 436.8l.3 1-2.3 1-1.3-.3 1.3-1.7 .7-.3zM796.5 364.5l-2.3 2.3-2.7 5-5 7.4-4 4.6-4.7 4.4-8 2-3.3 1.3-8.3 .3-4.4 1.4-6.6 .6-4.7 2-13 9.7-2.7 1.3-10.6 11-11.7 8.7-.7 0-6 4-8.3 8.3-1.7 1-2 .4-5.6 2.3-3.7 2.7-1 1.3-8.7 6.3-1.6 .7-.7 1-4.3 3 0 5.7 3.6 0 1.7 2.3 2 6 .3 4 2.7 10.3 2.7 4.7 1.6 2 6.4 0 1.6-1.3 .7 0 1.7-1.4 6.3-3.3 1-1 1.3-.3 .7 .6 .3 4 1 2.7 1.7 7.7 2.7 5 1.3 1.3 6.7 0 13-7.3 2.3 10 .7 1 .3 2.6 1.7 4 3.3 4.7 7.3 0 12.4-8 1 1.3 .3 3.4 2.7 10.3 1.6 3.7 1 1 1.4 2.6 1 .7 7.6-.3 14.4-11.7 .6 0 1 1.7 2.7 2 6.7 0 2-1 1.3 2.3 .3 2.3 3.7 8.7 1.7 10.3 1.3 3.7 .3 3 1.4 3 3.6-1.7 8.7-6.3 2-1 1 0 .3 .7-1.3 3.6-.3 3.4-1.7 4 0 .6 2.7 2.7 3-3 .3 1.3 5.3 0 2.7-2 .7 0 7.6-5.6 9.7-9.7 2.7-1.7 2.3-2.3 5.3-4 1-1.3 5-3.7 14-6.3 10.7-7.4 7-2 7.3-3.6 2.7-2 2.7-3.4 5.3-10.6 3-3 3.3-1 6.4-.4 6-2.3 .6-.7 1.7-.3 3.3-2.3 1.4-.4 1-1.3 3-2 6-5.7 1.3-.6 3.3-3.7 3.4-4.7 2-4 2.6-3.6 0-9-2.6-13-2.4-4.4-6 0-1.3 .7-11.3 12-3 2-2-6.3-4.7-8-3.3-.4-4.4-2.3-6.6-.3-.4-.4-2.3-13.6-1.7-3.7-2.6-4-8.4 0-4 3-5.6 2.3-.7-.6-2.7-11.7-3-5-3-3.3-1.3-.7-6.7 0-9.6 9-2-5.3-2-9.4-1-2.3-3-3.7-1 0-.7-.6-6 0-1 .6-2.3 0-3 2.7-5.7 3-1.3-3-3-15.3-3-4.7-1.4-.7-6.6 0-2 1.4-3.4 3.6-5.3 4.4-.7-1.4-.3-2.6-2-4-2.7-3.7z"/>
<path fill="#0b5edf" d="M772.5 456.2l-2.3 6-2.4-1-3 .3-4 2-.6-.3 .6-.7-.3-.7 2.3-2.6 8.4-3.7zM742.5 443.8l-.3 2-3-.3 1.6-1.7 1-.3zM845.2 431.8l0 1-2.4 5.4-4.6 .6-3 1.4-.4-.4 .4-1.3 4-3.7 5-3.3zM796.5 364.5l-2.3 2.3-2.7 5-5 7.4-4 4.6-4.7 4.4-8 2-3.3 1.3-8.3 .3-4.4 1.4-6.6 .6-4.7 2-13 9.7-2.7 1.3-10.6 11-11.7 8.7-.7 0-6 4-8.3 8.3-1.7 1-2 .4-5.6 2.3-3.7 2.7-1 1.3-8.7 6.3-1.6 .7-.7 1-4.3 3 0 5.7 3.6 0 1.7 2.3 2 6 .3 4 2.7 10.3 2.7 4.7 1.6 2 6.4 0 1.6-1.3 .7 0 1.7-1.4 6.3-3.3 1-1 1.3-.3 .7 .6 .3 4 1 2.7 1.7 7.7 2.7 5 1.3 1.3 6.7 0 13-7.3 2.3 10 .7 1 .3 2.6 1.7 4 3.3 4.7 7.3 0 12.4-8 1 1.3 .3 3.4 2.7 10.3 1.6 3.7 1 1 1.4 2.6 1 .7 7.6-.3 14.4-11.7 .6 0 1 1.7 2.7 2 6.7 0 2-1 1.3 2.3 .3 2.3 3.7 8.7 1.7 10.3 1.3 3.7 .7 3.7 1 .3 3.3-1 10.7-7.7 1.6-.3 .4 1.3-1.7 5-.3 3.4-1.4 3.3 1.7 0 2.3 2 .7 0 .7-1 .3 1.3 5.3 0 11-7.6 9.7-9.7 2.7-1.7 2.3-2.3 5.3-4 1-1.3 5-3.7 14-6.3 9.4-6.7 10.6-3.7 1-1 4-1.6 2.7-2 3.7-5 4.3-9 3-3 3.3-1 6.4-.4 8-3.3-2.7-3.3 0-1 2.7-3 5-3.7 4.3-2.7 1.7-.3 3.3 3.3 5.3-5.3 8-12.3 0-9-2.6-13-2.4-4.4-6 0-1.3 .7-11.3 12-2.7 1.7-2 5.3-4 2-3.7 2.7-.3-.4 .3-1.3 1.7-2 0-.7 2-2 .3-1.3 2-1.7 1.7 0 1.3-.6-.6-3.7-5.7-10.3-3.3-.4-4.4-2.3-6.6-.3-.4-.4-2.3-13.6-1.7-3.7-2.6-4-8.4 0-4 3-5.6 2.3-.7-.6-2.7-11.7-3-5-3-3.3-1.3-.7-6.7 0-9.6 9-2-5.3-2-9.4-1-2.3-3-3.7-1 0-.7-.6-6 0-1 .6-2.3 0-3 2.7-5.7 3-1.3-3-3-15.3-3-4.7-1.4-.7-6.6 0-2 1.4-3.4 3.6-5.3 4.4-.7-1.4-.3-2.6-2-4-2.7-3.7z"/>
<path fill="#036ae1" d="M904.8 480.5l-7.6 7.7-10 8.6-1.4 .7-2.3-.3 5-4.7 8.3-6.3 2.4-2.4 2.3-1.3 2.7-2.3zM777.2 450.2l-2 4.3-3 4.3-1.7 3.4-2.7-1-3 .3-4.6 2.3-1-.3 1-3 3-3 7-3.3 6-4.4zM750.8 434.5l-2.6 5.7-2.7 2.3-1.7 3.3-4.3 0-3.3 1-.4-1 1.4-1.6 7.6-5.7 3.7-3.3 1.7-1zM851.2 424.8l-5.7 10-.7 .4-1 2.6-5.6 1-5.7 2.4-.7-.4 .4-1.3 5.3-5.3 10.3-8 2.7-1.7zM786.2 400.8l-15 15-1.7 1.4-.7-.4 10.7-11.6 1-.4 2.7-3.3 1.6-.3 .7-.7zM789.2 396.8l.3 .7-2.7 2.7-.3-1.4zM796.5 364.5l-2.3 2.3-2.7 5-5 7.4-4 4.6-4.7 4.4-8 2-3.3 1.3-8.3 .3-4.4 1.4-6.6 .6-4.7 2-13 9.7-2.7 1.3-10.6 11-11.7 8.7-.7 0-6 4-8.3 8.3-1.7 1-2 .4-5.6 2.3-3.7 2.7-1 1.3-8.7 6.3-1.6 .7-.7 1-4.3 3 0 5.7 3.6 0 2 3 1.7 5.3 .3 4 1.4 6 1 2 .3 2.3 2.7 4.7 2-1 1.3-1.7 2-1.3 3.7-1.7 .3 .4-1.3 2.3-2 1.7 2 3.3 1.6-1.3 .7 0 1.7-1.4 6.3-3.3 1-1 1.3-.3 .7 .6 .3 4 1 2.7 1.7 7.7 2.7 5 3-3 4.3-2.4 1 0 .3 .4-.6 1.3-2.4 2 2.4 3 13-7.3 2.3 10 .7 1 .3 2.6 3 6 3-1.6 1 0 7-4.4 1-.3 .3 .3-2.6 3.7-3 2 0 3 2.6 0 2-1 10.4-7 1 1.3 .3 3.4 2.7 10.3 3 5.7 3.3-1.4 .3-.6 5.7-4 1 .3-1.7 3-2.3 1.7-.3 3.3 3.6-.3 14.4-11.7 .6 0 1 1.7 2.7 2 6.7 0 2-1 1.3 2.3 .3 2.3 3.7 8.7 1.7 10.3 1.3 3.7 .7 3.7 3.6-1.7 12.4-9 2-.7 .3 .7-1.3 2.3-.4 2.4-1.3 3.6-.3 3.4-1.4 3 .7 0 .7-1 1.6-.7 2.4 2.3 .3 2 5.3 0 11-7.6 9.7-9.7 2.7-1.7 2.3-2.3 5.3-4 1-1.3 5-3.7 14-6.3 9.4-6.7 10.6-3.7 1-1 4-1.6 2.7-2 3.7-5 4.3-9 3-3 3.3-1 4.7 0 5.3-1.7-.3-2-1.3-2.3 .6-1.7 1.7-1.3 3-1.4 2.7-2.3 2.3-1.3 6-5 1-1.4 4.7-2.3 3.3 3.3 3.7-5 2-4 2.6-3.6 0-9-2.6-13-2.4-4.4-6 0-1.3 .7-11.3 12-2.7 1.7-2 5.3-4 2-7.3 6-.4-.7 1.7-2.3 0-.7 1-.6 .7-1.7 .3 .3 .3-1 .7-.3 1.3-2.7 3.4-4 3-1 .3-1.3-1.7-4-4.3-7.3-3.3-.4-4.4-2.3-6.6-.3-.4-.4-2.3-13.6-1.7-3.7-2.6-4-8.4 0-4 3-5.6 2.3-.7-.6-2.7-11.7-3-5-3-3.3-1.3-.7-6.7 0-9.6 9-2-5.3-2-9.4-1-2.3-3-3.7-1 0-.7-.6-6 0-1 .6-2.3 0-3 2.7-5.7 3-1.3-3-3-15.3-3-4.7-1.4-.7-6.6 0-2 1.4-3.4 3.6-5.3 4.4-.7-1.4-.3-2.6-2-4-2.7-3.7z"/>
<path fill="#0b73dd" d="M780.2 445.2l-9.4 17-4.3-1-1.7 .3-5.6 2.7-.7-.7 1-3.7 3.7-3.6 9-5.4 7.6-6zM873.5 439.8l-1.7 1.4-1-.4 2-1.3zM753.2 430.2l-5.4 10.6-1.6 2.7-1 .7 .3 .3-1 1.3-5 0-4 1-2.3 1.4-.7-.4 1.3-2.6 3-3 6.7-5 7.3-6.4 1.7-1zM854.5 419.8l-4.3 6.4-3 6-1.7 2.3-1.3 3.3-6 1-6.4 2.4-3 1.6-.3-1 3-4 6-5.6 7.7-5.7 7-6 1.6-1zM798.8 389.2l-3 3-4.3 3-5.7 6.3-14.6 14.3-9 6.4-.4-.4 1-1.6 12.7-12 1-1.7 2-1.3 2-2.7 2-.7 2.7-3.6 2.3-.7 3.3-4 4.4-3.3 3-1.4zM796.5 364.5l-2.3 2.3-2.7 5-5 7.4-4 4.6-4.7 4.4-8 2-3.3 1.3-8.3 .3-4.4 1.4-6.6 .6-4.7 2-13 9.7-2.7 1.3-10.6 11-11.7 8.7-.7 0-6 4-8.3 8.3-1.7 1-2 .4-5.6 2.3-3.7 2.7-1 1.3-8.7 6.3-1.6 .7-.7 1-4.3 3 0 5.7 3.6 0 2 3 1.7 5.3 .3 4 1.4 6 1 2 .3 2.3 1.7 2.7 9-6 2.6-1 .4 .3-.4 1-3.6 5.7 1.6 3.3 9.7-5.3 1-1 1.3-.3 .7 .6 .3 4 1 2.7 1.7 7.7 1.7 2.6 3-1.3 .6-1 5-3 2.4-.7 .3 .4-.3 1-3 4.3 1.3 3 1 .3 11.7-6.6 2.3 10 .7 1 .3 2.6 2 4.4 4.3-1.7 8.7-5.7 1-.3 1 .3-2.7 4.7-3.6 3.7 1.3 3.3 2.3-1 10.4-7 1 1.3 .3 3.4 2.7 10.3 2 4 3.3-1.3 9.3-7 1 .3-3.3 6-2.3 3 .6 3 1 0 2-1 .7-1 4.3-3 .7-1 5.7-4 2-2 .6 0 1 1.7 2.7 2 6.7 0 2-1 1.3 2.3 .3 2.3 3.7 8.7 1.7 10.3 1.3 3.7 .3 2.3 1.7-.3 2.3-1.3 10.4-8 10.6-7 6.4-5 3.6-2 .4 .3-7 6.7-1.7 .6-6.3 4.7-1.7 1.7-1.3 2.6-2.7 11 1.7-.3 2.6-3 1.7-.7 .3 1.4-1.6 4.3 .3 2.3 5.3 0 11-7.6 9.7-9.7 2.7-1.7 2.3-2.3 5.3-4 1-1.3 5-3.7 14-6.3 9.4-6.7 4-1.7 4.3-1 5-2.6-1.7-2.7 0-2.7-.6-3.6 2-1.7 .6 0 2.7-2 .7 1 .3 3 1 1 2.7 1.3 5.3-10.6 3-3 3.3-1 4.7 0 2.3-.7-.3-1.7-1-1.6 0-1.7 .7-1 1.6-1.3 2.7-1 1.3-1.4 .4-1 5.3-4.6 10-5.7 3-3.3 2 0 2.3 2.3 1 .3 3.4-6 2.6-3.6 0-9-2.6-13-2.4-4.4-6 0-1.3 .7-11.3 12-2.7 1.7-2 5.3-4 2-3.7 2.7-3.3 3.3-1.3 .7-1 1.3-1.7 1-7.3 6.7-14 14-10 8.6-1.4 .7-4 .3-1.6 .7-.4-.3 2.4-2.4 9-7 6.3-5.6 1.3-.7 18.7-16 4.3-4.7 1.7-2.6 1-.7 .3-1 1.7-1.7 0-.6 1.3-1 .4-1.4 1-.3 .3-1.3 1.7-1.7 3-1.3-1-3-4.7-8-3.3-.4-4.4-2.3-6.6-.3-.4-.4-2.3-13.6-1.7-3.7-2.6-4-8.4 0-4 3-5.6 2.3-.7-.6-2.7-11.7-3-5-3-3.3-1.3-.7-6.7 0-9.6 9-2-5.3-2-9.4-1-2.3-3-3.7-1 0-.7-.6-6 0-1 .6-2.3 0-3 2.7-5.7 3-1.3-3-3-15.3-3-4.7-1.4-.7-6.6 0-2 1.4-3.4 3.6-5.3 4.4-.7-1.4-.3-2.6-2-4-2.7-3.7z"/>
<path fill="#127bd9" d="M786.5 437.8l-7.3 8.7-8.4 15.7-4.3-1-1.7 .3-4.6 2.3-2 .7-.7-.3 0-1 .7-.4-.4-.6 .7-.4 .3-1-.3-.6 .3-.4 .4 .4-.4-1 .4-.4 .3 .4 .7-1.7 3-3 6-3.3 16.6-13.7zM876.8 435.8l-4.3 5-5.3 1.7-1-.3 7.6-5.7 2-1zM861.5 411.5l0 .7-3.3 3-4.7 5.6-8 13.7-1 3.3-7.3 1.4-7.7 3-3.7 2-2 1.6-.6-.3 8.6-10 4.7-4.3 12.3-9.7 10-9 2-1.3zM803.2 384.8l-4.7 5-7 5.4-5.7 6.3-14.6 14.3-9.7 7-3 1.7-4.3 4-2 3-4.4 9.3-3 5-7.3 .4-4.7 2-2.3 1.6-.3-.3 .6-2.3 2-3.4 4-4 6-4.3 14.4-12 3.6-3.7 1.7-1 7.7-7 2.6-3 .7 0 2-2.6 .7 0 2-2.7 1.6-.7 3-3.6 2.4-1 2.6-3.7 3-1.3 10-8.4 1-.3zM796.5 364.5l-2.3 2.3-2.7 5-5 7.4-4 4.6-4.7 4.4-8 2-3.3 1.3-8.3 .3-4.4 1.4-6.6 .6-4.7 2-13 9.7-2.7 1.3-10.6 11-11.7 8.7-.7 0-6 4-8.3 8.3-1.7 1-2 .4-5.6 2.3-3.7 2.7-1 1.3-8.7 6.3-1.6 .7-.7 1-4.3 3 0 5.7 3.6 0 2 3 1.7 5.3 1.3 8.7 2 6.3 4.4-1.7 7-4.6 1.3-1.4 2-.6 .3 .6-5 9 1 .4 1.7 3 1.7-1.4 6.3-3.3 1-1 1.3-.3 .7 .6 .3 4 3 11 6.4-2.6 1-1 6.3-3.4 1 .4-3.3 5-1.4 3 2.4-1 2.3 3 8.7-5 2.3 10 .7 1 .3 2.6 1.7 4 2-1 2.6-2.6 5-2.7 4.4-3 2-.7 .3 .7-1.3 3.3-1.4 2.4-3.6 4.3 3 2.7 10-6.7 1 1.3 .3 3.4 1.7 7 2.6 7 6.4-5.4 7-5 1.6-.6 .4 .6-2 4-4 6.4 3 3 .3-.7 4.3-3 .7-1 5.7-4 2-2 .6 0 1 1.7 2.7 2 6.7 0 2-1 1.3 2.3 .3 2.3 3.7 8.7 1.7 10.3 1.3 3.7 3.3-.3 24-17.4 12-9.6 3.4-2 .3 .6-11.7 12-2.6 2.4-1.7 .6-6.3 4.7-1.7 1.7-1.3 2.6-2.7 11 6.3-5 .4 1.4-2 5.3 .3 2.3 5.3 0 11-7.6 9.7-9.7 2.7-1.7 2.3-2.3 5.3-4 1-1.3 5-3.7 14-6.3 10.7-7.4 7-2-.3-2-1.4-2.6-.3-2.7 .3-2 8-4.7 3-3 1 1 .4 2.7 3 2.3 4.3-8.6 3-3 3.3-1 4.7 0 .3-.7-1.6-3.3 0-1 .6-1 3.4-1.4 3.6-4.6 5-2.7 1-1.3 1.7-1 4.7-4.4 3-2 4.6-2 1.4-1.6 1.6 0 2.4 2.3 1 .3 2-4 2.6-3.6 0-9-2.6-13-2.4-4.4-6 0-1.3 .7-11.3 12-2.7 1.7-2 5.3-4 2-3.7 2.7-3.3 3.3-1.3 .7-1 1.3-1.7 1-7.3 6.7-14 14-7.7 6.3-.7 1-3 2-4 .3-2.6 1-5.4 4.4-4 1.6-.3-.3 2.3-2.3 18.4-14.4 29.6-25.3 6-7.3 .4-1 1-.7 .3-1 .7-.3 .3-1.4 3-3 2.3-.6-1-2.7-4.3-7.3-3.3-.4-4.4-2.3-6.6-.3-.4-.4-2.3-13.6-1.7-3.7-2.6-4-8.4 0-4 3-5.6 2.3-.7-.6-2.7-11.7-3-5-3-3.3-1.3-.7-6.7 0-9.6 9-2-5.3-2-9.4-1-2.3-3-3.7-1 0-.7-.6-6 0-1 .6-2.3 0-3 2.7-5.7 3-1.3-3-3-15.3-3-4.7-1.4-.7-6.6 0-2 1.4-3.4 3.6-5.3 4.4-.7-1.4-.3-2.6-2-4-2.7-3.7z"/>
<path fill="#1484d4" d="M781.5 518.8l.3 .4-.6 2 0 2-.7 1-1.7-3.4zM778.8 481.5l-2.6 3-4 3.3-3.7 2-1-.3 2.7-2.7 2-1 4.3-4 1.7-.6zM781.5 478.2l.3 .3-.6 1-2.4 2-.3-.3 .3-1.4 1.4-1.3zM783.8 475.8l.4 .4-2 2-.4-.4 .4-1.3 .6-.7zM709.5 461.5l-.3 .7-8.7 6.3-3.3 1.3-.7-.3 2.7-2.7 4.3-3 3.7-2 2-.6zM879.8 431.5l-3.6 5.3-3.7 4-6.3 1.7-3.7 2-.3-.3 3.3-3.4 13.7-9.6zM802.5 422.2l-11.7 10.6-3 4-2.3 2-5 5.7-7.7 13.7-1.3 4.3-3.7-1.3-1.3 0-9.3 3.6-1-.3 .6-1 0-1 .4-.3 .3 .3 .3-1.7 1.7-3.3 0-1 .3-.3 .4 .3 1.6-2.3 7-4.4 30-25.3 1-1.3 2-1.4zM861.8 409.8l-.3 2.4-3.3 3-3.7 4.3-3.3 5-5.7 10.3-.3 1.7 .3 .3-.7 1-6.6 1-8.7 3.4-3.7 2-11 8.3-2 2-10 7-7 6.3-5.6 3.4-6 5-.4-.4 .4-1.3 1.3-.7 1-2.3 1-.3 2-2 3.7-1.7 4.6-3.3 1.7-.7 26.3-23 8.7-9.3 13-10.4 12.3-11 1.4-.3zM827.5 400.2l-5.3 6-5.7 5.3-7 4.7-.7-.4 5-5.3 7-5.7 3.4-3.3 2.6-1.7zM807.5 380.5l-1.3 2.3-1.7 1-8.7 8.4-4.3 3-5.7 6.3-14.6 14.3-9.7 7-3 1.7-4.3 4-2 3-4.4 9.3-3 5-5.3 0-4 1-2.7 1.4-6.6 4.6-1 .4-.7-.4 4.3-4.3 3.4-6 3.3-3.3 26.3-21.4 4.4-4.3 1-.3 7.6-7.4 1.4-2 1.6-.3 1-2 1.4-1.3 2.3-.7 1.3-2.3 1.7-1.7 1.3-.3 6.4-6 7.3-4.4 3.3-3.3 1.7-.3 1.3-1zM796.5 364.5l-2.3 2.3-2.7 5-5 7.4-4 4.6-4.7 4.4-8 2-3.3 1.3-8.3 .3-4.4 1.4-6.6 .6-4.7 2-13 9.7-2.7 1.3-10.6 11-11.7 8.7-.7 0-6 4-8.3 8.3-1.7 1-2 .4-5.6 2.3-3.7 2.7-1 1.3-8.7 6.3-1.6 .7-.7 1-4.3 3 0 5.7 3.6 0 2 3 1.7 5.3 1.3 8.7 2 6 8-6 7-4.4 1 .4-1 2.6-4 7-.3 1.4 5.7-2.7 5-3.3 2.6-1 .7 1.3-1.7 3.7 .7 .6 .3 4 3 10.7 4-3 3-1.3 6.7-4.4 1.7-.3 .3 .3-5.3 9.7 6-2.7 1.6-1.3 1.4-.3 1.6-1.4 4-2 .4 .4-.4 1.6-1.6 3.4 2.3 10 1.7 4.6 4-1 8-5.3 5.3-3 1 0 .3 .7-2 3.3-.6 2.3-4.4 6 1.4-.6 2 3.3 1.6-1.3-1.6-3.4 3-2.3 .6 0 2.4 3 1.3-1-1.3-3.7 1.3-1.3 1.3-.3 1.4 1.3-1 3 1 1.3 1.6 9 2 6 3-1.3 2.7-2.3 10.3-7 1 .3-.6 2.3-5.7 10 3 2.7 3-2-2.7-3 2.4-2 3 2.7 2.3-1.7-1.7-3.7 2.4-2 3 2.7 1-1 .6 0 1 1.7 2.7 2 6.7 0 2-1 1.3 2.3 .3 2.3 3.7 8.7 1.7 10.3 1.3 3.7 4.7-2.3 21.3-16 5-4.4 6.3-4.3 6-5.3 3-2 3-3 5.4-4 .3 .6-2 2.4-5.7 5-16 16.6-2.6 2.4-1.7 .6-6.3 4.7-1.7 1.7-1.3 2.6-2.4 10 1.7-.6 3.3-3.7 1 0 .4 1.7-2 5.3 .3 2.3 5.3 0 11-7.6 9.7-9.7 2.7-1.7 2.3-2.3 5.3-4 1-1.3 5-3.7 14-6.3 9.4-6.7 3-1.3 2-.4-1-2.6-.7-5.4 .7-1.3 3-1 3.6-2.7 4-2 4-4.3 1 1 .4 2 3.6 1.3 2.7-5.6 3-3 3.3-1 3.4 0-1.7-3.7 0-1 1-1.3 2.3-.7 1.4-2.3 1.6-1.7 3-1.3 6-5.4 4.7-2.3 7.7-7 3.3-1 1.3-1.3 4.4 2.6 3.6-5.6 0-9-2.6-13-2.4-4.4-6 0-1.3 .7-11.3 12-2.7 1.7-2 5.3-4 2-3.7 2.7-3.3 3.3-1.3 .7-1 1.3-1.7 1-7.3 6.7-14 14-7.7 6.3-.7 1-3 2-4 .3-2.6 1-7 5.4-6 1.6-.4-.3 1-1.3 15-11.4 3.7-3.3 2.3-1.3 11.4-10 18-14.7 5-5 .6-1.3 2-2 0-.7 1.4-1.3 .3-1 1-.7 0-.7 1-.6 1.3-3 3-2.7-4.3-7.3-3.3-.4-4.4-2.3-6.6-.3-.4-.4-2.3-13.6-1.7-3.7-2.6-4-8.4 0-4 3-5.6 2.3-.7-.6-2.7-11.7-3-5-3-3.3-1.3-.7-6.7 0-9.6 9-2-5.3-2-9.4-1-2.3-3-3.7-1 0-.7-.6-6 0-1 .6-2.3 0-3 2.7-5.7 3-1.3-3-3-15.3-3-4.7-1.4-.7-6.6 0-2 1.4-3.4 3.6-5.3 4.4-.7-1.4-.3-2.6-2-4-2.7-3.7z"/>
<path fill="#0c8dd2" d="M906.5 440.5l.3 .3-3.6 3.4-.4-1 .7-1 1.7-1.4zM956.8 436.8l-6 0-1.3 .7-11.3 12-2.7 1.7-2 5.3-4 2-3.7 2.7-3.3 3.3-1.3 .7-1 1.3-1.7 1-7.3 6.7-14 14-10 8.6-1.4 .7-4 .3-2.6 1-7 5.4-2.7 1-2.7 .3-5 2.7-5.3 5.3-2 2.7-5.7 5-16 16.6-2.6 2.4-1.7 .6-6.3 4.7-1.7 1.7-1.3 2.6-.4 2.4-1.3 3.6-.3 3 .6-1 3-1.3 2-1.7 .4 .4 0 2-2 5.3 .3 2.3 5.3 0 2.7-2 .7 0 7.6-5.6 9.7-9.7 2.7-1.7 2.3-2.3 5.3-4 1-1.3 5-3.7 14-6.3 9.4-6.7 2-.7 .3-.6-1-6.7 .3-2 5.4-2 3.6-2.7 4-2 2.7-2.6 2-3.4 1 1 .7 2.4 3 1.6 2.3-4.6 3-3 3.7-1 0-4.7 1-1 1.3-.3 1-2 1.3-1.4 2.4-1 4.3-4.6 2-1 6-5 6.7-3.4 2-1.3 3.3-3.7 2.3-.3 .7-1 4.7 2.3 2.6-3.6 0-9-2.6-13zM912.8 436.2l-1 1.6-3.3 1.7-.3-.3 0-1 2.6-2.4zM883.5 427.2l-8.7 11.3-2.3 2.3-6.3 1.7-3.4 1.7-1 1-.6-.4-.4-.6 1-.7 0-1 1.4-1.7 8.3-5.3 9-7.3 2.3-1.4zM862.2 407.8l-.7 4.4-3.3 3-3.7 4.3-4.3 6.7-4 7.3-.7 2 .3 .3-.3 2-2.3 0-5 1-8.7 3.4-3.7 2-11 8.3-2 2-10 7-7 6.3-9.3 6-10.3 10.7-4 3.3-3.7 2-3 .7-3 1.3-.7-.3 3.7-3 5-2.7 3.7-2.6 3.6-4.4 1.4-.3 2-2.7 1 0 .6-1.6 1.4-1 .3-1 .7-.7 .3 .3 2.7-3 3.3-1.6 10.3-7.7 11.7-10.3 8.3-6.7 15-15 1-.3 9.4-7.7 9.3-8.7 1-.3 1.7-1.7 2.6-1.3zM833.2 394.2l-.4 1-5.3 4.6-1.7 2.4-6.6 7-5.4 4.3-1.6 .7-5.7 4-8.3 8.3-4.4 3.3-3 3-3 4-5.3 5.4-3.3 4.3-7 13.3-.4 1.4 .4 1-.7 .6-.7-.6-4.3-1-1.7 .3-4.6 2.3-3.7 1-2.3 1.4-.7-.4 1-1.6 1-.4 1.7-3 .3 .4-.3-1 .6-.4 1.4-4 .3 .4 .7-1.7 4.6-3.3 .7-1 5.7-3.7 4-4 2.6-1.7 5-4.6 1.4-.7 15-13.7 1-.3 5.6-5.3 .7 0 3.3-3.7 .7 0 3.3-3.7 1-.3 9.7-9 2-1 5-4.7zM807.8 379.5l-1.6 3.3-1.7 1-8.7 8.4-4.3 3-5.7 6.3-14.6 14.3-9.7 7-3 1.7-4.3 4-2 3-4.4 9.3-2 3-.3 2-6 0-4 1-2.7 1.4-6.6 4.6-6.4 1.7-4 2-3.3 3-2.7 1.7-.6 1-8.7 6.3-5 1.7-2.3-.4 1-1.3 9.6-6.7 8-4.6 5.4-2.4 8-5 2.6-2.3 3.4-5.7 3-3.3 1-.3 18.6-15.7 4-2.7 4.7-4.6 .7 0 1.6-1.4 3-3.3 .7 0 3-3.3 .7 0 2.3-3 1 0 2.3-3.4 2.4-.6 2.3-3.7 2.3-.7 3-3.6 5-4 3-1.7 2-2 4-1.7 2.4-1.6 1.6-2zM796.5 364.5l-2.3 2.3-2.7 5-5 7.4-4 4.6-4.7 4.4-8 2-3.3 1.3-8.3 .3-4.4 1.4-6.6 .6-4.7 2-13 9.7-2.7 1.3-10.6 11-11.7 8.7-.7 0-6 4-8.3 8.3-1.7 1-2 .4-5.6 2.3-3.7 2.7-1 1.3-8.7 6.3-1.6 .7-.7 1-4.3 3 0 5.7 3.6 0 2 3 1.7 5.3 .3 4 2 7.7 4.4-1 2.3-2 10-6.4 .7 .4-1.4 4.6-4.3 8 6-3 5-3.3 3.3-1.3 .4 1-2.4 5 .7 .6 .3 4 2 7.7 3.4-.3 13.6-8 1 .3-6.3 11.3 2.3-.6 1.7-1.4 2-.6 1-1 2.7-1 2.6-2 2-.4 .4 .4-.4 1.6-1.6 3.4 3.6 14.3 3-1.3 9-6 11-6 4.7-3.4 6.7-3.6 .3 .3-.3 .7-3 2-.7 1-4.7 3-3 1.3-3.6 2.7-4.4 9-2.6 3 3-2 .6 0 6.7-5 3-1.7 .3 1-1.6 5 1 1.3 .3 3.4 2.7 9.6 4-1.3 11-8 3-1.3 .3 .6-1 2-.3 2-5 9 3.3-2 3.3-3.3 4.7-3 .7-1 4-3 .6 .7-1 5.3 1.7 2.3 2 1.4 6.7 0 2-1 4.3 11.6 1 1.7 1.7 10.3 1 2 4-1.3 16.3-12 8.7-7.3 11.3-8.4 12-10.6 8.3-6 1.4-1.7 4-3.3 4-2.4 7-6 2.3-1.3 4-3.7 4.7-3.3 5.3-5 1-.3 5.7-5.4 2-1 8.6-7.6 1.7-.7 2.3-2.7 3-2.3 1.4-2 .6 0 2-3 1.4-1 1.3-2.3 1-.7 .7-1.7 .3 .4 1.3-4 3.7-2-4-7-3.3-.4-4.4-2.3-6.6-.3-.4-.4-2.3-13.6-1.7-3.7-2.6-4-8.4 0-4 3-5.6 2.3-.7-.6-2.7-11.7-3-5-3-3.3-1.3-.7-6.7 0-9.6 9-2-5.3-2-9.4-1-2.3-3-3.7-1 0-.7-.6-6 0-1 .6-2.3 0-3 2.7-5.7 3-1.3-3-3-15.3-3-4.7-1.4-.7-6.6 0-2 1.4-3.4 3.6-5.3 4.4-.7-1.4-.3-2.6-2-4-2.7-3.7z"/>
<path fill="#0298d1" d="M792.2 500.5l.3 .7-2.7 2-.3-.7zM956.8 436.8l-6 0-1.3 .7-11.3 12-2.7 1.7-2 5.3-4 2-3.7 2.7-3.3 3.3-1.3 .7-1 1.3-1.7 1-7.3 6.7-14 14-10 8.6-1.4 .7-4 .3-2.6 1-7 5.4-2.7 1-2.7 .3-5 2.7-5.3 5.3-2 2.7-5.7 5-16 16.6-2.6 2.4-1.7 .6-6.3 4.7-1.7 1.7-1.3 2.6-2 8.7 4.3-4 1-.3 .3 .3 .4 2.7-2 5.3 .3 2.3 5.3 0 2.7-2 .7 0 7.6-5.6 9.7-9.7 2.7-1.7 2.3-2.3 5.3-4 1-1.3 5-3.7 14-6.3 7.4-5.4 2.6-1.3 .4-.7-1.4-2.3-.6-4.7 .3-1.6 6.3-2 5-3.4 4-2 2.7-2.6 3-4.7 1 1 .3 1.7 3.4 1.6 1.3-2.6 3-3 2.7-.7-.4-5 1-1 1 0 2-3 .7 0 3.7-4 1.6-.7 5.4-4.6 5.6-3.4 1-1.3 6-5 4-1.3 1.7-2 1.7-.4 1.3-1 1.3 .4 3 2.6 2-2.6 0-9-2.6-13zM913.5 434.8l-1.7 3-4 2-6.6 6-1.7 .7-1 1-1 .3-1-.3 1.7-1 3.6-4.3 2-.7 3.4-4 2-.7 2.6-2 1-.3zM887.8 422.5l-6.6 7.3-5 7-3.7 4-6.3 1.7-3.4 1.7-2 1.6-1.3-.3 1-2-.3-.3 4.3-4.4 7.7-5 12.3-10.3 .7 0 1.6-1.3zM833.8 392.5l-1 2.7-5.3 4.6-1.7 2.4-6.6 7-5.4 4.3-1.6 .7-5.7 4-8.3 8.3-4.4 3.3-3 3-3 4-5.3 5.4-3.3 4.3-6.7 13 .3 .3-.3 2.4-.7 .6-4-1.6-3 .3-4.6 2.3-3.7 1-8.3 4.4-.4-.4 1-1.3 4-2.7 2.7-3 .7 0 0-1 1.3-1.3 1.3-4.7 1-.6 1.4-2.4 5-3 5-4.3 1.3-.7 4-4 2.7-1.6 10.3-9.4 1.3-.6 4-4 1.4-.7 3.6-3.7 3-2 12.7-12 .7 0 11.3-10.3 1.7-.7 2-2 2.3-.6zM807.8 379.5l-1.6 3.3-1.7 1-8.7 8.4-4.3 3-5.7 6.3-14.6 14.3-9.7 7-3 1.7-4.3 4-2 3-6.4 12.7 .4 .3-.7 1.3-6 0-4 1-2.7 1.4-6.6 4.6-6.4 1.7-4 2-3.3 3-2.7 1.7-.6 1-8.7 6.3-3.3 1.3-6 .7-2 1.3-.7-.3 3.7-3.3 9.3-6 2.3-2 21.4-12.4 3-3 1.6-3.3 5.7-5.7 .7 0 9.6-8.3 2.7-1.7 9.3-8 2.4-1.3 4.3-4.3 1-.4 3.7-4 1 0 2.3-3 1.7-.6 .6-1.7 1-1 1.7-.3 1-1 .7-1.7 1.3-1.3 2.7-1.4 1-1.6 2.6-2.4 2-3.3 8-4 2.7-1.7 2-2 2-1 2.3-.6zM796.5 364.5l-2.3 2.3-2.7 5-4 6-2.3 2.7 2.3 2.7 0 1-1.3 3.3-1.4 1.3-3 1-3-2.6-1 1-8 2-3.3 1.3-8.3 .3-4.4 1.4-8 1-3.3 1.6-13 9.7-2.7 1.3-10.6 11-11.7 8.7-.7 0-6 4-8.3 8.3-1.7 1-2 .4-5.6 2.3-3.7 2.7-1 1.3-8.7 6.3-1.6 .7-.7 1-4.3 3 0 5.7 3.6 0 1.7 2.3 2 6 .3 4 1.7 6.3 3.3-.3 1.4-.7 11-8 3.3-1.3 .3 .3-1.6 2.4-1.4 4.6-4 7 3-1 2-1.6 1.7-.4 2-1.6 2-.7 3-2 .7 1.7-2.4 5 .7 .6 .3 4 1.7 6.4 3.7-.4 2.3-1.6 3-1.4 2-1.6 3.7-1.7 .3-.7 3.3-1.3 .4-.7 1 0 .3 .4-1.7 2-2.3 5-3.7 6 6.7-3 1.7-1.4 5.3-2.6 .7 1.3-2 4.7 2.3 10 .7 1 0 1.3 .3 .7 3-1 1.7-1.7 3.3-1.7 3.7-2.6 3-1.4 1.3-1.3 12.7-7 1.6-1.7 4.7-2.3 1-1.3 5-2.4 1-1.3 4.7-3 3.6-3.3 2-.7 2.7-3.3 1.7-.7 1-2 1 0 .3-1.3 1.3-1 1-1.7 .7 0 3.7-3.3 6.6-4 11.4-10 1.3-.7 4-4 1.3-.7 10.7-9.3 3-3 1.3-2 9.7-8.7 1.7-.6 11.3-10.4 .7 0 4.6-4.6 1.4-.7 2.6-.3 .4 1.3-.7 3.7-3.3 3-3.7 4.3-4.3 6.7-4 7.3 .3 1-.3 3.3-3 0-6 1.4-7.7 3-6 3.6-10.7 8.7-10 7-7 6.3-9.3 6-10.3 10.7-6 4.7-8 2.6-1 1-1.7 .7-4 3.7-11 6.6-2.7 4.7-.6 2.3-3.4 4.7 12.7-8.3 .3 1.3-1.6 5 1 1.3 1.6 9 1.4 3.7 2.6-1.3 .4-.7 9.3-6 4-3 .7-1 2-.7 .3 .4-2 4.6-.3 2-4.7 8.4 .7 0 4-3.7 3.3-2 1-1.3 6.7-5 .6 1-1 5.3 1.7 2.3 2 1.4 6.7 0 2-1 4.3 11.6 1 1.7 2 11.3 4.3-1.3 20.4-16 1.6-.7 4-3 9.4-8 3.6-2.3 4-4 2.7-1.7 5.7-5.3 3.6-2.3 12.4-10.4 5.3-4 4-2.3 7.3-6.7 2.4-1.3 5-5 1.6-.7 6.4-6 .6 0 3.7-2.6 6-5.7 .7 0 3.3-3.7 .7 0 3-4 .6 0 .7-1.6 1-.4 .3-1.3 1-.3 .4-1.4 .6-.3 0-1 .7-.3-.3-.4 .6-2.6 3.7-3-3-5-3.3-.4-4.4-2.3-6.6-.3-.4-.4-2.3-13.6-1.7-3.7-2.6-4-8.4 0-4 3-5.6 2.3-.7-.6-2.7-11.7-3-5-3-3.3-1.3-.7-6.7 0-9.6 9-2-5.3-2-9.4-1-2.3-3-3.7-1 0-.7-.6-6 0-1 .6-2.3 0-3 2.7-5.7 3-1.3-3-3-15.3-3-4.7-1.4-.7-6.6 0-2 1.4-3.4 3.6-5.3 4.4-.7-1.4-.3-2.6-2-4-2.7-3.7z"/>
<path fill="#00a0cd" d="M799.2 494.2l-7 7.3-2.7 2-4.7 2-1.3-.3 5.3-4.7 2-1 3.7-3 4-2.7zM854.5 480.5l-5.7 5.7-2 1-.6-.4 4-4.3 2.6-1.3 1-1zM864.2 472.5l-4.4 4.3-2 1.4-.6-.4 4.6-4.6 2-1zM839.5 464.5l-8.7 8-3.6 1.7-1-.4 1.6-2 1.7-.6 9.3-7zM880.2 460.2l-.4 .6-2.6 1.7-.7-.3 1.7-1.7 1.3-.7zM956.8 436.8l-6 0-1.3 .7-11.3 12-2.7 1.7-2 5.3-4 2-3.7 2.7-3.3 3.3-1.3 .7-1 1.3-1.7 1-7.3 6.7-14 14-10 8.6-1.4 .7-4 .3-2.6 1-7 5.4-2.7 1-2.7 .3-5 2.7-5.3 5.3-2 2.7-5.7 5-16 16.6-2.6 2.4-1.7 .6-6.3 4.7-1.7 1.7-1.3 2.6-1.7 7.4 2.7-1.4 2.3-2.3 .3 .3 .4 3.4-2 5.3 .3 2.3 5.3 0 2.7-2 .7 0 7.6-5.6 9.7-9.7 2.7-1.7 2.3-2.3 5.3-4 1-1.3 5-3.7 14-6.3 .7-1.4-1.3-2.3-.4-5 2-2.3 1.4-.7 2.3-2.3 3.7-2 6.6-2 5-3.4 3-1.3 1-1 0-1 .7-.7 2-.6 2.7-4.7 1.3-1.3 1 1 0 1 1 1.3 2.7 1 .3-1.3 3-3 1.7-.4-.7-5.3 .7-1 1.3 0 1-2 1.3-.7 2-2.6 12.4-10 8.6-4.7 4.7-5 2.3-.3 2.4-2 1 0 1.3-1 5.3 2-.3-11-1.3-4.7-1-6.3zM888.2 420.8l-.7 2.4-6.3 6.6-5 7-3.7 4-6.3 1.7-3.4 1.7-3 2.3-1-.3 1-3.4 .7-.3 0-1.3 .3-.4 .7 .4-.3-.4 1.6-2.3 .7 0 2.3-2.3 2.7-1.4 6.7-5.3 2.3-1.3 8-7 1.7-.7zM784.8 391.2l-1-.7-2.6 .3-2-3-.7-.3-.7 .7-8 2-3.3 1.3-8.3 .3-4.4 1.4-8 1-3.3 1.6-13 9.7-2.7 1.3-10.6 11-11.7 8.7-.7 0-6 4-8.3 8.3-1.7 1-2 .4-5.6 2.3-3.7 2.7-1 1.3-8.7 6.3-1.6 .7-.7 1-4.3 3 0 5.7 3.6 0 2 3 1.7 5.3 .3 4 1.4 6 .6 .3 2.7-1 .3-.6 6-4 .7-1 7.3-4.4 1.4-1.3 12.6-8.3 1.7-1.7 22.3-13.3 2.4-2.4 2.3-3.6 6.7-6.4 5.3-3.6 7.3-6.7 4-2.3 7.4-6.7 1.6-.7 4-4.3 1.7-.7 3.3-3.6 1.4-.4 1.6-3 2-.3 1.4-2.7 1.3-1 1.7-.3 2-3 1.6-1zM796.5 364.5l-2.3 2.3-2.7 5-5.7 8 3 1.7 1 2.3 3.7 .4 3-1 1.7-1.4 3.6-1.6 2.4-2.4 4.3-1.6 .3 .3-2 5.7-2.3 1.6-8.7 8.4-4.3 3-5.7 6.3-14.6 14.3-9.7 7-3 1.7-4.3 4-2 3-5.7 11.3-.7 3-6.3 0-4 1-2.7 1.4-6.6 4.6-6.4 1.7-4 2-3.3 3-2.7 1.7-.6 1-8.7 6.3-3.3 1.3-4.4 .4-3 1-2.3 2.3-1.7 5.3-3.3 6.4 1.7-1 1.6-.4 2.7-2 2-.6 1.3-1.4 3.7-1.6 .7 2-2.4 5 .7 .6 .3 4 1 2.7 .4 2.7 .6 1 2.7-1 1.3-1.4 3-1.3 1.4-1.3 3.3-1.4 1.3-1.3 3-1.3 .4-.7 7.6-3.7 .7-1 3-1 .7-1 3.6-1.6 1.4-1.4 3.6-1.6 .4-.7 3.3-1.3 .7-1 3-1 1.6-1.7 3-1.3 1.4-1.4 3.6-2 3-3 1 0 1-2.3 .4 .3 .6-1 .4-2 .3-.3 .3 .3 1-3 .4 .4-.4-.4 1-1.6 .7 0 1.7-2 3-1.7 1-1.3 2.6-1.4 4-4.3 1.7-.7 4.7-4.6 2.6-1.4 4-4.3 1.7-.7 3.3-3.6 1.4-.7 4-4 2.3-1.3 4.7-4.7 1.6-.7 7-7 1.4-.6 4-4 1.3-.7 4-4.3 2.7-1.4 5-5 3.6-.6 .4 .6-1.4 3.4-5.3 4.6-5.3 6.4-5.7 5.3-10 6.7-8.3 8.3-4.4 3.3-3 3-3 4-2.3 2-5 5.7-7.3 13.3-.4 1.4 .4 3.6-.7 .7-1.7-1.3-4.3-1-1.7 .3-4.6 2.3-3.7 1-6.7 3.7-4 1.3-6.3 3-6.3 4.4-5.4 2.6-7.3 5-3 1.4-2 2-3 6-3.3 5.3 1 0 1-1 2.3-.7 1-1 2.7-1 2-1.6 1.6-.4 1.7-1 .7 1.7-2 4.7 2.3 10 .7 1 3-.7 9.6-5.7 2-1.6 3-1.4 .4-.6 8.3-4.4 1.7-1.6 3-1.4 4.6-3.3 1.4-.3 1.6-1.7 6.4-3.3 5-3.7 3-3.7 2.6-1 .7-2.3 1.7-.3 .6-1.7 1-.3 1-2 .4 .3 2.3-3 4-2 3.7-3 3.3-2 16.3-14.7 1.4-.6 5.6-5 12-12 2.7-1.7 5.3-5 2-1 5-5 .7 0 8.7-8 4-1 .3 1-1 5.7-3.3 3-4.7 5.6-6.7 11.7-.3 2.3 .7 .7-.4 .3 .4 .4-.4 .6 .7 .7-.3 .3-4 0-5 1-8.7 3.4-3.7 2-11 8.3-2 2-10 7-7 6.3-9.3 6-10.3 10.7-6 4.7-8 2.6-1 1-1.7 .7-4 3.7-11 6.6-2.7 4.7-.6 2.3-3 4.4 12-8.4 .6 .7 0 1-1.6 5 1 1.3 1.6 9 1 2 4.4-2 13.6-10 1.7-.3 .3 1-2.3 5.3-.3 2-4.4 8 5-3.6 1-1.4 7-5.6 2.4-1 .6 1-1 5.3 1.7 2.3 2 1.4 6.7 0 2-1 4.3 11.6 1 1.7 1.7 10.3 4-1.3 13.3-10 2.7-1.3 8.3-7.7 4.3-3.3 2.7-1.4 8.7-7.6 3-1.7 4-4.3 2.6-1.4 6.4-6 5.6-3.6 19.4-15.7 1.6-.7 5-5 1.7-.6 4.7-4.7 2.6-1.7 8.4-7.3 2.6-1.3 4.4-4.7 1.3-.3 2-2.7 .7 0 .3-1 1.7-1.3 .3-1 1-.4 1-2 .3 .4 1.7-3.4 .7-4 4-2-2.7-4.6-3.3-.4-4.4-2.3-7-.3-2 3.6-4 2-7.6 6.7-4.7 2-.3-.3 .3-1.4 2.3-2.6 3.4-1.7 3.3-4 2.7-1 1.3-2.3 1.7-1.7 2 0 1.3-.7-2-12.6-1.7-3.7-2.6-4-8.4 0-4 3-5.6 2.3-.7-.6-2.7-11.7-3-5-3-3.3-1.3-.7-6.7 0-9.6 9-2-5.3-2-9.4-1-2.3-3-3.7-1 0-.7-.6-6 0-1 .6-2.3 0-3 2.7-5.7 3-1.3-3-3-15.3-3-4.7-1.4-.7-6.6 0-2 1.4-3.4 3.6-5.3 4.4-.7-1.4-.3-2.6-2-4-2.7-3.7z"/>
<path fill="#00a7c5" d="M801.2 491.8l-2 2.7-7 7-2.7 2-6 2.3-1.7-.3 1.4-1.7 5-3.6 2.6-1.4 9.7-7.3zM865.8 470.8l-3.3 3.7-8 6-5.7 5.7-4 1.6-2-.3 1-1.3 1.7-.7 4.3-3 4-4.3 2.7-2 3-1.4 5.7-4.3zM839.8 464.2l-9 8.3-5 2-1-.3 3.4-2.7 1.3-.3 5.7-5 4-2.4zM852.2 453.5l-2.7 2.7-.3-.4 .3-1 1.7-1.6zM888.2 452.8l-8.4 8-7 4-6.6 6-.7-.3 .7-1.7 2.6-2.6 5.4-3.4 .6 0 6-6.3 3-1.3 3.7-2.7zM956.8 436.8l-6 0-1.3 .7-11.3 12-2.7 1.7-2 5.3-4 2-3.7 2.7-3.3 3.3-1.3 .7-1 1.3-1.7 1-7.3 6.7-14 14-10 8.6-1.4 .7-4 .3-2.6 1-7 5.4-2.7 1-2.7 .3-5 2.7-5.3 5.3-2 2.7-5.7 5-16 16.6-2.6 2.4-1.7 .6-6.3 4.7-1.7 1.7-1.3 2.6-1.7 6.4 3.7-2.7 1.6 .3 .4 3.4-2 5.3 .3 2.3 5.3 0 1.4-1-1.4-3.3-.6-.3-.4-2.4 1-2 1.7-1.6 5.7-4.4 1.3 0 .7 .7 .3 2.3 3 2.7 8-8 7.7-5.7 3.6-3.6 5-3.7 9.7-4.3 .3-.7-1.6-3-.4-5 2.7-1.3 2-1.7 1.3-.3 1-1.4 4.7-3.3 2.7-1.3 2-.4 6-2.3 .6-.7-.3-4.3 1-1.3 7.7-4.7 1-1.3 2.6 1.3 1.4-2.7 1-1 .6 0 1 1 0 .7 .7 0 3 2 2.3-2.3-.6-3.7 .3-2.7 1.7-.3 1-2 1-.3 .6-1.4 5-5 7-5.6 6.7-4 3.7-3 5.3-2.4 2.3-3 1-.6 1.7 0 1.7-1.7 2-.3 .3-.7 1.7 0 2.6 1.3-.3-8.6-1.3-4.7-1-6.3zM888.8 419.2l-1.3 4-6.3 6.6-5 7-3.7 4-6.3 1.7-3.4 1.7-4 3-.6-.4 1.3-4.6 .7-.4-.4-.6 .7-.4 1-2 1 0 2.7-3 5.6-3.6 6.7-6 5-3.4 3.3-3 2-1zM929.8 439.2l-1.3-2-3.3-.4-4.4-2.3-7-.3-2 3.6-4 2-6.6 6-1.7 .7-1 1-1.7 .3-.6 .7-4.4 1.7-3.6 2.6-.4-.3 2.4-2 1-1.7 2.6-2.6 4-2 3.7-4.4 2.7-1 3-4 3.3-1.6 3-.4-2-12.6-1.7-3.7-2.6-4-8.4 0-4 3-5.6 2.3-.7-.6-2.7-11.7-3-5-3-3.3-1.3-.7-6.7 0-9 8.3-1.3 7.4-3.3 3-3.7 4.3-4.3 6.7-3 5.6 .3 1-.3 1.4 .6 .6-.3 1 .7 1.7-.4 .3-4.6 0-5 1-8.7 3.4-3.7 2-11 8.3-2 2-10 7-7 6.3-9.3 6-10.3 10.7-6 4.7-8 2.6-1 1-1.7 .7-4 3.7-11 6.6-2.7 4.7-.6 2.3-2.4 3.7 9.7-7.3 1.7-.7 .6 1 0 1-1.6 5 1 1.3 1.6 9 .7 .7 3.7-1.3 2-2 8.6-5.7 1.7-.7 2.3-2.3 2-1 .4 .3-.4 2.7-2.3 5.3-.3 2-4 7 1.6-.6 7.4-6.7 1.6-.7 4-3 1 1.4-1 5.3 1.7 2.3 2 1.4 6.7 0 2-1 4.3 11.6 1 1.7 1.3 8.7 .4 .3 1.6-.7 1.7 0 15-11.3 4-3.7 1.7-.6 2-1.7 .6 0 12.4-10.7 4-2.3 3-3.3 2-1.7 1.6-.7 3.4-3.6 3-2.4 1.3-.3 5.7-5.3 8.3-6.7 8-5 8.3-7.7 1.7-.6 5-5 1.3-.4 5-5 3-1.6 9-8 1.7-.7 3.3-3.7 1-.3 1.4-2 .6 0 .7-1.7 .7-.6 .3 .3 .7-1.7 1-.3 1.6-4 .4-3.3 .6-1.4zM782.5 391.8l-1-.6-1.7 0-.6-.7-.4 1-1-1-.6-2.3-10.7 3.3-8.3 .3-4.4 1.4-8 1-3.3 1.6-13 9.7-2.7 1.3-10.6 11-11.7 8.7-.7 0-6 4-8.3 8.3-1.7 1-2 .4-5.6 2.3-3.7 2.7-1 1.3-8.7 6.3-1.6 .7-.7 1-4.3 3 0 5.7 3.6 0 1.7 2.3 2 6 1.3 8.7 4.4-1.7 11-7.3 .6-1 10.7-6.7 7.3-5.7 3.4-1.6 1.3-1.4 4-2 1.3-1.3 11.7-7 7.7-8.7 1.3-.6 8.7-7.7 .6 0 2.4-1.7 3-3 7-5.6 3-1.7 4.6-4.7 2.4-1 3.3-4 1.7-.3 1.6-3 2.4-.7 1-2.3 1-1 1.6-.3 1.4-2 2.6-2.4 .7-1zM854.2 384.8l-1 0-.7-.6-6 0-1 .6-2.3 0-3 2.7-5.4 2.7-2 5-5.3 4.6-5.3 6.4-5.7 5.3-10 6.7-8.3 8.3-4.4 3.3-3 3-3 4-2.3 2-5 5.7-6.7 12.3-.6 2.4 .3 .3-.3 .3 .3 3.4-.7 .6-2-1.6-3-1-3 .3-4.6 2.3-3.7 1-6.7 3.7-4 1.3-6.3 3-6.3 4.4-5.4 2.6-7.3 5-3 1.4-2.7 3-2.3 5-3 4.6 1 0 6-3.6 2-.7 2-1.7 1.7-.3 1 2-2 4.7 2.3 9.3 3.7-.3 2.6-1.4 .7-1 4.3-2 1.7-1.6 7.7-4 .3-.7 3.3-1.3 1.4-1.4 4-2 1.6-1.6 3.7-1.7 1.7-1.7 4-1.6 2.6-2.7 4-2.3 3.7-3.4 3.3-1.3 1-2.7 .7-.6 1.7-.4 .6-1.6 1-.4 1-2 .7 .4 1-2.4 1.3 0 3.4-3.3 4-2.3 5-4.4 1.6-.6 4.7-4.7 .7 0 4.6-4.7 12-10 13.4-13 2.6-1.6 5.4-5 2-1 4.3-4.4 1.3-.6 2.7-3 3.7-2.7 3.3-1.7-1.7-5-1-6-1.3-3.6zM827.5 367.8l-1.7-1-6.6 0-2 1.4-3.4 3.6-5.3 4.4-.7-1.4-.3-2.6-2-4-2.7-3.7-6.3 0-1 .7-7.3 11.3 3 2.3 .3 2.4 4.7 .3 3.6-1.7 5.4-3.3 3.3-.3 .3 .3-2 5.7-2.3 1.6-8.7 8.4-4.3 3-5.7 6.3-14.6 14.3-9.7 7-3 1.7-4.3 4-2 3-5 10.3-1 4-6.7 0-4 1-2.7 1.4-6.6 4.6-6.4 1.7-4 2-3.3 3-2.7 1.7-.6 1-8.7 6.3-3.3 1.3-4.4 .4-3 1-2.3 2.3-1.7 5.3-3 5.7 5-2.3 5-3.4 2.7-.6 .7 2-2.4 4.6 .7 1 .3 4 1.4 4 3-.3 3-1.3 .6-1 4-1.7 .7-1 2.7-1 2-1.7 6.6-3.3 .4-.7 3.3-1.3 1.3-1.3 2-.7 2-1.7 3.7-1.6 2-1.7 3-1.3 .3-.7 3-1.3 1-1 2.7-1 2-1.7 4.3-2 3.4-2.3 1.3-2.4 1.3-.6 0-1 .4-.4 .3 .4-.3-1 .6-.4 .4-1 .3 .7-.3-1.3 .3-.4 .3 .7-.3-1.3 .3-.4 .4 .7-.4-1 .4-.3 .3 .3 0-1.3 1-.7 .3-1 1.4-1.3 6.3-4 2.3-2.4 1.7-.6 4-4.4 1.3-.3 11.4-10.3 .6 0 3.7-4 1.7-.7 4.6-4.7 1.7-.6 5-5 .7 0 3.3-3.7 .7 0 3.3-3.7 1.3-.3 4-4.3 1.7-.7 4-4.3 4-2.4 1.7-2 4-1-1-2.3-3-15.3z"/>
<path fill="#00adbc" d="M805.2 487.5l-6 7-7 7-4.4 3-4.3 1.3-3.3 .4-.7-.4 1.3-1.6 5.4-3.7 1-1.3 4.6-3 8.7-6.7 4-2.3zM852.8 452.8l-4.3 4.4-7 5.3-7 7-3.7 3-2.6 1.3-5.7 1.7-2.7 1.3-.3-.3 1.7-2 5.3-3.3 5.3-5 14-10.4 6-3.3zM856.2 449.5l-2 2-.7-1.7 1-1zM956.8 436.8l-6 0-1.3 .7-11.3 12-2.7 1.7-2 5.3-6.3 3.7-4.7 4.3-1.3 .7-1 1.3-1.7 1-7.3 6.7-14 14-6.4 5.3-2.3 2.7-2.7 1.3-4 .3-2.6 1-7 5.4-2.7 1-2.7 .3-5 2.7-5.3 5.3-2 2.7-5.7 5-16 16.6-2.6 2.4-1.7 .6-6.3 4.7-1.7 1.7-1.3 2.6-1.7 6.4 1.7-1 3.3-3.4 .7 3.4-.4 2.3 .7 0 9.3-6.3 5.4-5.4 1 0 .6 .7 .4 2.3 3 3 4.3-4.3 7.7-5.7 3.6-3.6 5-3.7 7-3.3-2-3.7-.3-2.7 .3-2.3 1.7-.3 4-2 2-1.7 1.3-.3 1-1.4 4.7-3.3 2.7-1.3 4.6-1.4-.3-2 .3-3 2.4-1 2-1.6 .6 0 2-1.7 5.4-3 2.3-3 2.7 .7 2-3 .6-.4 2.4 .4-.4-.4 1.7-2.3 2.7-1.3 .6-1.7 1.4-.7 2-3.3 4-4 6.6-5.3 6-3.4 1-1 3.7-1.6 4.7-4.4 4-1 .3-1 1.3-1.3 2-.3 1.4-1.4 2-.3 .6-1 3-.7 0-2.6-1.6-6.7-.4-3.7-1-3.6zM888.8 419.2l-1.3 4-6.3 6.6-5 7-3.7 4-6.3 1.7-3.4 1.7-6.3 5-.3-.4 .3-.6-.3-1 .3-.4 .7 .7 .3-1.7 .3 .7 .4-2.3 1.3-2.7 0-1.3 1-1.4 .7 0 .6-2 1-1 1-.3 9.7-7.3 2-1 3.7-3.7 6-4.7 3.3 0zM929.2 438.2l-.7-1-3.3-.4-4.4-2.3-7-.3-2 3.6-4 2-6.6 6-1.7 .7-1 1-1.7 .3-.6 .7-4.4 1.7-3.6 2.6-8.4 8-8.3 5-5.7 5-3.3 3.7-8 6-5.7 5.7-2.6 1.3-3.7 .3-.3-.3 8-7.7 5.6-3.3 7-7 1.7-.7 3.7-2.6 1.3-.4 5.7-6 4-2 4-4.3 4.3-3.7 1.3-.3 2.4-2 2.6-1.3 5-5.4 2.7-1 3-4 3-1 2.7-3.6 3-.4-1.7-10.6-1.7-3.7-2.6-4-8.4 0-4 3-5.6 2.3-.7-.6-2.7-11.7-3-5-3-3.3-1.3-.7-6.7 0-9 8.3-1.3 7.4-3.3 3-3.7 4.3-4.3 6.7-2.4 4.6 .4 2.4-.4 .3 1 3.3-.3 1-5.3 0-5 1-8.7 3.4-3.7 2-11 8.3-2 2-10 7-7 6.3-9.3 6-10.3 10.7-6 4.7-8 2.6-1 1-1.7 .7-4 3.7-11 6.6-2.7 4.7-.6 2.3-2 3 10.3-7.6 .7 0 .6 2.3-1.6 5 1 1.3 .3 3.4 1.3 4.3 4-.7 4-3 2.7-1.3 2.3-2.3 7.4-4.7 1.3 0 .3 .3-.6 1-.4 2.7-2.3 5.3-.3 2-3.7 6.4 1.3-.4 5-4.6 5.4-3.7 1-1.3 1.6-.7 1 1.7-1 5.3 1 1.7 2.7 2 6.7 0 2-1 1.3 2.3 .3 2.3 3.7 8.7 1.3 7.3 3.4-.3 6-4 1-1.3 6.3-4.7 .7 0 4-2.7 7.3-7 6.3-4 9.7-8.6 2-.7 4.3-4.7 1.7-.6 6.3-6 5-3 19-15.7 3.4-1.7 4.3-4.6 1.7-.7 4.6-4.7 1.7-.6 8-7.4 5-3 3.7-4 1.6-.6 2-2.7 1 0 1-2.3 1 0 .4-1.7 1-.3 .6-1.4 .7-.3 1.3-8zM780.5 392.2l-1.7-.7-1-1 0-.7-.3 2-1-1-.3-1.6-1.4-.4-8.3 2.7-8.3 .3-4.4 1.4-6.6 .6-4.7 2-13 9.7-2.7 1.3-10.6 11-11.7 8.7-.7 0-6 4-8.3 8.3-1.7 1-2 .4-5.6 2.3-3.7 2.7-1 1.3-8.7 6.3-1.6 .7-.7 1-4.3 3 0 5.7 3.6 0 1.7 2.3 2 6 1 7 .3 .3 4.4-1.3 6.3-4.3 2.3-2.4 9.4-5.6 1-1.4 7-5 3.6-2 4-3 3.4-1.6 3.6-3 10.7-6.7 9-9.3 3.3-2 8.7-7.7 4-2.3 9.7-8.7 2-.7 4.6-5 2-.6 2.7-3.7 1.7-.3 2-3 2-.7 1-2 3-2.7zM854.2 384.8l-1 0-.7-.6-6 0-1 .6-2.3 0-3 2.7-5.4 2.7-2 5-5.3 4.6-5.3 6.4-5.7 5.3-10 6.7-8.3 8.3-4.4 3.3-3 3-3 4-2.3 2-5 5.7-6 10.7-1 3 .3 1.3-.3 3.7-.7 .6-2-1.6-3-1-3 .3-4.6 2.3-3.7 1-6.7 3.7-4 1.3-6.3 3-6.3 4.4-5.4 2.6-7.3 5-3 1.4-2.7 3-4.6 9 2.6-1 1-1 2.7-1 1-1 2.7-1 1.6-1.4 1.4 2.4-.4 1.6-1.6 3.4 .6 1.6 0 1.7 1.7 6 1.7-.3 2-1 1.3-1.4 3.7-1.6 3-2.4 2.3-1 1.3-1.3 6.7-3.3 1.3-1.4 3.4-1.3 3.3-2.7 2.7-1 1-1.3 4-1.7 1.6-2 4.7-2 4.3-3.6 3.4-1.7 1-1 .3-1.7 1.3-1.3 2-.3 .7-2 1.3-.7 1.4-2 .3 .3 .3-1.3 1.4-.7 2.3-3 5.7-3 8-7 1-.3 4.6-4.7 .7 0 10-9.3 .7 0 4.6-4.7 .7 0 8.7-9 .6 0 6-5.6 4-2.7 3.7-3.7 1.7-.6 3.6-4 1.4-.7 4-4 4.3-1-1.3-3.3-1.4-7.4-1.3-3.6zM827.5 367.8l-1.7-1-6.6 0-2 1.4-3.4 3.6-4.6 3.7-2.4 6.7-2.3 1.6-8.7 8.4-4.3 3-5.7 6.3-14.6 14.3-14 9.7-3 3-2 3-5 10.3-.7 4.4-.3-.4-6.7 0-4 1-2.7 1.4-6.6 4.6-6.4 1.7-4 2-3.3 3-2.7 1.7-.6 1-8.7 6.3-3.3 1.3-4.4 .4-3 1-2.3 2.3-1.7 5.3-3 5.4 2-.7 1.4-1.3 2-.7 2.6-2 1.7-.3 2-1.7 .7 0 1 2.7-2.4 5 .7 .6 .3 4 1.4 4 3.3-1.3 1.3-1.3 3.4-1.4 1-1.3 3.3-1.3 1.3-1.4 6.4-3 1.3-1.3 2.7-1 1.3-1.3 3.3-1.4 .7-1 4-1.6 .7-1 3.6-1.7 1.4-1.3 2.6-1 1.4-1.4 3.3-1.3 .7-1 3-1 2-2 2.6-1.3 3.4-3 .3 .3 1-2 .3 .3 1-2.3 .4 .3-.4-1.3 1-2 .4 .3-.4-.6 1-1 .4-1.4 1.3-.3 5.7-4.7 2-1 2.6-3.3 2.7-1.3 3.7-4 3.6-2.4 3-3.3 2.4-1.3 3.6-4 .7 0 4.3-4.4 1.7-.6 5-5 1.7-.7 3.6-4 .7 0 3.3-3.7 .7 0 3.7-4 1.6-.6 4.7-4.7 1.3-.3 5.4-5.4 2.3-1.3 1.7 0 1.6-.7-.6-1.3-3-15.3zM802.8 364.5l-6.3 0-2.3 2.3-2.7 5-2 2.7 3 2.3 0 1.4 .7 1 1 .3 3.3-.3 5-2.4 1.7-1.3 1.3 0 2.3-1-.3-2.3-2-4z"/>
<path fill="#00b1b2" d="M809.8 482.5l-5.6 6-1.4 2-2 1.7-1.6 2.3-7 7-4.4 3-4.3 1.3-3 0-2 .7-1.7-.3 5-4 9.4-6 2.3-2.4 10.3-7.3 3.7-3.3 1.7-1zM956.8 436.8l-6 0-1.3 .7-11.3 12-2.7 1.7-2 5.3-6.3 3.7-4.7 4.3-1.3 .7-1 1.3-1.7 1-24.7 23.7 0 .6-5.3 4.4-2.7 1.3-4 .3-2.6 1-7 5.4-2.7 1-2.7 .3-5 2.7-5.3 5.3-2 2.7-5.7 5-16 16.6-2.6 2.4-1.7 .6-6.3 4.7-1.7 1.7-1.3 2.6-.4 2.4-1 2.3 2-.7 2.7-2 .7 3.4-.4 2.3 1.4-.3 8.6-6 9.4-9.4 1-.3 1.3 1 .7 3 2 2 .6 0 4.7-4 2.7-1.7 3.6-3.6 5-3.7 3.7-1.7-1.3-3-.7-.3-.3-4.7 1-1 8.3-3.6 2-1.7 1.3-.3 1-1.4 4.7-3.3 2.7-1.3 2-.4 .3-.3-.3-4.3 .6-.7 4.4-1.7 2-1.6 .6 0 2-1.7 5.4-3 3.6-4.7 2.4 .4 3.3-3.4 3-1 1-2.3 1.3-.7 2.7-5 10-8.3 7-4.3 3-1.4 1-1 3.7-1.6 2.3-1.7 2-2.3 3-.4 1-2 2.7-.3 1-1.3 4.3-1.7 .3-1.3-1.6-6.7-.4-3.7-1-3.6zM923.8 436.2l-3-1.7-7-.3-2 3.6-4 2-6.6 6-1.7 .7-1 1-1.7 .3-.6 .7-4.4 1.7-3.6 2.6-8.4 8-8.3 5-5.7 5-3.3 3.7-8 6-5.7 5.7-4 1.6-4.3 0-.3-.3 .3-1 3.7-3.3 3-1.4 2-1.6 .6 0 7-7 .7 0 5.7-4 1.6-.7 5.7-6.3 4.3-2 5-5.4 3.7-2.3 .7 0 4.6-3.7 6.4-6.3 3.3-1.3 3.3-4.4 3.7-1.3 .7-.7 .3-2 1.3-1.3 2.4-1 3 0-1.7-10.3-4.3-7.7-8.4 0-4 3-5.6 2.3-1.7 5.4-6.3 6.6-5 7-3.7 4-6.3 1.7-3.4 1.7-4.6 3.3-9.7 9.7-7 5.3-7 7-3.7 3-12 4.7-.3-.4 6-5.6 3.7-2.7 1.6-.7 16-12 5.4-3 .6-1.3 0-1.7 1-1 2.4 0 .3-2.3 .3-.3 .7 .6 .3-1.6 .7 .6-.3-1 1.6-3-.3-.6 .7-.7-.4-1 .4-.3 .3 .3 0-1 .7-.3 1-2 2-.4 9-7.3 2-2.3 2-1.7 1.6-.7 6-5.3 2.4-1.7 2.3-.6-.7-1.4-2-9.3-3-5-3-3.3-1.3-.7-6.7 0-9 8.3-1.3 7.4-3.3 3-3.7 4.3-6.3 10.3 .3 3 1.7 4.4-.4 1-.3-.4-6.3 0-5 1-8.7 3.4-3.7 2-11 8.3-2 2-10 7-7 6.3-9.3 6-10.3 10.7-6 4.7-8 2.6-1 1-1.7 .7-4 3.7-11 6.6-4.7 9.4 10-7.4 .7 .7 .3 2-1.6 5 1 1.3 .3 3.4 1.3 4.3 4-1.7 5.7-4.6 5.7-3 3-2.4 1-1.3 3.6-2 .4 .3-2 4-.4 2.7-2.3 5.3-.3 2-2 4-1.4 1.7 .7 0 2.3-2.3 2-1 8.4-7.4 1.6 2.4-1 5.3 1.7 2.3 2 1.4 6.7 0 2-1 4.3 11.6 1 1.7 1.3 7.3 3-.6 7.4-6 6.6-4.7 5.4-5 6-3.7 8-7.3 6.3-4 4.7-5 1.6-.3 5-5.4 2.7-1 9.3-8.6 15.4-10.7 6.3-6 1.7-.7 3.6-4 2-.6 4.7-5 5.7-3.4 6.6-6.6 2.7-1 2.7-3.7 1.3 0 .7-2 .6-.7 1 0 .7-1.6 1-.4 .3-1.3 .7-.3 1-2.7-.3-1.3 .6-2.7-.3-1.7-.7-.3zM778.5 392.5l-2.3-.3-1-1-.4-1.7-1.3-.3-7 2.3-8.3 .3-4.4 1.4-6.6 .6-4.7 2-13 9.7-2.7 1.3-10.6 11-11.7 8.7-.7 0-6 4-8.3 8.3-1.7 1-2 .4-5.6 2.3-3.7 2.7-1 1.3-8.7 6.3-1.6 .7-.7 1-4.3 3 0 5.7 3.6 0 1.7 2.3 2 6 .7 5.3 .3 .4 3.3-.4 6-4.6 7-4 2-2 3-1.7 13.7-10 5-2.7 7.3-5.6 8-5 6.7-6.7 1-.3 5.7-5.4 6-4 9.3-8.3 4.7-2.7 5-5.3 3.6-1.7 1.4-2.3 1.3-1.3 1.7-.4 1-1 .3-1.3 1-1 1.3-.3 1.4-2 2.3-2 1-1.4zM857.2 388.5l-3-3.7-1 0-.7-.6-6 0-1 .6-2.3 0-3 2.7-5.4 2.7-2 5-5.3 4.6-5.3 6.4-5.7 5.3-10 6.7-8.3 8.3-4.4 3.3-3 3-3 4-2.3 2-5 5.7-6 11 .3 .3-.6 1 .3 .4-.7 2.3 .4 2.3-.7 .4 .3 1-.6 .6-2.4-1.6-3-1-3 .3-4.6 2.3-3.7 1-6.7 3.7-4 1.3-6.3 3-6.3 4.4-5.4 2.6-7.3 5-3 1.4-2.7 3-2.3 5-2 3 3.3-1 1.4-1.4 2.3-.6 4-2.7 1 1 .7 1.7-.4 1.6-1.6 3.4 1.6 7 .4 .3 4.3-1 3.7-2.7 3.6-1.6 1.7-1.7 3.3-1.3 1.4-1.4 2.6-1 1.4-1.3 2.6-1 1.4-1.3 3.3-1.4 1.3-1.6 3.7-1.4 1.7-2 4.3-1.6 2-2.4 7-4 3-3.6 3-.7 .7-2.3 .6-.7 1 0 2.7-4 .3 .3 1.7-2.3 3-1.7 2.7-2.6 3-1.7 1.6-1.7 2.7-1.6 3.7-3.7 2.3-1.3 2.7-3 2.3-1.4 3.3-3.6 1.4-.7 4.3-4.3 1-.4 14.3-14 2.7-1.3 6.3-6 1.7-.7 4.7-4.6 .6 0 4.4-4.4 .6 0 2-2.3 4.4-1-1.4-3.7-1-6zM827.5 367.8l-1.7-1-6.6 0-2 1.4-3.4 3.6-4.6 3.7-2.4 6.7-2.3 1.6-8.7 8.4-4.3 3-5.7 6.3-14.6 14.3-14 9.7-3 3-2 3-4.7 9.7 .3 .3-.6 1.3 .3 .4-.7 .3 .4 .3-.4 2.4-.6-.4-6.7 0-4 1-2.7 1.4-6.6 4.6-6.4 1.7-4 2-3.3 3-2.7 1.7-.6 1-8.7 6.3-3.3 1.3-4.4 .4-3 1-2.3 2.3-1.7 5.3-2.3 4.4 3.3-1.4 1.4-1.3 6.6-3.3 1.4 2.3-1.7 4.7-.7 .6 .7 1 1 6.4 6-2 1.7-1.7 3.3-1.3 .7-1 3.3-1.4 .7-1 2.6-1 1-1 3.4-1.3 1.3-1.3 2.7-1 1.3-1.4 2.7-1 1.6-1.6 4-1.7 1.7-1.7 3-1 1-1.3 2.7-1 .6-1 3-1 1.4-1.3 3.3-1.4 3.3-2.6 1.7-.7 1-2.3 1-.4 0-1 .3-.3 .4 .7 .3-2.4 .7-1 .3 .4-.3-.4 .6-2 .4 .4-.4-.4 .4-1 1-.3 .6-1.7 1-1 5.4-3.3 2.3-2.3 2.3-1 2.7-3.4 2.7-1.3 5.3-5.3 1.7-.7 3.6-4 1.4-.3 3.3-3.7 1.3-.7 4.7-4.6 .7 0 2.6-2 3.4-3.7 1.3-.3 2.7-3.4 1.3-.3 2.7-3.3 1.6-.7 3.7-4 2.3-1 4.7-5 3-1.3 2.7-3 3-1-3-15zM790.8 372.5l2.7 2.7 1 2 1.7 .3 4-1 7.3-3.7-2-4.6-2.7-3.7-6.3 0-2.3 2.3z"/>
<path fill="#00b6a7" d="M956.8 436.8l-6 0-1.3 .7-11.3 12-2.7 1.7-2 5.3-6.3 3.7-4.7 4.3-1.3 .7-1 1.3-1.7 1-22.3 21.3-1 2-6.7 5.4-2.7 1.3-4 .3-2.6 1-7 5.4-2.7 1-2.7 .3-5 2.7-5.3 5.3-2 2.7-5.7 5-16 16.6-2.6 2.4-1.7 .6-6.3 4.7-1.7 1.7-1.3 2.6-1 4 2.6-2.3 1.4-.3 .6 1 .4 3-.4 2.3 1.4-.3 8.6-6 9.7-9.7 4-3 1-1.3 4-2.7 2.3-2.3 1.7 .6 .3 3 .7 0 2.3 2.4 4.4-3-1-2.4-.7-3.6 0-2.7 1-1 1.7-.3 4.6-2.7 1.7-.3 4-2 2-1.7 1.3-.3 1-1.4 2.7-2 5-2.6-.7-4.4 .7-.6 3-.7 3.7-1.7 2-1.6 .6 0 2-1.7 5.4-3 4.6-6 3-.3 3.4-2.7 1-2 1-.3 1.3-2 .7-2.7 1-1.7 11-8.6 4-2.7 8-4 2.3-2 4.3-2 2.4-2.7 .3 .4 1.7-.7 .3 .3 1.3-1.6 2.4-.4 1.6-1.6 3 0-2.6-14zM923.8 436.2l-3-1.7-7-.3-2 3.6-4 2-6.6 6-1.7 .7-1 1-1.7 .3-.6 .7-4.4 1.7-3.6 2.6-8.4 8-8.3 5-5.7 5-3.3 3.7-8 6-5.7 5.7-4 1.6-6.3 0-.3-.6 1-1 4-2 2.6-2 4.7-5.4 5.3-2.6 2.4-1.7 3-3 .6-1.3 4-3.7 5.4-2.3 4.3-5.4 4.3-2 5.7-6 3.3-2.6 6.7-3.7 3.7-4.7 4.3-1.6 .7-1.4 0-1.3 1.3-1.3 3-.7 1.7-1 3 0-1.7-10.3-1.7-3.7-2.6-4-8.4 0-4 3-5.3 2-2 5.7-6.3 6.6-5 7-3.7 4-6.3 1.7-3.4 1.7-4.6 3.3-9.7 9.7-7 5.3-7 7-3.7 3-2.6 1.3-3 .7-9.4 3.7-4.6 3-4.4 4.3-7.6 9-7 7-2.7 2-4.7 2-4.3 .3-4.7 1.4-1.3 1.3-1.3 3.3-.4 2.7-2.3 5.3-.3 2-2.7 5 5-3.6 3.7-3.7 4-2.7 1.6 2.4-1 5.3 1 1.7 2.7 2 6.7 0 2-1 1.3 2.3 .3 2.3 3.7 8.7 .7 5.3 4.3-1.3 13.3-10 5.4-3 6.3-6.3 4.7-2.7 9.6-8.7 3.4-1.6 3.6-4.4 2.7-1 5.3-5.6 4-2 8-6 11.4-10 4.6-2.7 4-4.3 2.4-1 3.3-4 3-1.4 8.3-8 5-2.6 2.7-3.7 2.7-1 1-2.3 1.6-.4 .7-2 1.3-.6 0-.7 1-.7 .7-1.6 .3-2.7-.3-.3 .3-.4-.3-6.3zM882.8 400.5l-3-3.3-1.3-.7-6.7 0-9 8.3-1.3 7.4-3.3 3-3.7 4.3-5.7 9.3 0 2 1 3 1.7 2 .3 1.7-.6 .7-8-.4-5 1-8.7 3.4-3.7 2-11 8.3-2 2-10 7-7 6.3-9.3 6-10.3 10.7-6 4.7-8 2.6-1 1-1.7 .7-4 3.7-11 6.6-4.3 8.4 1.6-.4 8-6 .7 .7 .3 2-1.6 5 1 1.3 1 6 3.3-1 8.3-5 3-3 8-4.3 6.4-5 1-1.3 4-2.7 1-1.3 8.3-5 9.7-7 2.6-1.4 7-5.6 1-1.4 1.4-.6 1.6-2 7-3 4.7-3.4 5.3-5 11.4-8 3.6-5 2.4-1 2 0 .3-2.3 .7-.7 1 .4 0-.7 .6-.7 .4 .4-.4-1.7 .4-.3 .3 .3-.3-1 .3-.3 .3 .3 1-4.7 .7-.3 .7-1.3 .6 0 1-1 .4-1 1.6-1.7 3.4-2 4-3.3 3.3-1.7 5.7-5.7 1.6-.6 3-2.4 2 0 1.7-.6-.7-1.4-2-9.3zM776.5 393.5l-.7-.7-2.3-.3-.3 .7-.7 0-1-1-.7-1.7-1-.3-3.3 1.3-8.3 .3-4.4 1.4-6.6 .6-4.7 2-13 9.7-2.7 1.3-10.6 11-11.7 8.7-.7 0-6 4-8.3 8.3-1.7 1-2 .4-5.6 2.3-3.7 2.7-1 1.3-8.7 6.3-1.6 .7-.7 1-4.3 3 0 5.7 3.6 0 1.7 2.3 2 6 .7 5.3 .3 .4 1.3-.4 4.4-2.3 6.3-4.7 2.3-2.3 7.4-4.3 5.6-4 4-3.7 6-3.7 .7 0 8-6.3 6.7-4 4-3 7.3-7.3 2.3-1 9.4-8.4 1.6-.6 5.7-4 6.7-6.7 4.3-2 2.7-4 3.3-1.3 1.3-2.7 2.7-1.3 .7-1.4 2.3-2zM857.2 388.5l-3-3.7-1 0-.7-.6-6 0-1 .6-2.3 0-3 2.7-5.4 2.7-2 5-5.3 4.6-5.3 6.4-5.7 5.3-10 6.7-8.3 8.3-4.4 3.3-3 3-3 4-2.3 2-5 5.7-5.3 9.7-1 3.6 .3 5.7-.7 .7-3-2-3-1-3 .3-4.6 2.3-3.7 1-6.7 3.7-4 1.3-6.3 3-6.3 4.4-5.4 2.6-7.3 5-3 1.4-2.7 3-3.6 7.3 3.6-1.3 1.4-1.4 3.3-1.3 1.7-1.7 2 3.4-.4 1.6-1.6 3.4 .6 1.6 0 1.7 1.4 4 1.3-.3 2.3-1.4 1.7-1.6 4-1.7 1.3-1.7 3.7-1.6 1.3-1.4 3.4-1.3 .6-1 3-1 .7-1 3-1 1.3-1.7 3.7-1.3 1.7-2 3-1 3-2.7 4-1.3 6-5.7 1.3-.3 1-1 2.3-.7 .7-1 0-1.3 1-1 1 0 .7-1.7 4-4.3 .6 0 2.4-2.7 6-3.3 5-5 3.3-2 3.7-4 1.3-.3 3.7-4 .6 0 3.4-3.7 1.3-.7 3.3-3.3 2-1.3 6.4-6.4 1-.3 2.3-3 1.7-.7 3.6-4 3-2 .7 0 5.7-5.6 1.6-.7 4-4.3 1.4-.4 3.6-4 5-1.3-1-2.7-1-6zM827.5 367.8l-1.7-1-6.6 0-2 1.4-3.4 3.6-4.6 3.7-2.4 6.7-2.3 1.6-8.7 8.4-4.3 3-5.7 6.3-14.6 14.3-14 9.7-4 4.3-5 10-.7 2.4 .3 1-.3 3-8-.4-4 1-2.7 1.4-6.6 4.6-6.4 1.7-4 2-3.3 3-2.7 1.7-.6 1-8.7 6.3-3.3 1.3-4.4 .4-3 1-2.3 2.3-1.7 5.3-1.6 3.4 3.6-1.4 1-1 2.7-1 1.3-1.3 1.7-.7 1 1 .7 2.4-2.4 5 .7 .6 1 6.4 3-1 2-2.4 3.3-1.3 .7-1 3.7-1.7 .6-1 3-1 2.7-2 1 0 1.7-1.6 2.3-.7 1.7-1.7 3-1 1-1.3 3.3-1.3 1.7-1.7 3-1 1.6-1.7 3.4-1.3 .6-1 2.7-1 1.3-1.3 3-1 1.4-1.7 4-1.7 2.6-3.3 .4 .3 .6-.3 0-1.3 .4-.4 .3 .4 1.3-2.7 .7-3.3 .3-.4 .4 .4 1-2 1.6-.4 2-2 4.7-3 3.7-4.3 2-.7 4.3-4.6 3-1.4 3.7-4.3 1.3-.3 3.3-3.7 1-.3 3.4-3.7 1.6-.7 5.4-5.3 2.3-1 3.3-4 1.4-.3 2.6-3 1.7-.7 3.3-4 2-.7 3.7-4.3 3-1.3 4.7-5 2-1 3 0-3-15zM791.8 370.8l3 2.4 0 1 .7 1 1.3 .3 3.4-.7 7-3.3-1.7-3.3-2.7-3.7-6.3 0-2.3 2.3z"/>
<path fill="#00ba9b" d="M956.8 436.8l-6 0-1.3 .7-11.3 12-2.7 1.7-2 5.3-6.3 3.7-4.7 4.3-1.3 .7-1 1.3-1.7 1-20.7 19.7-.3 2-1 1-1.7 .6-6.3 5.4-2.7 1.3-4 .3-2.6 1-7 5.4-2.7 1-2.7 .3-5 2.7-5.3 5.3-2 2.7-5.7 5-16 16.6-2.6 2.4-1.7 .6-6.3 4.7-1.7 1.7-1.3 2.6-.7 3.4 1-.4 2.7-2.6 .6 2 .4 5 1 0 5.3-4.4 1-1.6 0-1.4 2-1.6 .7 1 1 0 2.3-1.4 6-6.3 4-3 1-1.3 4-2.7 1-1.3 7.7-6.4 15.3-7.3 .7-5.3 1-1 3.6-1.4 2-3 2.7-1.3 5.7-1.7 8.3-5 .7-5.3 3-2 2 .3 1.6-.3 1.4-1 1-1.7 3.3-2 1.3-1.3 .7 0 1.7-2.3 .3-2.4 1-2.3 4.3-4 3.7-2 7.3-5.7 9.4-4.6 .3-.7 4-2 1-1.3 3-1 1.7-2 2.6 0 1-2 6 0-2.6-14zM923.8 436.2l-3-1.7-7-.3-2 3.6-4 2-6.6 6-1.7 .7-1 1-1.7 .3-.6 .7-4.4 1.7-3.6 2.6-8.4 8-8.3 5-5.7 5-3.3 3.7-8 6-5.7 5.7-4 1.6-7.3-.3-.3-.3 3.3-1.7 1.7-2.7 3.3-3.3 6.7-3.3 2.6-2.7 .4-1.3 1.6-2 7.4-4.7 .6 0 1-1 3-1.3 1.4-2 0-1 2-2 1.6-.4 3.4-1.6 1.3-2.7 2-2 2.3-1 6-4.3 1.7-.7 2.3-2 1.4-2.7 1.6-1.6 5-2 1-1.4 .4-2 .6-.6 4.4-1.4 1-1.3 0-1.7 1-1 2 0 1.3-.6-1-7-1.7-3.7-2.6-4-8.4 0-4 3-5.3 2-2 5.7-6.3 6.6-5 7-3.7 4-6.3 1.7-3.4 1.7-4.6 3.3-9.7 9.7-7 5.3-7 7-3.7 3-2.6 1.3-3 .7-9.4 3.7-4.6 3-4.4 4.3-7.6 9-7 7-2.7 2-4.7 2-4.3 .3-4.7 1.4-1.3 1.3-1.3 3.3-.4 2.7-2.3 5.3-.3 2-2.4 4.4 3.4-2.4 5-4.6 2.6-1.4 1.4-1.3 1.6 2.7-1 5.3 1 1.7 2.7 2 6.7 0 2-1 1.3 2.3 .3 2.3 3.7 8.7 .7 5.3 4.3-1.3 14.3-10.7 5.7-6 5-2.6 6.3-6.4 3.4-2.3 .6 0 2.4-2 1.3-.3 4.3-5 2.4-.7 4.6-5.3 4.4-2 2-1.7 3.3-4 3.3-2.7 14.7-10 5.7-5.6 2-.7 3.3-4 2.7-1 4-5 2.6-1.3 2-1.7 .7 0 2-1.7 1.3-.3 2.4-2.3 1.6-2.7 3.4-1.3 2-3.4 1.6 0 .7-2.3 1.3-.3 .7-2 .3 .3 1-2 .4-3-.4-4.3zM882.8 400.5l-3-3.3-1.3-.7-6.7 0-9 8.3-1.3 7.4-3.3 3-3.7 4.3-5 8 .3 3.3 3 4 0 1.7-1 1.7-8.6-.4-5 1-8.7 3.4-3.7 2-11 8.3-2 2-10 7-7 6.3-9.3 6-10.3 10.7-6 4.7-8 2.6-1 1-1.7 .7-4 3.7-11 6.6-4 7.7 1.3-.3 7-5.4 1-.3 .7 1 .3 2-1.6 5 1 1.3 1 6 3-1 6-5.3 5.3-2.7 7-6 6-3.3 2.3-2 7-4.3 3.4-3.4 10.3-7.6 1-1.4 4.3-3 9.4-5 6-6 3.3-2 4-3.6 .7 0 7.3-5.4 7.3-6 6.4-3.6 2-.4 .3-2.6 .7-.7 1 .3 1-2 .3 .4 0-1 .7-.4 .3-1.3-.3-.7 1.3-4.3 2.7-2.7 1.6-.6 6-4.7 2-1 4-4.7 2-.6 7.7-7 3.3-.4-2-9.3zM774.5 394.2l-1-.7-2-.3-.7 .6-1-1-.6-2.3-2.7 1-8.3 .3-4.4 1.4-6.6 .6-4.7 2-13 9.7-2.7 1.3-10.6 11-11.7 8.7-.7 0-6 4-8.3 8.3-1.7 1-2 .4-5.6 2.3-3.7 2.7-1 1.3-8.7 6.3-1.6 .7-.7 1-4.3 3 0 5.7 3.6 0 1.7 2.3 2 6 .3 4 4-1.3 6.7-5 5.7-3 8.6-7 5.7-4 4.3-2.4 2-2 3.4-1.6 6.6-5.4 11.4-7.6 3-3.4 1.3-.3 6-6 4-2.7 1.3-.3 8-7.7 5.7-4 3-1.3 4-5 4-1.7 1-1.3 0-1 1.3-1.3 2-.7 .7-1.7 2.3-2zM857.2 388.5l-3-3.7-1 0-.7-.6-6 0-1 .6-2.3 0-3 2.7-5.4 2.7-2 5-5.3 4.6-5.3 6.4-5.7 5.3-10 6.7-8.3 8.3-4.4 3.3-3 3-3 4-2.3 2-5 5.7-5.3 9.7-.4 1.3 .4 1-.7 .3 .3 .4-.3 2 .7 .3-.7 .3 .7 .4-.4 .6 1 1.7 0 1-1 1-2-.7-2-1.6-3-1-3 .3-4.6 2.3-3.7 1-6.7 3.7-7 2.7-3.3 1.6-6.3 4.4-.7 0-5.7 3.6-.6 0-5.7 4-3 1.4-2.7 3-3.6 7 4.6-2 2.7-2.4 2.7-1 2 3.4-.4 1.6-1.6 3.4 .6 1.6 0 1.7 .7 2.3 1.7-.3 2-1.3 3-1 1.6-1.7 4.4-2 1-1.3 3-1 1.3-1.7 2.7-.7 1.6-1.6 2-.4 2.7-2.3 2-.3 1.7-2 3.3-1 .3-1 1.7-1.4 3-.6 2.7-3 3.3-1 2-1 2.7-2.4 1.3-.3 1.7-1.7 .6-2.3 2.7-1.3 .3-1.4 .7-.3 1.7-3.3 2.6-1.7 1.7-1.7 1.7-.6 4-3.7 4.6-3.3 1.7-.7 4-4.3 2.3-1 3.7-4 .7 0 3.3-3.7 .7 0 4.3-4.3 .7 0 7.6-7.7 1-.3 3-3.4 .7 0 3.3-3.6 2.7-1.4 4-4.3 4-2.3 4.3-4.7 1.4-.3 3.6-4 1.4-.4 2.6-3 2 0 1.4-.6-1.4-7.4zM827.5 367.8l-1.7-1-6.6 0-2 1.4-3.4 3.6-4.6 3.7-2.4 6.7-2.3 1.6-8.7 8.4-4.3 3-5.7 6.3-14.6 14.3-14 9.7-4 4.3-5 10-.4 2.4 1 2.6-.3 1.7-2.3-.7-8.7 .4-4.7 2-6.6 4.6-8 2.4-3.7 2.3-2 2-2.7 1.7-.6 1-8.7 6.3-3.3 1.3-6 .7-2.4 1.3-1.6 2.4-1.4 4.6-1.6 3 4.6-2 2-1.6 2-.7 1.4-1.3 2 3.3-1.7 4.7-.7 .6 .7 1 .3 4 6-1.6 1.4-1.7 3.3-1 1.3-1.7 6.4-3 2-1.6 2-.4 1.3-1.6 3-1 2.3-2 2.4-.7 1.3-1.7 3.3-1 1-1.6 3.7-1.4 1-1.3 3-1 1-1.3 2.7-.7 1.3-1.7 3-.6 2-2.4 2.7-2 1.6-.3 .4-1.3 1-.7 0-1 .3-.3 .3 .3-.3-1 .3-.3 .4 .3-.4-.3 .7-.4-.3-1 .6-2 3.7-4 4.3-2.6 3.7-3.7 2.3-.7 3-4 2.7-1 4.7-5 2.3-1 3-3.6 1.7-.4 1-2 1.3-1.3 2-.7 3.7-4.3 3.3-1.7 4-4.3 2-.7 1.3-2.6 .7-.7 2-.3 2-3.4 3-1 1.3-2.3 2-2 1.7-.3 1.7-1 1.6-2.7 1.7-1.7 3.7-1.6 1.6-2 1.7 0 1.3-.7-2.6-13.3zM792.2 370.5l3.3 1.3 1.7 1.7 1.3 0 4.3-1.3 3.7-2-3.7-5.7-6.3 0-2.3 2.3z"/>
<path fill="#01bd8e" d="M778.2 466.5l-1.4-1.7-2 0-4-2.6-3-1-3 .3-4.6 2.3-3.7 1-6.7 3.7-4 1.3-6.3 3-6.3 4.4-5.4 2.6-7.3 5-3 1.4-2.7 3-3.3 6.3 2.3-.7 2.4-2 1.6-.3 3-2.3 2.4 4-.4 1.6-1.6 3.4 1 4.3 3.3-.3 1.3-.7 .7-1.3 3.7-1.4 2.3-2.3 3-1 1.3-1.7 3-1 2-1.6 1.7-.4 1.7-1.6 2-.4 2-2 2.6-.6 2-2.4 3-.6 2-2.4 3.7-1 3.7-4 3-1.6 4.6-4 2-.4 1.4-2.3zM956.8 436.8l-6 0-1.3 .7-11.3 12-2.7 1.7-2 5.3-6.3 3.7-4.7 4.3-1.3 .7-1 1.3-1.7 1-19.3 18.7 0 1.6-1.4 1.4-3 1.6-6.3 5.4-2.7 1.3-4 .3-2.6 1-7 5.4-2.7 1-2.7 .3-5 2.7-5.3 5.3-2 2.7-5.7 5-16 16.6-2.6 2.4-1.7 .6-6.3 4.7-1.7 1.7-1.3 2.6-.4 2 2.4-1.3 .6 .3 .4-.6 .6 3.3 11.4-8 2-2.3 1.3 0 1.3 1.6 1.4-.6 5-5 6.3-4.7 1-1.3 7.7-6.4 11.3-5.3-.3-3.3 .3-2 4.3-2 8-6 8-2.7 .7-.7 0-4.3 1.3-1.3 5.7-3.7 2.7-1 3.3-3 2.3-.3 3.4-2 3.3-3.4 1.3-5.6 3.7-3.7 6-3.7 7.7-5.6 8-4 4-2.7 2.6-1 1.7-1.7 2-.6 .3 .3 1.7-2 2.3-.3 1.7-2 3.3-1 .4-1.4-1-3.3-.4-3.7-1-3.6zM923.8 436.2l-3-1.7-7-.3-2 3.6-4 2-6.6 6-1.7 .7-1 1-1.7 .3-.6 .7-4.4 1.7-3.6 2.6-8.4 8-8.3 5-5.7 5-3.3 3.7-8 6-5.7 5.7-4 1.6-7.3-.3-.3-.3 .6-.4 1-3 1.7-1.6 2.7-1 1-1 4-2 2-2 .6-2 1.7-1.7 2.3-1 1-1 8.7-5 1.7-1.7 .6-2.3 1.7-1.7 5.3-2 1-1 .7-2.3 1.7-1.7 5.3-2.3 9.3-9.3 3.7-2 2.3-.7 1-1 .4-2 1.3-1.7 4.7-1.3 .6-1.3 0-1.7 1.4-1.3 5.3-1-1-7-1.7-3.7-2.6-4-8.4 0-4 3-5.3 2-2 5.7-6.3 6.6-5 7-3.7 4-6.3 1.7-3.4 1.7-4.6 3.3-9.7 9.7-7 5.3-7 7-3.7 3-2.6 1.3-3 .7-9.4 3.7-4.6 3-4.4 4.3-7.6 9-7 7-2.7 2-4.7 2-4.3 .3-4.7 1.4-1.3 1.3-1.3 3.3-.4 2.7-4.3 10.7 1-.4 3.7-3.6 2.3-1.4 4.3-3.6 2 3-1 5.3 1 1.7 2.7 2 6.7 0 2-1 1.3 2.3 .3 2.3 3.7 8.7 .7 4 3-.7 2.3-2.6 12.7-9.7 8-4.7 1.3-2.3 2.3-2.3 3.7-1.7 6.3-5 5-5.3 3.4-1 1.3-2.7 1.7-1.7 1.6-.3 3-1.7 2-3 2.4-2.3 3.6-2.3 .7 0 6.7-5 .6 0 11.7-10.7 4.3-2 2-3.3 3.7-1.7 1.7-2.7 1.6-1.6 2-.7 5-3.3 5.4-6 2-1.4 3-1 1-1 0-1.3 1.3-1.3 2-.4 .7-2 .6-.6 1 0 .7-1.7 .7-.3 1-3-.4-.4 .7-4-.3-.3zM882.8 400.5l-3-3.3-1.3-.7-6.7 0-9 8.3-1.3 7.4-3.3 3-3.7 4.3-4.7 7.7 1 3.3 4 4 0 1.3-2.6 2.4-9-.4-5 1-8.7 3.4-3.7 2-11 8.3-2 2-10 7-7 6.3-9.3 6-10.3 10.7-6 4.7-8 2.6-1 1-1.7 .7-4 3.7-11 6.6-2.7 4.7-.6 2.3 8.3-5.6 1.3 2.3-.3 2.3-1.3 3.7 1 1.3 .3 3.4 4.3-1 5-2.7 3.7-3.7 8-4 3.7-3.6 2.6-1.7 1-1.3 5.7-4.4 8.3-4 2-2 10.4-7.6 1-1.4 8-6.6 1.6-1 4-1 3.7-3.7 6-4.3 1.7-.7 13.6-10.7 6.7-3.6 .7-3.4 .6-.6 1.7 .3 1-2.3 .3 .3 .7-1.3 .3-6 1.7-1.7 8-5.3 5-5 3-1 2-3 2.7-2.4 3-1.3 3.3-2.7 2-.6-1.7-7.7zM772.5 394.8l-.7-.6-2.3 0-1-1-.3-1.7-1.4-.3-3 .6-5.6 0-4.4 1.4-6.6 .6-4.7 2-13 9.7-2.7 1.3-10.6 11-11.7 8.7-.7 0-6 4-8.3 8.3-1.7 1-2 .4-5.6 2.3-3.7 2.7-1 1.3-8.7 6.3-1.6 .7-.7 1-4.3 3 0 5.7 3.6 0 1.7 2.3 2 6 .3 4 3.4-1 9.6-7.7 1-1.3 7.7-4.3 3-2.7 6.7-4.3 2.6-2.7 5.7-3 8.3-6.7 3.4-2 .6-1 3.7-2 3-3 1.3-.3 3-3.7 6.4-4 6-6 2.6-1.3 3.7-3 1.3-.3 2.4-2 1-.4 4.6-5.6 5-2.4 2.7-4 2.3-.6 1-2 2.7-2.7zM854.5 385.2l-2-1-6 0-1 .6-2.3 0-3 2.7-5.4 2.7-2 5-5.3 4.6-5.3 6.4-5.7 5.3-10 6.7-8.3 8.3-4.4 3.3-3 3-3 4-2.3 2-5 5.7-3 5-2.3 5.7-.4 2.6 .7 .4-.3 .6 .6 1 2 1.7 5 .7 8.7-5 2.7-2 4.3-4.7 2-.7 3.7-4.3 2-.7 2.6-3.3 1.4-.3 3-3.7 1.3-.3 3.7-4 .6 0 4-4 1-.4 2.4-3 1.3-.3 2.7-3.3 2-.7 4-4.7 3.3-1.6 4.3-4.7 3-1.3 3.4-4 2-.7 2-3 2.6-1.3 3.4 0-2-9.4-1-2.3zM827.5 367.8l-1.7-1-6.6 0-2 1.4-3.4 3.6-4.6 3.7-2.4 6.7-2.3 1.6-8.7 8.4-4.3 3-5.7 6.3-14.6 14.3-9.7 7-3 1.7-4.3 4-2 3-3.7 8.3 0 2 1.7 3-.4 .7 .4 .7-.7 .6-3.3-1-8.7 .4-4.7 2-6.6 4.6-8 2.4-3.7 2.3-2 2-2.7 1.7-.6 1-8.7 6.3-3.3 1.3-6 .7-2.4 1.3-1.6 2.4-1.4 4.6-1.3 2.4 1.7-.4 2.3-2 1.7-.3 2-1.7 2-.6 1.3 1.6 .7 2.4-2.4 5 .7 .6 .3 4 3-1 1.7-2 2.7-.6 1.3-1.7 3.7-1.3 1.6-1.7 2-.3 2.4-2 1.3 0 1.7-2 2.6-.7 1.4-1.7 2.6-.6 1.4-1.7 3.3-1 1.7-2 3-.7 1.6-2 3-1 1.4-1.6 2.6-.7 1-1.3 2.7-.7 1.3-1.7 3.7-1 1.7-1 1.3-1.3 .7-1.7 1.3-1 .3-1 .4 .4 1.3-5.7 1.7-2 4-2.7 1-1.3 2.3-1.7 3-1.3 2.7-3.7 3-1 2.3-3.6 4.7-2.4 1-2 1.6-1.6 2-.7 2.4-3.3 1.6-.4 3.4-4 2-.6 5-5.4 2.6-1 2.7-3.6 1.7-.4 2.3-3.3 1.7-.3 1.6-1.7 0-.7 1.4-1.6 4-1.7 1.3-2.7 1.7-1.6 3.6-1.4 3.7-4.6 2.7-.4 1.3-.6-2.3-12zM793.5 368.2l3 1.3 1.3 2 3.7-.3 4-3-2.7-3.7-6.3 0-1.3 1z"/>
<path fill="#19bf82" d="M812.5 511.2l.3 .3-.3 .7-5 4.3-.3-.3 .3-2.4 3-2.6zM777.2 467.2l-1.4-2-3-1.4-2-1.6-3-1-3 .3-4.6 2.3-3.7 1-6.7 3.7-4 1.3-6.3 3-6.3 4.4-5.4 2.6-7.3 5-3 1.4-2.7 3-2.6 5.3 3-1 2.3-2 1.3-.3 1.7-1.4 1 1 1.7 3.4-.4 1.6-1.6 3.4 .6 1.6 0 1.7 6.7-2.3 1.3-1.7 3.7-1.3 1.7-2 3.6-1.4 1.4-1.3 2-.3 1.3-1.7 2.7-.7 1.3-1.6 2.3-.4 2-2.3 2.7-.7 2-2.3 2.7 0 2.6-3.3 4.4-1 4.6-4.7 4.7-2.3zM855.8 438.8l-1-1-13.6 .4-9.4 3-6 3-11 8.3-2 2-10 7-7 6.3-9.3 6-10.3 10.7-6 4.7-8 2.6-1 1-1.7 .7-4 3.7-11 6.6-2.7 4.7-.3 1.7 7-5.4 1 0 1.3 2.7-.3 2.3-1.3 3.7 1 1.3 .3 3.4 4-1.4 4.7-4.3 5-2 3.6-4 8.4-4.3 5.3-3.7 8.7-8 11.3-7.3 2.7-1 3-2 8-6.7 3.3-3.7 3.3-.3 2-1 15-10.7 6-5 2-1 2-2 .4-2 1.3-2 1.7-.6 1.6 0 .4-2 .3-.4 .7 .4 1-2.7zM956.8 436.8l-6 0-1.3 .7-11.3 12-2.7 1.7-2 5.3-6.3 3.7-4.7 4.3-1.3 .7-1 1.3-1.7 1-17.3 16.7-.4 2-1.6 2-2.7 2-1.7 .6-6.3 5.4-2.7 1.3-4 .3-2.6 1-7 5.4-2.7 1-2.7 .3-5 2.7-5.3 5.3-2 2.7-5.7 5-16 16.6-2.6 2.4-1.7 .6-6.3 4.7-1.7 1.7-1.7 4.3 1-.3 2.4-2.4 .6 4.7 11.4-8 5.6-6 1 0 1.4 1.7 1 0 17-14.4 8-3.6 .3-1.7-.7-3.3 .7-.7 3.7-1.3 3.6-2 8-6 5.4-1.7-.4-4 .7-1 2.7-1 5.6-4 4.4-2 6-5.3 4.3-2.7 1-1.7 .3-4 1-2 4.7-4 3.7-2 6.3-4.6 4.7-2.7 .3-.7 9-4.3 4-2.7 2-.6 1.3-1.4 2.4-.3 1.3-1.7 1-.3 1 .3 1.7-1.6 2.6 0 .4-1.4-1-3.3-.4-3.7-1-3.6zM907.2 412.5l-8.4 0-4 3-5.3 2-2 5.7-6.3 6.6-5 7-3.7 4-6.3 1.7-3.4 1.7-4.6 3.3-9.7 9.7-7 5.3-7 7-3.7 3-2.6 1.3-3 .7-9.4 3.7-4.6 3-4.4 4.3-7.6 9-7 7-2.7 2-4.7 2-4.3 .3-4.7 1.4-1.3 1.3-1.3 3.3-.4 2.7-2.3 5.3-.3 2-1.7 3 11.3-9 2 3.4-1 5.3 1 1.7 2.7 2 6.7 0 2-1 1.3 2.3 .3 2.3 4 10.4 3.4 0 13.6-10 5.7-3.4 1.3-2.6 2-2 5.4-2.7 4.6-5.3 5.4-4 4.3-2 1-1 .7-2 1.3-1.4 3.3-1 3.7-5 6.7-3.3 11-10.3 12-7.7 2.3-3.7 3.3-1.3 2.4-3.7 4.6-2 1.4-1.3 1-2 2.6-2.7 5.7-3.6 3.3-1.4 1-1.3 .4-1.7 1.3-1.3 2.3-.3 .7-.7 1-2.7 1 .4 1-2 1-.7 1-3.3-.3-.4 .6-2.6-.3-2.7 1-2-1.7-1-1.6-.3-5.4 0-2 3.6-4 2-6.6 6-1.7 .7-1 1-1.7 .3-.6 .7-4.4 1.7-3.6 2.6-8.4 8-8.3 5-5.7 5-3.3 3.7-8 6-6.7 6.3-3 1-6.3 0-2.3-.6-.4-1.7 1-1.7 6.4-2.6 2.3-2.4 .7-2 2-2 10.3-5.6 2.7-2.7 .3-1.7 2.7-3 5.6-2.6 1.7-.4 1-1.3 0-1.7 .7-1 2-1.3 4-1.3 1.6-3.4 1.7-1.6 9-6 3.3-1.4 1.4-1.3 .3-2 1.3-1.7 4.4-1.3 1.3-1 0-2 1.3-1.3 4.4-1.7 3.3-.3-1-7zM879.8 397.2l-1.3-.7-6.7 0-9 8.3-1.3 7.4-3.3 3-3.7 4.3-3.7 5.7-.3 1.6 1 2 1.3 1.4 4 2.3 1.7 0 3.3-1.3 1-1.4 5-3.6 4-2 3-4 4.4-2.4 4.3-4.6 3.7-1.4-1.4-6.3-3-5zM770.5 394.8l-.3-.3-3.4 0-1-1-.3-1.7-1.3-.3-.4 .3-5.6 0-4.4 1.4-6.6 .6-4.7 2-13 9.7-2.7 1.3-10.6 11-11.7 8.7-.7 0-6 4-8.3 8.3-1.7 1-2 .4-5.6 2.3-3.7 2.7-1 1.3-8.7 6.3-1.6 .7-.7 1-4.3 3 0 5.7 3.6 0 2 3 1.7 6 4.3-.4 3-2.6 8.4-4.7 3.6-3.7 7-4.6 2.7-2.4 7-4 .7-1 5.6-3.6 8-6.4 6.7-4 3.7-4 2.6-1 5.7-6 9.7-6 8-8 3.3-1.6 1-1 2-.7 1.3-1.3 .7-1.7 2-2 2.3-.7 1.4-2.3 2.3-2.3zM854.5 385.2l-2-1-6 0-1 .6-2.3 0-3 2.7-5.4 2.7-2 5-5.3 4.6-1.7 2.4-6.6 7-5.4 4.3-1.6 .7-5.7 4-8.3 8.3-4.4 3.3-3 3-3 4-5.3 5.4-3.3 4.3-3 5.7-.7 2 .3 1.3-.3 1.3 .7 1.4 2 1.3 6.3 .3 1.7-.6 2.6-2.7 2.7-1.3 2.3-2.4 2.7-1 4.7-5 3-1.3 2.3-3.3 1.7-.4 2.3-3.3 1.7-.3 1-1.7 2-2 1.3-.3 3.3-4 1.4-.4 3-3.3 1-.3 2.6-3.4 1.7-.3 3-4 3.3-1.3 4.4-5 3-1.4 3.3-4 3-1.3 1.3-2 1.7-1.7 1.3-.3 2.7-3 2.7-1 .3-1.3-1.3-5.4-1-2.3zM827.5 367.8l-1.7-1-6.6 0-2 1.4-3.4 3.6-4.6 3.7-2.4 6.7-2.3 1.6-8.7 8.4-4.3 3-5.7 6.3-14.6 14.3-9.7 7-3 1.7-4.3 4-2 3-3.4 7.3 .4 1.4-.4 .3 2.7 3.7 0 1.6-1 1-4.3-1-8.7 .4-4.7 2-6.6 4.6-8 2.4-3.7 2.3-2 2-2.7 1.7-.6 1-8.7 6.3-3.3 1.3-6 .7-2.4 1.3-1.6 2.4-.4 2-1.6 4 7-3.4 1.3-1.3 2 2.3 .7 1.7-1.7 4.7-.7 .6 .7 1 .3 2.7 1.4-.3 4-2 .6-1.4 3.4-1 1.6-2 2.7-.3 1-1.7 2.7-.6 1.6-1.7 2-.3 1.7-2 3-.7 1.3-1.7 2.7-.6 1.7-2 3.6-1.4 .7-1.3 3.7-1 1.3-2 2.7-.7 1.6-1.6 2.4-.7 1-1.3 3-.7 1.3-2 2.7-1.3 2-2 1-.4 .3 .4 .7-2 .3 .3-.3-.7 1-2-.4-3.3 .7-1 10.7-6 2.6-4 2.7-.7 1-1 1.3-2.6 2.4-1.4 1.6-.3 1.4-1.3 .6-2 1.4-1.4 2.6-.6 2-3.4 2.4-.6 1-2 1.3-1.4 1.7-.3 4-4.7 3.6-1.6 3-4 2.4-.7 1-1 .3-1.7 1-1 2.3-.3 .7-2 1.7-1.7 3-1 1.3-1.6 .3-1.4 1.4-1.3 4.3-1.7 1.3-1.6 .4-1.4 1.6-1.6 6.7-2-2.3-12zM794.5 366.5l3 1.7 1.3 1.3 2.4 0 3.6-2.3-2-2.7-6.3 0z"/>
<path fill="#4cbf78" d="M814.2 509.8l-1.7 2.4-5.3 4.6-1.4 .7-1.3-1 1-3 3-3.3 2-1 3 0zM775.8 466.2l-1.3-1.7-1.7-.7-2-1.6-3-1-3 .3-4.6 2.3-3.7 1-6.7 3.7-4 1.3-6.3 3-6.3 4.4-5.4 2.6-7.3 5-3 1.4-2.7 3-2.3 4.6 2.3-1.3 1.7-.3 2.7-2.4 1-.3 1.3 1.3 1.7 3.4-.4 1.6-1.6 3.4 .6 1.6 0 1.7 3-1 1.7-2.3 4-1.4 1.7-2 3.3-1 1.7-2 2.3-.3 1.3-1.7 2.7-.6 1-1.7 2.3-.7 .4 .4 1.6-2 3-.7 .4-1 1.3-1.3 2.3-.4 1-.6 1-1.7 2.7 0 4-4.3 3.7-.7 1.3-.7 4.3-3.3 1-2.7 1-.6 .4-1zM753.8 447.8l-1.6-1-1 .4-5-1.4-6.7 0-4 1-2.7 1.4-6.6 4.6-6.4 1.7-4 2-3.3 3-2.7 1.7-.6 1-8.7 6.3-3.3 1.3-4.4 .4-3 1-2.3 2.3-2 6 4.3-2 2-1.7 1.7-.3 2 2.3 .7 1.7-1.7 4.7-.7 .6 .7 1.4 3 0 .7-1 2.3-.4 2.3-2.3 2.7-.7 1.7-2 2.6-.3 1.4-2 1.6-.3 .4 .3 2-2 2-.3 1.6-2 2.4-.7 .3 .3 2-2.3 2.3-.3 2.4-2.4 2.6-.6 2-2.4 3-.6 1-1.7 3-.7 1-1.3 2.4-.7 1.3-1.6 3-.7 2.3-2.3 2.7-1.4 1.7-3.3zM854.8 438.8l-1-.6-4 0-.3-.4-8.3 .4-9.4 3-6 3-11 8.3-2 2-10 7-7 6.3-9.3 6-10.3 10.7-6 4.7-8 2.6-1 1-1.7 .7-4 3.7-11 6.6-3 5.7 1.3-.3 6.4-4.7 1.6 3-.3 2.3-1.3 3.7 1 1.3 .3 2 3.3-1 3-1.6 2.7-2 2.3-2.7 4.7-1.7 6.3-6 9.4-6.3 5.6-2.7 6-5.6 5.4-3.7 4.6-4.3 3-2 8.4-4 7-7 2.6-1.4 7.7-6.6 9.7-6.7 5.3-4.3 3.3-1.7 1.7-.3 .3-1.7 2.4-2.3zM956.8 436.8l-6 0-1.3 .7-11.3 12-2.7 1.7-2 5.3-6.3 3.7-4.7 4.3-1.3 .7-1 1.3-1.7 1-15.3 14.7-1 3-3 3-2.7 2-1.7 .6-6.3 5.4-2.7 1.3-4 .3-2.6 1-7 5.4-2.7 1-2.7 .3-5 2.7-5.3 5.3-2 2.7-5.7 5-16 16.6-2.6 2.4-1.7 .6-6.3 4.7-1.7 1.7-1.3 3 2.3-.7 .7-.7 .6 4.7 11.4-8 11-11 1-.7 2-.3 .6 1.3 .7 .4 1.3-.4 9.4-8 1.3-.3 1-1 1.7-.3 .6-.7-.3-4.7 .7-.6 8.3-3.7 10.3-7.3 3.4-1-.4-4.4 .7-.6 1 0 3.7-1.7 5.6-4 .7 0 1-1 4-2 8-8 .7-1.3 .3-4.7 1-1.7 3-2.6 7-4 1.3-1.4 9-6 3-1.3 1-1 13.4-6.3 .6-1 2.4-.4 1.3-2 5.7 0-2-10.6zM907.2 412.5l-8.4 0-4 3-5.3 2-2 5.7-6.3 6.6-5 7-3.7 4-6.3 1.7-3.4 1.7-4.6 3.3-9.7 9.7-7 5.3-7 7-3.7 3-2.6 1.3-3 .7-9.4 3.7-4.6 3-4.4 4.3-7.6 9-7 7-2.7 2-4.7 2-4.3 .3-4.7 1.4-1.3 1.3-1.3 3.3-.4 2.7-2.3 5.3-.3 2-1.4 2.4 1.4-1.4 1.6-.6 6-5.7 2-1 2 3.7-1 5.3 1 1.7 2.7 2 6.7 0 2-1 1.3 2.3 .3 2.3 4 10.4 3.4 0 7.3-6.4 7-4.3 2-2 .3-1.3 2.4-2.4 5.3-2.3 1-1 1-2.3 1.3-1.4 5-3 .7 0 7-5.3 1-2.3 1.3-1.4 3.4-1 1-1 .6-2 1.7-1.6 6.7-3.4 1.3-1.6 .3-1.4 2.7-2.6 8-5.4 .7 0 1-1 3.3-1.6 8.7-8.7 3.6-1.3 1-2.4 1.4-1.3 3-1 1.3-1.3 .7-1.7 2.3-2.3 .7 0 1-1 .6 0 5.4-3.7 1.6-.7 1.7-1.3 .7-2.3 1.6-1.7 3.4-1 1-1.3 0-1 1-1 1.6-.4 .7-2 1.7-1.6 .6-2.4-.3-.3 .3-3.7 1.7-3.3-1.7-1-1.6-.3-5.4 0-2 3.6-4 2-6.6 6-1.7 .7-1 1-1.7 .3-.6 .7-4.4 1.7-3.6 2.6-8.4 8-8.3 5-5.7 5-3.3 3.7-8 6-6.7 6.3-3 1-6.3 0-4.7-1.3 .4-1.3 1-1 1 0 4-1.7 1-1 .6-2.3 1.7-2 9.7-5 1.3-1.4 1-3 1.7-1.6 4-2.7 1.3-.3 1-1 5.3-2.4 1-1 .4-2.6 2.3-1.7 1 0 3-1.3 1-1 0-1.7 1.7-1.7 4.3-2 4.3-3.3 4-2.3 1.4-1.7 .3-2 1.3-1.3 6-2.4 .7-1 .3-2.3 1.4-1 3.6-1 1-1.7 0-1 1-1 3.4 0-.7-4.6zM879.8 397.2l-1.3-.7-6.7 0-9 8.3-1.3 7.4-3.3 3-3.7 4.3-3.3 5 .6 2.3 2.4 2.4 3.6 1.3 2 0 7-3.3 3-2.7 .7-1.7 1.7-1.6 2.3-.7 4-4.7 5.7-3.3 1.6 0 1.4-.7-1.4-6.3-3-5zM768.8 395.5l-3-2-.6-2-1 0-.4 .3-5.6 0-4.4 1.4-6.6 .6-4.7 2-13 9.7-2.7 1.3-10.6 11-11.7 8.7-.7 0-6 4-8.3 8.3-1.7 1-2 .4-5.6 2.3-3.7 2.7-1 1.3-8.7 6.3-1.6 .7-.7 1-4.3 3 0 5.7 3.6 0 2 3 1.7 5.6 3.3 0 2.4-2.3 5.3-3.7 1-1.3 10.3-6 7.7-5.7 3-3 8.7-5 7.6-6.6 3.7-2 4.7-4 2-.7 5-5.3 6-3.4 6.6-7 6-4.3 5.4-2.7 4.6-5.6 3.4-1.4 1-1 .6-1.3 2.4-2zM854.5 385.2l-2-1-6 0-1 .6-2.3 0-3 2.7-5.4 2.7-2 5-5.3 4.6-1.7 2.4-6.6 7-5.4 4.3-1.6 .7-5.7 4-8.3 8.3-4.4 3.3-3 3-3 4-7.3 7.7-3.3 5.7-1.4 3.6 .4 .4-.4 1 .7 .6-.3 .4 2.3 1.6 6.7 .4 6-3.4 2.6-2 4.4-4.6 2.6-1 3.4-4.4 2.3-.6 1-2 1.3-1.4 1 0 2.7-3.3 1.3-.3 7.7-7.7 1.7-.7 2.6-3.3 1.4-.3 3-3.7 2-.7 4-4.6 3.6-1.7 4-4.7 2.7-1 3.7-4.3 1.6-.3 2.4-3.4 2.3-1 2.7-.3 .3-1.3-1.3-5.4-1-2.3zM827.5 367.8l-1.7-1-6.6 0-2 1.4-6.4 6.3-1.6 1-2.4 6.7-2.3 1.6-8.7 8.4-4.3 3-5.7 6.3-14.6 14.3-9.7 7-3 1.7-4.3 4-2 3-3 6.3 .3 .7-.3 .3 .6 1 3.4 3 1.3 .4 2.7-.4 2.6-1 1-1.3 2.4-1.3 3-2.7 3.6-1.3 1-2.7 1-1 3.4-1 2.6-4 2.4-1.3 1.6-.4 1.4-2.6 1-1 2.3-.7 1.7-3 2.3-.7 1-2 1.7-1.6 3-1.4 4-4.6 3.3-1.4 2-3.3 2.7-.7 .6-2.3 1-1 2.7-.7 1.3-2.6 1.7-1.7 4.3-1.7 1-1 .4-1.6 1.3-1.7 4-1.3 1-1 .3-1.7 1-1 3.4 0-.4-3.3-1.6-7zM799.8 367.2l.7 0 2.3-2.7-3 0z"/>
<path fill="#89bf6f" d="M815.5 508.2l-3 4-6.7 5.6-2 .7-2-.3 0-1 1.7-3.7 4.3-4.7 3-1.6 2.7 0zM774.8 465.5l-1-1.3-3-2-3-1-3 .3-4.6 2.3-3.7 1-6.7 3.7-4 1.3-6.3 3-6.3 4.4-5.4 2.6-7.3 5-3 1.4-2 2-2.7 5 7.4-3.7 1.3 1.3 1.7 3.4-.4 1.6-1.6 3.4 5.3-.4 2-2 3.3-1 2-2.3 2.7-.7 2-2 2.3-.3 1.4-1.7 2.6-.6 1-1.7 2.7-.3 2-2.4 2.7-.3 .3-1 1.3-1.3 2.4 0 2.6-3 3-.4 4.4-4.6 3.3-1.7 1.7-1.7 2.3-1.3 .7-1.3zM753.2 448.2l-1-1-3-.4-3-1-6.7 0-4 1-2.7 1.4-6.6 4.6-6.4 1.7-4 2-3.3 3-2.7 1.7-.6 1-8.7 6.3-3.3 1.3-4.4 .4-3 1-2.3 2.3-1.7 5.3 2-.6 2.4-2 1.3 0 1-1 .7 0 2.3 2.6 .7 1.7-2.4 5.7 .7 1 3-.7 2.3-2.7 .4 .4 2.3-.7 2-2.3 2.3-.4 1.7-2 .3 .4 2-.7 1.4-1.7 2.3-.3 1.7-2 2.6-.3 1.4-2 3-.7 1.6-2 3-.7 1.4-2 3.3-1 2-2 3-1 1-1.3 2.7-.7 1-1.3 2.3-.7 2-2 1.7-.3 2.3-1.3 2.7-3.7zM853.8 438.8l-.6-.6-3.4 0-.3-.4-8.3 .4-9.4 3-6 3-11 8.3-2 2-10 7-7 6.3-9.3 6-10.3 10.7-6 4.7-8 2.6-1 1-1.7 .7-4 3.7-11 6.6-2.7 5 7-4.6 1 1 1 2.3-.3 2.3-1.3 3.7 1 1.3 3.3-.3 2-2 6.7-3.3 2.6-3 5-1.7 8-6.7 2.7-1.6 4.3-4.4 7.7-3.3 6.7-5 1-1.3 2.6-1.7 1-1.3 8-6.4 .7-1 2.7-1.6 2.6-.4 1.4-.6 3.3-3.7 5-4 2.7-1.3 17.3-13 3-1.4 .7-.6 .3-1.7 1-1 .7 0 1-1.7zM956.8 436.8l-6 0-1.3 .7-11.3 12-2.7 1.7-2 5.3-6.3 3.7-4.7 4.3-1.3 .7-1 1.3-1.7 1-10.3 9.7-1.4 3-5 5.6-5.3 4.4-1.7 .6-6.3 5.4-2.7 1.3-4 .3-2.6 1-7 5.4-2.7 1-2.7 .3-5 2.7-5.3 5.3-2 2.7-5.7 5-16 16.6-2.6 2.4-1.7 .6-6.3 4.7-1.7 1.7-1.3 2.6 .6 0 2-1.6 .7 1 .3 4 1.4-.4 3.3-2.6 4-4.4 4-1.6 8.3-8.7 4.4-3.3 1-1.4 1.3-.6 4.3-4 1 .3 1 2 1.4 0 2.3-1.7 .3-.6-.3-4 .7-1 12.3-5.7 3.3-2 4.4-3.7 4-2-.4-1.6 .4-3.4 5-1.3 4.6-2.7 3-2.3 2.4-1 1-1 .3-3.3 2.3-2 3.7-1.7 2.3-2.3 .7-1.4-.7-5.3 3.4-3.3 17.6-10.4 .4-.6 5.3-3 1-1 8-4 1.7-.4 3-2 2-.3 1-1.3 1.6-.4 .4 .4 2.3-2.7 2.7-.3 .3-1.4-1.7-7.6zM907.2 412.5l-8.4 0-4 3-5.3 2-2 5.7-6.3 6.6-5 7-3.7 4-6.3 1.7-3.4 1.7-4.6 3.3-9.7 9.7-7 5.3-7 7-3.7 3-2.6 1.3-3 .7-9.4 3.7-4.6 3-4.4 4.3-7.6 9-7 7-2.7 2-4.7 2-4.3 .3-4.7 1.4-1.3 1.3-1.3 3.3-.4 2.7-3.3 8.3 2.3-1 5.7-5.3 2.3-1.3 2 4-1 5.3 1 1.7 2.7 2 6.7 0 2-1 1.3 2.3 .3 2.3 3.4 8.4 3.6-.4 15.4-12 6.3-3 1-1 1-2.6 1-1 4.7-2 4.3-4.7 5.7-5 1.6-1 3.4-1 1-1.3 .3-1.7 1-1 2.3-.7 2.4-1.3 2-2 .3-1.3 2.7-2.7 5.3-2.7 2.3-2 2.7-1.3 4.3-4 .4-1 3-3 6-4 3.3-1.3 1-1.7 0-1 1.3-1.3 2.7-.7 2.7-4 5-2.3 5-4 2-3 2-2 2.3-1.4 2.7-.6 1-1.4 .3-1.6 1-1 2-.4 .7-2 1.3-.6 1.3-3 .4-1.7-.4-.3 .4-.4-.4-3.3 .7-1 .3-2-7-.3-2 3.6-4 2-6.6 6-1.7 .7-1 1-1.7 .3-.6 .7-4.4 1.7-3.6 2.6-8.4 8-8.3 5-5.7 5-3.3 3.7-8 6-6.7 6.3-3 1-6.3 0-3.7-1-2 .4-.6-.4 0-1 .6-1 4.4-1 1-1.3 .3-2 1.7-1.7 8-4 1.3-1.3 1-2.7 1.7-1.6 4-2.7 1.3-.3 2-1.7 .7 0 1-1 5.3-2.7 1-1.6-.3-1 .3-1 1.3-1.4 5.4-1.6 .6-1 .4-2 1.3-1.4 4.3-1.6 10-10 3.7-2 3.7-1.4 .6-.6 .4-2.4 1.6-1.6 3.7-1 1-1.4 .3-1.6 1-1 2.4-1 3 0-.7-4zM879.8 397.2l-1.3-.7-6.7 0-9 8.3-1.3 7.4-3.3 3-3.7 4.3-2.3 3.7 0 1.3 2.6 3 2.7 1 3 0 2-.7 6.3-5.3 3.7-1.3 1.3-2.4 2-2 2.7-1 5-5 3-1.3-.7-4-1-2zM765.2 391.5l-7 .3-4.4 1.4-6.6 .6-4.7 2-13 9.7-2.7 1.3-10.6 11-11.7 8.7-.7 0-6 4-8.3 8.3-1.7 1-2 .4-5.6 2.3-3.7 2.7-1 1.3-8.7 6.3-1.6 .7-.7 1-4.3 3 0 5.7 3.6 0 2 3 1.7 5.6 3-.3 1.7-1 2-2 6.6-4.7 4.7-4.6 11.3-8 6-3.4 2.7-2.6 6-4.4 .7 0 7-5.6 6.3-4 2.7-3 4.3-2 3.7-4.4 3.3-3 1.7-.6 10.6-7 2.4-2.4 .3-1 2-2.3 5-2.7 3.3-4 .7 0 1-1.3 .7-1.7-2-1.3zM854.5 385.2l-2-1-6 0-1 .6-2.3 0-3 2.7-5.4 2.7-2 5-5.3 4.6-1.7 2.4-6.6 7-5.4 4.3-1.6 .7-5.7 4-8.3 8.3-4.4 3.3-3 3-3 4-5.3 5.4-3.3 4.3-2 3.7-.7 2 .3 2-.3 .3 1.7 1.7 7 .3 5.6-3 4-4 2.4-.7 4.3-5 2.7-1 2.3-3.3 1.7-.3 2-3 2-.7 2.3-3.3 1.7-.4 1.6-2.3 2-1.3 3.4-3.7 1.3-.3 3-3.7 2-.7 3.7-4.3 3-1.3 4-4.7 3.6-1.7 3.7-4.3 2-.7 1.3-2 1.7-1.6 1.3-.4 2.4-2.6 2.6-.4 .4-1.3-1.7-5.3zM827.5 367.8l-1.7-1-6.6 0-2 1.4-3.4 3.6-4.6 3.7-2.4 6.7-2.3 1.6-8.7 8.4-4.3 3-5.7 6.3-14.6 14.3-9.7 7-3 1.7-4.3 4-2.7 4.3-1.7 3.7 0 1.3 3.4 3 4.3 .4 5-2 3.3-2.7 2-.7 .7-1 0-1.3 1.3-1.3 3.4-1 1-2.7 1.3-1.3 3.7-1.4 1.3-1.3 1.3-2.7 2.7-.6 .7-.7 .3-1.7 1-1 2.3-.6 1.7-3 2.3-.7 4.7-5.3 3.3-1.4 3-4 2-.3 1.4-2.7 1.3-1 1.7-.3 1-1 .3-1.7 1.3-1.3 4.4-1.7 1-1.3 .3-1.7 1.3-1.3 4.7-1.7 2-4 2-.6 3.7 0-2-10z"/>
<path fill="#afbe67" d="M816.2 506.8l-3.7 5.4-6.7 5.6-3.3 2-4 0-.3-.3 3-5 3.6-4.7 1-.3 4.4-3.7 3.3-.3zM908.2 482.5l-1.4-.3-3 1.6-4.6 4.4-2.7 2-1.7 .6-2.3 2.4-5 3.6-1.7 .7-4 .3-2.6 1-7 5.4-2.7 1-2.7 .3-5 2.7-5.3 5.3-2 2.7-5.7 5-16 16.6-2.6 2.4-1.7 .6-6.3 4.7-1.7 1.7-.7 1.6 2-.6 .7 1.3 10.7-7.7 2.3-2.3 1.3 0 1.4 1.3 1-.3 4.6-5 15.4-13 2.6-1.3 1-1 11.7-5.4 0-5 7.3-5.6 8.4-2.7 5.6-3.3 1-1.4 .4-3.3 2.3-2.3 3.7-1.7 2.3-2 2.7-3zM774.2 465.2l-1-1.4-2.4-1.6-3-1-3 .3-4.6 2.3-3.7 1-6.7 3.7-4 1.3-6.3 3-6.3 4.4-5.4 2.6-7.3 5-3 1.4-2 2-2.3 4.3 2-.7 4-3 .6 0 1.7 2 1.7 3.4-.4 1.6-1.6 3.4 3.3-.4 1.3-1.6 3.4-1 1.3-1.7 4-1.7 1.7-1.6 2.3-.7 1.3-1.7 2.7-.3 1-1.7 2.7-.6 1-1.7 2.6-.3 2-2.4 2.7-.3 .3-1 1.4-1.3 .3 .3 2.3-.3 .7-1.4 2-2 3.3-.3 4-4 4.4-2.7 1-1.6zM752.2 448.2l-.7-1-5.3-1.4-6.7 0-4 1-2.7 1.4-6.6 4.6-6.4 1.7-4 2-3.3 3-2.7 1.7-.6 1-8.7 6.3-3.3 1.3-4.4 .4-3 1-2.3 2.3-1.3 4.3 2.6-1.3 1 0 .4-.7 2.6-1.3 2.7 3.3 .7 1.7-1.7 4.3 1 0 1-.6 2.7 0 2-2.4 2.6-.3 1.7-2 2.7-.7 1.3-1.6 2.7-.7 1.3-1.7 2.3-.3 1.7-2 3-.7 1-1.6 1.3 0 2.4-1 1-1.7 3-.7 1.6-2 3.7-1.3 1.3-1.7 3-1 1-1.3 2.7-.7 1-1.3 3-1 2.3-2.3 1.7-.7 1.7-2zM852.8 438.5l-3.3-.7-8.3 .4-9.4 3-6 3-11 8.3-2 2-10 7-7 6.3-9.3 6-13 13-3.3 2.4-5.7 1.6-4 2-1.7 1.7-2.6 1.7-.7 1-11 6.6-2 3.7 1.3-.3 2.4-2 2.6-1.4 2 3.7-.3 2.3-1.3 3.7 1 1.3 4-1.3 2-1.3 3.6-3.7 4.4-1.7 4.3-4.3 6.7-3.7 2.3-2 5.7-3.3 6.6-6.3 18.7-11.7 5.7-4.7 3.3-3.6 4-.7 6-5 2.7-1.3 15.3-11.4 3-3 .7-1.3 1.6-1.7 1-.3 1.4-2.7zM956.8 436.8l-6 0-1.3 .7-11.3 12-2.7 1.7-2 5.3-4 2-3.7 2.7-10 9 .4 .3 1.6-.3 6-2.7 16.4-10.3 3.6-1.4 .7-.6 2-.4 5.7-3 1 0 1.3-1.3 2.3-.3 .7-1 2.7 0 .3-1.4-1.7-7.6zM907.2 412.5l-8.4 0-4 3-5.3 2-2 5.7-6.3 6.6-5 7-3.7 4-6.3 1.7-3.4 1.7-4.6 3.3-9.7 9.7-7 5.3-7 7-3.7 3-2.6 1.3-3 .7-9.4 3.7-4.6 3-4.4 4.3-7.6 9-7 7-2.7 2-4.7 2-4.3 .3-4.7 1.4-1.3 1.3-1.3 3.3-.4 2.7-3 7.7 1.7-.7 1-1.3 4-2.7 3-2.7 2.3 4.4-1 5.3 1 1.7 2.7 2 6.7 0 2-1 1.3 2.3 .3 2.3 3.4 8.4 4.3-1.4 7.3-5 1-1.3 6.4-4.7 3-1.3 1.3-1.3 .7-2.4 1.6-1.6 4.4-1.7 1.6-1.7 .4-1.3 2-2 3.3-1.7 6-4.6 2.7-1 2-4 3.6-1 1-1 .7-2 2.3-2.4 6.7-3.3 6-6.3 4.7-4 1.3-.4 1-1 3-1.3 6.7-4.7 1-2.6 1.3-1.4 2.7-.6 1-1 .3-1.4 1.7-1.6 3.3-1.4 5.7-6.3 2-1 2.3-2 5.3-2.7 1.4-2.6 1.3-1.4 2.3-.6 .7-1.7 1-1 .7 0 1.6-3 .7-4-.3-2.3 1.3-2.7-6.7-.3-2 3.6-4 2-6.6 6-1.7 .7-1 1-1.7 .3-.6 .7-4.4 1.7-3.6 2.6-8.4 8-8.3 5-5.7 5-3.3 3.7-8 6-6.7 6.3-3 1-6.3 0-3.7-1-1.6 0-1.7 .7-.7-.3 0-1.4 .7-.6 3.3-.7 .7-.7 .3-2.3 1.4-1.3 5-2 3-2.7 .3-1.3 2.3-2.7 4.7-2.3 3.7-2.7 1.3-.3 2-1.7 2.7-1.3 1.3-1.4 .3-2.3 1.4-2 6.3-2.3 1-1 .3-2.4 1.4-1.3 4-1.3 2-3.4 1.6-1.6 2.7-1.4 6-4.6 4.7-2 1.3-1.7 0-1.7 1.7-1.6 4.6-1.7 .4-2 1.6-1.7 1.7-.3 3.3-2.3 2-.7-.3-2.3zM879.8 397.2l-1.3-.7-6.7 0-9 8.3-1.3 7.4-3.3 3-5.4 7 0 .6 2.7 3 2.7 1 2.3 0 5.3-2 .7-1 .7 0 2.3-1.6 3.3-4 2-.7 6-6 2.7-1.3 1.7 0 1.3-.7-.7-4-1-2zM762.8 391.8l-4.6 0-4.4 1.4-8 1-3.3 1.6-13 9.7-2.7 1.3-10.6 11-11.7 8.7-.7 0-6 4-8.3 8.3-1.7 1-2 .4-5.6 2.3-3.7 2.7-1 1.3-8.7 6.3-1.6 .7-.7 1-4.3 3 0 5.7 3.6 0 1.7 2.3 1.3 4.3 4.7-1.6 6.7-5 6.6-3.7 12.4-9 3-3 5.6-3 4-3 5.7-5.3 4.3-2.4 5.7-4.3 3.3-1.7 3.7-4.6 9-5.4 11-10.3 5.7-3 3.6-4.3 1-.4 2.4-2.6 0-1.4-2.4-1.3zM854.5 385.2l-2-1-6 0-1 .6-2.3 0-3 2.7-5.4 2.7-2 5-5.3 4.6-1.7 2.4-6.6 7-5.4 4.3-1.6 .7-5.7 4-8.3 8.3-4.4 3.3-3 3-3 4-5.3 5.4-3.3 4.3-2 4.3 .3 3 1.7 1 6.6 0 3.4-1.3 2-2 3-1.3 3.6-4.4 3-1.3 4-4.7 1.7-.3 2-3 1.7-.3 2-3 1.6-.7 2.4-3 1-.3 4-4 .6 0 8-8 3.7-2 3.7-4.4 3-1.3 4.6-5 2.7-1 1.3-2.3 1.4-1.4 1.6-.3 2.4-3.3 2-.7 3 0-.4-2.7-1.3-3.6zM827.5 367.8l-1.7-1-6.6 0-2 1.4-3.4 3.6-4.6 3.7-2.4 6.7-2.3 1.6-8.7 8.4-4.3 3-5.7 6.3-14.6 14.3-9.7 7-3 1.7-4.3 4-2 3-2 4.7 2.6 2.6 2 .7 3.7 0 6.3-3 3-3.7 2.7-.6 .7-.7 1.6-3.3 4-1.4 2.7-4.3 3.3-1 1-2.3 1-1 1.7-.4 2.3-3.3 1.7-.3 3-4 3.3-1.4 4.7-5.3 2.7-.7 1.6-3.3 2.4-.3 1.3-2.7 1-1 3-1 3.7-5 4.6-1.7 1-1 .4-2 1.3-1.3 3.3-1 2-1.7 1.7-.3 .3-1.3-1.6-7z"/>
<path fill="#c1bc60" d="M817.2 505.8l-4.7 6.4-4 3.6-5 3.7-6 .7-1.3-.4 .3-1.6 4-5 1-.7 .7-1.3 6.6-6 2.4-1 2.3-.4 2.3 .7zM903.8 485.8l-1 0-2.6 1.4-3.7 3-1.7 .6-2.3 2.4-5 3.6-1.7 .7-4 .3-2.6 1-7 5.4-2.7 1-2.7 .3-5 2.7-5.3 5.3-2 2.7-5.7 5-16 16.6-2.6 2.4-1.7 .6-6.3 4.7-1.7 1.7-.3 1 1.6-.7 .7 2 10.7-7.7 4.6-5 1-.6 1.4 0 .6 1 1.4 0 17-14.7 2.6-1.3 1-1 8.4-3.7-.7-4 .7-1.3 3.3-1.4 7.3-5.6 7.4-2.4 .6-.6-.3-2.7 .7-1 5.6-4.7 4-1.6 2.4-2.4zM773.2 463.8l-2.4-1.6-3-1-3 .3-4.6 2.3-3.7 1-6.7 3.7-7 2.7-3.3 1.6-6.3 4.4-.7 0-5.7 3.6-.6 0-5.7 4-3 1.4-2 2-2 3.3 1 0 1-1 4-2 2 2.3 1.7 3.4-.4 1.6-1 1.7 2.7 0 1.3-.7 2-2 3-1 2-2 7.4-3.6 .6-1 2.4-.7 1.3-1.3 3-1 1.7-1.7 2-.3 1.6-2 2.7-.4 1.7-2.3 3.3-.3 .3-1 3-3 3-.7 3-1.7 3.4-4 .3-1.3zM751.2 447.8l-1-1-4-1-6.7 0-4 1-2.7 1.4-6.6 4.6-6.4 1.7-4 2-3.3 3-2.7 1.7-.6 1-8.7 6.3-3.3 1.3-4.4 .4-3 1-2.3 2.3-1.3 4 2-.7 2.3-2 1 0 1-.6 3 3.6 .7 1.7-1.7 4.3 1 0 1.3-.6 1.4-1.7 2.6-.3 1.7-2 3-.7 1.7-2 2.6-.7 .7-1.3 3-.7 1-1.6 3-.7 1.3-1.7 3-1 1.4-1.6 3.3-1 1.7-2 3.3-1 1.7-2 3-1 1.6-1.7 2.7-1 1-1 6-3 3.3-3zM851.8 438.5l-2.3-.7-8.3 .4-9.4 3-6 3-11 8.3-2 2-10 7-7 6.3-9.3 6-13 13-3.3 2.4-5.7 1.6-4 2-1.7 1.7-2.6 1.7-.7 1-11 6.6-2 3.4 1 0 5-3.7 1.3 1.7 1 2.3-1.3 5 .3 .7 3.4-1 8-5 1.3-1.7 4.7-1.7 3.3-3.3 5.3-3.7 2.4-2.3 4.3-3 5.7-2.7 4.6-4.3 4-2.7 8-6.6 12-7 3.4-4 2-1 2.6-.4 3-2 2.7-3.3 3.3-3 7.4-5 6.3-5.3 1.7-.7 2.3-2.7zM956.8 436.8l-6 0-1.3 .7-5 5-1.3 2-6 5.7 1.6 2.6-.6 1.4-.4-.4-1 1.4-.6-.4-.4 .7-1.3-1.3-1 2.3-6.3 3.7-5.7 5 1.7 .3 2-.7 6-3.3 7-5 13.6-5.3 .4-.7 2-.3 1-1.4 5.3-.3-1.3-7.3zM907.2 412.5l-8.4 0-4 3-5.3 2-2 5.7-6.3 6.6-5 7-3.7 4-6.3 1.7-3.4 1.7-4.6 3.3-9.7 9.7-7 5.3-7 7-3.7 3-2.6 1.3-3 .7-9.4 3.7-4.6 3-4.4 4.3-7.6 9-7 7-2.7 2-4.7 2-4.3 .3-4.7 1.4-1.3 1.3-1.3 3.3-.4 2.7-2.3 5.3-.3 2 .6-1 3.7-2 5-4.3 2.3 4.7-1 5.3 1 1.7 2.7 2 6.7 0 2-1 1.3 2.3 .3 2.3 2.7 7 4-.3 7.7-6.7 7-3.6 1.6-1.7 .4-1.3 1.6-2 6-2.7 2.4-4 4.3-2 2.7-2.3 4-2.4 2.3-2 1-2.3 1.7-1.7 3.3-1 1.3-2.6 1.7-1.7 2-.7 4.3-2.6 1.7-2.7 2.7-2.7 4-2.3 3.3-2.7 4.3-2.3 9.7-9.3 2.7-1.4 1 0 1.6-3 3.4-1.6 4.3-5 3-1.4 7-4.6 4.3-5.4 2.7-1 1.3-2 2-1.3 2-3 .7-2.7 0-4 1.3-2.3-6-.3-2 3.6-4 2-6.6 6-1.7 .7-1 1-1.7 .3-.6 .7-4.4 1.7-3.6 2.6-8.4 8-8.3 5-5.7 5-3.3 3.7-8 6-6.7 6.3-3 1-6.3 0-3.7-1-1.6 0-3 1-.7-.6 .7-2 2 0 1.3-.7 .3-2.3 .7-1 4.7-1.7 4-5.3 10.3-6 3-3 .3-1.4 4.4-4.3 5-2.7 3.3-1 .7-1 0-1.6 1.3-1.7 4-1.3 1.3-2.7 1.4-1.3 3-1.4 10.3-7 1.7-1.6 .6-2.4 1.4-1.3 4.6-1.7 1-1.3 .4-1.7 1.3-1.3 2-.3 3-3.7 1.7-1.3 2.3-1zM879.8 397.2l-1.3-.7-6.7 0-9 8.3-1.3 7.4-3.3 3-4.4 5.3 1 2.3 1.7 1.7 2 .7 3 0 2-.7 4-2.3 2.7-3 2-.7 3-3.7 2.6-1.3 5.4-4.7 1.6 0 1.4-.6-.4-2.7-1-2zM763.5 396.2l-2.7-1.4-1-1-.6-2-2.7 .4-2.7 1-6.6 .6-4.7 2-13 9.7-2.7 1.3-10.6 11-11.7 8.7-.7 0-6 4-8.3 8.3-1.7 1-2 .4-5.6 2.3-3.7 2.7-1 1.3-8.7 6.3-1.6 .7-.7 1-4.3 3 0 5.7 3.6 0 2 3 1 3.6 3.4-1 20.6-16 11-7 3.4-3 5.6-3.6 5.4-4.7 8.6-5.3 4.7-4.7 .7 0 5-3 6.3-6.7 6-4.3 1.3-.3 2.4-2 2.6-1.4 4-4.6 2-1 2.7-2.7zM854.5 385.2l-2-1-6 0-1 .6-2.3 0-3 2.7-5.4 2.7-2 5-5.3 4.6-1.7 2.4-6.6 7-5.4 4.3-1.6 .7-5.7 4-8.3 8.3-4.4 3.3-3 3-3 4-5.3 5.4-3.3 4.3-1.7 3.7 .7 2.3 1 .7 5.6 .3 3.4-1 3.6-2 3.4-3.7 2-.6 4.6-5 2.7-1 2.3-3.4 1.4-.3 2.3-3 .7 0 3-3.3 1-.4 2.6-3.3 .7 0 4-4 1.3-.7 3.4-3.6 1.6-.7 4.7-4.7 2.7-1.3 4.6-5 3-1.3 4-4.4 1.7-.6 2.7-3.4 2-1 2.3-2.3 2.3-.7-1.6-4.3zM827.5 367.8l-1.7-1-6.6 0-2 1.4-3.4 3.6-4.6 3.7-2.4 6.7-2.3 1.6-8.7 8.4-4.3 3-5.7 6.3-14.6 14.3-9.7 7-3 1.7-4.3 4-2.7 4.3-.7 1.7 .4 1 2 1.7 1.6 .6 4.4 0 2.6-1 4-3.3 2.4-.7 2.6-4 3-1 1.7-2.6 1.7-1.7 3.6-1.3 2-3.7 2-.3 1-2 1.4-1.4 1 0 3-3.6 1.3-.4 5.7-5.6 3-1.4 3.3-4 1.7-.3 1-1 .3-1.3 1-1 2.7-1 1.3-2.4 2-2 4.7-2 1-1.3 .3-1.7 1.7-1.6 3.6-1 1-2.7 1-1 3.4-.3 .3-1.4-1.3-5.6z"/>
<path fill="#d3bb58" d="M817.5 504.2l.7 1-2.4 2.3-3.3 4.7-4 3.6-3 2-1 1.4-2 .6-4.7 0-3.3 1-.3-.3 0-1.7 1.3-2 12.3-12.3 4-2 3.4 0zM898.5 489.2l-3.7 1.6-2.3 2.4-5 3.6-1.7 .7-4 .3-2.6 1-7 5.4-2.7 1-2.7 .3-5 2.7-5.3 5.3-2 2.7-5.7 5-16 16.6-2.6 2.4-1.7 .6-6.3 4.7-1.7 2 .7-.3 .6 .3 .7 2 10.7-7.7 8.6-9 1.7-1 1.3 0 .7 1 1.7 0 12-10.3 2.6-1.3 1-1 5-2.4-.3-3.3 .3-2 1.7-.3 5-2.4 7.3-5.6 5.7-2-.3-3 .6-1 3.4-1.7 5-3.7 2.6-3zM772.5 463.5l-1.7-1.3-3-1-3 .3-4.6 2.3-3.7 1-6.7 3.7-7 2.7-3.3 1.6-6.3 4.4-.7 0-5.7 3.6-.6 0-5.7 4-3 1.4-2 2-1.3 2.6 1 0 3.3-2.6 1 0 3.3 5 .4 1.3-1 2.3 .3 .4 1.3-.7 .7-1 3.7-1.3 1.3-1.4 4-2 1.3-1.3 3-1.3 1.4-1.4 2.3-.6 .7-1 2.6-.7 1-1.3 3-1 1.7-1.7 2-.3 1.7-2 2.6-.4 2-2.3 3.7-1 4-4 5.3-3.7 .7-1.3zM931.8 457.8l-.3-.3-2 1-2.7 2.3 3-.6 1.7-1.4zM750.2 447.5l-.4-.7-3.6-1-6.7 0-4 1-2.7 1.4-6.6 4.6-6.4 1.7-4 2-3.3 3-2.7 1.7-.6 1-8.7 6.3-3.3 1.3-4.4 .4-3 1-2.3 2.3-1 3 1.7-1 1.6-.3 2.4-1.7 3.6 5 .4 1.7-1 2.3 1-.7 1 0 2.6-2.3 3-.7 1.4-2 1.3 0 3-2.3 2.7-.7 .6-1.3 2.7-.7 1.7-1.6 2.6-.7 1.4-1.7 3-1 1.6-1.6 2.7-1 2.7-2.4 2.6-1 3-2.3 .7 0 3.3-2.3 6.7-3.4 3.3-3zM850.5 438.2l-7.3-.4-5 1-8.7 3.4-3.7 2-11 8.3-2 2-10 7-7 6.3-9.3 6-13 13-3.3 2.4-5.7 1.6-4 2-1.7 1.7-2.6 1.7-.7 1-11 6.6-1.7 2.7 5.4-3.3 1.6 2 1 2.3-1.3 5.7 3-1 .7-1 6.6-5 3.7-1.7 2.3-2.3 4-1.7 3-2 4.4-4 7.3-5 2.3-2.3 4-1.7 3.7-2.3 5-4.4 12.3-9 2.4-2.3 5-2.3 7-6.4 .6 0 19-13.6 4-4 .7-1.4zM956.8 436.8l-6 0-1.3 .7-5 5-1.3 2-4.7 4.3 2.3 2.7 0 1 2.4 .3 11.6-4.3 2.4-2 3 0-1-5.3zM907.2 412.5l-8.4 0-4 3-5.3 2-2 5.7-6.3 6.6-5 7-3.7 4-6.3 1.7-3.4 1.7-4.6 3.3-9.7 9.7-7 5.3-7 7-3.7 3-2.6 1.3-3 .7-9.4 3.7-4.6 3-4.4 4.3-7.6 9-7 7-2.7 2-4.7 2-4.3 .3-4.7 1.4-1.3 1.3-1.3 3.3-.4 2.7-2.3 5.3 0 1 4.3-2.6 3.7-3.7 1-.3 .7 2.3 1.6 2.7-1 5.3 1 1.7 2.7 2 6.7 0 2-1 1.3 2.3 .3 2.3 2.7 6.7 4.3-2 3-2 12.7-10.3 5.3-2.4 1-1 .4-1.6 1.6-2 3.4-1 4.3-5 7-5.7 3.3-1.7 1.7-.3 1-2.7 1-1 3.3-1.3 6.4-6.7 5.3-2.6 5.3-4.4 6-6 2.7-1.3 4.7-3.7 3-1.3 1.3-2.7 1-1 1.7-.3 3.3-4 .7 0 5-3.7 9.6-8.6 3-1.4 3-3.6 1.4-.4 2.3-3.3 1-2.3 0-6.7 .3-.3-4 0-2 3.6-4 2-6.6 6-1.7 .7-1 1-1.7 .3-.6 .7-4.4 1.7-3.6 2.6-8.4 8-8.3 5-5.7 5-3.3 3.7-8 6-6.7 6.3-3 1-6.3 0-3.7-1-1.6 0-3.7 1.4-1-.4 .3-2.3 2.7-.3 .3-2.4 1-1.3 3.4-1 1.3-1.7 0-.6 2.3-2.4 6.4-3.6 7.6-7.7 3.4-2.3 .6 0 3.4-2.7 5.6-2.7 1-1 0-1.6 1.4-2 3.6-1 1-1 .4-1.4 1.6-1.6 1.4-.4 5.3-5.3 4.7-3 5-4.7 4.3-1.6 1.3-1.4 .7-1.6 1.7-1.7 2-.7 2.6-3.3 .7 0 3.3-3 2.4-.7-1.4-3.3zM879.8 397.2l-1.3-.7-6.7 0-9 8.3-1.3 7.4-3.3 3-3.4 4 1 2.3 1.4 1.3 2 .7 2.6 0 4.4-1.7 2.3-1.6 3.7-4 .6 0 6-5.7 7-4.3-1-2.7zM761.5 396.5l-2.7-1.3-1.3-3-5.7 1.3-4.6 .3-4.7 2-13 9.7-2.7 1.3-10.6 11-11.7 8.7-.7 0-6 4-8.3 8.3-1.7 1-2 .4-5.6 2.3-3.7 2.7-1 1.3-8.7 6.3-1.6 .7-.7 1-4.3 3 0 5.7 3.6 0 1.7 2.3 1 3 4-1 7-6 7.3-4.7 7.4-6 5.6-3.6 2-2 7.4-4.4 7.6-7 4-2.6 4.7-2.4 3.7-3 2.6-1.3 6.4-6.7 1.3-.3 6-4 3-2.7 2.3-1.3 6.4-6.3 1.6-.7 4.7-5zM854.5 385.2l-2-1-6 0-1 .6-2.3 0-3 2.7-5.4 2.7-2 5-5.3 4.6-1.7 2.4-6.6 7-5.4 4.3-1.6 .7-5.7 4-8.3 8.3-4.4 3.3-3 3-3 4-5.3 5.4-3.3 4.3-1 2.3 1 2.7 .6 .3 6.4 0 3.3-1.3 2-2 3-1.3 3.3-4 4.4-2.4 2.3-3.3 1.7-.3 2-3 1.3-.4 2.3-3 .7 0 5.7-6 11-9.6 3.6-2.4 4.7-4.6 1.7-.7 5-5 2.6-1.3 2-2.7 2.4-1.3 2-2.7 4.6-2.7 .4-1-.7-1.6zM827.5 367.8l-1.7-1-6.6 0-2 1.4-3.4 3.6-4.6 3.7-2.4 6.7-2.3 1.6-8.7 8.4-4.3 3-5.7 6.3-14.6 14.3-14 9.7-4 4.3-1.7 3 0 1 2 1.7 1.7 .7 5 0 5-2.4 3.6-4.3 2.4-.7 3-4 3.3-1.3 3.3-4.3 2.4-.7 1-2 1.3-1.3 1 0 2-3 .7 0 4.3-4.4 .7 0 4-3 3.6-4 2-.6 1.4-1.4 .3-1 1.3-1.3 1.4-.3 3-3.7 2.6-1 2-1.7 3-4 2.4-1.3 2.3-.7 1-1.3 0-1 1.7-1.7 2-.6 3 0 .3-1.4-1.3-5.6z"/>
<path fill="#e4b951" d="M829.8 540.2l-8.6 6.3 .6 0 1.7 2 3.7-3.3zM817.8 502.5l1 2-3 3-3.3 4.7-4.3 3.6-3 3.4-2.7 .6-6.7 .4-3 1.6-.6-2 1-2.3 3-3.3 3.6-3 2-2.7 .7 0 2-2.7 .7 0 2.3-1.6 1.7-2 2.3-1 2.3-.4 2 .4zM888.2 496.8l-.4-.3-2 1-4 .3-2.6 1-7 5.4-2.7 1-2.7 .3-5 2.7-5.3 5.3-2 2.7-5.7 5-10.6 11.3-7 6.7 2.6 .6 2-.6 8.4-8.7 1.6-1 4.7-4.3 1.3 0 .7 1.6 1 .4 5.7-4.7 2.6-1.3 1-1 .7 0 .7-.7-.4-4.3 1.4-1.4 9.3-4 7.3-5.6 4-1.7-.3-3.3 1-1.4 1 0zM771.8 463.5l-1-1.3-3-1-3 .3-4.6 2.3-3.7 1-6.7 3.7-7 2.7-3.3 1.6-6.3 4.4-.7 0-5.7 3.6-.6 0-5.7 4-3 1.4-2 2-1 2 4.7-2.4 3.6 5.4 .4 1-.4 1.6 3.4-1.6 .6-1 4.7-2.4 1.3-1.3 5-3 8.7-4.3 .7-1 3-1 1.6-1.7 2-.3 1.7-2 2.7-.4 2.3-2.6 4.3-1.7 5.7-4.7zM748.8 446.8l-2.6-1-6.7 0-4 1-2.7 1.4-6.6 4.6-6.4 1.7-4 2-3.3 3-2.7 1.7-.6 1-8.7 6.3-3.3 1.3-4.4 .4-3 1-2.3 2.3-.7 2.3 1.4-.3 2.3-2 1.7 0 3.3 4.3 .7 1.7-.4 1 2.7-.7 3-2.3 2.7-1 1.6-1.7 3-1 .7-1 2.7-1 1.3-1.3 3-1 1-1.3 3-1 1.7-1.7 2.6-1 2.4-2 3.6-1.7 1.7-1.6 3.7-1.7 2-1.7 7-3.6 2.6-2 1-1.7zM849.2 438.2l-.4-.4-5.6 0-5 1-8.7 3.4-3.7 2-11 8.3-2 2-10 7-7 6.3-9.3 6-10.3 10.7-6 4.7-5.7 1.6-4 2-1.7 1.7-2.6 1.7-.7 1-11 6.6-1 1.7 4-2.7 .7 0 2.6 4.7-1 4.3 2-1 3-2.6 5.7-3.4 1.3-1.3 5.4-2.7 1-1.3 3.6-2.3 4-3.4 1.7-.6 3.3-3 6.4-3.7 3.3-3 3.3-2 14.7-11 7.7-5 1.6-1.7 6.4-3 2-2 2-1 17.6-14.3 2.7-3zM956.8 436.8l-6 0-1.3 .7-9 9.7 2.7 3 2.3 .3 3.3-1.3 2.4-.4 3.6-2 5.4-.3-1-5.3zM907.2 412.5l-8.4 0-4 3-5.3 2-2 5.7-6.3 6.6-5 7-3.7 4-6.3 1.7-3.4 1.7-4.6 3.3-9.7 9.7-7 5.3-7 7-3.7 3-2.6 1.3-3 .7-9.4 3.7-4.6 3-4.4 4.3-7.6 9-7 7-2.7 2-4.7 2-4.3 .3-4.7 1.4-1.3 1.3-1.3 3.3-.4 2.7-2.3 5.7 8.7-6 .3-.7 .7 3 1.6 2.7-1 5.3 1 1.7 2.7 2 6.7 0 2-1 1.3 2.3 .3 2.3 2.4 6 4-2 4-3.6 4.3-3 3-1.4 5-3.6 1.7-.7 1.6-1.7 1-2.3 1-1 4-1.7 2.7-3.6 1.7-.7 9.3-7 2.3-1 1.4-2.7 1.6-1.6 2-.4 1.4-2 3-3 3.3-1.6 3-2.4 5.3-5.3 17.7-12.3 2.7-3.7 2.3-.7 2-3 1-.3 6.3-6 1.7-.7 6-4.6 2-1 9-8.7 2-4 0-3.3 1.3-3-4 0-2 3.6-4 2-6.6 6-1.7 .7-1 1-1.7 .3-.6 .7-4.4 1.7-3.6 2.6-8.4 8-8.3 5-5.7 5-3.3 3.7-8 6-6.7 6.3-3 1-6.3 0-1.7-.6-3.6-.4-6.4 2.4-.3-.4 0-1.3 .3-.3 .7 .3 .3-2 2.4-.7 0-1.3 1-1.7 2.3-.3 2.7-3.7 1.6-.6 3-2.4 4.4-4.3 6.3-4 5.7-4.3 .6 0 3.4-2.7 1.6-.7 2-2 .4-2 1.6-1.6 4-1.4 1-2.3 1.4-1.3 1.3-.4 6.3-6.3 5.7-3.3 .7-1 3.6-2.7 .7 0 3-2 1.3-2.3 1.7-1.7 2-.7 8-8 2.7-1 .3-1zM879.8 397.2l-1.3-.7-6.7 0-9 8.3-1.3 7.4-3.3 3-2 2.6 1.6 3.4 2 .6 .4-.3 1.6 .3 3.4-1 4.3-3.3 7.3-7 6.4-4.7 2.3-1-2.7-4.3zM759.2 396.5l-2.4-1 0-1.7-.6-1.3-4.4 1-4.6 .3-4.7 2-13 9.7-2.7 1.3-10.6 11-11.7 8.7-.7 0-6 4-8.3 8.3-1.7 1-2 .4-5.6 2.3-3.7 2.7-1 1.3-8.7 6.3-1.6 .7-.7 1-4.3 3 0 5.7 3.6 0 2.4 4 3.3-1 3-2.4 1.3-.3 8.7-7 15.3-11.3 5.4-3 2.6-2.4 1-.3 7.4-7 10.6-6 5.7-5.3 4-2 13-11.4 5-3 5.7-5.3 1-1.3zM854.5 385.2l-2-1-6 0-1 .6-2.3 0-3 2.7-5.4 2.7-2 5-5.3 4.6-1.7 2.4-6.6 7-5.4 4.3-1.6 .7-5.7 4-8.3 8.3-4.4 3.3-3 3-3 4-2.3 2-5 5.7-1.3 3 .3 2 2 1 6.7-.7 3-1.6 3.3-3.4 4-2.6 4-4 1.3-.4 2-2.6 2-1.4 1.4-2 1-.3 8-8.3 13.3-11.4 2.7-1.6 5.3-5 1-.4 3.7-3 2.6-3 .7 0 7.3-7 1.7 0 1.7-.6-1-2.7zM827.5 367.8l-1.7-1-6.6 0-2 1.4-3.4 3.6-4.6 3.7-2.4 6.7-2.3 1.6-8.7 8.4-4.3 3-5.7 6.3-14.6 14.3-14 9.7-4 4.3-1 1.7 .3 1 2.7 2 4 .3 3.6-1.3 3-2.7 2-.6 3.7-4 3-1.7 3.7-4.3 2.6-1 2.7-3.4 1-.3 1.3-2 1.4-.7 6.3-6.3 7.3-5.3 4-4 1-.4 3-3.3 1-.3 2.4-2 2.6-3 5.4-3 2.6-3.7 3.7-1.7 1.7-2 2.6 0 .4-1.3-1-4.3z"/>
<path fill="#f4ba47" d="M818.2 501.2l1.3 2.6-3.7 3.7-3.3 4.7-3 2.6-3 3.7-4 1.3-6.7 .4-2.3 1-1.7 1.6-.6-.3-.4-3.3 2.4-3.7 4-3.3 5.3-5.7 1.3-.3 3-3.7 3.4-1.7 .3-.6 1.3 0 1-.7 2.7 0 1.7 .7zM886.2 497.5l-4.4 .3-2.6 1-7 5.4-2.7 1-2.7 .3-5 2.7-5.3 5.3-2 2.7-5.7 5-13 13.3 2 1.3 1.7-.3 4.7-5 1.6-1 8.4-8 4-2.7 2.3-2.3 7.3-4 1.7-.3 5-2.4 7.3-5.6 1.7-.7-.3-3.3 1.3-1.7 1.3-.3zM770.5 462.2l-2.7-1-3 .3-4.6 2.3-3.7 1-6.7 3.7-7 2.7-3.3 1.6-6.3 4.4-.7 0-5.7 3.6-.6 0-5.7 4-3 1.4-2.7 3 1.4-.4 2.3-1.6 3 3.6 1.3 3 .7 .4 13-8.4 5.3-2.3 4-2.7 6.4-3 .6-1 3-1 1-1.3 3.7-1.3 2.3-2.4 6-4 1-1 1-2zM747.2 446.5l-1-.7-6.7 0-4 1-2.7 1.4-6.6 4.6-6.4 1.7-4 2-3.3 3-2.7 1.7-.6 1-8.7 6.3-3.3 1.3-4.4 .4-3 1-2.3 2.3-.3 1.3 1.6-1 1.4 0 1.3-1.3 4 5.3 .7 2 1.3-.6 .7-1 4-1.7 .6-1 6.7-3.3 1.7-1.7 1.6-.3 2-1 .4-.7 3.6-1.7 .7-1 2.7-1 4-3 2.3-1 3-2.3 2.3-1 4.7-3.3 5-2.7 3-2.3 .7-1zM847.2 437.8l-4 0-5 1-8.7 3.4-3.7 2-11 8.3-2 2-10 7-7 6.3-9.3 6-12 12.4-4.3 3-5.7 1.6-4 2-1.7 1.7-2.6 1.7-.7 1-4.7 3-3 1.3-3.3 2.3-.7 1 1-.3 2.4-2 1 .3 2.6 4.7-.3 2 1.3-.3 5.7-4.4 11.3-6.3 10.4-8.7 13-8 16.3-13 11.3-7 1.7-1.6 2.7-1.4 5.6-4.3 2-2 4-2.3 9-7.4 2.4-3zM956.8 436.8l-6 0-1.3 .7-6.3 6.7 2.3 2.6 0 1 1.3 .7 4.4-1 .6-.7 3.4-1 2.3-1.6 2-.7-.3-2.3zM907.2 412.5l-8.4 0-4 3-5.3 2-2 5.7-6.3 6.6-7 9.7-2.4 1.7-5.6 1.3-3.4 1.7-4.6 3.3-9.7 9.7-7 5.3-7 7-3.7 3-2.6 1.3-3 .7-9.4 3.7-4.6 3-4.4 4.3-7.6 9-7 7-2.7 2-4.7 2-4.3 .3-4.7 1.4-1.3 1.3-1.3 3.3-.4 2.7-2 4.7 2-.7 6.7-5 .7 3 1.6 2.7-1 5.3 1 1.7 2.7 2 6.7 0 2-1 1.3 2.3 .3 2.3 1.7 4.4 1 .3 2.3-1 7.4-6.3 8.3-5 3.7-3.7 4.6-2.3 2.4-3.4 2-1 5-5 7-4.3 3-3.3 1.6-.4 3-3.6 1.4-.4 8.6-7.6 9.4-6.7 11.6-10 4-2.7 1.4-.3 1.3-2 3.3-3.3 19-14.7 5.7-5.7 2-4.3-.3-5.3-1.4 0-2 3.6-4 2-6.6 6-1.7 .7-1 1-1.7 .3-.6 .7-4.4 1.7-3.6 2.6-8.4 8-8.3 5-5.7 5-3.3 3.7-8 6-6.7 6.3-3 1-6.3 0-1.7-.6-3.6-.4-5.4 1.7-1.3 1-1-.3 .3-2 1-.4 0-1.3 .7-.7 1 .4 .3-.4 .4-2 .6-.6 1.7-.4 1.3-2 6-5.3 19.7-15 5.7-5.3 4.3-1.7 1.7-3 2-1 8-8.3 8.3-4.7 5.3-5 3.4-2 10.3-10.7 2.3-1.3zM879.8 397.2l-1.3-.7-6.7 0-9 8.3-1.3 7.4-3.3 3 0 3.3 .6 1 4.4 .3 2.6-1 3.4-2.6 5-5.7 7.3-5.3 3.3-1.7zM755.2 392.5l-1.4 .7-8 1-3.3 1.6-13 9.7-2.7 1.3-10.6 11-11.7 8.7-4 2-6.7 5.7-1 1.3 2.7 3-2.3 2.3-3-2.6-2.4 1.6-2 .4-5.6 2.3-3.7 2.7-1 1.3-8.7 6.3-1.6 .7-.7 1-4.3 3 0 5.7 3.6 0 1.7 2.3 .3 1.3 4.7-2 6-5.3 6.3-4.3 15-11.7 5-2.7 3.7-2.6 2-2.4 1-2 4.7-3.6 9-4 6-4 7-6.7 1.6-.7 11.4-8.6 7.3-7 .7-1.7-.7-1-1.3-.7zM854.2 384.8l-1 0-.7-.6-5.3 0 0 3.3-2.4 2-1.6 .7-.4-.4-.3 .7-1-1-1-2.3-4.3 2.6-1.4 .4-2 5-5.3 4.6-1.7 2.4-6.6 7-5.4 4.3-1.6 .7-5.7 4-8.3 8.3-4.4 3.3-3 3-3 4-2.3 2-4.7 5.4-.6 1.6 0 2 1.3 1 4 0 3.7-1 2.3-1.3 5.3-5 .7 0 7.3-6.3 15-15.4 15.7-12.3 12-10.3 5.7-6 3.6-3zM827.5 367.8l-1.7-1-6.6 0-2 1.4-3.4 3.6-4.6 3.7-2.4 6.7-2.3 1.6-8.7 8.4-4.3 3-5.7 6.3-14 14-14.6 10-4 4.3 0 1 1.6 1.7 2.4 .7 2 0 2.6-.7 3.7-2 8.7-8 3.3-2 15-15 10-7.3 7.3-7 7-5 3.7-4 2.7-1 3.3-4 1.3-.7 2.7 0 .3-1.3-.6-3z"/>
<path fill="#fec13a" d="M818.8 499.8l1.4 3-4.4 4.7-3.3 4.7-4.7 5.3-2.6 1.7-2.7 .6-6.7 .4-2.3 1-2 2-1.7-.4-.3-3.6 1.3-2.7 6.7-6.7 .7 0 2.6-3 1-.3 2-3 2.4-.7 3.3-3.3 3.7-1.3 4 .3zM884.5 497.5l-2.7 .3-2.6 1-7 5.4-2.7 1-2.7 .3-5 2.7-5.3 5.3-2 2.7-5.7 5-10.6 11 1.6-.7 1.4 1 1 0 16-14.3 5-3.4 4.6-2.3 4.7-1.7 .7-.6 0-3.7 2.3-2.3 3.7-2.4 3-2.6 2-.7zM769.8 461.8l-2-.6-3 .3-4.6 2.3-3.7 1-6.7 3.7-7 2.7-3.3 1.6-6.3 4.4-.7 0-5.7 3.6-.6 0-5.7 4-3 1.4-2 2.3 3-1.7 4 6 .7 0 10.6-7.3 14-6.7 3.4-2.3 5.3-2.3 2.3-2 3.4-1.7 6.6-5.3zM744.8 445.8l-5.3 0-4 1-2.7 1.4-6.6 4.6-8 2.4-3.7 2.3-2 2-2.7 1.7-.6 1-8.7 6.3-3.3 1.3-6 .7-2.4 1.3-1.6 2.4 1 0 3-2 4.3 6 .7 .3 8.6-5 1-1 3-1.3 1-1 6.7-3.4 7-4.3 2.3-2 9.4-5.3 1.3-1.4 7.3-4.6 1.4-2.4zM845.5 437.8l-2.3 0-5 1-8.7 3.4-3.7 2-11 8.3-2 2-10 7-7 6.3-9.3 6-11.3 12-5 3.4-8 2.6-1 1-1.7 .7-4 3.7-11 6.6 2.7-1.3 1 .3 1.6 2.4 1 3 1-.4 5.4-4.3 10-5.3 3.3-2.4 6.3-6.6 13.7-7.7 13.7-11.7 4.6-2.6 3-2.4 7.4-4 10.3-7.3 14.3-11.7 1.7-2.3zM943.8 443.5l3 1.7 .7 1 1.7 .3 4.6-1.3 1.4-1 4-.4 .3-1.3-.7-2.3-2-3.4-6 0-1.3 .7zM907.2 412.5l-8.4 0-4 3-5.3 2-2 5.7-7.7 8.3-5 7.7-3 2-5.6 1.3-3.4 1.7-4.6 3.3-9.7 9.7-7 5.3-7 7-3.7 3-2.6 1.3-3 .7-9.4 3.7-4.6 3-4.4 4.3-7.6 9-7 7-2.7 2-4.7 2-4.3 .3-4.7 1.4-1.3 1.3-3.3 10.3 4.3-3 1.3-.3 2.4-2.3 .6 .6 .4 2.7 1.6 2.7-1 5.3 1 1.7 2.7 2 6.7 0 2-1 1.3 2.3 .3 2.3 1.4 3.4 3.3-1.4 6-5.3 7.7-4 4.6-3.7 2.4-1 4-4.6 1.3-.4 6-6 10.7-7 7-7 1-.3 2.3-2.3 2.7-1.7 6.3-5.7 4-2.6 7.7-6.4 7.6-5 9.4-9.6 12.3-8.7 8.7-8 2.6-4 .4-3-1-2.3-1.4 2.6-4 2-6.6 6-1.7 .7-1 1-1.7 .3-.6 .7-4.4 1.7-3.6 2.6-8.4 8-8.3 5-5.7 5-3.3 3.7-8 6-6.7 6.3-3 1-6.3 0-1.7-.6-3.6-.4-5.4 1.7-3 1.7-.3-.4 .3-1-.3-.6 .7-.4 .3-1.3 .7 .3-.4-.6 .4-1 .6-.7 .7 .3 .7-2.3 1.6-.3 1.4-2.4 1.3-.6 6.3-6.4 2.7-1.6 9-7.4 15-10.3 3-3.7 1-.3 4.7-4.7 1.3-2.3 2.3-2.7 9-4.6 9.7-7.7 4.3-4.3 4-5 2-1.7 2.4-1zM882.8 400.5l-3-3.3-1.3-.7-6.7 0-9 8.3-1.3 7.4-.7 .3-1.3 3.7 .3 1.3 2.4 .7 1.6-.4 3-1.6 2.4-3.4 3.6-3.6 8.4-6.4 2.3-1zM753.5 393.5l-1.3-.3-6.4 1-3.3 1.6-13 9.7-2.7 1.3-10.6 11-4.4 3 1.7 3-.3 1-2.7-2.6 1.7 3.3-2 2-2.4 1.3-1-1 .4 1.4-1 .6-.4-.3-.3 .7-3-2.7-4.7 3 2.7 3-1 .7-1.7 3.6-2.3 2.4-1.7 1-1.3 .3-.3-.3-.4 .6-1-1-1-2.3-2 1.3-2 .4-5.6 2.3-3.7 2.7-1 1.3-8.7 6.3-1.6 .7-.7 1-4.3 3 0 5.7 3.6 0 1.7 2.3 4-1.3 5.7-5.4 16.6-12.6 3.7-3.4 8-4.6 2-2.4 1-3 2.3-2.3 1.7-1 10-3.7 6.3-3.6 12-10 9.4-6.7 5.3-5 1.7-2.7-1.4-1.6zM854.5 385.2l-2-1-5.3 0 1 3.3-2.7 2-3.3 1.7-1.4 .3-2.3-3.3-2.3 1.6-1.4 .4-2 5-5.3 4.6-1.7 2.4-6.6 7-5.4 4.3-1.6 .7-5.7 4-8.3 8.3-4.4 3.3-3 3-3 4-5 5-1.6 3 0 1.7 .6 .7 3.7 0 4.7-1.4 4.6-4.3 5.7-4 18.3-18.7 6.4-5.3 4-2.7 3-2.6 1-.4 12.6-11 5-6 4.4-4.3zM827.5 367.8l-1.7-1-6.6 0-2 1.4-3.4 3.6-4.6 3.7-2.4 6.7-2.3 1.6-8.7 8.4-4.3 3-5.7 6.3-14.3 14.3-14.3 9.7-3 3 .3 1.3 1 1 3.7 .7 3-.7 3-1.6 12.6-11 1-.4 5.7-5.6 4.7-6 5-4.7 8.6-5.3 6.7-6.4 7.7-5.3 9.6-8.3 1.7-1 2-.7-.3-2.3z"/>
<path fill="#fdcc2f" d="M795.2 522.8l.3 1.4-1 1-.3-1.7zM883.2 497.8l-1.4 0-2.6 1-7 5.4-2.7 1-2.7 .3-5 2.7-5.3 5.3-2 2.7-5.7 5-7 7.3 1-.7 1.4 0 1 .7 2-.3 7-6.7 6.3-5 7.3-4 2.7-1-.3-4 1.6-1.7 2-.6 7-5.4 1.7-.6zM819.5 498.5l1 2.7-.3 2-4.4 4.3-3.3 4.7-2 2-.3 1-2.4 2.3-2.6 1.7-2.7 .6-4.7 0-3 .7-1.3 .7-2.7 2.6-1 0-1.3-1-.3-.6 .3-4.4 3-3.6 .7 0 3-3.4 1.3-.6 2.3-3 1 0 1-1 1.4-2.4 2-.3 2.3-3 3.3-1.7 .7-1 1.7-.3 .6-.7 .4 .4 2.3-.7 2.3 .7zM772.8 488.8l-2-.3-2.3 1.3-6.3 2-1 1-1.7 .7-4 3.7-4.7 3-3 1.3-2.6 2 2.3-1 1 .7 2 3.6 6.7-5 9.6-5 2.7-2 3-3.6zM768.8 461.5l-1-.3-3 .3-4.6 2.3-3.7 1-6.7 3.7-7 2.7-3.3 1.6-6.3 4.4-.7 0-5.7 3.6-.6 0-5.7 4-3 1.4-1.7 1.6 2.7-1 3.3 5 9.4-7 12.3-5.3 16.3-8.7 5.7-4.3 2.7-2.7zM742.5 445.8l-3 0-4 1-2.7 1.4-6.6 4.6-8 2.4-2.4 1.3-3.3 3-2.7 1.7-.6 1-5.7 4-1.3 1.6-2.4 1.4-1.3 0-1.3 .6-6 .7-2.4 1.3-1 1.4 3.4-1 3.3 4.6 1 .7 10.7-6.7 6.6-3.3 1-1 6.7-3.7 7.3-5.3 9.4-5.3 5-4.4zM691.8 443.2l-2-1.7-1-2.3-8.6 3.3-3.7 2.7-1 1.3-8.7 6.3-1.6 .7-.7 1-4.3 3 0 5.7 3.6 0 1 1.6 3.4-1.3 8.6-8.3 12.4-9zM912.2 438.2l-1-.4-3.4 2-7.6 6.7-8.4 3.7-2.3 1.6-9.7 9-3.3 1.7-2 1.7-.7 0-4.3 3.3-7 7-8 6-5.7 5.7-4 1.6-6.3 0-1.7-.6-3.6-.4-5.4 1.7-3 1.7-1-1 .4-1.7 1.3-1.3 0-1.7 .3-.3 .7 .3 .7-2 1-.3 1.3-2 8.7-8.7 5-3.3 6-5 11.6-7.7 9-7.7 4-5.3-.3-2-7.3 2-3.4 1.7-4.6 3.3-9.7 9.7-7 5.3-7 7-3.7 3-2.6 1.3-3 .7-9.4 3.7-4.6 3-4.4 4.3-7.6 9-7 7-2.7 2-4.7 2-4.3 .3-4.7 1.4-1.3 1.3-3 9.3 7.7-4.6 .6 .6 .4 2.7 1.6 2.7-1 5.3 1 1.7 2.7 2 6.7 0 2-1 1.3 2.3 1 4 1 .3 2.3-1 7.4-6.6 6.6-3 4.7-3 3-3 2-1 7.3-7.7 3.4-2.7 3-1.3 4-2.7 2.6-2.6 1-.4 4.4-4.6 6.6-5 6.7-6 9.7-7.7 9.6-6.3 8-8.7 7.4-4.7 9.3-7.6 5-5.4 1.7-3zM843.5 437.8l-5.3 1-10 4-4.7 3-10.7 8.7-10 7-7 6.3-9.3 6-5.3 5.4-2 4 0 1.3 4-.7 6.3-3.3 6-5 5.7-6.7 10.3-5.3 15.3-9.7 13-10.3 3-3 .7-1.3zM946.5 440.5l2.7 2.7 .6 1.3 1.4 0 4-1.3 3.6-2.4-2-4-6 0-1.3 .7zM907.2 412.5l-4 0 0 2.7-4.4 2.3-2.3-3.3-3 2-4 1.3-2 5.7-4 4-5.3 6.6-.7 2 .3 1 1 .4 3-1 4.7-2.4 6.3-4.6 7-6.7 3-4.7 2-2 3.4-2zM879.8 397.2l-1.3-.7-6.7 0-4.3 4.3-1.3 .7-2 2 0 .7 1.6 1.6 .4 1.7-4 5.7-.7 2 2.3 .3 1.4-.7 4.3-5.6 9-6.7 3-3zM752.2 393.2l-6.4 1-3.3 1.6-13 9.7-2.7 1.3-5.6 5.7 2.3 2.7 0 1-2 2-3-2.7-4.3 3.7 1.6 3-1 3 1.7 0 4.3-1.4 5.4-2.6 6.6-5.4 3.4-3.3 13.6-10 3.4-4.3-1-2zM848.2 389.5l-3 .3-5.4 2.4-2-1.7-.6-1.3-2.4 1-2 5-5.3 4.6-1.7 2.4-6.6 7-5.4 4.3-1.6 .7-5.7 4-8.3 8.3-4.4 3.3-3 3-6.6 8-2 3.4 .3 1 3.3 .3 4.4-1.7 6.3-6.3 4-2.3 8-8.4 14.3-13.3 11-8 13-12.7 1.4-2zM827.5 367.8l-1.7-1-6.6 0-2 1.4-3.4 3.6-4.6 3.7-2.4 6.7-2.3 1.6-8.7 8.4-4.3 3-3 3-3 4-13 13-15.3 10.3-1.7 1.7 .3 1.3 1.7 1 3.3 0 3.7-1.7 17-14.3 6.7-9 4.6-4.7 3.4-2.3 5-2.3 9.6-8.4 5-3 2-2 3.7-2.3 4-4 4.3-2.3 .4-1z"/>
<path fill="#f8d727" d="M880.5 498.5l-2.3 1-3.4 3-1.6 .7-1 1-2.7 1-2.7 .3-5 2.7-5.3 5.3-2 2.7-5.7 5-4 4.3 4-2.7 1.4-.3 .6 1 1.4 0 4.6-4.3 3.7-2.7 6.7-3.3 .3-.7-.3-.3 0-3.4 1.6-1.6 3.7-1.4 3.3-3.3 3-1.7 1.7-1.6zM820.2 497.5l1 2.3-.4 2.4-5 5.3-4.6 6-.4 1-3.3 3.3-2.3 1.4-2.7 .6-4.7 0-3 .7-1.3 .7-3.3 3.3-2.4 0-1-1 .4-5 1-2 4.3-4.7 1.3-.6 2-2.7 2.4-1 1-2 1.3-1.3 2-.4 1-2.6 1-1 2-.7 1-1.3 1.7-1 2-.4 .3-.6 3.3-1 3.7 .6zM769.8 490.2l-1-.7-6.6 2.3-1 1-1.7 .7-4 3.7-9.3 5.6 1.3-.3 1 .7 1.3 2.3 1-.3 6.7-5.4 6.3-3 4-2.6 1.7-1.7zM796.5 469.2l-.7-.7-2 .3-7.3 5-3.3 3.4-1 3 .3 1 3.7-.7 5.6-4 3-3.3 1.7-3zM767.2 461.2l-2.4 .3-4.6 2.3-2.7 .7-7.7 4-4 1.3-6.3 3-6.3 4.4-5.4 2.6-11.3 7.4 .3-.4 .7 .4 .7-.7 2 3 1.3 .7 8.7-7 5-2.4 6-2 17.3-8.6 8.3-7zM739.2 446.2l-3.7 .6-2.7 1.4-6.6 4.6-6.4 1.7-4 2-10 8-2 2-1 2.3-2.3 2.4-2-.4-1-1-6.3 .7-2.4 1.3-.3 .7 .7-.7 1.6-.3 2.4 3.7 1 1 3.3-2 3.3-3 3.4-1 5-2.4 12.6-7.6 6.7-5 7-3.7 3.3-3 .7-1.3zM907.5 441.2l-3 1.6-4.3 3.7-8.4 3.7-3.6 2.6-8.4 8-3.3 1.7-2 1.7-.7 0-4.3 3.3-7 7-8 6-6.7 6.3-3 1-6.3 0-1.7-.6-3.6-.4-5.4 1.7-3 1.7-1.3-1 .7-3.7 .3-.3 .3 .3 0-1 1-.7 0-1 1.7-1.3 .3-1 2.4-2 3-4.3 3.6-3.7 4.7-3 6.7-5.3 13-8.4 3.3-2.6 5.7-5.7 1.6-2.7-.3-1.6-5.3 1.3-3.4 1.7-4.6 3.3-9.7 9.7-7 5.3-7.3 7.3-3.4 2.7-2.6 1.3-3 .7-9.4 3.7-4.6 3-4.4 4.3-7.6 9-7 7-2.7 2-4.7 2-4.3 .3-4.7 1.4-1.3 1.3-1.3 3.3-.4 2.7-1.3 3 7.3-4.7 1 1 .4 2.7 1.6 2.7-1 5.3 1.7 2.3 2 1.4 8-.4-1-2.3 0-1.3 .7-.4 .3 .7 .3-1 2.4-.7 .3 1.4-2 3 1 2.3 .3 2.3 .7 1 3-1 8-7.6 5.7-2.4 5.6-3.3 4.7-4 7.7-8 2.6-2 2.7-1 .3-.7 4.7-2.6 7.7-7.7 4-3 10-9 11.6-8.7 2.4-1 4-2.6 7.6-8.7 8-5 6.4-5.3 3-3 2.3-3.7zM686.2 440.2l-4 1.3-4.4 2.7 2 3.6-2.3 2.4-.7 1.3-1.6 1.3-4 1.7-.4-.3-.6 1-1.4-1.4 .7 1.7-.3 .3-1-1 .3 1.4-1.3 .6-.4 .7-2.6-2.7-2.7 1.7 3.3 5.7-.3 .6 .3 1.7 1.7-1 4-4 2.7-4 2.3-2.3 8.3-5.4 4-3.3 0-1-1-1zM840.8 438.5l-2.6 .3-6.4 2.4-6 3-11 8.3-2 2-10 7-2.6 2.3 .3 1 2 .4 5-1.7 6.3-3.3 4.7-3.4 6-3.3 9.7-7 4-3.7 2.6-3zM948.2 438.8l2.6 2.7 .4 1 4-.7 3.3-2.3-1.7-2.7-6 0zM900.2 418.2l-2.7-.4-.7 .7-2.3-3-5 2-2 5.7-8 9 .3 .3-.6 .7 .3 1 1 .6 4.7-1.6 5-3.4 7-6.3 2-2.3 1-2zM784.8 404.8l-1.3 0-1.3 .7-2.4 2-3 4.3-3.6 3.4-3 1.3-10 7.3-1.7 .7-.7 1 .4 1.3 3 .4 2.3-1 5.3-4.7 6.4-4.7 4.6-4.3 4.7-6.3zM879.8 397.2l-1.3-.7-2.7 0 0 2.7-1 2.3 5.7-3.3zM750.5 393.8l-.3-.3-3 .3-4.7 2-13 9.7-2.7 1.3-2.6 2.4 2.6 3-.3 .3-1-.3 .7 .6-.4 1-6.3 6.4-1.3-1.4 .6 1 0 1.7 .4 .3 2.6-.3 4.7-2.3 3-2.4 6.7-6.6 12.3-8.4 2.7-3.3 0-1.3-.7-.7zM843.5 392.2l-2-.4-3.7 1.4-.6-.4-.4 .7-1-1-1-2.3-2 5-5.3 4.6-4.7 6-3.6 3.7-12.7 8.7-4.7 4.6-1.6 3.4-4 1.6-4.4 4-2 3.7-5.6 6.3 0 1.4 2 .3 2.6-1 2-2 2-3.7 3-3.3 7-6 3.4-1.3 4.3-3 13-12 9.3-6.7 9.4-10zM827.5 367.8l-1.7-1-6.6 0-2 1.4-.4 .6 2.4 2.4 0 .6-2 2-1-.3 .3 .3-.3 1-3-2.6-4 3.3-2.4 6.7-2.3 1.6-2.7 3.7-2 1.3-.6 1-1.7 .7-.7 1-5.3 3.7-1.3 2.3 .3 1 1.3-.3 10-6.4 6.4-6 9.6-5.3 8.7-7.3 3.3-1.7z"/>
<path fill="#f5e31e" d="M871.2 504.5l-4.4 1-5 2.7-5.3 5.3-2 2.7-6 5.3 5.3-3.3 1.4 0 .6 1 1.4 0 3.3-2.7 1.7-.7 .6-1-.3-1.3 .3-2 3-3 4-1.7 1.4-1.6zM767.2 490.2l-2.7 .6-4 2-1.7 1.7-2.6 1.7-.7 1-4.7 3-3 1.3-1.3 1.3 .3-.3 1.4 .3 1 1.7 6.6-5.7 8-3.6 2.7-2 1-1.7zM792.2 471.5l-2-.3-3.7 3-1 2 0 1 1.3 .3 2.7-1.7 2.3-2.6zM695.8 470.8l-.3-.6-4.3 .3-2.4 1.3 1.4-.6 .6 .3 2 3 2.7-2.3zM763.5 462.5l-2.3 .7-2 1.6-7.7 3.7-5.7 1.3-6.3 3-6.3 4.4-5.4 2.6-7.3 5-3.3 1.7 1 0 1.6 2.3 1.4-.6 5-4.4 4-2.6 3.3-1.7 8-2.7 5.7-3.3 9.6-4.3 2.7-2 3.3-3.4zM725.5 453.5l-1-.3-1 .6-2.7 .4-5 2.3-9.6 8 0 1.3 .6 .7 1.4-.3 10.3-5.7 4.7-3.3 2.3-2.4zM900.8 446.8l-1.3-.3-1 1-1.7 .3-.6 .7-4.4 1.7-2.3 1.6-9.7 9-8.3 5-11.7 11-5.3 3.7-5.7 5.7-2.6 1.3-7.7 .3-1.7-.6-3.6-.4-5.4 1.7-3 1.7-1.6-1-.4-2 .7-1 0-1 .7-.4 .3-.6-.3-.4 .6-.6 .4 .3 0-1 1-.7 5.3-7.6 0-2-3.3 1.6-3 .7-10.7 4.3-3.3 2.4-4.4 4.3-7.6 9-7 7-2.7 2-4.7 2-4.3 .3-4.7 1.4-1.3 1.3-2.3 7.3 7-3.3 .6 1.3 .4 2.7 1.6 2.7-1 5.3 .7 0 3.3-2 .7-1 .3-2.7 1-2.3 2.4-2.3 .6-1.4 1.4-.3 2.3-3.3 2.7-1 2.3-3.7 2.3-.3 1.7-3.4 2.7-.6 3.3-2.7 .7-1.3 1.3-1 1.3 0 .7-.7 1.3 0 1.4-.7 2.6 0 1.7 .7 2 3.3-.3 .4 .3 .3-.3 3.3-5.4 5.7-7 9.7-3.6 2-2.7 .6-4.7 0-3 .7-1.3 .7-2.7 3-2 1 1.4 3 2-.4-1.7-3.3 1.7-1 3-.7 .3 1.4-2 3 1.3 4 4-1.4 5.4-5.6 3.6-2.7 5.7-2 4.3-2.7 4.7-4 6.3-7 12.7-8 6.7-7 14.6-13.3 6.7-4.7 9.3-5.3 3-3 1.4-2.3 2.6-3 10-6.4 3.7-3.3zM869.8 441.5l-3.6 1-3.4 1.7-4.6 3.3-5.4 5.3-2.3 3-9 6.7-3.3 3.3 0 .7 1.3 0 1.3-.7 8-6 13.4-8.3 6.3-6 1.3-2zM836.8 439.8l-1.3 0-3.7 1.4-6 3-11 8.3-2 2-7 5 0 1 .4 .3 3-.3 3.3-1.7 7.3-5 7.7-4 4.3-3.3 4.7-4.7zM951.2 436.8l1 2.4 1 1 2-.4 2.6-1.3-1-1.7zM897.8 418.8l-.6-.3-.7 .3-.7-.6-.3 1-1-1-.7-2.4-4.3 1.7-2 5.7-6.3 6.6-.4 2 .7 .7 1.3 0 6.4-3.3 7-6.4 2-3zM745.8 394.2l-3.3 1.6-2 1.7 1.7 3.3-.7 .7-.3-.3 0 .6-2.7 3 .3 .4 2.7-.7 6.7-4.7 .6-1.3-2-2zM838.5 394.5l-.3-.3-3.4 .3-1.3-1.3-.7 2-5 4.3-3 4.7-3 3.3-4 3.3-8.6 5.4-4.4 3.6-.3 .7 .3 2 .4 .3 2.6-.3 4.4-2.7 9.3-9.3 8-5.3 3.7-3 2-2.4zM827.5 367.8l-1.7-1-6.6 0-.7 .7 1.7 2.7 0 1-2 2-.4-.4-1 1.7-.3-.3-1 1.3-3-2.7-.3 .4 2.6 2.6-.6 1-1.4-1.3 .7 1-.3 1-2.7-2.7 1.7 2.7-1 2.7 1.6 0 3-1 5.7-3.7 6.7-6.3z"/>
<path fill="#f6f213" d="M805.5 520.2l-1.3-.7-8.4 .7-2.3 1-3.3 3.6 .6 .7-.3-.3 .3-1 4-1.7 .7 .7 0 1-2 3 .7 2 4-.4 6.6-7zM868.8 505.2l-3.6 1-3.4 2-8.6 9 1.6-.7 1-1.3 7.4-5.4 4.3-2 1-1zM764.2 491.2l-3.7 1.6-1.7 1.7 2 0 2-1 1.4-1.3zM722.2 483.5l-1.7 1.3-1.3 .4-1 1.3 .3 .3 1.7-.3 1.3-1.3zM848.5 486.5l-3.7 1.3-6.3 0-1.7-.6-3.6-.4-5.4 1.7-3 1.7-2.6-2 .3-1-.3-.7 .3-.3 .3 .3-.3-.7 .3-.3 .4 .3-.4-.3 1-1.3-.3-.4 1-2 .7-.3 .6-1.7 2.7-3.3 .7-1.3 0-2-6.7 2.3-1.7 1-5 1.7-4.6 3-4.4 4.3-7.6 9-7 7-2.7 2-4.7 2-4.3 .3-4.7 1.4-1.3 1.3-1.3 3.3-.4 2.7-.6 1 2-.7 2.3-2 2-1 1 1 .7 3.7 1.6 2.7-1 5 3-3 1-3.4 1.7-2.6 3-2.7 2-2.7 1.3-.3 3.4-4 2.6-1 1-2.3 1-1 2-.4 1.4-2.3 2-2 7.3-3.7 4.3-.6 2 .6 1.4 1.4 1 2.6 0 2.4-.7 2.3-5.7 6-3.3 4.3-1 2.7-2.7 2.7-.3 1 .3 .6 5-1.3 4.4-2.7 3-2.6 8-8.4 10.3-6 8.3-8.6 1-1.7zM745.5 470.8l-.7-.3-5.3 2.3-3.7 2.4-.6 1 2.3 0 6.3-2.7 1.7-1.7zM693.8 470.2l-2.6 .3-1.4 .7 .7 0 1.3 1.6 1.7-1.3zM722.5 454.2l-.3-.4-2.4 .7-4 2-6.3 5.3 2 .4 5.3-2.7 3.7-2.3 1.7-1.7zM897.2 447.8l-5.4 2.4-3.6 2.6-8.4 8-3.3 1.7-2 1.7-.7 0-4.3 3.3-3.7 3.3-.3 1.4 .7 .3 12.6-7 1.7-2 1.3-3 1.4-1.7 10.6-6.3 3-3zM867.8 442.2l-1.6 .3-3.4 1.7-4.6 3.3-2.7 2.7-1 2.3 0 1.3 1.7-.3 6.6-4.3 4.7-5zM832.5 441.8l-1.3-.3-5.4 2.7-11 8.3-1 2 1.7-.3 11.7-6 5-4.4 .6-1zM893.8 415.8l-4.6 2-1.7 5.4-5 5.3 0 1.3 .7 .7 5.6-2.7 6.7-6.3 .7-2-1.7-1.3zM816.2 412.8l-.4-.3-1.3 .3-5.3 3.4-2 1.6-.4 1 .4 .7 1.3 .3 2.7-1.3 4.3-4zM833.8 396.8l-2.3 .7-3 3-1.3 2.3 0 1 2.6-1.3 3-3 1-1.7z"/></g></g></g>
</g>
<g id="pe">
<path d="M420.7 833.0L278.4 938.8L109.5 848.7L109.5 798.3M278.4 938.8L274.1 942.0M278.4 938.8L282.8 941.2M225.6 910.6L221.3 913.9M322.9 905.7L327.3 908.1M172.8 882.5L168.5 885.7M367.3 872.7L371.7 875.0M120.1 854.3L115.7 857.6M411.8 839.6L416.2 842.0M109.5 798.3L104.7 795.8M109.5 823.5L104.7 821.0M109.5 848.7L104.7 846.2" fill="none" stroke="#262626" stroke-width=".75"/>
<g font-size="17.3" fill="#262626"><text x="269.9" y="962.0" text-anchor="end">0</text><text x="287.4" y="960.5">0</text><text x="217.1" y="933.8" text-anchor="end">200</text><text x="331.9" y="927.4">200</text><text x="164.3" y="905.7" text-anchor="end">400</text><text x="376.3" y="894.4">400</text><text x="111.6" y="877.5" text-anchor="end">600</text><text x="420.8" y="861.3">600</text><text x="99.5" y="800.9" text-anchor="end">1</text><text x="99.5" y="826.1" text-anchor="end">0</text><text x="99.5" y="851.3" text-anchor="end">-1</text><text x="141.2" y="958.5" text-anchor="middle">Length (µm)</text><text x="409.3" y="954.8" text-anchor="middle">Length (µm)</text><text transform="translate(77.5 823.5) rotate(-90)" text-anchor="middle">Amplitude (µm)</text></g>
<text x="258.8" y="1008.5" text-anchor="middle" font-size="20" fill="#000">(<tspan font-weight="bold">e</tspan>)</text>
<g fill-rule="evenodd"><clipPath id="ke"><path clip-rule="evenodd" d="M253.5 713.2l-8.3 8.3-4 2.7-.7 1-4 3-13 13.6-5 3.4-.7 1-4 3-19.6 19.3-7 4.7-.7 1-1 .3-4.7 4.7-1 .3-1.6 1.7-6 3.3-7.4 7-4 2.7-.6 1-3.7 2.3-1.3 .3-1.7 1.7-7.7 5-6 6.3-3 4.7-5.6 7.3-3 2.7-4 2.7-2 .6-2 1.7 1.6 .3 3.4 1.7 4 .7 4.3 1.6 6 4 3.3 3 1.7 .7 .7 1 2.3 1 1.3 1.3 3.7 2 1 0 2.3 1.4 2.7 .6 2 1.4 2.3 .6 4.4 3.4 7.3 4.3 1 0 10 5 5.3 1.3 5 2 2 1.7 1.7 .7 .7 1 1.6 .6 2.7 2.4 16.7 8.3 1 1 3 1.3 5 3.4 4.3 2 8.3 2.3 4.4 2.3 8.6 7 7.4 4.4 1 0 2.3 1.3 2.7 .7 1.3 1 3 .6 5.3 2.7 4.4-3 5-2 2.6-2 2.4-1 3.6-2.7 5-5 2-2.6 5-4.7 6.7-4 1 0 1.7-1.3 1.3-.4 1.7-1.3 1 0 3-2 6.3-6 10.7-6.3 5.3-5 5-3.7 5-5 4.3-7.7 3.7-8.3 1-1 6.3 1.3 6.4 2.4 4.6-.4 8.4-3 2.6-1.6 1 0 7.7-5 .7-1 5-3.7 2.6-3-5.3-.3-2.3-.7-3.4-1.7-3-2.3-10.6-11.3-8-10-1.7-3-6.3-8.4-4.7-4.3-2.7-1-4.3 0-6 2.3-4 0-3.7-1.6-3-2-4.3-4-.3-1-3-3.4-1.7-3-2.7-3.3-3-3-1.6-1-4 0-1 .7-6.7 2-6 0-4-1.4-4.3-2.3-3-2.7-3-3.6-4-7-.4-1.7-3.3-6.3-1.3-3.7-2.7-4.3-1.7-1.7-2.6-.3-1.4 .6-7.3 10.4-2.3 2.3-2.7-4.7-.3-2.3-4.4-12.3-3-5.7z"/></clipPath><filter id="keb"><feGaussianBlur stdDeviation="1"/></filter><g clip-path="url(#ke)"><g filter="url(#keb)"><path fill="#363093" d="M248.8 711.2l-58 54-34 26.6-14.3 9.4-14.7 18.3-9.6 6.7 0 8 12 4 15.3 11 14 6 11.7 7.6 21.3 8.4 8.7 6.3 25.6 14 14 5 19 13 13.7 5.3 10 0 13-7 15.7-15 16.3-9 27.3-21 5-5 8-15.6 7 2.3 9.4 0 14-5 14.6-11 0-8.3-6.3-1-6.3-4-31.4-37-20.6-.4-7.4-6-12.3-14.6-10.7 0-8 2.3-6.3-2.7-7-7-13.3-24.6-9.4-.4-7 7.7-7.6-19.3-2-2z"/>
<path fill="#353dac" d="M253.5 803.2l.3 1-.3 1-1.3 1.3-4.4 1.7-2.6-.4-1.4-2.3 .4-1 2-2 2.3-1 2.3 0 1.7 .7zM248.8 711.2l-7 7-4 2.6-.6 1-4 3-13 13.7-5 3.3-.7 1-4 3-19.7 19.4-7 4.6-.6 1-1 .4-4.7 4.6-1 .4-1.7 1.6-6 3.4-7.3 7-4 2.6-.7 1-3.6 2.4-1.4 .3-1.6 1.7-7.7 5-6 6.3-3 4.7-5.7 7.3-3 2.7-6.6 4 0 8 1.6 1 6 1.3 4.4 1.7 6 4 3.3 3 1.7 .6 .6 1 2.4 1 1.3 1.4 3.7 2 1 0 2.3 1.3 2.7 .7 2 1.3 2.3 .7 4.3 3.3 7.4 4.3 1 0 10 5 5.3 1.4 5 2 2 1.6 1.7 .7 .6 1 1.7 .7 2.7 2.3 16.6 8.3 1 1 3 1.4 5 3.3 4.4 2 5.3 1.3 4.3 1.7 3 1.7 8.7 7 7.3 4.3 1 0 2.4 1.3 2.6 .7 1.4 1 3 .7 3.3 1.6 10 0 3-2 5-2 2.7-2 2.3-1 3.7-2.6 5-5 2-2.7 5-4.7 6.6-4 1 0 1.7-1.3 1.3-.3 1.7-1.4 1 0 3-2 6.3-6 10.7-6.3 5.3-5 5-3.7 5-5 4.4-7.6 1.3-3.7 2.3-4.3 7 2.3 9.4 0 7-2 6-3 1 0 7.6-5 .7-1 1.3-.7 5-4.3 0-8.3-6.3-1-3.3-1.7-3-2.3-10.7-11.4-8-10-1.7-3-6.3-8.3-4.7-4.3-2.6-1-11 0-1 .6-4 1-5-3-4.4-4-.3-1-3-3.3-1.7-3-2.6-3.3-3-3-1.7-1-10.7 0-6 2.3-2 0-6.3-2.7-2.3-1.6-4.7-5.4-4-7-.3-1.6-3.4-6.4-1.3-3.6-2.7-4.4-2.3-2-8.7 0-2.3 1.7-3.3 5-1.4 1-3.6-10-.4-2-3.6-7.3-2-2z"/>
<path fill="#2c4ac6" d="M257.2 801.2l.3 1-.3 2.6-1.4 1.4-4.3 2-2 .3-3.7-.3-4.3-1.7 0-2.7 .7-1.3 3-2.7 2-1 2.3-.6 3.7 0 1.6 .6zM248.8 711.2l-7 7-4 2.6-.6 1-4 3-13 13.7-5 3.3-.7 1-4 3-19.7 19.4-7 4.6-.6 1-1 .4-4.7 4.6-1 .4-1.7 1.6-6 3.4-7.3 7-4 2.6-.7 1-3.6 2.4-1.4 .3-1.6 1.7-7.7 5-6 6.3-3 4.7-5.7 7.3-3 2.7-6.6 4 0 8 1.6 1 6 1.3 4.4 1.7 6 4 3.3 3 1.7 .6 .6 1 2.4 1 1.3 1.4 3.7 2 1 0 2.3 1.3 2.7 .7 2 1.3 2.3 .7 4.3 3.3 7.4 4.3 1 0 10 5 5.3 1.4 5 2 2 1.6 1.7 .7 .6 1 1.7 .7 2.7 2.3 16.6 8.3 1 1 3 1.4 5 3.3 4.4 2 5.3 1.3 4.3 1.7 3 1.7 8.7 7 7.3 4.3 1 0 2.4 1.3 2.6 .7 1.4 1 3 .7 3.3 1.6 10 0 3-2 5-2 2.7-2 2.3-1 3.7-2.6 5-5 2-2.7 5-4.7 6.6-4 1 0 1.7-1.3 1.3-.3 1.7-1.4 1 0 3-2 6.3-6 10.7-6.3 5.3-5 5-3.7 5-5 4.4-7.6 1.3-3.7 2.3-4.3 7 2.3 9.4 0 7-2 6-3 1 0 7.6-5 .7-1 1.3-.7 5-4.3 0-8.3-6.3-1-3.3-1.7-3-2.3-10.7-11.4-8-10-1.7-3-6.3-8.3-4.7-4.3-2.6-1-11 0-1 .6-4 1-5-3-4.4-4-.3-1-3-3.3-1.7-3-2.6-3.3-3-3-1.7-1-10.7 0-6 2.3-2 0-6.3-2.7-2.3-1.6-4.7-5.4-4-7-.3-1.6-3.4-6.4-1.3-3.6-2.7-4.4-2.3-2-8.7 0-2.3 1.7-3.3 5-1.4 1-3.6-10-.4-2-3.6-7.3-2-2z"/>
<path fill="#115bdc" d="M261.2 801.8l-.4 2.4-1 1.3-2.6 1.7-3.7 1-3 .3-4.7-.3-4-1.4-2.3-1.6 .3-2.7 .7-1.3 3-3 3.7-2 3.3-1 5-.4 2.7 1 1.3 1.7zM269.2 783.5l1 1.3 0 1.7-1 2-1.4 1.3-2 1-3 0-1-.6-.6-1 0-2.4 1.6-2.6 2.7-1.4 2.3 0zM248.8 711.2l-7 7-4 2.6-.6 1-4 3-13 13.7-5 3.3-.7 1-4 3-19.7 19.4-7 4.6-.6 1-1 .4-4.7 4.6-1 .4-1.7 1.6-6 3.4-7.3 7-4 2.6-.7 1-3.6 2.4-1.4 .3-1.6 1.7-7.7 5-6 6.3-3 4.7-5.7 7.3-3 2.7-6.6 4 0 8 1.6 1 6 1.3 4.4 1.7 6 4 3.3 3 1.7 .6 .6 1 2.4 1 1.3 1.4 3.7 2 1 0 2.3 1.3 2.7 .7 2 1.3 2.3 .7 4.3 3.3 7.4 4.3 1 0 10 5 5.3 1.4 5 2 2 1.6 1.7 .7 .6 1 1.7 .7 2.7 2.3 16.6 8.3 1 1 3 1.4 5 3.3 4.4 2 5.3 1.3 4.3 1.7 3 1.7 8.7 7 7.3 4.3 1 0 2.4 1.3 2.6 .7 1.4 1 3 .7 3.3 1.6 10 0 3-2 5-2 2.7-2 2.3-1 3.7-2.6 5-5 2-2.7 5-4.7 6.6-4 1 0 1.7-1.3 1.3-.3 1.7-1.4 1 0 3-2 6.3-6 10.7-6.3 5.3-5 5-3.7 5-5 4.4-7.6 1.3-3.7 2.3-4.3 7 2.3 9.4 0 7-2 6-3 1 0 7.6-5 .7-1 1.3-.7 5-4.3 0-8.3-6.3-1-3.3-1.7-3-2.3-10.7-11.4-8-10-1.7-3-6.3-8.3-4.7-4.3-2.6-1-11 0-1 .6-4 1-5-3-4.4-4-.3-1-3-3.3-1.7-3-2.6-3.3-3-3-1.7-1-10.7 0-6 2.3-2 0-6.3-2.7-2.3-1.6-4.7-5.4-4-7-.3-1.6-3.4-6.4-1.3-3.6-2.7-4.4-2.3-2-8.7 0-2.3 1.7-3.3 5-1.4 1-3.6-10-.4-2-3.6-7.3-2-2z"/>
<path fill="#0267e1" d="M271.8 782.5l.4 3-1 2.3-3 3.4-3.4 2.3-1 1.3-.3 1.4 .7 5-.4 2-1.6 2.6-1.7 1.4-3.7 1-8.6 .3-6.4-1.7-4-2.6 1-4 3-3.4 5.4-3.3 6-1.7 3-1.3 1.3-1.3 2.7-5.7 2.6-2.3 2.7-1 3 0 2.3 1zM248.8 711.2l-7 7-4 2.6-.6 1-4 3-13 13.7-5 3.3-.7 1-4 3-19.7 19.4-7 4.6-.6 1-1 .4-4.7 4.6-1 .4-1.7 1.6-6 3.4-7.3 7-4 2.6-.7 1-3.6 2.4-1.4 .3-1.6 1.7-7.7 5-6 6.3-3 4.7-5.7 7.3-3 2.7-6.6 4 0 8 1.6 1 6 1.3 4.4 1.7 6 4 3.3 3 1.7 .6 .6 1 2.4 1 1.3 1.4 3.7 2 1 0 2.3 1.3 2.7 .7 2 1.3 2.3 .7 4.3 3.3 7.4 4.3 1 0 10 5 5.3 1.4 5 2 2 1.6 1.7 .7 .6 1 1.7 .7 2.7 2.3 16.6 8.3 1 1 3 1.4 5 3.3 4.4 2 5.3 1.3 4.3 1.7 3 1.7 8.7 7 7.3 4.3 1 0 2.4 1.3 2.6 .7 1.4 1 3 .7 3.3 1.6 10 0 3-2 5-2 2.7-2 2.3-1 3.7-2.6 5-5 2-2.7 5-4.7 6.6-4 1 0 1.7-1.3 1.3-.3 1.7-1.4 1 0 3-2 6.3-6 10.7-6.3 5.3-5 5-3.7 5-5 4.4-7.6 1.3-3.7 2.3-4.3 7 2.3 9.4 0 7-2 6-3 1 0 7.6-5 .7-1 1.3-.7 5-4.3 0-8.3-6.3-1-3.3-1.7-3-2.3-10.7-11.4-8-10-1.7-3-6.3-8.3-4.7-4.3-2.6-1-11 0-1 .6-4 1-5-3-4.4-4-.3-1-3-3.3-1.7-3-2.6-3.3-3-3-1.7-1-10.7 0-6 2.3-2 0-6.3-2.7-2.3-1.6-4.7-5.4-4-7-.3-1.6-3.4-6.4-1.3-3.6-2.7-4.4-2.3-2-8.7 0-2.3 1.7-3.3 5-1.4 1-3.6-10-.4-2-3.6-7.3-2-2z"/>
<path fill="#0870df" d="M400.2 825.2l-.4 1.3-2.3 2.3-2 1-3.3 .4-1.4-.7-.6-1 .3-1 1.7-1.7 3-1.6 4-.4zM273.2 780.2l.6 1.3-.3 4-1.3 2.7-5 6-.7 1.6-.3 6.7-1.4 2.3-2 2-6 1.4-8.6 .3-6.4-1.7-5.3-3.3 .7-4 1.3-2 3-3 3.3-2.3 5-2.4 1.7-.3 3.3-2 3.7-5.3 4-3.4 3-1 3.7 0 2.6 1zM248.8 711.2l-7 7-4 2.6-.6 1-4 3-13 13.7-5 3.3-.7 1-4 3-19.7 19.4-7 4.6-.6 1-1 .4-4.7 4.6-1 .4-1.7 1.6-6 3.4-7.3 7-4 2.6-.7 1-3.6 2.4-1.4 .3-1.6 1.7-7.7 5-6 6.3-3 4.7-5.7 7.3-3 2.7-6.6 4 0 8 1.6 1 6 1.3 4.4 1.7 6 4 3.3 3 1.7 .6 .6 1 2.4 1 1.3 1.4 3.7 2 1 0 2.3 1.3 2.7 .7 2 1.3 2.3 .7 4.3 3.3 7.4 4.3 1 0 10 5 5.3 1.4 5 2 2 1.6 1.7 .7 .6 1 1.7 .7 2.7 2.3 16.6 8.3 1 1 3 1.4 5 3.3 4.4 2 5.3 1.3 4.3 1.7 3 1.7 8.7 7 7.3 4.3 1 0 2.4 1.3 2.6 .7 1.4 1 3 .7 3.3 1.6 10 0 3-2 5-2 2.7-2 2.3-1 3.7-2.6 5-5 2-2.7 5-4.7 6.6-4 1 0 1.7-1.3 1.3-.3 1.7-1.4 1 0 3-2 6.3-6 10.7-6.3 5.3-5 5-3.7 5-5 4.4-7.6 1.3-3.7 2.3-4.3 7 2.3 9.4 0 7-2 6-3 1 0 7.6-5 .7-1 1.3-.7 5-4.3 0-8.3-6.3-1-3.3-1.7-3-2.3-10.7-11.4-8-10-1.7-3-6.3-8.3-4.7-4.3-2.6-1-11 0-1 .6-4 1-5-3-4.4-4-.3-1-3-3.3-1.7-3-2.6-3.3-3-3-1.7-1-10.7 0-6 2.3-2 0-6.3-2.7-2.3-1.6-4.7-5.4-4-7-.3-1.6-3.4-6.4-1.3-3.6-2.7-4.4-2.3-2-8.7 0-2.3 1.7-3.3 5-1.4 1-3.6-10-.4-2-3.6-7.3-2-2z"/>
<path fill="#0f78db" d="M274.8 778.5l.7 1.7-.3 4-1 2.3-4 5.7-1.4 2.6-.3 5.4-.7 2.3-3 3.7-8 2-8.6 .3-6.4-1.7-5-3-1.6-2 .3-2.3 1-2.3 5.3-5.7 11.4-6 4.6-5.7 3.4-2.6 3-1.4 6.6 0 2 .7zM248.8 711.2l-7 7-4 2.6-.6 1-4 3-13 13.7-5 3.3-.7 1-4 3-19.7 19.4-7 4.6-.6 1-1 .4-4.7 4.6-1 .4-1.7 1.6-6 3.4-7.3 7-4 2.6-.7 1-3.6 2.4-1.4 .3-1.6 1.7-7.7 5-6 6.3-3 4.7-5.7 7.3-3 2.7-6.6 4 0 8 1.6 1 6 1.3 4.4 1.7 6 4 3.3 3 1.7 .6 .6 1 2.4 1 1.3 1.4 3.7 2 1 0 2.3 1.3 2.7 .7 2 1.3 2.3 .7 4.3 3.3 7.4 4.3 1 0 10 5 5.3 1.4 5 2 2 1.6 1.7 .7 .6 1 1.7 .7 2.7 2.3 16.6 8.3 1 1 3 1.4 5 3.3 4.4 2 5.3 1.3 4.3 1.7 3 1.7 8.7 7 7.3 4.3 1 0 2.4 1.3 2.6 .7 1.4 1 3 .7 3.3 1.6 10 0 3-2 5-2 2.7-2 2.3-1 3.7-2.6 5-5 2-2.7 5-4.7 6.6-4 1 0 1.7-1.3 1.3-.3 1.7-1.4 1 0 3-2 6.3-6 10.7-6.3 5.3-5 5-3.7 5-5 4.4-7.6 1.3-3.7 2.3-4.3 7 2.3 9.4 0 7-2 6-3 1 0 7.6-5 .7-1 1.3-.7 5-4.3 0-8.3-4-.4-3.3-1-1 5.4-1 2-3.7 3.6-4.6 2.7-3.7 1-2.7 0-3.6-1.3-3-3-.4-1 .4-2 2.3-2.4 6-3 6.7-2 3.3-3.6-5-4.7-6-6.7-8-10-5.3-8-5-5.6-2.4-2-2.6-1-11 0-4 1.6-1 0-5-3-4.4-4-.3-1-3-3.3-1.7-3-2.6-3.3-3-3-1.7-1-10.7 0-6 2.3-2 0-6.3-2.7-2.3-1.6-4.7-5.4-4-7-.3-1.6-3.4-6.4-1.3-3.6-2.7-4.4-2.3-2-8.7 0-2.3 1.7-3.3 5-1.4 1-3.6-10-.4-2-3.6-7.3-2-2z"/>
<path fill="#1480d6" d="M276.5 776.5l.7 3.7-1 4-5.4 9.6-1 7.4-1.3 2.3-2 2-3.3 1.3-6.4 1.4-8.6 .3-6.4-1.7-5-3-3-2.6 1-4.7 4.4-5.3 5-3.7 7.6-4 8-8 4-1.7 7-.3 4 1.3zM248.8 711.2l-7 7-4 2.6-.6 1-4 3-13 13.7-5 3.3-.7 1-4 3-19.7 19.4-7 4.6-.6 1-1 .4-4.7 4.6-1 .4-1.7 1.6-6 3.4-7.3 7-4 2.6-.7 1-3.6 2.4-1.4 .3-1.6 1.7-7.7 5-6 6.3-3 4.7-5.7 7.3-3 2.7-6.6 4 0 8 1.6 1 6 1.3 4.4 1.7 6 4 3.3 3 1.7 .6 .6 1 2.4 1 1.3 1.4 3.7 2 1 0 2.3 1.3 2.7 .7 2 1.3 2.3 .7 4.3 3.3 7.4 4.3 1 0 10 5 5.3 1.4 5 2 2 1.6 1.7 .7 .6 1 1.7 .7 2.7 2.3 16.6 8.3 1 1 3 1.4 5 3.3 4.4 2 5.3 1.3 4.3 1.7 3 1.7 8.7 7 7.3 4.3 1 0 2.4 1.3 2.6 .7 1.4 1 3 .7 3.3 1.6 10 0 3-2 5-2 2.7-2 2.3-1 3.7-2.6 5-5 2-2.7 5-4.7 6.6-4 1 0 1.7-1.3 1.3-.3 1.7-1.4 1 0 3-2 6.3-6 10.7-6.3 5.3-5 5-3.7 5-5 4.4-7.6 1.3-3.7 2.3-4.3 7 2.3 9.4 0 7-2 6-3 1 0 7.6-5 .7-1 1.3-.7 5-4.3 0-8.3-5-.7 0 3.7-1.6 3.3-4.4 4.3-3.6 2.4-6 2-5.4 0-4-1.7-4-3.7-1-2 0-2.6 1-1.7 4.7-3.3 7-3 3.7-1 3.3-3.7-12.7-14.3-.3-1-3-3.4-5.3-8-5-5.6-2.4-2-2.6-1-11 0-4 1.6-1 0-5-3-4.4-4-.3-1-3-3.3-1.7-3-2.6-3.3-3-3-1.7-1-10.7 0-6 2.3-2 0-6.3-2.7-2.3-1.6-4.7-5.4-4-7-.3-1.6-3.4-6.4-1.3-3.6-2.7-4.4-2.3-2-8.7 0-2.3 1.7-3.3 5-1.4 1-3.6-10-.4-2-3.6-7.3-2-2z"/>
<path fill="#1288d3" d="M278.2 774.5l.6 2.3-.6 4.7-5.7 11.3-1 7.4-1.7 3-3.3 2.6-6 1.7-6.3 1-8.4-.3-4-1.4-2.3-1.3-7-5.3 .3-3 1.4-3 1.6-2.4 4.4-4.3 11-6.3 5.3-5.7 4-2.7 3-1 6-.6 6 1 1.3 .6zM248.8 711.2l-7 7-4 2.6-.6 1-4 3-13 13.7-5 3.3-.7 1-4 3-19.7 19.4-7 4.6-.6 1-1 .4-4.7 4.6-1 .4-1.7 1.6-6 3.4-7.3 7-4 2.6-.7 1-3.6 2.4-1.4 .3-1.6 1.7-7.7 5-6 6.3-3 4.7-5.7 7.3-3 2.7-6.6 4 0 8 1.6 1 6 1.3 4.4 1.7 6 4 3.3 3 1.7 .6 .6 1 2.4 1 1.3 1.4 3.7 2 1 0 2.3 1.3 2.7 .7 2 1.3 2.3 .7 4.3 3.3 7.4 4.3 1 0 10 5 5.3 1.4 5 2 2 1.6 1.7 .7 .6 1 1.7 .7 2.7 2.3 16.6 8.3 1 1 3 1.4 5 3.3 4.4 2 5.3 1.3 4.3 1.7 3 1.7 8.7 7 7.3 4.3 1 0 2.4 1.3 2.6 .7 1.4 1 3 .7 3.3 1.6 10 0 3-2 5-2 2.7-2 2.3-1 3.7-2.6 5-5 2-2.7 5-4.7 6.6-4 1 0 1.7-1.3 1.3-.3 1.7-1.4 1 0 3-2 6.3-6 10.7-6.3 5.3-5 5-3.7 5-5 4.4-7.6 1.3-3.7 2.3-4.3 7 2.3 9.4 0 7-2 4.3-2-1.7-4-3 .3-5.6-.3-3-1-2.7-1.7-3.7-4-1.3-3 0-2.3 1.7-3 4.3-3.3 6.7-3 5.6-1.7 3.4-2.3-11.4-13-.3-1-3-3.4-1.7-3-6.3-8.3-4.7-4.3-2.6-1-11 0-1 .6-4 1-5-3-4.4-4-.3-1-3-3.3-1.7-3-2.6-3.3-3-3-1.7-1-10.7 0-6 2.3-2 0-6.3-2.7-2.3-1.6-4.7-5.4-4-7-.3-1.6-3.4-6.4-1.3-3.6-2.7-4.4-2.3-2-8.7 0-2.3 1.7-3.3 5-1.4 1-3.6-10-.4-2-3.6-7.3-2-2z"/>
<path fill="#0792d2" d="M335.8 795.5l1.7 2 0 1.7-4 8.3-5.3-.3-5 2.6-2.4-1.3-1.6-1.7-.4-2 .7-1.6 2-3 3.3-3.4 4-2 5.4 0zM280.5 772.5l0 4.3-.7 2.7-5.3 11-1.7 9.7-1.3 2.3-2.3 2-2.7 1.3-9.3 2.4-9.7 .3-5.7-1.7-5-3-5.3-4.3 .3-4.7 3.7-5.6 4.3-4 9.4-5.4 9-8 2.6-1.3 4.4-1 8.3-.3 4.7 1zM248.8 711.2l-7 7-4 2.6-.6 1-4 3-13 13.7-5 3.3-.7 1-4 3-19.7 19.4-7 4.6-.6 1-1 .4-4.7 4.6-1 .4-1.7 1.6-6 3.4-7.3 7-4 2.6-.7 1-3.6 2.4-1.4 .3-1.6 1.7-7.7 5-6 6.3-3 4.7-5.7 7.3-3 2.7-6.6 4 0 8 1.6 1 6 1.3 4.4 1.7 6 4 3.3 3 1.7 .6 .6 1 2.4 1 1.3 1.4 3.7 2 1 0 2.3 1.3 2.7 .7 2 1.3 2.3 .7 4.3 3.3 7.4 4.3 1 0 10 5 5.3 1.4 5 2 2 1.6 1.7 .7 .6 1 1.7 .7 2.7 2.3 16.6 8.3 1 1 3 1.4 5 3.3 4.4 2 5.3 1.3 4.3 1.7 3 1.7 8.7 7 7.3 4.3 1 0 2.4 1.3 2.6 .7 1.4 1 3 .7 3.3 1.6 10 0 3-2 5-2 2.7-2 2.3-1 3.7-2.6 5-5 2-2.7 5-4.7 6.6-4 1 0 1.7-1.3 1.3-.3 1.7-1.4 1 0 3-2 6.3-6 10.7-6.3 5.3-5 5-3.7 5-5 4.4-7.6 1.3-3.7 2.3-4.3 7 2.3 9.4 0 7-2 .3-.7-1.7-3.3-6.3-.7-2.3-.6-4.7-2.7-2.3-2.3-1.7-2.7-1-2.7 0-3.3 1.3-2.7 4.4-4 5-2.6 8-3 3-3.4-8.4-9.6-.3-1-3-3.4-1.7-3-6.3-8.3-4.7-4.3-2.6-1-11 0-1 .6-4 1-5-3-4.4-4-.3-1-3-3.3-1.7-3-2.6-3.3-3-3-1.7-1-10.7 0-6 2.3-2 0-6.3-2.7-2.3-1.6-4.7-5.4-4-7-.3-1.6-3.4-6.4-1.3-3.6-2.7-4.4-2.3-2-8.7 0-2.3 1.7-3.3 5-1.4 1-3.6-10-.4-2-3.6-7.3-2-2z"/>
<path fill="#019bd0" d="M340.2 794.2l.6 1.3 0 2-2.3 6.7-.7 3.3-1 1.3-4.3-1.6-4.3 0-3 1.3-3.4 2.3-5.6-2-2-2.3-.4-1 .4-1.7 2.6-3.6 6.7-6.7 2.7-1.3 4.6-1 3 0 4 1zM282.8 769.5l.4 3-1.7 5.3-5.7 12-.6 3-.4 6-1.3 2.7-2.7 2.3-5.3 2.4-8.3 2-6.7 .6-.3-.3-3.4 0-5-1.7-2.3-1.3-9.7-7.3 .4-4 4.3-7 4.3-4 9.7-5.7 4-3.3 1.7-2 3.3-2.4 5.3-2 7.7-1 .3 .4 3-.4 6 .7 1.7 .7zM248.8 711.2l-7 7-4 2.6-.6 1-4 3-13 13.7-5 3.3-.7 1-4 3-19.7 19.4-7 4.6-.6 1-1 .4-4.7 4.6-1 .4-1.7 1.6-6 3.4-7.3 7-4 2.6-.7 1-3.6 2.4-1.4 .3-1.6 1.7-7.7 5-6 6.3-3 4.7-5.7 7.3-3 2.7-6.6 4 0 8 1.6 1 6 1.3 4.4 1.7 6 4 3.3 3 1.7 .6 .6 1 2.4 1 1.3 1.4 3.7 2 1 0 2.3 1.3 2.7 .7 2 1.3 2.3 .7 4.3 3.3 7.4 4.3 1 0 10 5 5.3 1.4 5 2 2 1.6 1.7 .7 .6 1 1.7 .7 2.7 2.3 16.6 8.3 1 1 3 1.4 5 3.3 4.4 2 5.3 1.3 4.3 1.7 3 1.7 8.7 7 7.3 4.3 1 0 2.4 1.3 2.6 .7 1.4 1 3 .7 3.3 1.6 10 0 3-2 5-2 2.7-2 2.3-1 3.7-2.6 5-5 2-2.7 5-4.7 6.6-4 1 0 1.7-1.3 1.3-.3 1.7-1.4 1 0 3-2 6.3-6 10.7-6.3 5.3-5 5-3.7 5-5 4.4-7.6 1.3-3.7 2.3-4.3 7 2.3 9.4 0 3.3-1-1.7-4-4.3-.7-5.3-2-2.4-1.3-3-2.7-1.6-3-1-3.3 0-4 1.6-3 5.4-4.7 7.6-4 5.4-2 3-3.3-9.7-11.7-1.7-3-6.3-8.3-4.7-4.3-2.6-1-11 0-1 .6-4 1-5-3-4.4-4-.3-1-3-3.3-1.7-3-2.6-3.3-3-3-1.7-1-10.7 0-6 2.3-2 0-6.3-2.7-2.3-1.6-4.7-5.4-4-7-.3-1.6-3.4-6.4-1.3-3.6-2.7-4.4-2.3-2-8.7 0-2.3 1.7-3.3 5-1.4 1-3.6-10-.4-2-3.6-7.3-2-2z"/>
<path fill="#00a2cb" d="M203.2 826.8l-.4 2-2.3 2-3 0-1.7-1.3 .4-2 2.3-1.7 3-.3zM342.5 791.8l.7 1.7 0 3-1.7 6.3 0 4.7-1.7 2.3-1 0-6.3-2.6-4.3 0-3 1.3-4 2.7-6.7-.4-2.7-1-2.3-2.6-.3-2.7 .6-1.7 11.7-11.3 2.7-1.7 3.3-1 8-.3 4 1zM286.8 767.8l-.3 2-7 13.4-2.3 6-.4 8.3-.6 2.3-3 3.4-4.4 2-8.3 2.3-7 1.3-7 0-3.7-1.3-6-3.7-8.3-6.6 0-4 4.7-7.7 3.6-3.7 11-6.6 7.7-6.7 4.3-2 4-1 4.7-.7 6.3 0 .4-.3 .3 .3 .7-.3 .3 .3 7 .4 1.7 .6zM248.8 711.2l-7 7-4 2.6-.6 1-4 3-13 13.7-5 3.3-.7 1-4 3-19.7 19.4-7 4.6-.6 1-1 .4-4.7 4.6-1 .4-1.7 1.6-6 3.4-7.3 7-4 2.6-.7 1-3.6 2.4-1.4 .3-1.6 1.7-7.7 5-6 6.3-3 4.7-5.7 7.3-3 2.7-6.6 4 0 8 1.6 1 6 1.3 4.4 1.7 6 4 3.3 3 1.7 .6 .6 1 2.4 1 1.3 1.4 3.7 2 1 0 2.3 1.3 2.7 .7 2 1.3 2.3 .7 4.3 3.3 7.4 4.3 1 0 10 5 5.3 1.4 5 2 2 1.6 1.7 .7 .6 1 1.7 .7 2.7 2.3 16.6 8.3 1 1 3 1.4 5 3.3 4.4 2 5.3 1.3 4.3 1.7 3 1.7 8.7 7 7.3 4.3 1 0 2.4 1.3 2.6 .7 1.4 1 3 .7 3.3 1.6 10 0 3-2 5-2 2.7-2 2.3-1 3.7-2.6 5-5 2-2.7 5-4.7 6.6-4 1 0 1.7-1.3 1.3-.3 1.7-1.4 1 0 3-2 6.3-6 10.7-6.3 5.3-5 5-3.7 5-5 4.4-7.6 1.3-3.7 2.3-4.3 7 2.3 9.4 0 .3-.3-1.3-3.7-12.4-4.3-3-2.4-1.3-1.6-1-2.4-1-5.6 0-3 1.3-2.4 3.7-3.3 7.7-5 8.6-3.7 3.4-3.6-7.7-9.4-1.7-3-6.3-8.3-4.7-4.3-2.6-1-11 0-1 .6-4 1-5-3-4.4-4-.3-1-3-3.3-1.7-3-2.6-3.3-3-3-1.7-1-10.7 0-6 2.3-2 0-6.3-2.7-2.3-1.6-4.7-5.4-4-7-.3-1.6-3.4-6.4-1.3-3.6-2.7-4.4-2.3-2-8.7 0-2.3 1.7-3.3 5-1.4 1-3.6-10-.4-2-3.6-7.3-2-2z"/>
<path fill="#00a8c4" d="M206.8 823.8l.4 1.7-1.4 3.7-2 2.3-1.6 1-2.4 .7-4 0-3-1-2-2 0-2.7 1-1.7 1.7-1.6 2.3-1.4 3.4-1 5 0 1 .4zM344.8 790.5l.4 4-1 4.7 0 4.3 .6 3.7-.3 1-3 2.6-7.7-3.3-5.6-.3-3 1.3-4 2.7-2.7 .3-5.3 1.7-4.7 .3-4.7-1-8.3-.7-1.3-.6-2-2 0-1.7 1.6-1.7 7.4-2 13-8.3 6.6-6.7 3-1.6 7-1.4 8 .4 4 1.6zM266.2 742.5l.3 .3-2.3 2.7-2 1.3-.7-.6 .3-1.4 1.4-1.3 1.6-1zM248.8 711.2l-7 7-4 2.6-.6 1-4 3-13 13.7-5 3.3-.7 1-4 3-19.7 19.4-7 4.6-.6 1-1 .4-4.7 4.6-1 .4-1.7 1.6-6 3.4-7.3 7-4 2.6-.7 1-3.6 2.4-1.4 .3-1.6 1.7-7.7 5-6 6.3-3 4.7-5.7 7.3-3 2.7-6.6 4 0 8 1.6 1 6 1.3 4.4 1.7 6 4 3.3 3 1.7 .6 .6 1 2.4 1 1.3 1.4 3.7 2 1 0 2.3 1.3 2.7 .7 2 1.3 2.3 .7 4.3 3.3 7.4 4.3 1 0 10 5 5.3 1.4 5 2 2 1.6 1.7 .7 .6 1 1.7 .7 2.7 2.3 16.6 8.3 1 1 3 1.4 5 3.3 4.4 2 5.3 1.3 4.3 1.7 3 1.7 8.7 7 7.3 4.3 1 0 2.4 1.3 2.6 .7 1.4 1 3 .7 3.3 1.6 10 0 3-2 5-2 2.7-2 2.3-1 3.7-2.6 5-5 2-2.7 5-4.7 6.6-4 1 0 1.7-1.3 1.3-.3 1.7-1.4 1 0 3-2 6.3-6 10.7-6.3 5.3-5 5-3.7 5-5 4.4-7.6 1.3-3.7 2.3-4.3 7 2.3 7.4 0-.4-2-1-1.7-5.3-2-2.7-.3-3.3-2.7-3-1.3-2 0-.7-.7-2-4.3 0-3.3-1-6 .4-2 2-2.7 9-5.3 12.3-5.7 3-3.3-6-7.4-1.7-3-6.3-8.3-4.7-4.3-2.6-1-11 0-1 .6-4 1-3.7-2-5.7-5-.3-1-3-3.3-1.7-3-5.6-6.3-1.7-1-10.7 0-6 2.3-2 0-3.3-1.3-1.7 3.6-2.3 2.4-4.3 1.3-4 0-2 .7-1.7 1-4.3 4.3-4 6-3.4 6.3-1.3 4 .3 11-1 2.4-1 1-2.6 1.6-4 1.4-10.4 2.3-3.3 1.3-7.3 1-5.4-1-14.3-11-2-1-1-1.3 0-2.7 1.7-3.6 4-6 2.3-2.4 3.7-2.6 8-4.7 6-5.3 5.3-3 5.3-1.7 8.4-1 20-.3 8.6-3.4 2.7-3.6-2-1.7-3-3.7-4-7-.3-1.6-3.4-6.4-1.3-3.6-2.7-4.4-2.3-2-8.7 0-2.3 1.7-3.3 5-1.4 1-3.6-10-.4-2-3.6-7.3-2-2z"/>
<path fill="#00adbb" d="M209.5 821.8l.3 2.7-2.3 5.7-2.7 2.6-2 1-3 .7-7.3-.3-4.3-2-1.7-2.4 0-2 1.3-2.6 3-3 2.7-1.7 6.3-1.7 4.4 0 3.6 1.4zM267.5 738.2l.3 .6-.6 3.4-3 3.3-2.7 1.7-1 0-1-2 1.3-2zM248.8 711.2l-7 7-4 2.6-.6 1-4 3-13 13.7-5 3.3-.7 1-4 3-19.7 19.4-7 4.6-.6 1-1 .4-4.7 4.6-1 .4-1.7 1.6-6 3.4-7.3 7-4 2.6-.7 1-3.6 2.4-1.4 .3-1.6 1.7-7.7 5-6 6.3-3 4.7-5.7 7.3-3 2.7-6.6 4 0 8 1.6 1 6 1.3 4.4 1.7 6 4 3.3 3 1.7 .6 .6 1 2.4 1 1.3 1.4 3.7 2 1 0 2.3 1.3 2.7 .7 2 1.3 2.3 .7 4.3 3.3 7.4 4.3 1 0 10 5 5.3 1.4 5 2 2 1.6 1.7 .7 .6 1 1.7 .7 2.7 2.3 16.6 8.3 1 1 3 1.4 5 3.3 4.4 2 5.3 1.3 4.3 1.7 3 1.7 8.7 7 7.3 4.3 1 0 2.4 1.3 2.6 .7 1.4 1 3 .7 3.3 1.6 10 0 3-2 5-2 2.7-2 2.3-1 3.7-2.6 5-5 2-2.7 5-4.7 6.6-4 1 0 1.7-1.3 1.3-.3 1.7-1.4 1 0 3-2 6.3-6 10.7-6.3 5.3-5 5-3.7 5-5 4.4-7.6 1.3-3.7 2.3-4.3 2.7 .6 2.7 1.4 6 .3 0-3.3-6.4-2.4-3.3-3-3-1.3-3.7 0-1.6 .7-2.4-2.7-.6-1.3 .3-9-1-4 0-4 1.7-2 2-1 5-1.4 16.6-7.3 3-3.3-4.3-5.4-1.7-3-6.3-8.3-4.7-4.3-2.6-1-11 0-1 .6-4 1-3.7-2-5.7-5-.3-1-3-3.3-1.7-3-5.6-6.3-1.7-1-10.7 0-6 2.3-3-.3-1 4.6-2.6 2-2.7 1.4-2-.7-2.7 0-2.3 .7-3 2-2 .3-1.7 1-3.6 3.7-4 6-2.4 6.6 .4 5.7 2.3 6 1.7 1.7 3 .6 16-2.6 4.6-1.7 4.4-2.3 8-7.7 2.6-1.7 7.7-1.3 4.3 0 .4-.3 5 .3 2.6 .7 1.7 1 1.7 2 .6 2-.6 11 2 5.6 0 2.4-1 1.3-4.7 1.7-8.7-3.7-5.6-.3-3 1.3-3.4 2.3-4.3 1.7-4.7 3-3.6 1-12.4-.7-4.3-1-4-2.3-7.3-6.7-3.4-1-7.6 1-4.4 1-7.6 2.7-5 1-6.4 .3-3.6-1-2.7-2-3.3-4-7.7-6-5-3 0-3.3 6.3-10.3 3.7-3.4 10.3-6.3 6.7-5.7 5-2.6 5.3-1.7 6.4-1 13-.3 8-1 7.3-3 3.3-3.4-2.3-3-1-2.3-2.7-4-.6-2.3-3.4-6.4-1.3-3.6-2.7-4.4-2.3-2-8.7 0-2.3 1.7-3.3 5-1.4 1-3.6-10-.4-2-3.6-7.3-2-2z"/>
<path fill="#00b2b1" d="M315.8 857.8l0 1.4 2 1.3 3.4-.3 3-1.7-.7-1.3-2.7-1-2 0zM334.8 853.8l0 1.7-1.6 3 0 2.3 .6 1.4-.3 3-1.7 1.3-6 2.7-3.6 1-1.7 0-7-3.4-3 .4-6.7-.4-8.3-2.6-5-.4-4-1-1-1 .7-3-4.4-6-1.3-2.6-.3-2 1.3-2 3.3-1 5.7 .6 5.7 2.4 4.6 0 9.4-1.7 6-3 2-2.3 1.6-4.7 1.7-1.7 2.3-.3 1.7 1.3 0 3.4-.3 .3 .3 2.7 2 2 3 1.6 2.3 2.4 1.4 2.6zM212.2 820.5l.3 1.3-.3 2-2.7 7.4-2.3 2.3-4 1.7-4 .6-6 0-3.7-.6-5-2.4-2-2-.7-1.3 .4-2.3 2.3-3.4 4.7-4.3 4.3-2 6.3-1.3 6 .3 4.7 2zM281.2 785.2l0 3 1 3.3 2.6 3.3 3 1.4 9.7 0 6.3-1 7-2.7 2.7-2 6-6.3 4-2 15-1.7 7 .7 2 1.6 .7 1.4 .3 6.6-.7 5.7 1 4.3 1.7 2.7 2.7 2.7 2.3 1 7 0 8.7-2 10.6-4.7 3.4-3.3-10.7-14.7-4.7-4.3-2.6-1-11 0-1 .6-4 1-5-3-4.4-4-.3-1-3-3.3-1.7-3-2.6-3.3-3-3-1.7-1-10.7 0-1 .6-6 1.7 0 3.7-2.3 2.3-4.3 2.3-3.7-1.3-2.7 0-3 1-3.6 3-3 1.7-.7 1-2.3 1.6-3.4 5zM267.5 737.5l.3 .3-.3 3.7-2 2.7-4 3-1 .3-1.3-.3-1-1 0-2 3.6-4 3-2zM248.8 711.2l-7 7-4 2.6-.6 1-4 3-13 13.7-5 3.3-.7 1-4 3-19.7 19.4-7 4.6-.6 1-1 .4-4.7 4.6-1 .4-1.7 1.6-6 3.4-7.3 7-4 2.6-.7 1-3.6 2.4-1.4 .3-1.6 1.7-7.7 5-6 6.3-3 4.7-5.7 7.3-3 2.7-6.6 4 0 8 1.6 1 6 1.3 4.4 1.7 6 4 3.3 3 1.7 .6 .6 1 2.4 1 1.3 1.4 3.7 2 1 0 2.3 1.3 2.7 .7 2 1.3 2.3 .7 4.3 3.3 7.4 4.3 1 0 10 5 5.3 1.4 5 2 2 1.6 1.7 .7 .6 1 1.7 .7 2.7 2.3 16.6 8.3 1 1 3 1.4 5 3.3 4.4 2 5.3 1.3 4.3 1.7 3 1.7 8.7 7 7.3 4.3 1 0 2.4 1.3 2.6 .7 1.4 1 3 .7 3.3 1.6 10 0 3-2 5-2 2.7-2 2.3-1 3.7-2.6 5-5 2-2.7 5-4.7 6.6-4 1 0 1.7-1.3 1.3-.3 1.7-1.4 1 0 3-2 6.3-6 10.7-6.3 5.3-5 5-3.7 5-5 4.4-7.6 1.3-3.7 2.3-4.3 2.7 .6 2.7 1.4 3.3 .3 1-3.7-3.7-1.3-4.3-3.7-3-1.3-3.7 0-4 2-5-2.3-2-2.4 .4-2.3 3-4.7 .3-5.6-2.3-5-2-2-1.7-.7-8-.3-8.7-3.7-5.6-.3-3 1.3-4.4 3-2 .7-4.6 5-3.4 1.6-4.6 0-2.4-.6-15-2-2.3-1-6.3-4.7-6-2.7-5.4 0-14.6 4.4-4.4 .6-4.3 0-3.7-1.3-1.6-1.7-4.7-7.3-6-4.7-5-3-1.7-.3-.6-.7-.4-1.6 .4-2 7-10.7 5.3-4.7 8.3-5 8.7-7 5.3-2.3 8.4-2 13.3-.3 6.7-.7 10-3.3 3.6-2.4-5-8.3-.6-2.3-3.4-6.4-1.3-3.6-2.7-4.4-2.3-2-8.7 0-2.3 1.7-3.3 5-1.4 1-3.6-10-.4-2-3.6-7.3-2-2z"/>
<path fill="#00b6a7" d="M335.8 870.8l-5.3 .4-2 1-1.7 1.6-.3 1 .3 1.7 4.7 4.7 3.3-3.4 3.4-2-.7-3-.7-1.3zM377.5 840.8l-3.7-2-3.3-3-3-1.3-3.7 0-5.6 3-.4-.3-4.3 0-4 1.6-1.7 1.7-1.6 3-1 3 0 2.7 4 6.3 0 2.7-1.4 2.6 0 1.4 3 4.3 5-3.7 5-5 4.4-7.6 1.3-3.7 2.3-4.3 2.7 .6 2.7 1.4 3.3 .3zM261.2 828.2l.3-1 1.7 .3-.7 1zM215.2 819.5l0 3-1 2.3-1.4 7-1.3 1.7-2 1.3-5 1.7-3.7 .7-11.6 0-5.7-1-4.7-2.7-5-5.3 0-1 1.4-1.4 5-2.6 6-5.7 3-1.7 3-1 5-1 9 .4 5.6 2zM316.2 821.8l0 1.7 1 1 3.6 1.3 20.7 2.4 6-1.4 3.7-2 2-2 .6-1.3 0-3.3-1-2.4-2.6-2.6-1.4-.7-5.3-1-9.7-4-5.6-.3-4.7 2.3-4.7 3.7-1.3 2.3zM350.8 778.8l0 5-1 4.4-.3 7.3 1.3 3.7 3 3 5.4 1.6 5.6 0 3.4-.6 6.3-2 5.7-2.7 3.3-3.3-2.7-4.4-6.3-8.3-4.7-4.3-2.6-1-11 0-4 1.6zM344.2 773.8l-2.4-2-.3-1-3-3.3-1.7-3-2.6-3.3-4.7-4-10.7 0-1 .6-4 1-.6 5-3.7 3-3.3 1.7-4.7-2-4 .3-3.3 1.7-5.4 4.3-3 3-1.3 2-2 5 0 3.4 1.7 4 3 2.3 4.3 1 10.3-.3 5.4-1.4 4-2 4.6-4.3 2-2.7 3.4-2.3 4.3-1 5.3-.3 10.4-2zM267.5 735.5l.3 3.3-.6 3.4-3 3.3-2 1.3-1.7 .7-2.3-.3-1.4-1.4 0-1.6 1.7-3 4.3-3.7zM248.8 711.2l-7 7-4 2.6-.6 1-4 3-13 13.7-5 3.3-.7 1-4 3-19.7 19.4-7 4.6-.6 1-1 .4-4.7 4.6-1 .4-1.7 1.6-6 3.4-7.3 7-4 2.6-.7 1-3.6 2.4-1.4 .3-1.6 1.7-7.7 5-6 6.3-3 4.7-4.3 5.3 7 6 .3 .7-.3 1.6-3.7 2.7-8.7 2.7-2.6 2.6-.7 1.4 1.3 .6 4 .7 4.4 1.7 6 4 3.3 3 1.7 .6 .6 1 2 1 2-4 5-3 5.4-1.3 5.3 0 3.3 .7 2.7 2-.3 2-1 1-2.7 1.3-5 1-2.3 1-2.4 4 .4 .7 1 0 2 1.3 2.3 .7 4.3 3.3 2.4 1 1.3-3 3-2.7 3.3-1.6 2.7 .3 2 2 0 3-.7 2.3-1.3 1.4-1.7 3.3 1.7 .3 5.7 3 9 2.7 5 3 .6 1 1.7 .7 2.7 2.3 16.6 8.3 1 1 3 1.4 5 3.3 4.4 2 5.3 1.3 4.3 1.7 3 1.7 8.7 7 7.3 4.3 1 0 2.4 1.3 2.6 .7 1.4 1 3 .7 3.3 1.6 10 0 3-2 5.3-2.3 0-.7-3.6-5.6 0-2 2.3-3 3.7-1.4 5 .4 1 .3 3.3 3.3 3.7-4.3 5-4.7 6.6-4 1 0 1.7-1.3 1.3-.3 2-1.7-3.3-4-6-3.7-4.3-3.6-3.4-2-10.3-2.7-4.3 0-7.4 1.7-10-4-2.3-2.4-.7-1.3 .4-2.7 2.6-3.6 .7-2-.3-2.4-4-7 0-1.6 .6-1.4 3-2 3.7-.6 16.3-.7 5.7 1 5.3 0 2.7-1 2.7-2.7 1-3-.7-5.6 .3-2-.3-1.4-1.3-1.3-5.4-2.7-7-2.3-5-.7-13 .4-1-.4-4.3-4.3-3-1.3-2.3-.4-6 1-9.7 3.7-9 0-6-.7-1.3-.6-1-1.4 0-5-2.4-6.6-5.3-4.4-5-3-4.7-1-1.3-2.3 .3-2 5-6 3.4-5.3 3.3-3.4 11.7-7.6 5.3-4.7 4.3-2.7 6.4-2.3 4.6-1 14.7-.3 6.7-.7 6.6-2 2.7-1.3 1 0 3.3-1.7-1.3-3-3-4.7-.3-1.6-3.4-6.4-1.3-3.6-2.7-4.4-2.3-2-8.7 0-2.3 1.7-3.3 5-1.4 1-3.6-10-.4-2-3.6-7.3-2-2z"/>
<path fill="#00ba9b" d="M267.8 912.5l5.7 2.3 10 0 3-2 .7 0-1.4-2.6-1-1-5.6-2.7-5.4 0-2.6 1-1.4 1zM367.5 834.5l-3.7 0-6.3 3.3-3 .4-2 1-2 2-1.3 2.6 0 3.4 1 2.3 3 3.3 3.6 2.4 3.4 3.3 5-8.3 3.6-8 1.4 .3 .6-3 1-1 .4 .3-.4 4.4 2.4 1 2-3.7-5.7-4.7zM319.8 813.5l0 3 1 2 2.7 2.3 5.7 2 9.6 1.4 5.4-.4 4-1.3 3-3 0-2.7-1.4-2.3-1.6-1.3-15.7-6-5.3 .3-6 3.7zM352.5 778.5l.3 4.3-1.3 3-.7 6 .7 3.7 .7 1.3 2.3 2.4 3 1.3 3.3 .7 5.7-.4 3.3-.6 9.4-3.7 2-2 1.3-.7-1.7-3-6.3-8.3-4.7-4.3-2.6-1-11 0zM342.5 772.5l-8.3-11.3-4.7-4-10.7 0-3.6 1.3 0 4.3-.7 1-3.3 3-4.4 2.4-5.3-2.7-4 .3-3.3 1.7-4 3.3-5 5.4-1.4 3.3 0 4.7 1 2 2 2 4 1.6 9 .4 6-1 4-1.7 2.4-1.7 4-5 3.6-3.3 3.7-1 3 0 9.3-1.7 3.4-1zM267.8 734.2l.4 1-1 7-3 3.3-2 1.3-2.4 1-2.6-.3-1.4-1.3-.3-2.4 2.3-4 5.4-4.3zM248.8 711.2l-7 7-4 2.6-.6 1-4 3-13 13.7-5 3.3-.7 1-4 3-19.7 19.4-7 4.6-.6 1-1 .4-4.7 4.6-1 .4-1.7 1.6-6 3.4-7.3 7-4 2.6-.7 1-3.6 2.4-1.4 .3-1.6 1.7-6 3.6-6 5.7-6.7 9 3.3 3.3 4 2.4 2.7 2.6 0 2-3.3 3.4-9 4.3-.7 .7 0 2.6-.7 1.7 2.4 .7 7 4.6 .6-1.3 3-3 6-2.3 6.7-1.4 12.3-.6 2-1 .4-1.7-3-5 0-2.3 1.6-1.7 2.7-1 7.3-1.3 3.4-2 3.3-3.7 5-2.3 6.3-1 8.4 0 9.3 2.6 5.7 3 2.6 2.7-2.3 4.7-.3 1.6 .6 2 1 1 1.7 .7 3 0 7.7-2 2.6 0 2.4 1.3 0 1.4-2.4 2.3-4.6 3.3-3 1.7-3 1-3.7 0-5-1.3-3.3 0-10 2.3-12.7 .3-4.3 1-3.4 1.7-.6 1 0 1 2 2.3 6.3 4 7.3 3 2 1.7 1 2-.3 1.3-1.7 1.7-2.3 .7-6 3.3-1.3 1.7-.7 2 .3 1.3 4.7 1.7 8 5.6 3.7-3.6 5.6-3 4 .3 2 2.3 .7 4.4 0 3.6-1.7 3.7 6 3.3 1.7-3 1.3-1.3 6-1 8.7-3.7 3.3 0 1.4 .7 2 2 .6 1.3-.6 1.7-9.4 5.3-1.6 4.7 2.3 .3 4.3 1.7 3 1.7 6.7 5.3 8.3-8.7 2.4-1.3 2.3-.7 3.7 0 7 2 4.3 .4 2.3-.7 5.4-3 3.6-.3 12.4 3 1.3 .6 3.3 3.4 5.4-5.4 3.6-2.3 1.4-.3 2-1.7-3-3.7-6-3.3-4.7-4.7-2.3-1.3-2.4-.7-3.3 0-2.3 .7-4.4 2.3-6.6 5-2.4 1-3.3 0-3-1.3-2.7-2.3-2.3-1.4-9.3-1.3-2-1-1.4-1.3 0-2 2.4-2.4 4-2.3 2-2 .3-6.7 4-5.3 0-2.7-4.3-6 0-3.3 1.3-3 2.7-2.7 2.3-.6 12.7 .3 7.6-1 12.7-.7 1.3-.6 1-1.4 0-2.3-3-6.7-2-2-4.3-2.3-5.7-1-.3 .3-.3-.3-3.7 .3-11.3 3-3 1.4-2 2-3 6.3-2.4 1.7-1.6 .3-4.7-.3-8.7-2-2-1-1.3-1.4 0-1.6 1-1.7 .3-2-1.3-1.7-4-1.3-2.7 0-7.3 2.3-3 0-3.7-1-3-2.3 .7-1.7 5-4 2.3-2.3 1.4-2.3 .6-4-1.3-4-4-3.4-5-3-5-1.3-3.3 .3-1-1-2-.6-1.4-1.4 2-2.3 6.4-4.7 7-9.3 4-3.3 9.3-6 5-4.4 4-2.6 7-3 5.3-1.4 16 .4 6-.7 7.4-2.3 5.3-3.4-3-5-.3-1.6-3.4-6.4-1.3-3.6-2.7-4.4-2.3-2-8.7 0-2.3 1.7-3.3 5-1.4 1-3.6-10-.4-2-3.6-7.3-2-2z"/>
<path fill="#01bd8f" d="M248.2 890.2l-2.7 0-4 1.3-1 1.3-1 3 7 4.4 4.7-7-.4-2zM293.8 881.5l-.6 1.7 .6 1.3 1.7 1.3 7.3 3 6 .7 2.4 4 .6-.3 0-.7-2.6-3.3 0-.7-1.7-1.7-5-2.6-3.7-3.4-3.3-.3zM367.5 834.5l-3.7 0-7 3.7-1 0-3.6 3-.7 1.6 0 2.7 1 2.3 3.7 3.4 4.3 2 1.7 1.3 .6 0 5.7-11.7-.7-2-1.3-1.6-.3-1.7 1-.3 1.3 .3 .3 .7 2-.4 1.7 .7 .3 .7 .4-.4 .3 .7 1-.3 .3 .6-1.6-2-1-.3-1.7-1.7zM259.5 836.2l-2-1-5-1-8.7 0-4.6 .6-6.4 3-9.6 8.7-5.7 2.3-4.3-1-2.4 0-1 .7 0 1.7 1.7 1.6 6.7-.6 3 2.3 .6 1.3-.3 7.4 3 5 1.7 4.3 2 1.7 1.6 0 3-1.7 5-5 4.7-2.7 2.7-.6 3.3 0 5 2.3 2 0 2.7-1.3 .3-1.7-1.7-2-.3-2 5.3-5.7-.3-3-1.3-1.6-1.4-3 .4-2.4 1.3-3 0-2.6zM302.5 827.2l-1.7-4.4-1.3-1.3-4.3-2-3.4-.3-5.6 1-7.4 3-2.3 1.6-1.3 2.4-.4 2 1.4 2.3 2.3 1 3.3 .7 6.4 0 5.3-.7 6.7-1.7 2-1.6zM321.5 811.8l.3 3 2 2.4 3 1.6 4.4 1.4 6.6 1 4 0 3-.7 2-1 1.7-1.7 0-2.3-2.3-2.7-2-1.3-1 0-10.7-4.3-5.3 .3-4.7 2.7zM353.5 778.2l.7 1.6 0 2.7-1.7 4.3 0 5.4 1 2.6 1.7 1.7 2.6 1.3 2.7 .7 5.7 0 8.3-2.3 7-4-7-9.7-4.7-4.3-2.6-1-11 0zM340.5 769.8l-6.3-8.6-4.7-4-10.7 0-3.6 1.3 1 4.7-3.7 3.6-2.3 1.7-3 1-2.4-1.7-3.3-1.3-4 .3-3.3 1.7-7 6.3-1.4 2-1 3 0 3 .7 1.7 2 2.3 3.7 1.7 5.3 .7 7.3-.7 2.7-.7 4-2 3.3-3.3 2.4-4 2-2 2.6-1 3.7 0 8.3-1.3 3.7-1.4zM268.2 732.5l.3 .7-.7 2.3 0 3.3-.6 3.4-7 7-2.4 .6-3.3-3.3-.3-1.3 .3-2.7 3-4.3 3.3-3 3-1.7 1.7 0zM285.8 726.8l-2.3-2-8.7 0-2.3 1.7-3.3 5-1.4 1-3.6-10-.4-2-3.6-7.3-2-2-9.4 0-7 7-4 2.6-.6 1-4 3-13 13.7-5 3.3-.7 1-4 3-19.7 19.4-7 4.6-.6 1-1 .4-4.7 4.6-1 .4-1.7 1.6-6 3.4-7.3 7-4 2.6-.7 1-3.6 2.4-1.4 .3-1.6 1.7-6 3.6-6 5.7-3.7 4.7-1.7 3 7 4 2.7 1 2.3 1.6 2.4 3-.4 2.7-4.3 4.3-.3 1 3.3 .4 6-.7 5-1 1.3-.7 1-1 .4-4.3 2.3-3 4.3-2.3 7.4-1.7 2.3-1 4.3-5 4-2.3 2.4-.7 5.3-.7 5.7 .4 9.3 2.3 12.7 4.3 4 0 6-3 2.3-2.3 1.3-2.3 .4-2-.7-3-.7-1.4-2.3-2-5-3-5-1.3-2 0-2.7 .7-4.3-.4-11.7 2.4-3 0-1.6-.7-2-2-.4-2 .7-1.3 2-1.7 3.3-1.3 12-1.7 3.4-1 3.3-1.7 3.7-3.3 3.3-4.7 6.7-6 9-6 6-5 3.6-2.3 4.4-2 5-3.3 13.3 2 .3-.4 1 .4 8.7-.4 8-2 6-3.3-5.7-11.7-.3-1.6z"/>
<path fill="#13be83" d="M232.5 857.5l2 .3 1-.3 .7-1-2.7-.3-1 .6zM367.5 834.5l-3.7 0-4.3 2-4 2.3-1.7 1.7-.6 1.7 .3 2.6 2.7 3.4 7.3 3.6 .7 0 1-1.6 1.3-3.7 2-3.7-.7-2-1.3-1.6-.3-1.7 .6-.7 1.4 0 5.6 2-3.3-3zM298.5 824.2l-1-2-2.7-1.7-5.3-.3-3 .6-5.3 2.7-1.7 1.7-.3 2.3 1.6 1.7 4 1 6.4-.4 5.6-2 1.7-2zM323.2 809.8l.3 3.4 2 2 4.7 2 4.6 1 7 0 2.7-1 1.3-1.7-.6-2-2-2-9.4-4-5.6-.3zM231.5 802.2l-.7-2.7-1.3-1.7-5-3-5-1.3-2 0-9 1.7-4.3 2-2.7 2.6-.7 1.7 0 1.7 2 2.3 5.7 2.7 7 2.3 6 .7 3.7-1 3.3-2 2-2.4 1-2.3zM353.8 778.2l1.7 3.3-1.7 5 0 3.7 1.4 3 1 1 2.6 1.3 3 .7 7-.7 5-1.7 6.4-3.3-5.7-8-5.3-4.7-1 0-1-.6-11 0zM339.2 768.2l-5-7-4.7-4-10.7 0-1 .6-1 0 1 2.7-.3 2.3-5 5.7-1 .7-3.3 .6-6.7-3.3-2.7 0-2.3 .7-2.3 1.3-6.4 5.7-1.6 3-.4 3.3 1 2.7 2 2 2.4 1 6 1 7-.7 2.3-.7 3.7-2 3-3.3 2-4.7 1.3-1.6 2.7-1 6.3 0 7.3-1.4 2.7-1zM264.2 747.5l2.6 1.7 5.7 1 10.3-.4 6.4-2 5.3-3.6-1-1.4-.3-1.6-3.4-6.4-1.3-3.6-2.7-4.4-2.3-2-8.7 0-2.3 1.7-4 5.7-.7 3.3-.3 6-3 3.3zM260.2 713.2l-2-2-9.4 0-7 7-4 2.6-.6 1-4 3-13 13.7-5 3.3-.7 1-4 3-19.7 19.4-7 4.6-.6 1-1 .4-4.7 4.6-1 .4-1.7 1.6-6 3.4-7.3 7-4 2.6-.7 1-3.6 2.4-1.4 .3-1.6 1.7-7.7 5-4.3 4.3-3.4 4.7 3.7 2 .7 1 10.3 4.6 2.3 .7 3.4 0 2-.7 11.6-5.6 15-15 2-3.4 1.4-4.6 2.6-2.7 7-2.7 13.4-2 3-1 3.3-2 9-9.3 4-3.3 9-6 5.7-4.7 6.3-4 2-2.3 .7-6.7 2.6-4.7 5-4.3 6.4-3.3-4-11.4z"/>
<path fill="#3fbf7a" d="M367.5 834.5l-3.7 0-7.6 4-1.4 2.3 .4 3 2 2.4 8 4 1.3-3.7 2-3.7-.7-2-1.3-1.6-.3-1.7 1-1 1.3 0 5 1.7-3-2.4zM294.5 823.2l-1.7-1.7-3.3-.3-4.3 1.6-1.4 1.4 0 1.3 .7 .7 2.3 .6 4-.3 2.4-1 1-1zM324.8 808.8l.4 2.7 2.3 2 2.3 1 5.4 1 4.3 0 2.7-1.3 0-1.4-1.4-2.3-7-3-5.6-.3zM204.2 800.5l.6 2.7 2 1.6 4 2 5.7 1.7 7-.3 3.3-1.7 2-2 1-2 0-2.3-1-2.7-4.3-2.7-5-1.3-4.3 .3-5 1.4-3.7 2-1.3 1.3zM355.2 777.8l1.3 3.4-1.3 4.6 .3 3.4 2.3 3 2 1 4.7 .6 4-.6 4-1.4 6.3-3-.6-1.6-3.7-4.7-5.3-4.7-1 0-1-.6-11 0zM313.2 771.5l-2.7-1.3-2.7-.4-3-2-3.3-1.3-2.7 0-2.3 .7-2.3 1.3-4.4 3.7-2 2.3-1 3.3 .7 3 2.3 2.4 4.7 1.6 2.7 .4 3.3-.4 .3 .4 5.7-1.4 3.3-2 2.4-2.6 1.3-3.7zM317.2 757.8l2 3.7-2.4 3.3-1 2.4 0 1.3 1.4 1.3 5 1 6.6-.3 5-1.7 2.4-2.3 1.3-.7-3.3-4.6-3-3-1.7-1-10.7 0zM268.5 732.2l-.7 3.3-.3 6-1.7 2 .4 2 2.3 1.7 3.3 1 8.7 0 .3-.4 .4 .4 6-1.4 2.6-1.3 2 0 2.7-1-6-13.3-2.7-4.4-2.3-2-8.7 0-2.3 1.7zM260.2 713.2l-2-2-9.4 0-7 7-4 2.6-.6 1-4 3-13 13.7-5 3.3-.7 1-4 3-19.7 19.4-7 4.6-.6 1-1 .4-4.7 4.6-1 .4-1.7 1.6-6 3.4-7.3 7-4 2.6-.7 1-3.6 2.4-1.4 .3-1.6 1.7-6 3.6-6 5.7-.7 1.3 4.3 4 8.4 2.7 4.3 0 2.3-.7 2.7-1.3 2.7-2.7 4.3-10 1.7-1.6 3.3-1.7 4.7-1 4-2 1.6-2 2.7-5 2-1.7 4-1.6 5.7-1.4 13.6-2.3 3.4-1.3 3.3-2.4 6.3-6.3 7.7-6.3 6-3.7 12.3-9.3 1.7-2.4 2.3-7 3-4 5.4-4.3 1.6-.7 1.7 0 2.3-1-3-9.3z"/>
<path fill="#78bf71" d="M363.8 834.5l-6 3-1.3 1.7-.3 2 1.3 2.6 1.7 1.4 6.6 3 2.7-5.4-.7-2-1.3-1.6-.3-1.7 1.6-1.3 2.4 .3 2.3 1-2-1.7-3-1.3zM326.8 807.8l.4 2.4 4 2 5.6 .3 1.4-1-1-2.7-3.4-1.3-5.6-.3zM206.8 798.8l.4 3 3 2.4 4.3 1.6 4 .7 4.7-.7 2.6-1.3 1.7-1.7 1-2.6-1.3-3.7-2.7-1.7-5-1.3-4.3 .3-3.7 1-2.7 1.7zM154.2 793.5l-2.4 1-1.6 1.7-6 3.6-3.7 3.4 4 4 1.3 .6 6 .4 2-1 2.7-3.4 1.3-3.6-.6-2.4-.7-.3zM357.5 777.2l.7 4-1.4 3 0 2.3 1.4 2.7 2 1.3 2.3 .7 6.7-.7 4.3-2 3-3-2-3-5.3-4.7-1 0-1-.6zM288.5 774.2l-.3 4 1.3 2.3 2 1.3 4.7 1.4 5.6 0 4.7-1.4 4-3 1.3-3 0-2.6-1.3-2-4-2-1.7-1.4-3.3-1.3-2.7 0-3 1-6 4.7zM320.2 757.2l.3 4.3-1.7 2.7 0 2 2.4 1.6 2.6 .7 5.4-.3 3.6-1.4 2-2 1.4-.6-2-3-3-3-1.7-1zM268.5 732.2l-.7 3.3-.3 7.7 1 1.3 2.7 1.3 4 .7 7-.3 5.3-1.4 2.7-2 3-1.3-6-12.7-1.4-2-2.3-2-8.7 0-2.3 1.7zM260.2 713.2l-2-2-9.4 0-7 7-4 2.6-.6 1-4 3-13 13.7-5 3.3-.7 1-4 3-19.7 19.4-7 4.6-.6 1-1 .4-4.7 4.6-1 .4-1.7 1.6-4 2-4 3-2.3 2.4 2.7 4.3 6 .3 3.3-1.3 1.3-1.3 1-2 1-4 1.7-1.4 22.3-3.3 7.7-2.3 7-5 10.3-9 6.7-4 10.3-7.7 3.4-4 2-4.7 3.3-4.6 6.7-5.4 5-2-3-9z"/>
<path fill="#a6be6a" d="M363.8 834.5l-4.3 2-1.7 1.3 0 3 3 3 5.7 2.7 2-4-2-3.3-.3-1.7 2-1.7 3.3 1-1-1-3-1.3zM208.8 798.2l0 1.6 1.4 1.7 3 1.7 3.6 1 3.4 0 2.6-.7 2.4-1.3 1.6-2.7-.3-2.3-1-1.7-1-.7-5-1.3-4.3 .3-2.4 .7-2 1zM359.8 777.2l0 3.6-1 2 0 2.4 .7 1.3 2.3 1.7 1.4 .3 4.6-.3 4-1.7 2-2 1.4-.7-.7-1.3-5.3-4.7-1 0-1-.6zM289.2 774.2l0 2.3 1 2 3.3 2 2.3 .7 6.4 0 3.6-1 3.7-2.7 1.3-3.3-1-2.7-1.3-1.3-3.7-2.4-3.3-1.3-4 .3-3.3 1.7-4.4 4zM322.5 757.2l0 3.3-1 2 0 1.7 1.7 1.3 1.3 .3 5-.3 5.3-3-.6-1.3-3-3-1.7-1zM268.5 732.2l-.7 6 1.4 1.3 .3 3 3.3 1.7 1.7 .3 8.7-.3 3.3-1 6-3-5.3-11.4-1.4-2-2.3-2-8.7 0-2.3 1.7zM260.2 713.2l-2-2-9.4 0-7 7-4 2.6-.6 1-4 3-13 13.7-5 3.3-.7 1-4 3-4.7 5-3 2.4-9.3 9.3 3.3 3.3 .4 2.4-1 3 .3 .6 1.7 .7 7-.3 4.6-1.4 4.4-2.3 4.3-3 9-7.7 9.7-6 8-6 3.3-4 3.3-5.6 6-6 3.7-2.4 2 0 2-.6 .3-.7-1.6-4-.4-2z"/>
<path fill="#babd63" d="M359.2 836.8l0 2.7 1.6 2 3.4 2 3.3 1 1-2-2-3.3-.3-1.7 2-1.7 2.6 .4-3.3-1.7-3.7 0zM210.8 797.2l0 1.3 1 1.3 2.4 1.4 2.3 .6 5-.3 2-1 1.3-1.7 0-2.3-.6-1.3-4.7-1.7-5.7 .7-1.3 .6zM361.5 783.5l.7 1 1.3 .7 3.7 0 1.6-.7 3.7-4-2.7-2.3-2.6-1-5.4 0zM290.2 772.8l.3 3 1 1.4 3 1.6 3.7 .7 4.6-.3 2.4-.7 2-1 1.3-1.3 1-2.4-.3-2.3-1.7-2-6-3-2.7 0-3 1-5.3 4.3zM324.8 761.8l1.7 1 2-.3 3.3-3.7-2.3-1.6-4.7 0zM268.5 732.2l-.3 3 2.3 2.3-.3 1.3 .6 2 2.4 1.4 4.6 .6 2-.3 .4 .3 6-1.3 5.6-2.7-4.6-10-1.4-2-2.3-2-8.7 0-2.3 1.7zM260.2 713.2l-2-2-9.4 0-7 7-4 2.6-.6 1-4 3-13 13.7-5 3.3-.7 1-4 3-4.7 5-7.6 7 4 4 2.3 3.4 2.3 1 3.4-.4 6-2.6 9.6-7.7 7-4 9.4-6.3 4-3.7 5-7 4-4 5-3.7 5-2.3-2-5.7z"/>
<path fill="#cbbb5c" d="M360.5 836.2l0 1.6 1 1.7 7 3.3-.7-2-1.3-1.6-.3-1.7 2-1.7 2 0-2.7-1.3-3.7 0zM213.2 796.2l.3 1.6 2.3 1.4 1.7 .3 3-.3 1.3-.7 1-1.3-.6-3-2.7-.7-4.3 .3-1.4 1zM291.2 771.8l.3 2.4 1 1.3 2.3 1.3 2.4 .7 4 0 3-.7 2.6-1.3 1.4-2-.4-3.3-3-2.4-3.3-1.3-2.7 0-3 1-4 3zM268.2 733.5l0 1 3.3 1.7 0 2 1 1.3 3.3 1.3 4.7 0 4-.6 6.3-3.4-1.3-3.6-3.7-6.4-2.3-2-8.7 0-1.3 .7-3.7 4.7zM260.2 713.2l-2-2-9.4 0-7 7-4 2.6-.6 1-4 3-13 13.7-5 3.3-.7 1-4 3-6.3 6.4 1 1.6 3 3 3 1.7 3.6-.3 4.7-2.4 7.7-5 13-7.3 3-2.3 5-5 2.3-3.4 6-5.3 4.3-2.7 4-.3-1.6-5.7z"/>
<path fill="#dbba55" d="M362.2 835.2l.3 2 1.3 1.3 3.4 1.3-.7-.6-.3-1.7 2-1.7 1 0 0-.6-1.7-.7-3.7 0zM292.5 770.2l.3 2.6 .7 1 3.7 1.7 4.6 0 3.7-1.3 1.3-1.7 0-3-2-1.7-3.3-1.3-2.7 0-2.3 .7-2.3 1.3zM268.5 732.2l4 2.6 0 1.4 .7 1.3 3 1.3 6 0 3.6-1.3 2.4 0 2.6-1-3.6-7.7-1.4-2-2.3-2-8.7 0-2.3 1.7zM260.2 713.2l-2-2-9.4 0-7 7-4 2.6-.6 1-4 3-13 13.7-5 3.3-.7 1-1.3 .7-4 3.7 4 3.6 4.3 0 5.3-2.3 6.4-3.7 5.3-1.6 4.7-2.4 4.6-3.3 7.7-8 4-3.3 8.7-4.7z"/>
<path fill="#ebb94d" d="M366.2 834.5l-.7 1 .3 .7 1.7 .3-.3-2zM293.8 768.8l0 1.4 1 2 1.7 1 2.7 .6 2.6-.3 2.7-1 1.3-2.3-.3-1.7-.7-.7-3.3-1.3-4 .3zM270.2 729.8l3.6 3 .4 2.7 3.3 1.7 3 0 3.3-.7 5.7-3-3.7-6.7-2.3-2-8.7 0-2.3 1.7zM260.2 713.2l-2-2-9.4 0-7 7-4 2.6-.6 1-4 3-10 10.7 3 4 2.3 .3 6.7-.6 6.3-3 2.3-1.7 9.7-9 7-4.3 3-1.4z"/>
<path fill="#f9bb43" d="M295.8 767.5l0 2.3 1 1 1.7 .7 4-.3 1.7-1.7 0-1.7-2.7-1.3-2.7 0zM270.8 728.8l4 2.7 .4 2 .6 .7 2.7 1 5.3-.7 4.7-3-2.7-4.7-2.3-2-8.7 0-1.3 .7zM260.2 713.2l-2-2-9.4 0-7 7-4 2.6-.6 1-4 3-6 6-.7 1.4 3.7 3.3 4.6 0 5.7-2 4-2.7 6.3-5.6 7.7-5 1 0 3.3-1.7z"/>
<path fill="#ffc436" d="M298.5 766.8l0 1.7 .7 .3 2.3-.3-.3-2zM273.2 725.8l3.3 3.4 0 2.3 1 1 1.7 .7 3.3-.4 5.3-2.3-2-3.7-2.3-2-8.7 0zM260.2 713.2l-2-2-9.4 0-7 7-4 2.6-7.6 7 3.3 3.7 2.3 0 5-1.7 8.4-6.3 8.6-5 4-1.7z"/>
<path fill="#fcce2d" d="M276.2 724.8l1.6 3 .4 2 1 .7 1.3 .3 1.7-.3 4.3-2.3-.7-1.4-2.3-2zM260.2 713.2l-2-2-9.4 0-3.3 3.6-8 6.7 3.3 3.3 3.4-2.3 8.3-3.3 8.3-4.4z"/>
<path fill="#f7d925" d="M247.2 712.8l3.3 3.4 1.7 0 2.3-1 3.7-4-9.4 0z"/></g></g></g>
</g>
<g id="pf">
<path d="M966.4 833.0L823.9 939.1L654.7 848.7L654.7 798.3M823.9 939.1L819.6 942.3M823.9 939.1L828.3 941.5M771.0 910.9L766.7 914.1M868.4 905.9L872.8 908.3M718.1 882.6L713.8 885.8M913.0 872.8L917.4 875.1M665.3 854.4L660.9 857.6M957.5 839.6L961.9 842.0M654.7 798.3L649.9 795.8M654.7 823.5L649.9 821.0M654.7 848.7L649.9 846.2" fill="none" stroke="#262626" stroke-width=".75"/>
<g font-size="17.3" fill="#262626"><text x="815.4" y="962.3" text-anchor="end">0</text><text x="832.9" y="960.8">0</text><text x="762.5" y="934.1" text-anchor="end">200</text><text x="877.4" y="927.6">200</text><text x="709.6" y="905.8" text-anchor="end">400</text><text x="922.0" y="894.5">400</text><text x="656.8" y="877.6" text-anchor="end">600</text><text x="966.5" y="861.3">600</text><text x="644.7" y="800.9" text-anchor="end">1</text><text x="644.7" y="826.1" text-anchor="end">0</text><text x="644.7" y="851.3" text-anchor="end">-1</text><text x="686.4" y="958.8" text-anchor="middle">Length (µm)</text><text x="955.1" y="955.1" text-anchor="middle">Length (µm)</text><text transform="translate(622.8 823.5) rotate(-90)" text-anchor="middle">Amplitude (µm)</text></g>
<text x="803.0" y="1008.5" text-anchor="middle" font-size="20" fill="#000">(f)</text>
<g fill-rule="evenodd"><clipPath id="kf"><path clip-rule="evenodd" d="M665.5 828.5l9 5 1.7 .3 7.6 4.4 1 0 7.7 4 3.3 1 1.4 1 3 .6 1.3 1 1 0 2.7 1.4 4.6 1.3 3.4 1.7 1 0 2 1.3 1 0 8.6 4.7 1.4 1.3 6.6 4 .7 1 3.7 2 .6 1 1.7 .7 2.7 2.3 2.3 1 .7 1 2.3 1 1.3 1.3 3 1.4 .7 1 6.7 3.3 2.6 2 9.7 5.3 6.7 3 45 24.7 7-4.3 2-.7 2.6-2 2-.7 5-3.6 13.7-13.4 19-17.3 1-.3 4.7-3.7 8.6-4.3 8.4-5.4 3.6-3.3 3-2 .7-1 5-4 2.7-3 1-.3 1.6-2 6-4.7 .7-1 7.7-5 17-8.3 10.6-7-7.6-4.7-.7-1-3-1.7-.7-1-3-2-1.3-1.6-2.3-1.7-7.4-7-5-5.3-4.3-3.7-4.3-3-4.4-2-7.3-1.7-7-.3-5.7 1-2 1-6 1.7-6.6-.4-2-.6-2.7-2.4-.3-1-2-2-5-7.3-6-6.3-6-3.7-8-2.3-22.4-3.4-8.3-2-1.7 0-3.6-1-.7-.6-2.3-.4-2.7-1.3-1 0-5.3-2.7-3 2-5.4 2.4-9 2.6-1.3 0-5.3 1.7-4.7 2.3-1 0-3.7 2.4-2 .6-2.6 2-2 .7-35 23.3-.7 1-6 3.7-1.7 1.7-5 3z"/></clipPath><filter id="kfb"><feGaussianBlur stdDeviation="1"/></filter><g clip-path="url(#kf)"><g filter="url(#kfb)"><path fill="#363093" d="M663.2 832.2l26 13.3 26.6 10.3 34.4 22.7 68 37 11 .3 17-10.3 32.6-30.7 22.7-13.6 24.3-21.4 33.4-19 .6-8.6-13.6-9.7-20.4-19.3-8.6-5-10.4-2-10.6 0-13.7 3.3-4.7-3-13.3-16.7-6-3.6-40.3-7.7-14.4-5.3-9 0-28.6 10.3-25.7 15.7-76.3 54.3z"/>
<path fill="#353dac" d="M663.2 832.2l8 4.6 1.6 .4 7.7 4.3 1 0 7.7 4 3.3 1 1.3 1 3 .7 1.4 1 1 0 2.6 1.3 4.7 1.3 3.3 1.7 1 0 2 1.3 1 0 8.7 4.7 1.3 1.3 6.7 4 .7 1 3.6 2 .7 1 1.7 .7 2.6 2.3 2.4 1 .6 1 2.4 1 1.3 1.4 3 1.3 .7 1 68.6 37.3 10.4 0 5.3-3.3 2-.7 2.7-2 2-.6 5-3.7 13.6-13.3 19-17.4 1-.3 4.7-3.7 8.7-4.3 8.3-5.3 3.7-3.4 3-2 .6-1 5-4 2.7-3 1-.3 1.7-2 6-4.7 .6-1 7.7-5 17-8.3 9.3-6.3 0-8-4.6-3.4-1.7-.6-.7-1-3-1.7-.6-1-3-2-1.4-1.7-2.3-1.6-7.3-7-5-5.4-4.4-3.6-4.3-3-4.3-2-5-1.4-5.4-.6-10.6 0-5.7 1-6.3 2.3-1.7 0-2-.7-2.7-2.3-.3-1-2-2-5-7.3-6-6.4-6-3.6-8-2.4-22.3-3.3-8.4-2-1.6 0-3.7-1-.7-.7-2.3-.3-2.7-1.3-1 0-2-1.4-3 4.4-2 .3-2.3-.3-1.7-.7-3.3-3.7-6 3-15.7 4.4-.6 .6-7 2.7-6.4 4-2 .7-15.3 10-.7 1-10.6 6.6-1.4 1.4-7 4.3-.6 1-6 3.7-1.7 1.6-5 3-1.3 1.4-8 5.3-1.7 1.7-3 1.6-.7 1-3 1.7-.6 1-7 4.7-.7 1-3 1.6-.7 1-13.6 9.7-1 1z"/>
<path fill="#2c4ac6" d="M663.2 832.2l8 4.6 1.6 .4 7.7 4.3 1 0 7.7 4 3.3 1 1.3 1 3 .7 1.4 1 1 0 2.6 1.3 4.7 1.3 3.3 1.7 1 0 2 1.3 1 0 8.7 4.7 1.3 1.3 6.7 4 .7 1 3.6 2 .7 1 1.7 .7 2.6 2.3 2.4 1 .6 1 2.4 1 1.3 1.4 3 1.3 .7 1 68.6 37.3 10.4 0 5.3-3.3 2-.7 2.7-2 2-.6 5-3.7 13.6-13.3 19-17.4 1-.3 4.7-3.7 8.7-4.3 8.3-5.3 3.7-3.4 3-2 .6-1 5-4 2.7-3 1-.3 1.7-2 6-4.7 .6-1 7.7-5 17-8.3 9.3-6.3 0-8-4.6-3.4-1.7-.6-.7-1-3-1.7-.6-1-3-2-1.4-1.7-2.3-1.6-7.3-7-5-5.4-4.4-3.6-4.3-3-4.3-2-5-1.4-5.4-.6-10.6 0-5.7 1-6.3 2.3-1.7 0-2-.7-2.7-2.3-.3-1-2-2-5-7.3-6-6.4-6-3.6-8-2.4-22.3-3.3-8.4-2-1.6 0-7.4-2.3-1 3.6-1.3 1-2.3 .7-6.7 0-5.7-1.7-1.3-1.6-1.3-3-6.7 2.6-1.3 0-2.4 1-9 2.4-.6 .6-7 2.7-6.4 4-2 .7-15.3 10-.7 1-10.6 6.6-1.4 1.4-7 4.3-.6 1-6 3.7-1.7 1.6-5 3-1.3 1.4-8 5.3-1.7 1.7-3 1.6-.7 1-3 1.7-.6 1-7 4.7-.7 1-3 1.6-.7 1-13.6 9.7-1 1z"/>
<path fill="#115bdc" d="M663.2 832.2l8 4.6 1.6 .4 7.7 4.3 1 0 7.7 4 3.3 1 1.3 1 3 .7 1.4 1 1 0 2.6 1.3 4.7 1.3 3.3 1.7 1 0 2 1.3 1 0 8.7 4.7 1.3 1.3 6.7 4 .7 1 3.6 2 .7 1 1.7 .7 2.6 2.3 2.4 1 .6 1 2.4 1 1.3 1.4 3 1.3 .7 1 68.6 37.3 10.4 0 5.3-3.3 2-.7 2.7-2 2-.6 5-3.7 13.6-13.3 19-17.4 1-.3 4.7-3.7 8.7-4.3 8.3-5.3 3.7-3.4 3-2 .6-1 5-4 2.7-3 1-.3 1.7-2 6-4.7 .6-1 7.7-5 17-8.3 9.3-6.3 0-8-4.6-3.4-1.7-.6-.7-1-3-1.7-.6-1-3-2-1.4-1.7-2.3-1.6-7.3-7-5-5.4-4.4-3.6-4.3-3-4.3-2-5-1.4-5.4-.6-10.6 0-5.7 1-6.3 2.3-1.7 0-2-.7-2.7-2.3-.3-1-2-2-5-7.3-6-6.4-6-3.6-8-2.4-24.3-3.6-6.4-1.7-1.6 0-2.7-1-1.3 3.7-2.4 1.3-4.3 1-7 0-5-1-5-2-1-4-1-.3-4 1.6-1.3 0-2.4 1-9 2.4-.6 .6-7 2.7-6.4 4-2 .7-35 23.3-.6 1-12.7 8.3-1.3 1.4-8 5.3-1.7 1.7-3 1.6-.7 1-3 1.7-.6 1-7 4.7-.7 1-3 1.6-.7 1-6 4-1.6 1.7-6 4-1 1z"/>
<path fill="#0267e1" d="M663.2 832.2l8 4.6 1.6 .4 7.7 4.3 1 0 7.7 4 3.3 1 1.3 1 3 .7 1.4 1 1 0 2.6 1.3 4.7 1.3 3.3 1.7 1 0 2 1.3 1 0 8.7 4.7 1.3 1.3 6.7 4 .7 1 3.6 2 .7 1 1.7 .7 2.6 2.3 2.4 1 .6 1 2.4 1 1.3 1.4 3 1.3 .7 1 68.6 37.3 10.4 0 5.3-3.3 2-.7 2.7-2 2-.6 5-3.7 13.6-13.3 19-17.4 1-.3 4.7-3.7 8.7-4.3 8.3-5.3 3.7-3.4 3-2 .6-1 5-4 2.7-3 1-.3 1.7-2 6-4.7 .6-1 7.7-5 17-8.3 9.3-6.3 0-8-4.6-3.4-1.7-.6-.7-1-3-1.7-.6-1-3-2-1.4-1.7-2.3-1.6-7.3-7-5-5.4-8.7-6.6-6.7-2.7-8-1.3-10.6 0-5.7 1-6.3 2.3-3.7-.7-2.7-2.3-.3-1-2-2-6.7-9.3-6-5.7-4.3-2.3-8-2.4-24.3-3.6-6.4-1.7-1.6 0-1 3.3-3 2-7.4 1.4-7-.4-5-1-5.6-2-2-1.6-.7-3-14.7 4-.6 .6-7 2.7-6.4 4-2 .7-35 23.3-.6 1-12.7 8.3-1.3 1.4-8 5.3-1.7 1.7-3 1.6-.7 1-3 1.7-.6 1-7 4.7-.7 1-3 1.6-.7 1-6 4-1.6 1.7-6 4-1 1z"/>
<path fill="#0870df" d="M663.2 832.2l8 4.6 1.6 .4 7.7 4.3 1 0 7.7 4 3.3 1 1.3 1 3 .7 1.4 1 1 0 2.6 1.3 4.7 1.3 3.3 1.7 1 0 2 1.3 1 0 8.7 4.7 1.3 1.3 6.7 4 .7 1 3.6 2 .7 1 1.7 .7 2.6 2.3 2.4 1 .6 1 2.4 1 1.3 1.4 3 1.3 .7 1 68.6 37.3 10.4 0 5.3-3.3 2-.7 2.7-2 2-.6 5-3.7 13.6-13.3 19-17.4 1-.3 4.7-3.7 8.7-4.3 8.3-5.3 3.7-3.4 3-2 .6-1 5-4 2.7-3 1-.3 1.7-2 6-4.7 .6-1 7.7-5 17-8.3 9.3-6.3 0-8-4.6-3.4-1.7-.6-.7-1-3-1.7-.6-1-3-2-1.4-1.7-2.3-1.6-7.3-7-5-5.4-8.7-6.6-6.7-2.7-8-1.3-10.6 0-5.7 1-6.3 2.3-3.7-.7-2.7-2.3-.3-1-2-2-6.7-9.3-6-5.7-4.3-2.3-8-2.4-24.3-3.6-5-1.4-1 4-2 1.4-4 1.3-4 .7-4.7 0-.3 .3-.4-.3-4.3 0-4.3-.7-7.7-2.3-2.7-1.7-1-3.7-1.6 0-2.4 1-9 2.4-4.6 2.3-1 0-3.7 2.3-2 .7-2.7 2-2 .7-35 23.3-.6 1-6 3.7-1.7 1.6-5 3-1.3 1.4-8 5.3-1.7 1.7-3 1.6-.7 1-3 1.7-.6 1-7 4.7-.7 1-3 1.6-.7 1-6 4-1.6 1.7-6 4-1 1z"/>
<path fill="#0f78db" d="M663.2 832.2l8 4.6 1.6 .4 7.7 4.3 1 0 7.7 4 3.3 1 1.3 1 3 .7 1.4 1 1 0 2.6 1.3 4.7 1.3 3.3 1.7 1 0 2 1.3 1 0 8.7 4.7 1.3 1.3 6.7 4 .7 1 3.6 2 .7 1 1.7 .7 2.6 2.3 2.4 1 .6 1 2.4 1 1.3 1.4 3 1.3 .7 1 68.6 37.3 10.4 0 5.3-3.3 2-.7 2.7-2 2-.6 5-3.7 13.6-13.3 19-17.4 1-.3 4.7-3.7 8.7-4.3 8.3-5.3 3.7-3.4 3-2 .6-1 5-4 2.7-3 1-.3 1.7-2 6-4.7 .6-1 7.7-5 17-8.3 9.3-6.3 0-8-4.6-3.4-1.7-.6-.7-1-3-1.7-.6-1-3-2-1.4-1.7-2.3-1.6-7.3-7-5-5.4-8.7-6.6-6.7-2.7-8-1.3-10.6 0-5.7 1-6.3 2.3-3.7-.7-2.7-2.3-.3-1-2-2-6.7-9.3-6-5.7-4.3-2.3-8-2.4-22.3-3.3-4-1-1 3.7-1 1-4 1.6-9.4 1.7-9.6-.3-6.7-1.4-8-3-.7-.6-1-4-11 3-4.6 2.3-1 0-3.7 2.3-2 .7-2.7 2-2 .7-35 23.3-.6 1-6 3.7-1.7 1.6-5 3-1.3 1.4-8 5.3-1.7 1.7-3 1.6-.7 1-3 1.7-.6 1-7 4.7-.7 1-3 1.6-.7 1-6 4-1.6 1.7-6 4-1 1z"/>
<path fill="#1480d6" d="M663.2 832.2l8 4.6 1.6 .4 7.7 4.3 1 0 7.7 4 3.3 1 1.3 1 3 .7 1.4 1 1 0 2.6 1.3 4.7 1.3 3.3 1.7 1 0 2 1.3 1 0 8.7 4.7 1.3 1.3 6.7 4 .7 1 3.6 2 .7 1 1.7 .7 2.6 2.3 2.4 1 .6 1 2.4 1 1.3 1.4 3 1.3 .7 1 68.6 37.3 10.4 0 5.3-3.3 2-.7 2.7-2 2-.6 5-3.7 13.6-13.3 19-17.4 1-.3 4.7-3.7 8.7-4.3 8.3-5.3 3.7-3.4 3-2 .6-1 5-4 2.7-3 1-.3 1.7-2 6-4.7 .6-1 7.7-5 17-8.3 9.3-6.3 0-8-4.6-3.4-1.7-.6-.7-1-3-1.7-.6-1-3-2-1.4-1.7-2.3-1.6-7.3-7-5-5.4-4.4-3.6-4.3-3-4.3-2-5-1.4-5.4-.6-10.6 0-5.7 1-6.3 2.3-1.7 0-3.3-1.3-2 4-1-.4-.7-.6 3-3.7-1-2-2-2-6.7-9.3-6-5.7-4.3-2.3-8-2.4-24.3-3.6-.4 3.6-2.6 1.7-5 1.7-5 1-12 .3-8.4-1.3-9-3-2-1.4-.6-1-.7-3-8.7 2.4-4.6 2.3-1 0-3.7 2.3-2 .7-2.7 2-2 .7-35 23.3-.6 1-6 3.7-1.7 1.6-5 3-1.3 1.4-8 5.3-1.7 1.7-3 1.6-.7 1-3 1.7-.6 1-7 4.7-.7 1-3 1.6-.7 1-6 4-1.6 1.7-6 4-1 1z"/>
<path fill="#1288d3" d="M663.2 832.2l8 4.6 1.6 .4 7.7 4.3 1 0 7.7 4 3.3 1 1.3 1 3 .7 1.4 1 1 0 2.6 1.3 4.7 1.3 3.3 1.7 1 0 2 1.3 1 0 8.7 4.7 1.3 1.3 6.7 4 .7 1 3.6 2 .7 1 1.7 .7 2.6 2.3 2.4 1 .6 1 2.4 1 1.3 1.4 3 1.3 .7 1 68.6 37.3 10.4 0 5.3-3.3 2-.7 2.7-2 2-.6 5-3.7 13.6-13.3 19-17.4 1-.3 4.7-3.7 8.7-4.3 8.3-5.3 3.7-3.4 3-2 .6-1 5-4 2.7-3 1-.3 1.7-2 6-4.7 .6-1 7.7-5 17-8.3 9.3-6.3 0-8-4.6-3.4-1.7-.6-.7-1-3-1.7-.6-1-3-2-1.4-1.7-2.3-1.6-7.3-7-5-5.4-4.4-3.6-4.3-3-4.3-2-5-1.4-5.4-.6-10.6 0-5.7 1-6.3 2.3-1.7 0-3.3-1.3-2 4-3-1.4-.4-2 3.4-3.6-1.7-1.7-6.7-9.3-6-5.7-4.3-2.3-8-2.4-22-3.3 0 3.7-5 2.6-10 2.4-14 .3-9.3-1.7-9.4-3.3-2.3-2-.7-2.7-.6-.3-5.4 1.7-4.6 2.3-1 0-3.7 2.3-2 .7-2.7 2-2 .7-35 23.3-.6 1-6 3.7-1.7 1.6-5 3-1.3 1.4-8 5.3-1.7 1.7-3 1.6-.7 1-3 1.7-.6 1-7 4.7-.7 1-3 1.6-.7 1-13.6 9.7-1 1z"/>
<path fill="#0792d2" d="M663.2 832.2l8 4.6 1.6 .4 7.7 4.3 1 0 7.7 4 3.3 1 1.3 1 3 .7 1.4 1 1 0 2.6 1.3 4.7 1.3 3.3 1.7 1 0 2 1.3 1 0 8.7 4.7 1.3 1.3 6.7 4 .7 1 3.6 2 .7 1 1.7 .7 2.6 2.3 2.4 1 .6 1 2.4 1 1.3 1.4 3 1.3 .7 1 68.6 37.3 10.4 0 5.3-3.3 2-.7 2.7-2 2-.6 5-3.7 13.6-13.3 19-17.4 1-.3 4.7-3.7 8.7-4.3 8.3-5.3 3.7-3.4 3-2 .6-1 5-4 2.7-3 1-.3 1.7-2 6-4.7 .6-1 7.7-5 17-8.3 9.3-6.3 0-8-4.6-3.4-1.7-.6-.7-1-3-1.7-.6-1-3-2-1.4-1.7-2.3-1.6-7.3-7-5-5.4-4.4-3.6-4.3-3-4.3-2-5-1.4-5.4-.6-10.6 0-5.7 1-6.3 2.3-1.7 0-3.3-1.3-2 4-3-1.4-1.4-1-.6-2.6 4-3-7.4-10-6-5.7-4.3-2.3-8-2.4-19.3-3 0 3.7-1 1-7 2.7-12.4 2.3-4.6 0-.4 .3-.6-.3-.4 .3-7.3-.3-10.3-2-6.7-2.3-3.3-2-1.4-3.7-.6-.3-3.4 1-4.6 2.3-1 0-3.7 2.3-2 .7-2.7 2-2 .7-35 23.3-.6 1-6 3.7-1.7 1.6-5 3-1.3 1.4-8 5.3-1.7 1.7-3 1.6-.7 1-3 1.7-.6 1-7 4.7-.7 1-3 1.6-.7 1-14.6 10.7z"/>
<path fill="#019bd0" d="M814.8 827.5l0 1.3-2 2-3.3 1.4-6 .3-1.7-.7-1-1 0-1 1.4-1.6 4-2 5.3-.4 2.3 .7zM881.8 812.5l.7 1.3 0 2-.7 1.4-3.3 2.6-3.7 1-3 0-3-1-1.6-1.6-.4-1.4 1.4-2.6 4-3 3.3-1 2 0 2.3 .6zM663.2 832.2l8 4.6 1.6 .4 7.7 4.3 1 0 7.7 4 3.3 1 1.3 1 3 .7 1.4 1 1 0 2.6 1.3 4.7 1.3 3.3 1.7 1 0 2 1.3 1 0 8.7 4.7 1.3 1.3 6.7 4 .7 1 3.6 2 .7 1 1.7 .7 2.6 2.3 2.4 1 .6 1 2.4 1 1.3 1.4 3 1.3 .7 1 68.6 37.3 10.4 0 5.3-3.3 2-.7 2.7-2 2-.6 5-3.7 13.6-13.3 19-17.4 1-.3 4.7-3.7 8.7-4.3 8.3-5.3 3.7-3.4 3-2 .6-1 5-4 2.7-3 1-.3 1.7-2 6-4.7 .6-1 7.7-5 17-8.3 9.3-6.3 0-8-4.6-3.4-1.7-.6-.7-1-3-1.7-.6-1-3-2-1.4-1.7-2.3-1.6-7.3-7-5-5.4-4.4-3.6-4.3-3-4.3-2-5-1.4-5.4-.6-10.6 0-5.7 1-6.3 2.3-1.7 0-3.3-1.3-2 4-3-1.4-2.4-1.6-1-3 1.4-1.4 3-1.6-1-2-5.4-7-4.3-4.4-5.3-3.3-8.7-2.7-15.7-2.3-.3 2-1.7 2.3-8.3 3-14 2.7-13.3 .3-10.4-1.6-9-3-2.6-1.4-1.4-1.6-1-2.7-1-.3-4.6 2.3-1 0-3.7 2.3-2 .7-2.7 2-2 .7-15.3 10-.7 1-10.6 6.6-1.4 1.4-7 4.3-.6 1-6 3.7-1.7 1.6-5 3-1.3 1.4-8 5.3-1.7 1.7-3 1.6-.7 1-3 1.7-.6 1-7 4.7-.7 1-3 1.6-.7 1-6 4-1.6 1.7-2 1-5 4z"/>
<path fill="#00a2cb" d="M822.8 825.8l-.3 2-3 3-3.7 2-5 1.7-6 1-7-.3-3.3-1.4-1.7-2 .4-2.3 2.6-3 3.7-2.3 6-2 4.7-.7 7.3 .7 3.3 1.3zM885.8 812.2l.4 2.3-1 2.7-2.7 2.6-4.3 2-3 .7-7.7-.3-3-1.4-2-2.3 0-2.3 1.3-2.4 4.4-4 4.6-2.3 2.7-.7 4.7 .4 2.6 1.3zM959.8 812.2l-4.6-3.4-1.7-.6-.7-1-3-1.7-.6-1-3-2-1.4-1.7-2.3-1.6-7.3-7-5-5.4-4.4-3.6-4.3-3-4.3-2-5-1.4-5.4-.6-10.6 0-5.7 1-6.3 2.3-1.7 0-3.3-1.3-2 4-3-1.4-3.4-2.6-1-2 0-2.4 4-2.6-1.3-2.4-3.7-4.6-4.3-4.4-5.3-3.3-8.7-2.7-13.3-2-.4 2-1.3 2.4-12.3 4-15.4 2.6-14 .4-11.3-2-10-3.7-1.3-1 0-2-.7-2-1-.3-5.3 2.3-6.4 4-2 .7-15.3 10-.7 1-10.6 6.6-1.4 1.4-7 4.3-.6 1-6 3.7-1.7 1.6-5 3-1.3 1.4-8 5.3-1.7 1.7-3 1.6-.7 1-3 1.7-.6 1-7 4.7-.7 1-3 1.6-.7 1-13.6 9.7-1 1 0 7.7 8 4.6 1.6 .4 7.7 4.3 1 0 7.7 4 3.3 1 1.3 1 3 .7 1.4 1 1 0 2.6 1.3 4.7 1.3 3.3 1.7 1 0 2 1.3 1 0 8.7 4.7 1.3 1.3 6.7 4 .7 1 3.6 2 .7 1 1.7 .7 2.6 2.3 2.4 1 .6 1 2.4 1 1.3 1.4 3 1.3 .7 1 68.6 37.3 10.4 0 5.3-3.3 2-.7 2.7-2 2-.6 5-3.7 13.6-13.3 19-17.4 1-.3 4.7-3.7 8.7-4.3 8.3-5.3 3.7-3.4 3-2 .6-1 5-4 2.7-3 1-.3 1.7-2 6-4.7 .6-1 7.7-5 17-8.3 9.3-6.3z"/>
<path fill="#00a8c4" d="M828.8 823.8l0 2.4-3.3 3.6-6.7 3.7-8 2.7-9.6 1.3-6-.3-5.4-1.7-2-1.7-.6-1.3 0-2.3 .6-1.4 4-4 5-3 6.4-2.3 6.3-1 5.3 0 5 .7 6.7 2.3zM888.8 812.2l-.3 3.6-2.7 3.7-3 2-6 2-9.6 .3-3.4-.6-4-2-1.6-2 0-2.4 1.6-3 2-2.3 6.7-5 6-2.3 1.7-.4 4.3 .4 3.7 1.6 2.6 2.4zM959.8 812.2l-4.6-3.4-1.7-.6-.7-1-3-1.7-.6-1-3-2-1.4-1.7-2.3-1.6-7.3-7-5-5.4-4.4-3.6-4.3-3-4.3-2-5-1.4-5.4-.6-10.6 0-5.7 1-6.3 2.3-1.7 0-3.3-1.3-2 4-4.7-2.4-3-3-.7-1.3-.3-3.7 3.3-3.3-1.3-2.3-7.7-7.7-6.3-3-6-1.7-7.3-1.3-2.4 0-2-.7 0 4-.6 .7-14.4 4.3-20 3.7-15 .3-7-1-10.6-3.3-3.4-1.7-3.6-4.3-6.4 4-2 .7-35 23.3-.6 1-12.7 8.3-1.3 1.4-8 5.3-1.7 1.7-3 1.6-.7 1-3 1.7-.6 1-7 4.7-.7 1-3 1.6-.7 1-6 4-1.6 1.7-6 4-1 1 0 7.7 8 4.6 1.6 .4 7.7 4.3 1 0 7.7 4 3.3 1 1.3 1 3 .7 1.4 1 1 0 2.6 1.3 4.7 1.3 3.3 1.7 1 0 2 1.3 1 0 8.7 4.7 1.3 1.3 6.7 4 .7 1 3.6 2 .7 1 1.7 .7 2.6 2.3 2.4 1 .6 1 2.4 1 1.3 1.4 3 1.3 .7 1 68.6 37.3 10.4 0 5.3-3.3 2-.7 2.7-2 2-.6 5-3.7 13.6-13.3 19-17.4 1-.3 4.7-3.7 8.7-4.3 8.3-5.3 3.7-3.4 3-2 .6-1 5-4 2.7-3 1-.3 1.7-2 6-4.7 .6-1 7.7-5 17-8.3 9.3-6.3z"/>
<path fill="#00adbb" d="M835.5 822.5l0 1.7-1 1.6-5.3 4.4-8.7 4.3-9.3 3-11.4 1.7-8-.4-6.6-2-3.4-3.3 .4-4 4.3-4.7 5.3-3.6 4.7-2.4 6-2 6-1 8 0 6.7 1 7.3 2 3.7 2zM891.2 811.2l.3 2.6-1.3 3.7-4.4 4-7.6 3-4 .7-11-.4-3-.6-5-2-1.7-1.4-.7-1.3 0-1.3 1-2 4.4-5 9-6.7 4-2 3.3-1 5.3-.3 3.7 1 4.7 3.6 1.3 1.7zM959.8 812.2l-4.6-3.4-1.7-.6-.7-1-3-1.7-.6-1-3-2-1.4-1.7-2.3-1.6-7.3-7-5-5.4-4.4-3.6-4.3-3-4.3-2-5-1.4-5.4-.6-10.6 0-5.7 1-6.3 2.3-1.7 0-3.3-1.3-2 4-3-1.4-3-2-2-2-1.7-3-.3-3.3 4.3-2.3-1-2-7.7-7.7-4.3-2.3-8-2.4-9-1.3 0 3.7-2.3 1.3-12.4 3.3-19.3 4.4-16 2.3-8.7 0-11-2-9.3-3.7-1.3-2.6-1.7-2-19 12-.7 1-19 12.3-.6 1-12.7 8.3-1.3 1.4-8 5.3-1.7 1.7-3 1.6-.7 1-3 1.7-.6 1-7 4.7-.7 1-3 1.6-.7 1-6 4-1.6 1.7-6 4-1 1 0 7.7 8 4.6 1.6 .4 7.7 4.3 1 0 7.7 4 3.3 1 1.3 1 3 .7 1.4 1 1 0 2.6 1.3 4.7 1.3 3.3 1.7 1 0 2 1.3 1 0 8.7 4.7 1.3 1.3 6.7 4 .7 1 3.6 2 .7 1 1.7 .7 2.6 2.3 2.4 1 .6 1 2.4 1 1.3 1.4 3 1.3 .7 1 68.6 37.3 10.4 0 5.3-3.3 2-.7 2.7-2 2-.6 5-3.7 13.6-13.3 19-17.4 1-.3 4.7-3.7 8.7-4.3 8.3-5.3 3.7-3.4 3-2 .6-1 5-4 2.7-3 1-.3 1.7-2 6-4.7 .6-1 7.7-5 17-8.3 9.3-6.3z"/>
<path fill="#00b2b1" d="M893.8 811.8l-.3 4.4-1.7 2.6-4 3.4-6 2.6-7.6 1.7-11.4 0-11.3-2-6.3 0-5.4 2-5 3-9.6 4.7-9 3.3-9.4 2.3-7 1-12-.3-4.3-1-4.3-2-2.4-2.3-.6-1.4 0-2.6 1-2 5-5 7.6-5 9-4 7.7-1.7 7.3-.3 13.7 1.6 11 2.4 5.3 0 5-2 11.4-8.7 7-4.7 4.3-2 4.7-1.3 5.6 .3 5.7 3 4.3 5zM959.8 812.2l-4.6-3.4-1.7-.6-.7-1-3-1.7-.6-1-3-2-1.4-1.7-2.3-1.6-7.3-7-5-5.4-4.4-3.6-4.3-3-4.3-2-5-1.4-5.4-.6-10.6 0-5.7 1-6.3 2.3-1.7 0-3.3-1.3-2 4-3-1.4-4.7-3.3-2.7-3.7-1-2.6 0-2.7 3.7-3.3-5-5.4-6-3.6-8-2.4-5.3-.6-1 3.6-2 1-16.7 3.7-4 1.3-3 .4-26 7-9 1.6-9.7 .4-.3-.4-3.3 0-9-2-6.7-3-3-4.6-11 7-.7 1-10.6 6.6-1.4 1.4-7 4.3-.6 1-6 3.7-1.7 1.6-5 3-1.3 1.4-8 5.3-1.7 1.7-3 1.6-.7 1-3 1.7-.6 1-7 4.7-.7 1-3 1.6-.7 1-6 4-1.6 1.7-6 4-1 1 0 7.7 8 4.6 1.6 .4 7.7 4.3 1 0 7.7 4 3.3 1 1.3 1 3 .7 1.4 1 1 0 2.6 1.3 4.7 1.3 3.3 1.7 1 0 2 1.3 1 0 8.7 4.7 1.3 1.3 6.7 4 .7 1 3.6 2 .7 1 1.7 .7 2.6 2.3 2.4 1 .6 1 2.4 1 1.3 1.4 3 1.3 .7 1 68.6 37.3 10.4 0 5.3-3.3 2-.7 2.7-2 2-.6 5-3.7 13.6-13.3 19-17.4 1-.3 4.7-3.7 8.7-4.3 8.3-5.3 3.7-3.4 3-2 .6-1 5-4 2.7-3 1-.3 1.7-2 6-4.7 .6-1 7.7-5 17-8.3 9.3-6.3z"/>
<path fill="#00b6a7" d="M896.5 812.2l0 3-.7 2-3.3 4-6 3.6-5.7 2-7.3 1.4-12 0-5-.7-10.7 .3-6 1.7-20 8.3-14 4-11.6 1.4-11-.7-6-1.7-3.4-1.6-3.3-3-.7-1.4 0-2.6 .7-1.7 4.7-5 5.6-4 7.4-4.3 8.6-4 4.4-1.4 6.6-1 11 .4 17 2.3 7.7-.3 7-2.7 16.3-11 4-2 5.4-1.7 5 0 3.3 1 2.7 1.7 5.3 5.3 3 5zM959.8 812.2l-4.6-3.4-1.7-.6-.7-1-3-1.7-.6-1-3-2-1.4-1.7-2.3-1.6-7.3-7-5-5.4-4.4-3.6-4.3-3-4.3-2-5-1.4-5.4-.6-10.6 0-5.7 1-6.3 2.3-1.7 0-3.3-1.3-2 4-3-1.4-4-2.6-3-3-2.7-5-.3-3.7 3.3-3.7-4.7-4.3-4.3-2.3-8-2.4-1.3 0-1.4 3.4-1 .6-20 4-15 4-10.6 3.7-18 7.7-9 2.3-11.4 .7-11-1.7-9.3-3.3-3.7-4.7-18 12-.6 1-6 3.7-1.7 1.6-5 3-1.3 1.4-8 5.3-1.7 1.7-3 1.6-.7 1-3 1.7-.6 1-7 4.7-.7 1-3 1.6-.7 1-6 4-1.6 1.7-6 4-1 1 0 7.7 8 4.6 1.6 .4 7.7 4.3 1 0 7.7 4 3.3 1 1.3 1 3 .7 1.4 1 1 0 2.6 1.3 4.7 1.3 3.3 1.7 1 0 2 1.3 1 0 8.7 4.7 1.3 1.3 6.7 4 .7 1 3.6 2 .7 1 1.7 .7 2.6 2.3 2.4 1 .6 1 2.4 1 1.3 1.4 3 1.3 .7 1 68.6 37.3 10.4 0 9.3-5.3-2.7-5.3 0-1.7 2-2.3 3.7-1.7 3-.3 1.3 .3 3.4 3.3 10.6-10.6 3-2.4 14-13.3 4.7-3.7 6.7-4 2-.6 1.6-1.4 1.4-.3 8.3-5.3 3.7-3.4 3-2 .6-1 5-4 2.7-3 1-.3 1.7-2 6-4.7 .6-1 7.7-5 17-8.3 9.3-6.3z"/>
<path fill="#00ba9b" d="M899.5 812.8l-.3 4.4-1.4 2.3-2.3 2.3-4.3 3-8.4 3.7-8 1.7-6 0-.3 .3-.3-.3-.4 .3-.3-.3-17-.4-6.7 1-8.6 2.7-18.4 7.3-15.3 4.4-7.7 1-10 0-9.3-1.7-3-1-5-2.7-3.3-3-1.4-2.6 0-1.7 1-2.3 4-4 12.7-8 15.3-8 4-1.4 6.7-1.3 9.3 0 16.7 2 11.7-.3 5.3-1.7 4-2 14.7-9.7 4.6-2.3 5.4-1.7 5.3 .4 3.7 1.6 2.3 1.7 6.7 7.3 3.6 6.7zM951.2 806.2l-5-3.7-1.4-1.7-2.3-1.6-7.3-7-5-5.4-4.4-3.6-4.3-3-4.3-2-5-1.4-5.4-.6-13.6 .3-2.7 .7 .7 1.6 0 2.7-.4 .3-.3-.3-.3 .7-.7-.4-.3 .7-1-1 0-.7 0 1.7-.4 .3-1-1 0-.6 0 1.6-.6 .4-1-1-.7-3 0 4-.3 .3-5.4-.3-5-2.4-3-2-3.6-3.3-2-2.3-2.4-4.7-.6-4 3.3-3.7-2-1.3-.7-1-3.6-2-6.4-2-1.6 4-11.7 1.3-7.3 1.4-1.4 .6-3 .4-1.3 .6-3 .4-15.3 5-9 4.3-12.4 8-4.6 2.3-5.4 1.7-9 1.3-12.6 .7-.4 .3-19 .4-.3-.4-4 0-4-1-1.3-.6-3.4-4-2 1.3-.6 1-6 3.7-1.7 1.6-5 3-1.3 1.4-8 5.3-1.7 1.7-3 1.6-.7 1-3 1.7-.6 1-7 4.7-.7 1-3 1.6-.7 1-13.6 9.7-1 1 0 7.7 8 4.6 1.6 .4 7.7 4.3 1 0 7.7 4 3.3 1 1.3 1 3 .7 1.4 1 1 0 2.6 1.3 4.7 1.3 3.3 1.7 1 0 2 1.3 1 0 8.7 4.7 1.3 1.3 6.7 4 .7 1 3.6 2 .7 1 1.7 .7 2.6 2.3 2.4 1 .6 1 2.4 1 1.3 1.4 3 1.3 .7 1 68.6 37.3 10.4 0 4-2.3-2-4-2.4-2.3-.6-1.4 0-1.6 .6-1.7 3.7-3.7 5.3-2.6 7-1.7 5.7 .3 3.3 3.4 25-23.4 1-.3 4.7-3.7 8.7-4.3 8.3-5.3 3.7-3.4 3-2 .6-1 5-4 2.7-3 1-.3 1.7-2 6-4.7 .6-1 7.7-5 16.3-8-2-4-1.6-1.6-1-2 0-3 1.6-3.4 2-2z"/>
<path fill="#01bd8f" d="M903.5 814.5l0 2-1 2.7-4 4-8 5.3-6 3-4.3 1.3-5.4 .7-9.3-.3-4.7-.7-12 0-6.3 1-15.7 5.3-23 10.4-10.3 3-3 0-2.7 .6-8-.3-9-2.3-8-4-5.6-4-3.7-3.4-2-3.3 .3-3.3 2.4-2.4 3-2 20-10 8-4.6 11.3-5.4 7-1.6 10.7 0 17 2 7.6 0 4.4-.7 6-2 4.6-2.3 15.4-10 5.3-2.7 4.7-1.3 2 0 3.6 1.3 4.4 3.3 3 3 7.6 10 2.4 4zM947.8 803.5l-5.3-4.3-12.3-12.4-4.4-3.6-4.3-3-4.3-2-5-1.4-5.4-.6-13.6 .3-2.4 .7 1.7 3.3-.3 1-.4-.3-.6 1-6 2.3-1.7 .3-4-.3-8-5-6.3-5.7-3-4.6-2.7-5.7-2.3-2.3-2.7-1-3-.4-9.7 .4-16.3 3-12.3 4-11 5.6-13.4 10.7-6.6 3-6.7 1.3-21.3 2-13.7 2.4-8.7 2-1.3 .6-1.3 0-23.7 7-3.3 0-3-4-2.7 2.4-3 1.6-.7 1-3 1.7-.6 1-7 4.7-.7 1-3 1.6-.7 1-6 4-1.6 1.7-6 4-1 1 0 7.7 8 4.6 1.6 .4 7.7 4.3 1 0 7.7 4 3.3 1 1.3 1 3 .7 1.4 1 1 0 2.6 1.3 4.7 1.3 3.3 1.7 1 0 2 1.3 1 0 8.7 4.7 1.3 1.3 6.7 4 .7 1 3.6 2 .7 1 1.7 .7 2.6 2.3 2.4 1 .6 1 2.4 1 1.3 1.4 3 1.3 .7 1 6.6 3.3 2.7 2 9.7 5.4 6.6 3 34.4 19 8 4 2-3.7-1.4-3.7 .4-3.6 2-3 3.6-3 9-4.4 3-.6 1-.7 9.4-2 3.6 0 .4-.3 3 .3 3 4.3 19.6-18.3 4.7-3.7 6.7-4 2-.6 1.6-1.4 1.4-.3 8.3-5.3 3.7-3.4 3-2 .6-1 5-4 2.7-3 1-.3 1.7-2 6-4.7 .6-1 7.7-5 10.7-5-1.4-4.3-2-1.7-2.3-3-1-2.3 0-2 2.7-4.7 6-5.6z"/>
<path fill="#13be83" d="M944.8 800.8l-2.3-1.6-12.3-12.4-4.4-3.6-5.6-3.7-3-1.3-7.4-1.7-3-.3-13 .3 1 4-6.3 4-1.3 1.3 0 1.7 21.3 26.3 1 2 0 1.4-1.3 2.3-3.4 3-10 7.3-6 6-1.6 2.4-3.7 3.3-5-.3-9.3-3.7-7.4-1.7-4.6-.6-10 0-6 1-7.7 2.3-9.3 4.3-4.7 3-3.3 2.7-2.7 3-2 4-.7 3.7-.3 7.6-3.3 11.7 0 4.3 1.3 4 1.3 2 2.4 2 2.3 1.4 2.7 .6 8-.3 21.6-5.7 7.7-1.3 6 .3 3.3 3 15-14 1-.3 4.7-3.7 5.7-2.6 7-4.4 0-.6-2.7-4.4-3-2-3.7-1.6-1.6-1.7 0-1.7 .6-1 3-.3 5.4 2 7 1.3 3.3 4 8.3-7 2.7-3 1-.3 4.7-4.7 3-2 .6-1 7.7-5 6-2.6-1.3-4.7-7.7-8.3-.7-1.4 0-1.6 2.4-3.4 6.3-5.3zM875.5 784.8l-3.7-4.6-3-2.4-6-6.3-4-6.3-2-2-3-1.7-3.3-.7-12.3 .4-9 1.6-7.7 2-6.3 2.4-7.7 4-6.3 4.6-8.7 8.7-5.7 3.3-6 1.4-20.6 1.6-12 2-14 4-11.7 5.7-3.3 2.3-3.7 3.7-2.3 4.3 0 4.4 .6 2 2 3 4.7 4.6 .3 1.7-2 1.3-12.6 3-10 4-5.7 4-2 4.4 3 1.3 1 0 1.3 1 3 .7 1.4 1 1 0 10.6 4.3 1 0 2 1.3 1 0 8.7 4.7 1.3 1.3 6.7 4 .7 1 3.6 2 .7 1 1.7 .7 2.6 2.3 2.4 1 .6 1 7 4 1.7-3 4.7-3.6 3.3-3.7 2-4.3 0-5-.7-2-2.6-4.4-6.4-6.3-7.3-5.7-10.7-7-2-2 .7-1.3 2.3-1 16.4-3.3 12.3-4 16-7.4 13-7.3 8-2.7 10-.3 19.7 2.3 8.3 0 5.7-1 6.3-2.3 8-4.7 15.3-10.3 1.4-1.3z"/>
<path fill="#3fbf7a" d="M890.5 867.8l-2-4-2.7-1.3-3-.7-10-.3-2-1.7-.3-.6 0-2.7 .7-2.7-.4-5.6-1.3-3-4-3.7-3.3-1.7-5.7-1.6-2.3-.4-11 .4-7.4 2-5.6 2.6-4.7 3.4-3 3.6-1.7 4.4-.6 11.3-3.7 10.3 0 4.7 1.3 3 1.7 1.7 1.7 1 3.3 1 6.3 0 5.7-1 21.3-6.7 3.7 0 3.7 .7 4 3.6 9.6-9 1-.3 4.7-3.7zM698.5 845.5l-1.3 2.7 .3 .6 5.3 1.7 2.7 1.3 1 0 9.3 4 6.7 3.7 1.3 1.3 6.7 4 .7 1 1.6 .7 2 1.3 .7 1 1.7 .7 4 3 2-4 4.3-3.3 1.7-2 1.6-3.7-.3-5.7-3.3-5.3-3.7-3.3-4-2.7-4.7-2.3-4-1.4-6.6-1.3-8 0-4.4 .7-4.6 1.3-3.7 1.7-2.7 1.6zM925.5 821.8l-4.7-1.3-5 .3-3 1-8 4.4-4.6 4-2.7 4-.7 3.6 .4 1.7 1.3 2.3 1.7 1.7 3 1.7 7.6 2 3.4 3.3 2.3-2.7 1-.3 1.7-2 6-4.7 .6-1 7.7-5 3.3-1.6-4.3-6.4-2-2zM890.8 785.5l0 1.7 1.4 2.6 9.3 12 6.3 6 3.7 2.4 4 1.6 6 .4 5.3-1.7 7.4-4.3 8-7 0-.7-16.4-15.3-4.3-3-6.7-2.7-8-1.3-10 0 0 3.6-4 3zM871.8 783.5l-.6-2-1.7-2.3-6.3-6.7-4-5.3-3.4-3.4-3.3-1.6-3.3-.7-9.7 0-10.3 1.7-1 .6-4 .7-7.4 2.7-8.3 4.6-7.3 6.7-7.4 8.7-4 2.3-6.3 1.3-14.7 .4-14 1.6-11 2.7-8.6 3.3-6.4 3.7-4.3 4-2 4 0 2.3 1 2.4 2.7 2.6 4.6 2.4 6 1.3 11 0 4.7-.7 9.7-2.3 9-3.3 10-5 9.6-6 7-3 10.7-.4 20.3 2.7 10.7 0 6-1.3 8-3.7 8.3-5.3 6.7-5 2.3-2.4z"/>
<path fill="#78bf71" d="M882.2 865.8l-5.4-.3-3.6 1-2.7 1.3-2.3 2-.7 1.4 0 2 1.3 1.3 2.4 1 3.3 3.3 4.3-4 7-4.6-1.3-2.4zM705.2 846.8l-2 4 3.3 1 3.3 1.7 1 0 2 1.3 1 0 8.7 4.7 1.3 1.3 1.7 .7 8 5.7 4-3.7 3-2 2.7-4 .3-2-.3-2.3-1.7-3.4-3.3-3.3-2-1.3-6-2.7-7.4-1.3-8.3 .6-3.3 1-3.4 1.7zM860.8 844.2l-4-2.4-3.3-1-8.3-.3-7.7 2-3.3 1.7-2.7 2-2.7 3.3-1 2.7-.3 11.3-4.3 10.7 0 3.3 1.3 2.7 2.7 1.6 2.3 .7 5 0 8.7-2.3 6.3-3.7 3.3-3.3 1.4-2 3-6.7 4.6-7 1.7-3.7 .3-4.6-1-2.7zM913.2 825.2l-4.7 2.3-3 2.7-1.3 2-.7 2.3 .3 2 .7 1.3 2.3 2 3.4 1.4 6.3 .6 3.3 3.4 2.4-2.4 3-2 .6-1 6.4-4-2-4-.7-.3-1.3-3.3-2.4-2-4-1.7-6 0zM893.8 784.8l0 2 1 2.7 3.4 5 6.6 7.3 4.7 3.4 5 2 8 .3 5.3-1.7 4.7-2.6 7-6.7-9.3-9.7-4.4-3.6-4.3-3-6.7-2.7-8-1.3-8.6 0 0 4-3.4 2.6zM868.8 780.8l-3.3-5.3-3.3-3.3-3.4-4.4-3.6-3.3-2.7-1.3-6.3-1.4-4.4 0-.3 .4-.7-.4-11.6 1.7-1 .7-1.4 0-7 2.3-5.3 2.7-4.7 3-6 6-6.6 10.3-4 3.7-2.4 .6-22-.6-10.3 1-7 1.3-9.3 3-9 5-3.4 3.7-1 2.6 0 1.7 .7 1.7 2.3 2.3 3.4 1.7 7.6 1.6 7.4 0 11.3-2 10.3-3.6 10-5.4 11.7-8.6 4-1.4 5.7 .4 17.6 3.3 9.4 1 7 0 6-1 8.6-3.3 11-7.4 5.7-5.6z"/>
<path fill="#a6be6a" d="M711.2 849.2l0 1.6-1 2.7 2.6 1.3 1 0 8.7 4.7 5 3.7 3.3-3.7 2.4-1.3 2-2 .6-2-1-3.7-2.6-2.7-5.4-2.3-1.6-.3-8 .3-2.7 1zM854.8 846.2l-4-2-5.6-.4-4 1-2.7 1.4-2 1.6-1.3 2-.7 2.4 .3 4.3 1 3.3 0 2.7-1.6 4-2.7 4-.7 2.3 .4 2 1 1 1.6 .7 4.7-.3 3.7-2 1.6-1.7 1.7-3 2-5.7 6.3-7 2.4-3.6 .6-3.4-.6-2zM911.5 831.8l0 1.7 1.3 1.3 3.7 .7 2.7-.7 1.6-1 1.4-2 0-1.3-1.7-1.7-1-.3-3.7 0-2.3 1zM785.5 796.8l-.7-1-4-1.6-6.6-1-8.7 0-10 1.3-7.3 2-8 3.7-2 1.3-3 3-1 2.3 0 1.7 1.3 2.3 4 2.4 3.7 1 10 .3 6.3-1 9-2.7 9.3-4.6 3-2 3.7-3.7 1-1.7zM896.5 784.2l0 2.6 .7 2 4 6 6 5.7 4 2.3 3.3 1 7 .4 5-1.4 5.7-3.3 5.3-5-7.3-7.7-4.4-3.6-4.3-3-6.7-2.7-8-1.3-6.6 0 0 3.3-2.7 2.7zM866.5 779.5l-1-2.3-3.7-5-5.3-5.7-2.3-1.7-3.7-1.6-3.7-.7-3.3 0-.3-.3-6 .6-.7-.3-3.7 1-3.6 .3-6.4 2-7 3.4-4.6 3.3-3.7 3.7-3 4.3-2.7 6.3-.3 3.4 .7 1.6 2 1.7 9.6 3.3 13.7 2.4 4.7 0 .3 .3 .3-.3 6 0 3.7-.7 6.7-2.3 8-4.7 4.3-3.3 3.3-3.4 1.7-3z"/>
<path fill="#babd63" d="M780.2 797.8l-1.4-1.6-1.3-.7-5.7-1.3-8.6 0-8.4 1.3-7 2.3-5.3 3-2.7 2.7-.6 3 .3 1 1.7 1.7 5.6 2 6.4 .3 7.3-1 7.7-2.3 5-2.4 4-2.6 1.6-1.7 1.4-2.3zM898.8 784.2l.4 3.3 1.3 2.7 3 4 5.3 4.3 4.4 2 3.6 .7 3.7 0 4.3-1 4.4-2.4 5.6-5.6 0-.7-4.6-4.7-8.7-6.6-4.3-2-5-1.4-5.4-.6-4.6 0 0 3.6-2.7 2.7zM864.2 777.5l-1.4-2.7-3.3-4.3-3.7-3.7-2-1.3-6-2.3-11.3-.4-9.7 2-3.6 1.4-8 4.3-5 4.7-2.4 3.3-2 4.3-.3 5 1 2 1.7 1.7 6.6 3 10.7 2.3 12.7 .4 9.6-2.7 8.7-5 4-3.3 3-3.7 .7-1.3z"/>
<path fill="#cbbb5c" d="M775.2 798.8l-.4-1-1.3-1.3-3-1-8-.3-6 1-5.3 1.6-4.7 2.7-2 2.3 0 2.4 1.3 1.3 2 1 3.4 .7 5.6 0 4-.7 4.7-1.3 5.7-2.7 3.3-3zM901.5 783.5l.3 4 2.7 4.3 4.3 3.7 5.7 2.3 5.3 .4 5-1.4 2.7-1.6 5.3-5.4-2.6-3-8.7-6.6-4.3-2-5-1.4-7-.6-.7 3.6-2.7 2.7zM862.2 776.5l-1-2.3-2.7-3.7-3-3-5-3-6-1.3-8 0-9.7 2-6.6 3-4 2.6-4.4 4.4-1.3 2-1.7 3.6-.3 4.4 1 2.6 2 2 6.3 3 9.4 2 10 .4 8.3-2 6.3-3 3-2 6.4-6.4 1-2.3z"/>
<path fill="#dbba55" d="M768.8 798.5l-1-1-2.3-.7-4.7 0-3.6 .7-4.7 2-1.7 1.7 0 1.6 2 1.4 1.7 .3 6-.3 4.3-1.4 2.4-1.3 1.6-1.7zM904.2 783.2l0 3.3 2 3.3 4.3 3.7 5.7 1.7 3.3 0 2.7-.7 2.6-1.3 2.4-2.4 4-2.3-1-1.7-8.7-6.6-4.3-2-5-1.4-4-.3-1 3.3-2 1.7zM859.8 774.5l-1.6-3-3-3.3-6.4-3.7-4.6-1-10.7 .3-8 2.4-8 4.6-4.7 5.4-1.6 4.6 0 2.7 1.3 3 1.3 1.3 6.7 3.4 8 1.6 6.3 .4 2.7-.7 2.7 0 6.3-2 4-2 4.3-3 3.4-3.3 2-4z"/>
<path fill="#ebb94d" d="M910.5 776.8l-.7 3.7-2 1.7-.6 1.3 0 2 .6 1.7 3 3 3 1.3 5 .3 3.4-1.3 2.3-2.3 2.3-4-5.3-4-4.3-2-5-1.4zM857.8 773.8l-1.3-2.6-3-3.4-4.7-2.6-5.6-1.4-10 .4-7.4 2.3-4.3 2.3-3 2.4-4 5.3-.7 2 0 4 1 2 2 2 3.7 2 3.7 1.3 6 1 9.3-.3 6.3-2 4-2 3.4-2.3 2.6-2.7 1.7-2.7 .7-2.3z"/>
<path fill="#f9bb43" d="M916.2 778.2l-1.7 3.3-2.7 2 0 1.7 2 2 4 .3 1.7-1.3 2.7-5.4-2-1.3-3-1.3zM855.8 773.5l-1.3-3-1.3-1.7-5.4-3.3-5.6-1.3-8.7 .3-7 2.3-5 3-3.7 4-1.3 2.7-.3 4 1.3 2.7 1.7 1.6 3.6 2 7 1.7 8 0 8-2.3 5-3 4-4.4 1-2.3z"/>
<path fill="#ffc436" d="M853.5 772.2l-1-2-2.7-2.7-5-2.3-7.3-.7-6 1-5 2-5 3.7-2.7 4.6-.3 1.7 .3 2 1 2 1.4 1.3 3.6 2 5 1.4 8.4 0 6.6-2 5.4-3.4 1.3-1.3 2-3.7z"/>
<path fill="#fcce2d" d="M850.8 770.8l-2.6-3-3-1.6-2.4-.7-6.6-.3-3.4 .6-4 1.4-3.3 2-3 3-1 2-.3 3 1 2.3 1.6 1.7 2.4 1.3 5 1.3 8.3-.3 6-2.3 3.7-3 2-3.4z"/>
<path fill="#f7d925" d="M848.5 771.2l-.7-1.4-2-2-4-1.6-3.3 0-.3-.4-.4 .4-.6-.4-2.7 .4-3.3 1-3.7 2-2.3 2.3-1 2 0 3 1.6 2.3 5.7 2.4 8-.4 4.3-1.6 4-3.7 .7-1.7z"/>
<path fill="#f5e51d" d="M827.2 773.5l.3 1.7 2 2 2.7 1 4 .3 3.3-.7 3.3-1.6 2-2 .7-2.7-.7-1.7-1.3-1.3-2-1-6.3-.3-5 2-2.4 2.3z"/>
<path fill="#f6f313" d="M832.2 771.8l0 1 1 1 1.6 .7 2 0 3-1.3 1-1.7-.3-1-1.3-1-3.7-.3-1.7 .6z"/></g></g></g>
</g>
</svg>
</body></html>
